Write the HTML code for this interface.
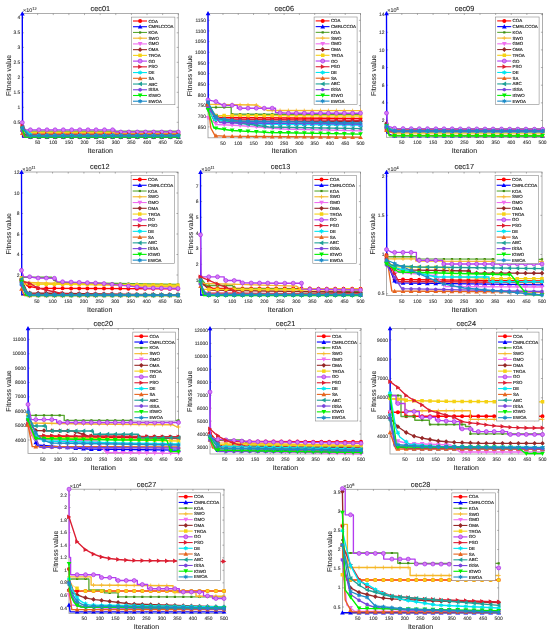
<!DOCTYPE html>
<html><head><meta charset="utf-8"><style>
html,body{margin:0;padding:0;background:#fff;}
svg{display:block;}
text{text-rendering:geometricPrecision;font-family:"Liberation Sans",Arial,sans-serif;fill:#333;}
.tk{font-size:4.9px;fill:#333;stroke:#333;stroke-width:0.1px;}
.sup{font-size:3.9px;}
.ti{font-size:7.3px;fill:#222;stroke:#222;stroke-width:0.1px;}
.lb{font-size:7px;fill:#2a2a2a;stroke:#2a2a2a;stroke-width:0.08px;}
.ex{font-size:5.4px;}
.lg{font-size:4.4px;fill:#1a1a1a;stroke:#1a1a1a;stroke-width:0.15px;}
</style></head><body>
<svg width="550" height="634" viewBox="0 0 550 634">
<rect width="550" height="634" fill="#fff"/>
<rect x="22.3" y="13.5" width="156.0" height="123.69999999999999" fill="none" stroke="#9a9a9a" stroke-width="0.8"/>
<path d="M37.62 137.2v-1.6M37.62 13.5v1.6" stroke="#666" stroke-width="0.5"/>
<text x="37.62" y="144.25" class="tk" text-anchor="middle">50</text>
<path d="M53.25 137.2v-1.6M53.25 13.5v1.6" stroke="#666" stroke-width="0.5"/>
<text x="53.25" y="144.25" class="tk" text-anchor="middle">100</text>
<path d="M68.88 137.2v-1.6M68.88 13.5v1.6" stroke="#666" stroke-width="0.5"/>
<text x="68.88" y="144.25" class="tk" text-anchor="middle">150</text>
<path d="M84.51 137.2v-1.6M84.51 13.5v1.6" stroke="#666" stroke-width="0.5"/>
<text x="84.51" y="144.25" class="tk" text-anchor="middle">200</text>
<path d="M100.14 137.2v-1.6M100.14 13.5v1.6" stroke="#666" stroke-width="0.5"/>
<text x="100.14" y="144.25" class="tk" text-anchor="middle">250</text>
<path d="M115.77 137.2v-1.6M115.77 13.5v1.6" stroke="#666" stroke-width="0.5"/>
<text x="115.77" y="144.25" class="tk" text-anchor="middle">300</text>
<path d="M131.41 137.2v-1.6M131.41 13.5v1.6" stroke="#666" stroke-width="0.5"/>
<text x="131.41" y="144.25" class="tk" text-anchor="middle">350</text>
<path d="M147.04 137.2v-1.6M147.04 13.5v1.6" stroke="#666" stroke-width="0.5"/>
<text x="147.04" y="144.25" class="tk" text-anchor="middle">400</text>
<path d="M162.67 137.2v-1.6M162.67 13.5v1.6" stroke="#666" stroke-width="0.5"/>
<text x="162.67" y="144.25" class="tk" text-anchor="middle">450</text>
<path d="M178.30 137.2v-1.6M178.30 13.5v1.6" stroke="#666" stroke-width="0.5"/>
<text x="178.30" y="144.25" class="tk" text-anchor="middle">500</text>
<path d="M22.3 122.30h1.6M178.3 122.30h-1.6" stroke="#666" stroke-width="0.5"/>
<text x="20.30" y="123.90" class="tk" text-anchor="end">0.5</text>
<path d="M22.3 107.30h1.6M178.3 107.30h-1.6" stroke="#666" stroke-width="0.5"/>
<text x="20.30" y="108.90" class="tk" text-anchor="end">1</text>
<path d="M22.3 92.30h1.6M178.3 92.30h-1.6" stroke="#666" stroke-width="0.5"/>
<text x="20.30" y="93.90" class="tk" text-anchor="end">1.5</text>
<path d="M22.3 77.30h1.6M178.3 77.30h-1.6" stroke="#666" stroke-width="0.5"/>
<text x="20.30" y="78.90" class="tk" text-anchor="end">2</text>
<path d="M22.3 62.30h1.6M178.3 62.30h-1.6" stroke="#666" stroke-width="0.5"/>
<text x="20.30" y="63.90" class="tk" text-anchor="end">2.5</text>
<path d="M22.3 47.40h1.6M178.3 47.40h-1.6" stroke="#666" stroke-width="0.5"/>
<text x="20.30" y="49.00" class="tk" text-anchor="end">3</text>
<path d="M22.3 32.80h1.6M178.3 32.80h-1.6" stroke="#666" stroke-width="0.5"/>
<text x="20.30" y="34.40" class="tk" text-anchor="end">3.5</text>
<path d="M22.3 17.80h1.6M178.3 17.80h-1.6" stroke="#666" stroke-width="0.5"/>
<text x="20.30" y="19.40" class="tk" text-anchor="end">4</text>
<text x="23.10" y="12.10" class="tk ex">×10<tspan class="sup" dy="-1.8">12</tspan></text>
<clipPath id="ccec01"><rect x="17.3" y="8.5" width="166.0" height="133.7"/></clipPath>
<g clip-path="url(#ccec01)">
<path d="M22.3 127.0L26.7 134.0L178.3 134.2" fill="none" stroke="#ff0000" stroke-width="1.35" stroke-linejoin="round"/>
<path d="M20.3 127.0a2.00 2.00 0 1 0 4.0 0a2.00 2.00 0 1 0 -4.0 0M28.4 134.0a2.00 2.00 0 1 0 4.0 0a2.00 2.00 0 1 0 -4.0 0M36.9 134.0a2.00 2.00 0 1 0 4.0 0a2.00 2.00 0 1 0 -4.0 0M45.0 134.0a2.00 2.00 0 1 0 4.0 0a2.00 2.00 0 1 0 -4.0 0M53.1 134.0a2.00 2.00 0 1 0 4.0 0a2.00 2.00 0 1 0 -4.0 0M61.3 134.0a2.00 2.00 0 1 0 4.0 0a2.00 2.00 0 1 0 -4.0 0M69.7 134.1a2.00 2.00 0 1 0 4.0 0a2.00 2.00 0 1 0 -4.0 0M77.8 134.1a2.00 2.00 0 1 0 4.0 0a2.00 2.00 0 1 0 -4.0 0M86.0 134.1a2.00 2.00 0 1 0 4.0 0a2.00 2.00 0 1 0 -4.0 0M94.1 134.1a2.00 2.00 0 1 0 4.0 0a2.00 2.00 0 1 0 -4.0 0M102.5 134.1a2.00 2.00 0 1 0 4.0 0a2.00 2.00 0 1 0 -4.0 0M110.6 134.1a2.00 2.00 0 1 0 4.0 0a2.00 2.00 0 1 0 -4.0 0M118.8 134.1a2.00 2.00 0 1 0 4.0 0a2.00 2.00 0 1 0 -4.0 0M126.9 134.1a2.00 2.00 0 1 0 4.0 0a2.00 2.00 0 1 0 -4.0 0M135.3 134.1a2.00 2.00 0 1 0 4.0 0a2.00 2.00 0 1 0 -4.0 0M143.5 134.2a2.00 2.00 0 1 0 4.0 0a2.00 2.00 0 1 0 -4.0 0M151.6 134.2a2.00 2.00 0 1 0 4.0 0a2.00 2.00 0 1 0 -4.0 0M159.7 134.2a2.00 2.00 0 1 0 4.0 0a2.00 2.00 0 1 0 -4.0 0M168.2 134.2a2.00 2.00 0 1 0 4.0 0a2.00 2.00 0 1 0 -4.0 0M176.3 134.2a2.00 2.00 0 1 0 4.0 0a2.00 2.00 0 1 0 -4.0 0" fill="#ff0000"/>
<path d="M22.3 13.5L22.6 137.0L178.3 137.0" fill="none" stroke="#0000ff" stroke-width="1.35" stroke-linejoin="round"/>
<path d="M22.3 11.2l2.4 4.2h-4.7zM30.4 134.7l2.4 4.2h-4.7zM38.9 134.7l2.4 4.2h-4.7zM47.0 134.7l2.4 4.2h-4.7zM55.1 134.7l2.4 4.2h-4.7zM63.3 134.7l2.4 4.2h-4.7zM71.7 134.7l2.4 4.2h-4.7zM79.8 134.7l2.4 4.2h-4.7zM88.0 134.7l2.4 4.2h-4.7zM96.1 134.7l2.4 4.2h-4.7zM104.5 134.7l2.4 4.2h-4.7zM112.6 134.7l2.4 4.2h-4.7zM120.8 134.7l2.4 4.2h-4.7zM128.9 134.7l2.4 4.2h-4.7zM137.3 134.7l2.4 4.2h-4.7zM145.5 134.7l2.4 4.2h-4.7zM153.6 134.7l2.4 4.2h-4.7zM161.7 134.7l2.4 4.2h-4.7zM170.2 134.7l2.4 4.2h-4.7zM178.3 134.7l2.4 4.2h-4.7z" fill="#0000ff"/>
<path d="M22.3 128.0L25.1 131.0L178.3 131.2" fill="none" stroke="#5aa832" stroke-width="1.35" stroke-linejoin="round"/>
<path d="M21.2 126.9h2.2v2.2h-2.2zM29.3 129.9h2.2v2.2h-2.2zM37.8 129.9h2.2v2.2h-2.2zM45.9 129.9h2.2v2.2h-2.2zM54.0 130.0h2.2v2.2h-2.2zM62.2 130.0h2.2v2.2h-2.2zM70.6 130.0h2.2v2.2h-2.2zM78.7 130.0h2.2v2.2h-2.2zM86.9 130.0h2.2v2.2h-2.2zM95.0 130.0h2.2v2.2h-2.2zM103.4 130.0h2.2v2.2h-2.2zM111.6 130.0h2.2v2.2h-2.2zM119.7 130.0h2.2v2.2h-2.2zM127.8 130.1h2.2v2.2h-2.2zM136.3 130.1h2.2v2.2h-2.2zM144.4 130.1h2.2v2.2h-2.2zM152.5 130.1h2.2v2.2h-2.2zM160.6 130.1h2.2v2.2h-2.2zM169.1 130.1h2.2v2.2h-2.2zM177.2 130.1h2.2v2.2h-2.2z" fill="#3f8c14"/>
<path d="M22.3 129.0L25.1 133.4L178.3 133.6" fill="none" stroke="#f5b82a" stroke-width="1.35" stroke-linejoin="round"/>
<path d="M20.3 129.0h4.0M22.3 127.0v4.0M28.4 133.4h4.0M30.4 131.4v4.0M36.9 133.4h4.0M38.9 131.4v4.0M45.0 133.4h4.0M47.0 131.4v4.0M53.1 133.4h4.0M55.1 131.4v4.0M61.3 133.4h4.0M63.3 131.4v4.0M69.7 133.5h4.0M71.7 131.5v4.0M77.8 133.5h4.0M79.8 131.5v4.0M86.0 133.5h4.0M88.0 131.5v4.0M94.1 133.5h4.0M96.1 131.5v4.0M102.5 133.5h4.0M104.5 131.5v4.0M110.6 133.5h4.0M112.6 131.5v4.0M118.8 133.5h4.0M120.8 131.5v4.0M126.9 133.5h4.0M128.9 131.5v4.0M135.3 133.5h4.0M137.3 131.5v4.0M143.5 133.6h4.0M145.5 131.6v4.0M151.6 133.6h4.0M153.6 131.6v4.0M159.7 133.6h4.0M161.7 131.6v4.0M168.2 133.6h4.0M170.2 131.6v4.0M176.3 133.6h4.0M178.3 131.6v4.0" stroke="#f5b82a" stroke-width="0.8" fill="none"/>
<path d="M22.3 130.0L25.7 135.2L178.3 135.2" fill="none" stroke="#f06ef0" stroke-width="1.35" stroke-linejoin="round"/>
<path d="M22.3 132.3l2.4 -4.2h-4.7zM30.4 137.5l2.4 -4.2h-4.7zM38.9 137.5l2.4 -4.2h-4.7zM47.0 137.5l2.4 -4.2h-4.7zM55.1 137.5l2.4 -4.2h-4.7zM63.3 137.5l2.4 -4.2h-4.7zM71.7 137.5l2.4 -4.2h-4.7zM79.8 137.5l2.4 -4.2h-4.7zM88.0 137.5l2.4 -4.2h-4.7zM96.1 137.5l2.4 -4.2h-4.7zM104.5 137.5l2.4 -4.2h-4.7zM112.6 137.5l2.4 -4.2h-4.7zM120.8 137.5l2.4 -4.2h-4.7zM128.9 137.5l2.4 -4.2h-4.7zM137.3 137.5l2.4 -4.2h-4.7zM145.5 137.5l2.4 -4.2h-4.7zM153.6 137.5l2.4 -4.2h-4.7zM161.7 137.5l2.4 -4.2h-4.7zM170.2 137.5l2.4 -4.2h-4.7zM178.3 137.5l2.4 -4.2h-4.7z" fill="#f06ef0"/>
<path d="M22.3 131.0L25.1 135.0L178.3 135.0" fill="none" stroke="#962828" stroke-width="1.35" stroke-linejoin="round"/>
<path d="M22.3 128.6l2.3 2.4l-2.3 2.4l-2.3 -2.4zM30.4 132.6l2.3 2.4l-2.3 2.4l-2.3 -2.4zM38.9 132.6l2.3 2.4l-2.3 2.4l-2.3 -2.4zM47.0 132.6l2.3 2.4l-2.3 2.4l-2.3 -2.4zM55.1 132.6l2.3 2.4l-2.3 2.4l-2.3 -2.4zM63.3 132.6l2.3 2.4l-2.3 2.4l-2.3 -2.4zM71.7 132.6l2.3 2.4l-2.3 2.4l-2.3 -2.4zM79.8 132.6l2.3 2.4l-2.3 2.4l-2.3 -2.4zM88.0 132.6l2.3 2.4l-2.3 2.4l-2.3 -2.4zM96.1 132.6l2.3 2.4l-2.3 2.4l-2.3 -2.4zM104.5 132.6l2.3 2.4l-2.3 2.4l-2.3 -2.4zM112.6 132.6l2.3 2.4l-2.3 2.4l-2.3 -2.4zM120.8 132.6l2.3 2.4l-2.3 2.4l-2.3 -2.4zM128.9 132.6l2.3 2.4l-2.3 2.4l-2.3 -2.4zM137.3 132.6l2.3 2.4l-2.3 2.4l-2.3 -2.4zM145.5 132.6l2.3 2.4l-2.3 2.4l-2.3 -2.4zM153.6 132.6l2.3 2.4l-2.3 2.4l-2.3 -2.4zM161.7 132.6l2.3 2.4l-2.3 2.4l-2.3 -2.4zM170.2 132.6l2.3 2.4l-2.3 2.4l-2.3 -2.4zM178.3 132.6l2.3 2.4l-2.3 2.4l-2.3 -2.4z" fill="#962828"/>
<path d="M22.3 128.5L24.5 132.3L115.8 132.3L118.9 133.4L178.3 133.4" fill="none" stroke="#f5d214" stroke-width="1.35" stroke-linejoin="round"/>
<path d="M20.6 126.8h3.5v3.5h-3.5zM28.7 130.6h3.5v3.5h-3.5zM37.1 130.6h3.5v3.5h-3.5zM45.2 130.6h3.5v3.5h-3.5zM53.4 130.6h3.5v3.5h-3.5zM61.5 130.6h3.5v3.5h-3.5zM69.9 130.6h3.5v3.5h-3.5zM78.1 130.6h3.5v3.5h-3.5zM86.2 130.6h3.5v3.5h-3.5zM94.3 130.6h3.5v3.5h-3.5zM102.8 130.6h3.5v3.5h-3.5zM110.9 130.6h3.5v3.5h-3.5zM119.0 131.7h3.5v3.5h-3.5zM127.2 131.7h3.5v3.5h-3.5zM135.6 131.7h3.5v3.5h-3.5zM143.7 131.7h3.5v3.5h-3.5zM151.9 131.7h3.5v3.5h-3.5zM160.0 131.7h3.5v3.5h-3.5zM168.4 131.7h3.5v3.5h-3.5zM176.6 131.7h3.5v3.5h-3.5z" fill="#f5d214"/>
<path d="M22.3 122.5L25.1 129.8L115.1 129.8L115.1 132.0L178.3 132.0" fill="none" stroke="#b43cf0" stroke-width="1.35" stroke-linejoin="round"/>
<path d="M20.3 122.5a2.00 2.00 0 1 0 4.0 0a2.00 2.00 0 1 0 -4.0 0M28.4 129.8a2.00 2.00 0 1 0 4.0 0a2.00 2.00 0 1 0 -4.0 0M36.9 129.8a2.00 2.00 0 1 0 4.0 0a2.00 2.00 0 1 0 -4.0 0M45.0 129.8a2.00 2.00 0 1 0 4.0 0a2.00 2.00 0 1 0 -4.0 0M53.1 129.8a2.00 2.00 0 1 0 4.0 0a2.00 2.00 0 1 0 -4.0 0M61.3 129.8a2.00 2.00 0 1 0 4.0 0a2.00 2.00 0 1 0 -4.0 0M69.7 129.8a2.00 2.00 0 1 0 4.0 0a2.00 2.00 0 1 0 -4.0 0M77.8 129.8a2.00 2.00 0 1 0 4.0 0a2.00 2.00 0 1 0 -4.0 0M86.0 129.8a2.00 2.00 0 1 0 4.0 0a2.00 2.00 0 1 0 -4.0 0M94.1 129.8a2.00 2.00 0 1 0 4.0 0a2.00 2.00 0 1 0 -4.0 0M102.5 129.8a2.00 2.00 0 1 0 4.0 0a2.00 2.00 0 1 0 -4.0 0M110.6 129.8a2.00 2.00 0 1 0 4.0 0a2.00 2.00 0 1 0 -4.0 0M118.8 132.0a2.00 2.00 0 1 0 4.0 0a2.00 2.00 0 1 0 -4.0 0M126.9 132.0a2.00 2.00 0 1 0 4.0 0a2.00 2.00 0 1 0 -4.0 0M135.3 132.0a2.00 2.00 0 1 0 4.0 0a2.00 2.00 0 1 0 -4.0 0M143.5 132.0a2.00 2.00 0 1 0 4.0 0a2.00 2.00 0 1 0 -4.0 0M151.6 132.0a2.00 2.00 0 1 0 4.0 0a2.00 2.00 0 1 0 -4.0 0M159.7 132.0a2.00 2.00 0 1 0 4.0 0a2.00 2.00 0 1 0 -4.0 0M168.2 132.0a2.00 2.00 0 1 0 4.0 0a2.00 2.00 0 1 0 -4.0 0M176.3 132.0a2.00 2.00 0 1 0 4.0 0a2.00 2.00 0 1 0 -4.0 0" fill="#d77cf5" stroke="#a832e6" stroke-width="0.7"/>
<path d="M22.3 126.0L28.2 134.5L178.3 134.5" fill="none" stroke="#dc1e32" stroke-width="1.35" stroke-linejoin="round"/>
<path d="M24.7 126.0l-4.2 -2.4v4.7zM32.8 134.5l-4.2 -2.4v4.7zM41.2 134.5l-4.2 -2.4v4.7zM49.3 134.5l-4.2 -2.4v4.7zM57.5 134.5l-4.2 -2.4v4.7zM65.6 134.5l-4.2 -2.4v4.7zM74.0 134.5l-4.2 -2.4v4.7zM82.2 134.5l-4.2 -2.4v4.7zM90.3 134.5l-4.2 -2.4v4.7zM98.4 134.5l-4.2 -2.4v4.7zM106.9 134.5l-4.2 -2.4v4.7zM115.0 134.5l-4.2 -2.4v4.7zM123.1 134.5l-4.2 -2.4v4.7zM131.3 134.5l-4.2 -2.4v4.7zM139.7 134.5l-4.2 -2.4v4.7zM147.8 134.5l-4.2 -2.4v4.7zM156.0 134.5l-4.2 -2.4v4.7zM164.1 134.5l-4.2 -2.4v4.7zM172.5 134.5l-4.2 -2.4v4.7zM180.7 134.5l-4.2 -2.4v4.7z" fill="#dc1e32"/>
<path d="M22.3 128.0L31.4 135.3L178.3 135.4" fill="none" stroke="#00e6f0" stroke-width="1.35" stroke-linejoin="round"/>
<path d="M22.3 125.5l0.7 1.3l1.5 -0.1l-0.8 1.3l0.8 1.3l-1.5 -0.1l-0.7 1.4l-0.7 -1.4l-1.5 0.1l0.8 -1.3l-0.8 -1.3l1.5 0.1zM30.4 132.0l0.7 1.3l1.5 0.0l-0.8 1.2l0.8 1.3l-1.5 0.0l-0.7 1.3l-0.7 -1.3l-1.5 0.0l0.8 -1.3l-0.8 -1.2l1.5 0.0zM38.9 132.8l0.7 1.3l1.5 -0.1l-0.8 1.3l0.8 1.3l-1.5 -0.1l-0.7 1.4l-0.7 -1.4l-1.5 0.1l0.8 -1.3l-0.8 -1.3l1.5 0.1zM47 132.8l0.7 1.3l1.5 -0.1l-0.8 1.3l0.8 1.3l-1.5 -0.1l-0.7 1.4l-0.7 -1.4l-1.5 0.1l0.8 -1.3l-0.8 -1.3l1.5 0.1zM55.1 132.8l0.7 1.3l1.5 -0.1l-0.8 1.3l0.8 1.3l-1.5 -0.1l-0.7 1.4l-0.7 -1.4l-1.5 0.1l0.8 -1.3l-0.8 -1.3l1.5 0.1zM63.3 132.8l0.7 1.3l1.5 -0.1l-0.8 1.3l0.8 1.3l-1.5 -0.1l-0.7 1.4l-0.7 -1.4l-1.6 0.1l0.9 -1.3l-0.9 -1.3l1.6 0.1zM71.7 132.8l0.7 1.3l1.5 0.0l-0.8 1.2l0.8 1.3l-1.5 -0.1l-0.7 1.4l-0.7 -1.4l-1.5 0.1l0.8 -1.3l-0.8 -1.2l1.5 0.0zM79.8 132.8l0.7 1.3l1.5 0.0l-0.8 1.2l0.8 1.3l-1.5 -0.1l-0.7 1.4l-0.7 -1.4l-1.5 0.1l0.8 -1.3l-0.8 -1.2l1.5 0.0zM88 132.8l0.7 1.3l1.5 0.0l-0.8 1.2l0.8 1.3l-1.5 0.0l-0.7 1.3l-0.7 -1.3l-1.6 0.0l0.9 -1.3l-0.9 -1.2l1.6 0.0zM96.1 132.8l0.7 1.3l1.5 0.0l-0.8 1.2l0.8 1.3l-1.5 0.0l-0.7 1.3l-0.7 -1.3l-1.5 0.0l0.8 -1.3l-0.8 -1.2l1.5 0.0zM104.5 132.8l0.7 1.3l1.5 0.0l-0.8 1.2l0.8 1.3l-1.5 0.0l-0.7 1.3l-0.7 -1.3l-1.5 0.0l0.8 -1.3l-0.8 -1.2l1.5 0.0zM112.6 132.8l0.7 1.3l1.6 0.0l-0.9 1.3l0.9 1.2l-1.6 0.0l-0.7 1.3l-0.7 -1.3l-1.5 0.0l0.8 -1.2l-0.8 -1.3l1.5 0.0zM120.8 132.8l0.7 1.3l1.5 0.0l-0.8 1.3l0.8 1.2l-1.5 0.0l-0.7 1.3l-0.7 -1.3l-1.5 0.0l0.8 -1.2l-0.8 -1.3l1.5 0.0zM128.9 132.8l0.7 1.4l1.5 -0.1l-0.8 1.3l0.8 1.2l-1.5 0.0l-0.7 1.3l-0.7 -1.3l-1.5 0.0l0.8 -1.2l-0.8 -1.3l1.5 0.1zM137.3 132.8l0.7 1.4l1.6 -0.1l-0.9 1.3l0.9 1.2l-1.6 0.0l-0.7 1.3l-0.7 -1.3l-1.5 0.0l0.8 -1.2l-0.8 -1.3l1.5 0.1zM145.5 132.8l0.7 1.4l1.5 -0.1l-0.8 1.3l0.8 1.3l-1.5 -0.1l-0.7 1.3l-0.7 -1.3l-1.5 0.1l0.8 -1.3l-0.8 -1.3l1.5 0.1zM153.6 132.8l0.7 1.4l1.5 -0.1l-0.8 1.3l0.8 1.3l-1.5 -0.1l-0.7 1.3l-0.7 -1.3l-1.5 0.1l0.8 -1.3l-0.8 -1.3l1.5 0.1zM161.7 132.8l0.7 1.4l1.5 -0.1l-0.8 1.3l0.8 1.3l-1.5 -0.1l-0.7 1.3l-0.7 -1.3l-1.5 0.1l0.8 -1.3l-0.8 -1.3l1.5 0.1zM170.2 132.8l0.7 1.4l1.5 -0.1l-0.8 1.3l0.8 1.3l-1.5 -0.1l-0.7 1.3l-0.7 -1.3l-1.5 0.1l0.8 -1.3l-0.8 -1.3l1.5 0.1zM178.3 132.8l0.7 1.4l1.5 -0.1l-0.8 1.3l0.8 1.3l-1.5 -0.1l-0.7 1.4l-0.7 -1.4l-1.5 0.1l0.8 -1.3l-0.8 -1.3l1.5 0.1z" fill="#00e6f0"/>
<path d="M22.3 133.0L23.6 136.5L178.3 136.5" fill="none" stroke="#e6641e" stroke-width="1.35" stroke-linejoin="round"/>
<path d="M22.3 130.7l2.4 4.2h-4.7zM30.4 134.2l2.4 4.2h-4.7zM38.9 134.2l2.4 4.2h-4.7zM47.0 134.2l2.4 4.2h-4.7zM55.1 134.2l2.4 4.2h-4.7zM63.3 134.2l2.4 4.2h-4.7zM71.7 134.2l2.4 4.2h-4.7zM79.8 134.2l2.4 4.2h-4.7zM88.0 134.2l2.4 4.2h-4.7zM96.1 134.2l2.4 4.2h-4.7zM104.5 134.2l2.4 4.2h-4.7zM112.6 134.2l2.4 4.2h-4.7zM120.8 134.2l2.4 4.2h-4.7zM128.9 134.2l2.4 4.2h-4.7zM137.3 134.2l2.4 4.2h-4.7zM145.5 134.2l2.4 4.2h-4.7zM153.6 134.2l2.4 4.2h-4.7zM161.7 134.2l2.4 4.2h-4.7zM170.2 134.2l2.4 4.2h-4.7zM178.3 134.2l2.4 4.2h-4.7z" fill="#e6641e"/>
<path d="M22.3 127.5L28.2 136.2L178.3 136.3" fill="none" stroke="#1ea096" stroke-width="1.35" stroke-linejoin="round"/>
<path d="M19.9 127.5l4.2 -2.4v4.7zM28.1 136.2l4.2 -2.4v4.7zM36.5 136.2l4.2 -2.4v4.7zM44.6 136.2l4.2 -2.4v4.7zM52.8 136.2l4.2 -2.4v4.7zM60.9 136.2l4.2 -2.4v4.7zM69.3 136.2l4.2 -2.4v4.7zM77.5 136.2l4.2 -2.4v4.7zM85.6 136.2l4.2 -2.4v4.7zM93.7 136.2l4.2 -2.4v4.7zM102.2 136.3l4.2 -2.4v4.7zM110.3 136.3l4.2 -2.4v4.7zM118.4 136.3l4.2 -2.4v4.7zM126.6 136.3l4.2 -2.4v4.7zM135.0 136.3l4.2 -2.4v4.7zM143.1 136.3l4.2 -2.4v4.7zM151.3 136.3l4.2 -2.4v4.7zM159.4 136.3l4.2 -2.4v4.7zM167.8 136.3l4.2 -2.4v4.7zM176.0 136.3l4.2 -2.4v4.7z" fill="#1ea096"/>
<path d="M22.3 130.5L25.1 136.4L178.3 136.4" fill="none" stroke="#7846dc" stroke-width="1.35" stroke-linejoin="round"/>
<path d="M22.3 128.6l1.7 0.9l0 2.0l-1.7 0.9l-1.7 -0.9l0 -2.0zM30.4 134.5l1.7 0.9l0 2.0l-1.7 0.9l-1.7 -0.9l0 -2.0zM38.9 134.5l1.7 0.9l0 2.0l-1.7 0.9l-1.7 -0.9l0 -2.0zM47 134.5l1.7 0.9l0 2.0l-1.7 0.9l-1.7 -0.9l0 -2.0zM55.1 134.5l1.7 0.9l0 2.0l-1.7 0.9l-1.7 -0.9l0 -2.0zM63.3 134.5l1.6 0.9l0 2.0l-1.6 0.9l-1.7 -0.9l0 -2.0zM71.7 134.5l1.7 0.9l0 2.0l-1.7 0.9l-1.7 -0.9l0 -2.0zM79.8 134.5l1.7 0.9l0 2.0l-1.7 0.9l-1.7 -0.9l0 -2.0zM88 134.5l1.6 0.9l0 2.0l-1.6 0.9l-1.7 -0.9l0 -2.0zM96.1 134.5l1.7 0.9l0 2.0l-1.7 0.9l-1.7 -0.9l0 -2.0zM104.5 134.5l1.7 0.9l0 2.0l-1.7 0.9l-1.7 -0.9l0 -2.0zM112.6 134.5l1.7 0.9l0 2.0l-1.7 0.9l-1.6 -0.9l0 -2.0zM120.8 134.5l1.7 0.9l0 2.0l-1.7 0.9l-1.7 -0.9l0 -2.0zM128.9 134.5l1.7 0.9l0 2.0l-1.7 0.9l-1.7 -0.9l0 -2.0zM137.3 134.5l1.7 0.9l0 2.0l-1.7 0.9l-1.6 -0.9l0 -2.0zM145.5 134.5l1.7 0.9l0 2.0l-1.7 0.9l-1.7 -0.9l0 -2.0zM153.6 134.5l1.7 0.9l0 2.0l-1.7 0.9l-1.7 -0.9l0 -2.0zM161.7 134.5l1.7 0.9l0 2.0l-1.7 0.9l-1.7 -0.9l0 -2.0zM170.2 134.5l1.7 0.9l0 2.0l-1.7 0.9l-1.7 -0.9l0 -2.0zM178.3 134.5l1.7 0.9l0 2.0l-1.7 0.9l-1.7 -0.9l0 -2.0z" fill="#7846dc"/>
<path d="M22.3 129.0L25.1 137.1L178.3 137.1" fill="none" stroke="#00f000" stroke-width="1.35" stroke-linejoin="round"/>
<path d="M22.3 131.3l2.4 -4.2h-4.7zM30.4 139.4l2.4 -4.2h-4.7zM38.9 139.4l2.4 -4.2h-4.7zM47.0 139.4l2.4 -4.2h-4.7zM55.1 139.4l2.4 -4.2h-4.7zM63.3 139.4l2.4 -4.2h-4.7zM71.7 139.4l2.4 -4.2h-4.7zM79.8 139.4l2.4 -4.2h-4.7zM88.0 139.4l2.4 -4.2h-4.7zM96.1 139.4l2.4 -4.2h-4.7zM104.5 139.4l2.4 -4.2h-4.7zM112.6 139.4l2.4 -4.2h-4.7zM120.8 139.4l2.4 -4.2h-4.7zM128.9 139.4l2.4 -4.2h-4.7zM137.3 139.4l2.4 -4.2h-4.7zM145.5 139.4l2.4 -4.2h-4.7zM153.6 139.4l2.4 -4.2h-4.7zM161.7 139.4l2.4 -4.2h-4.7zM170.2 139.4l2.4 -4.2h-4.7zM178.3 139.4l2.4 -4.2h-4.7z" fill="#00f000"/>
<path d="M22.3 128.0L29.8 135.9L178.3 135.9" fill="none" stroke="#1e8cc8" stroke-width="1.35" stroke-linejoin="round"/>
<path d="M22.3 125.5l0.7 1.3l1.5 -0.1l-0.8 1.3l0.8 1.3l-1.5 -0.1l-0.7 1.4l-0.7 -1.4l-1.5 0.1l0.8 -1.3l-0.8 -1.3l1.5 0.1zM30.4 133.3l0.7 1.4l1.5 -0.1l-0.8 1.3l0.8 1.3l-1.5 -0.1l-0.7 1.4l-0.7 -1.4l-1.5 0.1l0.8 -1.3l-0.8 -1.3l1.5 0.1zM38.9 133.3l0.7 1.4l1.5 -0.1l-0.8 1.3l0.8 1.3l-1.5 -0.1l-0.7 1.4l-0.7 -1.4l-1.5 0.1l0.8 -1.3l-0.8 -1.3l1.5 0.1zM47 133.3l0.7 1.4l1.5 -0.1l-0.8 1.3l0.8 1.3l-1.5 -0.1l-0.7 1.4l-0.7 -1.4l-1.5 0.1l0.8 -1.3l-0.8 -1.3l1.5 0.1zM55.1 133.3l0.7 1.4l1.5 -0.1l-0.8 1.3l0.8 1.3l-1.5 -0.1l-0.7 1.4l-0.7 -1.4l-1.5 0.1l0.8 -1.3l-0.8 -1.3l1.5 0.1zM63.3 133.3l0.7 1.4l1.5 -0.1l-0.8 1.3l0.8 1.3l-1.5 -0.1l-0.7 1.4l-0.7 -1.4l-1.6 0.1l0.9 -1.3l-0.9 -1.3l1.6 0.1zM71.7 133.3l0.7 1.4l1.5 -0.1l-0.8 1.3l0.8 1.3l-1.5 -0.1l-0.7 1.4l-0.7 -1.4l-1.5 0.1l0.8 -1.3l-0.8 -1.3l1.5 0.1zM79.8 133.3l0.7 1.4l1.5 -0.1l-0.8 1.3l0.8 1.3l-1.5 -0.1l-0.7 1.4l-0.7 -1.4l-1.5 0.1l0.8 -1.3l-0.8 -1.3l1.5 0.1zM88 133.3l0.7 1.4l1.5 -0.1l-0.8 1.3l0.8 1.3l-1.5 -0.1l-0.7 1.4l-0.7 -1.4l-1.6 0.1l0.9 -1.3l-0.9 -1.3l1.6 0.1zM96.1 133.3l0.7 1.4l1.5 -0.1l-0.8 1.3l0.8 1.3l-1.5 -0.1l-0.7 1.4l-0.7 -1.4l-1.5 0.1l0.8 -1.3l-0.8 -1.3l1.5 0.1zM104.5 133.3l0.7 1.4l1.5 -0.1l-0.8 1.3l0.8 1.3l-1.5 -0.1l-0.7 1.4l-0.7 -1.4l-1.5 0.1l0.8 -1.3l-0.8 -1.3l1.5 0.1zM112.6 133.3l0.7 1.4l1.6 -0.1l-0.9 1.3l0.9 1.3l-1.6 -0.1l-0.7 1.4l-0.7 -1.4l-1.5 0.1l0.8 -1.3l-0.8 -1.3l1.5 0.1zM120.8 133.3l0.7 1.4l1.5 -0.1l-0.8 1.3l0.8 1.3l-1.5 -0.1l-0.7 1.4l-0.7 -1.4l-1.5 0.1l0.8 -1.3l-0.8 -1.3l1.5 0.1zM128.9 133.3l0.7 1.4l1.5 -0.1l-0.8 1.3l0.8 1.3l-1.5 -0.1l-0.7 1.4l-0.7 -1.4l-1.5 0.1l0.8 -1.3l-0.8 -1.3l1.5 0.1zM137.3 133.3l0.7 1.4l1.6 -0.1l-0.9 1.3l0.9 1.3l-1.6 -0.1l-0.7 1.4l-0.7 -1.4l-1.5 0.1l0.8 -1.3l-0.8 -1.3l1.5 0.1zM145.5 133.3l0.7 1.4l1.5 -0.1l-0.8 1.3l0.8 1.3l-1.5 -0.1l-0.7 1.4l-0.7 -1.4l-1.5 0.1l0.8 -1.3l-0.8 -1.3l1.5 0.1zM153.6 133.3l0.7 1.4l1.5 -0.1l-0.8 1.3l0.8 1.3l-1.5 -0.1l-0.7 1.4l-0.7 -1.4l-1.5 0.1l0.8 -1.3l-0.8 -1.3l1.5 0.1zM161.7 133.3l0.7 1.4l1.5 -0.1l-0.8 1.3l0.8 1.3l-1.5 -0.1l-0.7 1.4l-0.7 -1.4l-1.5 0.1l0.8 -1.3l-0.8 -1.3l1.5 0.1zM170.2 133.3l0.7 1.4l1.5 -0.1l-0.8 1.3l0.8 1.3l-1.5 -0.1l-0.7 1.4l-0.7 -1.4l-1.5 0.1l0.8 -1.3l-0.8 -1.3l1.5 0.1zM178.3 133.3l0.7 1.4l1.5 -0.1l-0.8 1.3l0.8 1.3l-1.5 -0.1l-0.7 1.4l-0.7 -1.4l-1.5 0.1l0.8 -1.3l-0.8 -1.3l1.5 0.1z" fill="#1e8cc8"/>
</g>
<text x="100.30" y="10.90" class="ti" text-anchor="middle">cec01</text>
<text x="100.30" y="152.70" class="lb" text-anchor="middle">Iteration</text>
<text transform="translate(11.00 75.35) rotate(-90)" class="lb" text-anchor="middle">Fitness value</text>
<rect x="131.40" y="17.10" width="43.5" height="87.6" fill="#fff" stroke="#8a8a8a" stroke-width="0.6"/>
<path d="M133.00 21.00H147.00" stroke="#ff0000" stroke-width="1.1"/>
<path d="M138.1 21.0a2.00 2.00 0 1 0 4.0 0a2.00 2.00 0 1 0 -4.0 0" fill="#ff0000"/>
<text x="148.40" y="22.55" class="lg">COA</text>
<path d="M133.00 26.73H147.00" stroke="#0000ff" stroke-width="1.1"/>
<path d="M140.1 24.4l2.4 4.2h-4.7z" fill="#0000ff"/>
<text x="148.40" y="28.28" class="lg">CMRLCCOA</text>
<path d="M133.00 32.46H147.00" stroke="#5aa832" stroke-width="1.1"/>
<path d="M139.0 31.4h2.2v2.2h-2.2z" fill="#3f8c14"/>
<text x="148.40" y="34.01" class="lg">KOA</text>
<path d="M133.00 38.19H147.00" stroke="#f5b82a" stroke-width="1.1"/>
<path d="M138.1 38.2h4.0M140.1 36.2v4.0" stroke="#f5b82a" stroke-width="0.8" fill="none"/>
<text x="148.40" y="39.74" class="lg">SWO</text>
<path d="M133.00 43.92H147.00" stroke="#f06ef0" stroke-width="1.1"/>
<path d="M140.1 46.3l2.4 -4.2h-4.7z" fill="#f06ef0"/>
<text x="148.40" y="45.47" class="lg">GMO</text>
<path d="M133.00 49.65H147.00" stroke="#962828" stroke-width="1.1"/>
<path d="M140.1 47.3l2.3 2.4l-2.3 2.4l-2.3 -2.4z" fill="#962828"/>
<text x="148.40" y="51.20" class="lg">OMA</text>
<path d="M133.00 55.38H147.00" stroke="#f5d214" stroke-width="1.1"/>
<path d="M138.3 53.6h3.5v3.5h-3.5z" fill="#f5d214"/>
<text x="148.40" y="56.93" class="lg">TROA</text>
<path d="M133.00 61.11H147.00" stroke="#b43cf0" stroke-width="1.1"/>
<path d="M138.1 61.1a2.00 2.00 0 1 0 4.0 0a2.00 2.00 0 1 0 -4.0 0" fill="#d77cf5" stroke="#a832e6" stroke-width="0.7"/>
<text x="148.40" y="62.66" class="lg">GO</text>
<path d="M133.00 66.84H147.00" stroke="#dc1e32" stroke-width="1.1"/>
<path d="M142.4 66.8l-4.2 -2.4v4.7z" fill="#dc1e32"/>
<text x="148.40" y="68.39" class="lg">PSO</text>
<path d="M133.00 72.57H147.00" stroke="#00e6f0" stroke-width="1.1"/>
<path d="M140.1 70.0l0.7 1.4l1.5 -0.1l-0.8 1.3l0.8 1.2l-1.5 0.0l-0.7 1.3l-0.7 -1.3l-1.5 0.0l0.8 -1.2l-0.8 -1.3l1.5 0.1z" fill="#00e6f0"/>
<text x="148.40" y="74.12" class="lg">DE</text>
<path d="M133.00 78.30H147.00" stroke="#e6641e" stroke-width="1.1"/>
<path d="M140.1 76.0l2.4 4.2h-4.7z" fill="#e6641e"/>
<text x="148.40" y="79.85" class="lg">SA</text>
<path d="M133.00 84.03H147.00" stroke="#1ea096" stroke-width="1.1"/>
<path d="M137.8 84.0l4.2 -2.4v4.7z" fill="#1ea096"/>
<text x="148.40" y="85.58" class="lg">ABC</text>
<path d="M133.00 89.76H147.00" stroke="#7846dc" stroke-width="1.1"/>
<path d="M140.1 87.8l1.7 1.0l0 1.9l-1.7 1.0l-1.7 -1.0l0 -1.9z" fill="#7846dc"/>
<text x="148.40" y="91.31" class="lg">ISSA</text>
<path d="M133.00 95.49H147.00" stroke="#00f000" stroke-width="1.1"/>
<path d="M140.1 97.8l2.4 -4.2h-4.7z" fill="#00f000"/>
<text x="148.40" y="97.04" class="lg">IGWO</text>
<path d="M133.00 101.22H147.00" stroke="#1e8cc8" stroke-width="1.1"/>
<path d="M140.1 98.7l0.7 1.3l1.5 -0.1l-0.8 1.3l0.8 1.3l-1.5 -0.1l-0.7 1.4l-0.7 -1.4l-1.5 0.1l0.8 -1.3l-0.8 -1.3l1.5 0.1z" fill="#1e8cc8"/>
<text x="148.40" y="102.77" class="lg">EWOA</text>
<rect x="208" y="13.4" width="152.5" height="124.4" fill="none" stroke="#9a9a9a" stroke-width="0.8"/>
<path d="M222.97 137.8v-1.6M222.97 13.4v1.6" stroke="#666" stroke-width="0.5"/>
<text x="222.97" y="144.85" class="tk" text-anchor="middle">50</text>
<path d="M238.26 137.8v-1.6M238.26 13.4v1.6" stroke="#666" stroke-width="0.5"/>
<text x="238.26" y="144.85" class="tk" text-anchor="middle">100</text>
<path d="M253.54 137.8v-1.6M253.54 13.4v1.6" stroke="#666" stroke-width="0.5"/>
<text x="253.54" y="144.85" class="tk" text-anchor="middle">150</text>
<path d="M268.82 137.8v-1.6M268.82 13.4v1.6" stroke="#666" stroke-width="0.5"/>
<text x="268.82" y="144.85" class="tk" text-anchor="middle">200</text>
<path d="M284.10 137.8v-1.6M284.10 13.4v1.6" stroke="#666" stroke-width="0.5"/>
<text x="284.10" y="144.85" class="tk" text-anchor="middle">250</text>
<path d="M299.38 137.8v-1.6M299.38 13.4v1.6" stroke="#666" stroke-width="0.5"/>
<text x="299.38" y="144.85" class="tk" text-anchor="middle">300</text>
<path d="M314.66 137.8v-1.6M314.66 13.4v1.6" stroke="#666" stroke-width="0.5"/>
<text x="314.66" y="144.85" class="tk" text-anchor="middle">350</text>
<path d="M329.94 137.8v-1.6M329.94 13.4v1.6" stroke="#666" stroke-width="0.5"/>
<text x="329.94" y="144.85" class="tk" text-anchor="middle">400</text>
<path d="M345.22 137.8v-1.6M345.22 13.4v1.6" stroke="#666" stroke-width="0.5"/>
<text x="345.22" y="144.85" class="tk" text-anchor="middle">450</text>
<path d="M360.50 137.8v-1.6M360.50 13.4v1.6" stroke="#666" stroke-width="0.5"/>
<text x="360.50" y="144.85" class="tk" text-anchor="middle">500</text>
<path d="M208 20.30h1.6M360.5 20.30h-1.6" stroke="#666" stroke-width="0.5"/>
<text x="206.00" y="21.90" class="tk" text-anchor="end">1150</text>
<path d="M208 30.96h1.6M360.5 30.96h-1.6" stroke="#666" stroke-width="0.5"/>
<text x="206.00" y="32.56" class="tk" text-anchor="end">1100</text>
<path d="M208 41.62h1.6M360.5 41.62h-1.6" stroke="#666" stroke-width="0.5"/>
<text x="206.00" y="43.22" class="tk" text-anchor="end">1050</text>
<path d="M208 52.28h1.6M360.5 52.28h-1.6" stroke="#666" stroke-width="0.5"/>
<text x="206.00" y="53.88" class="tk" text-anchor="end">1000</text>
<path d="M208 62.94h1.6M360.5 62.94h-1.6" stroke="#666" stroke-width="0.5"/>
<text x="206.00" y="64.54" class="tk" text-anchor="end">950</text>
<path d="M208 73.60h1.6M360.5 73.60h-1.6" stroke="#666" stroke-width="0.5"/>
<text x="206.00" y="75.20" class="tk" text-anchor="end">900</text>
<path d="M208 84.26h1.6M360.5 84.26h-1.6" stroke="#666" stroke-width="0.5"/>
<text x="206.00" y="85.86" class="tk" text-anchor="end">850</text>
<path d="M208 94.92h1.6M360.5 94.92h-1.6" stroke="#666" stroke-width="0.5"/>
<text x="206.00" y="96.52" class="tk" text-anchor="end">800</text>
<path d="M208 105.58h1.6M360.5 105.58h-1.6" stroke="#666" stroke-width="0.5"/>
<text x="206.00" y="107.18" class="tk" text-anchor="end">750</text>
<path d="M208 116.24h1.6M360.5 116.24h-1.6" stroke="#666" stroke-width="0.5"/>
<text x="206.00" y="117.84" class="tk" text-anchor="end">700</text>
<path d="M208 126.90h1.6M360.5 126.90h-1.6" stroke="#666" stroke-width="0.5"/>
<text x="206.00" y="128.50" class="tk" text-anchor="end">650</text>
<clipPath id="ccec06"><rect x="203" y="8.4" width="162.5" height="134.4"/></clipPath>
<g clip-path="url(#ccec06)">
<path d="M208.0 103.0L212.3 114.0L219.9 117.5L360.5 118.5" fill="none" stroke="#ff0000" stroke-width="1.35" stroke-linejoin="round"/>
<path d="M206.0 103.0a2.00 2.00 0 1 0 4.0 0a2.00 2.00 0 1 0 -4.0 0M213.9 115.7a2.00 2.00 0 1 0 4.0 0a2.00 2.00 0 1 0 -4.0 0M222.2 117.5a2.00 2.00 0 1 0 4.0 0a2.00 2.00 0 1 0 -4.0 0M230.1 117.6a2.00 2.00 0 1 0 4.0 0a2.00 2.00 0 1 0 -4.0 0M238.1 117.6a2.00 2.00 0 1 0 4.0 0a2.00 2.00 0 1 0 -4.0 0M246.0 117.7a2.00 2.00 0 1 0 4.0 0a2.00 2.00 0 1 0 -4.0 0M254.3 117.8a2.00 2.00 0 1 0 4.0 0a2.00 2.00 0 1 0 -4.0 0M262.2 117.8a2.00 2.00 0 1 0 4.0 0a2.00 2.00 0 1 0 -4.0 0M270.2 117.9a2.00 2.00 0 1 0 4.0 0a2.00 2.00 0 1 0 -4.0 0M278.1 117.9a2.00 2.00 0 1 0 4.0 0a2.00 2.00 0 1 0 -4.0 0M286.4 118.0a2.00 2.00 0 1 0 4.0 0a2.00 2.00 0 1 0 -4.0 0M294.3 118.0a2.00 2.00 0 1 0 4.0 0a2.00 2.00 0 1 0 -4.0 0M302.3 118.1a2.00 2.00 0 1 0 4.0 0a2.00 2.00 0 1 0 -4.0 0M310.2 118.2a2.00 2.00 0 1 0 4.0 0a2.00 2.00 0 1 0 -4.0 0M318.5 118.2a2.00 2.00 0 1 0 4.0 0a2.00 2.00 0 1 0 -4.0 0M326.4 118.3a2.00 2.00 0 1 0 4.0 0a2.00 2.00 0 1 0 -4.0 0M334.4 118.3a2.00 2.00 0 1 0 4.0 0a2.00 2.00 0 1 0 -4.0 0M342.3 118.4a2.00 2.00 0 1 0 4.0 0a2.00 2.00 0 1 0 -4.0 0M350.6 118.4a2.00 2.00 0 1 0 4.0 0a2.00 2.00 0 1 0 -4.0 0M358.5 118.5a2.00 2.00 0 1 0 4.0 0a2.00 2.00 0 1 0 -4.0 0" fill="#ff0000"/>
<path d="M208.0 13.4L208.3 110.0L216.9 120.0L238.3 123.0L360.5 124.5" fill="none" stroke="#0000ff" stroke-width="1.35" stroke-linejoin="round"/>
<path d="M208.0 11.1l2.4 4.2h-4.7zM215.9 116.6l2.4 4.2h-4.7zM224.2 118.7l2.4 4.2h-4.7zM232.1 119.8l2.4 4.2h-4.7zM240.1 120.7l2.4 4.2h-4.7zM248.0 120.8l2.4 4.2h-4.7zM256.3 120.9l2.4 4.2h-4.7zM264.2 121.0l2.4 4.2h-4.7zM272.2 121.1l2.4 4.2h-4.7zM280.1 121.2l2.4 4.2h-4.7zM288.4 121.3l2.4 4.2h-4.7zM296.3 121.4l2.4 4.2h-4.7zM304.3 121.5l2.4 4.2h-4.7zM312.2 121.6l2.4 4.2h-4.7zM320.5 121.7l2.4 4.2h-4.7zM328.4 121.8l2.4 4.2h-4.7zM336.4 121.9l2.4 4.2h-4.7zM344.3 122.0l2.4 4.2h-4.7zM352.6 122.1l2.4 4.2h-4.7zM360.5 122.2l2.4 4.2h-4.7z" fill="#0000ff"/>
<path d="M208.0 104.5L209.2 107.3L231.2 107.3L231.2 114.2L360.5 114.5" fill="none" stroke="#5aa832" stroke-width="1.35" stroke-linejoin="round"/>
<path d="M206.9 103.4h2.2v2.2h-2.2zM214.9 106.2h2.2v2.2h-2.2zM223.1 106.2h2.2v2.2h-2.2zM231.1 113.1h2.2v2.2h-2.2zM239.0 113.1h2.2v2.2h-2.2zM247.0 113.2h2.2v2.2h-2.2zM255.2 113.2h2.2v2.2h-2.2zM263.1 113.2h2.2v2.2h-2.2zM271.1 113.2h2.2v2.2h-2.2zM279.0 113.2h2.2v2.2h-2.2zM287.3 113.2h2.2v2.2h-2.2zM295.2 113.3h2.2v2.2h-2.2zM303.2 113.3h2.2v2.2h-2.2zM311.1 113.3h2.2v2.2h-2.2zM319.4 113.3h2.2v2.2h-2.2zM327.3 113.3h2.2v2.2h-2.2zM335.3 113.4h2.2v2.2h-2.2zM343.2 113.4h2.2v2.2h-2.2zM351.5 113.4h2.2v2.2h-2.2zM359.4 113.4h2.2v2.2h-2.2z" fill="#3f8c14"/>
<path d="M208.0 104.3L256.6 105.0L267.3 110.5L360.5 110.7" fill="none" stroke="#f5b82a" stroke-width="1.35" stroke-linejoin="round"/>
<path d="M206.0 104.3h4.0M208.0 102.3v4.0M213.9 104.4h4.0M215.9 102.4v4.0M222.2 104.5h4.0M224.2 102.5v4.0M230.1 104.6h4.0M232.1 102.6v4.0M238.1 104.8h4.0M240.1 102.8v4.0M246.0 104.9h4.0M248.0 102.9v4.0M254.3 105.0h4.0M256.3 103.0v4.0M262.2 108.9h4.0M264.2 106.9v4.0M270.2 110.5h4.0M272.2 108.5v4.0M278.1 110.5h4.0M280.1 108.5v4.0M286.4 110.5h4.0M288.4 108.5v4.0M294.3 110.6h4.0M296.3 108.6v4.0M302.3 110.6h4.0M304.3 108.6v4.0M310.2 110.6h4.0M312.2 108.6v4.0M318.5 110.6h4.0M320.5 108.6v4.0M326.4 110.6h4.0M328.4 108.6v4.0M334.4 110.6h4.0M336.4 108.6v4.0M342.3 110.7h4.0M344.3 108.7v4.0M350.6 110.7h4.0M352.6 108.7v4.0M358.5 110.7h4.0M360.5 108.7v4.0" stroke="#f5b82a" stroke-width="0.8" fill="none"/>
<path d="M208.0 118.0L216.9 124.5L238.3 125.5L284.1 129.0L360.5 130.8" fill="none" stroke="#f06ef0" stroke-width="1.35" stroke-linejoin="round"/>
<path d="M208.0 120.3l2.4 -4.2h-4.7zM215.9 126.2l2.4 -4.2h-4.7zM224.2 127.2l2.4 -4.2h-4.7zM232.1 127.6l2.4 -4.2h-4.7zM240.1 128.0l2.4 -4.2h-4.7zM248.0 128.6l2.4 -4.2h-4.7zM256.3 129.2l2.4 -4.2h-4.7zM264.2 129.8l2.4 -4.2h-4.7zM272.2 130.4l2.4 -4.2h-4.7zM280.1 131.0l2.4 -4.2h-4.7zM288.4 131.5l2.4 -4.2h-4.7zM296.3 131.6l2.4 -4.2h-4.7zM304.3 131.8l2.4 -4.2h-4.7zM312.2 132.0l2.4 -4.2h-4.7zM320.5 132.2l2.4 -4.2h-4.7zM328.4 132.4l2.4 -4.2h-4.7zM336.4 132.6l2.4 -4.2h-4.7zM344.3 132.8l2.4 -4.2h-4.7zM352.6 133.0l2.4 -4.2h-4.7zM360.5 133.2l2.4 -4.2h-4.7z" fill="#f06ef0"/>
<path d="M208.0 108.0L213.8 120.0L226.0 121.0L360.5 121.5" fill="none" stroke="#962828" stroke-width="1.35" stroke-linejoin="round"/>
<path d="M208.0 105.6l2.3 2.4l-2.3 2.4l-2.3 -2.4zM215.9 117.8l2.3 2.4l-2.3 2.4l-2.3 -2.4zM224.2 118.4l2.3 2.4l-2.3 2.4l-2.3 -2.4zM232.1 118.6l2.3 2.4l-2.3 2.4l-2.3 -2.4zM240.1 118.7l2.3 2.4l-2.3 2.4l-2.3 -2.4zM248.0 118.7l2.3 2.4l-2.3 2.4l-2.3 -2.4zM256.3 118.7l2.3 2.4l-2.3 2.4l-2.3 -2.4zM264.2 118.7l2.3 2.4l-2.3 2.4l-2.3 -2.4zM272.2 118.8l2.3 2.4l-2.3 2.4l-2.3 -2.4zM280.1 118.8l2.3 2.4l-2.3 2.4l-2.3 -2.4zM288.4 118.8l2.3 2.4l-2.3 2.4l-2.3 -2.4zM296.3 118.9l2.3 2.4l-2.3 2.4l-2.3 -2.4zM304.3 118.9l2.3 2.4l-2.3 2.4l-2.3 -2.4zM312.2 118.9l2.3 2.4l-2.3 2.4l-2.3 -2.4zM320.5 119.0l2.3 2.4l-2.3 2.4l-2.3 -2.4zM328.4 119.0l2.3 2.4l-2.3 2.4l-2.3 -2.4zM336.4 119.0l2.3 2.4l-2.3 2.4l-2.3 -2.4zM344.3 119.0l2.3 2.4l-2.3 2.4l-2.3 -2.4zM352.6 119.1l2.3 2.4l-2.3 2.4l-2.3 -2.4zM360.5 119.1l2.3 2.4l-2.3 2.4l-2.3 -2.4z" fill="#962828"/>
<path d="M208.0 103.0L212.3 115.5L360.5 116.0" fill="none" stroke="#f5d214" stroke-width="1.35" stroke-linejoin="round"/>
<path d="M206.2 101.2h3.5v3.5h-3.5zM214.2 113.8h3.5v3.5h-3.5zM222.4 113.8h3.5v3.5h-3.5zM230.4 113.8h3.5v3.5h-3.5zM238.3 113.8h3.5v3.5h-3.5zM246.3 113.9h3.5v3.5h-3.5zM254.5 113.9h3.5v3.5h-3.5zM262.5 113.9h3.5v3.5h-3.5zM270.4 114.0h3.5v3.5h-3.5zM278.4 114.0h3.5v3.5h-3.5zM286.6 114.0h3.5v3.5h-3.5zM294.6 114.0h3.5v3.5h-3.5zM302.5 114.1h3.5v3.5h-3.5zM310.5 114.1h3.5v3.5h-3.5zM318.7 114.1h3.5v3.5h-3.5zM326.7 114.1h3.5v3.5h-3.5zM334.6 114.2h3.5v3.5h-3.5zM342.6 114.2h3.5v3.5h-3.5zM350.8 114.2h3.5v3.5h-3.5zM358.8 114.2h3.5v3.5h-3.5z" fill="#f5d214"/>
<path d="M208.0 99.9L215.9 101.6L223.0 105.3L237.3 105.3L237.3 108.2L275.5 108.2L275.5 112.5L287.2 113.2L360.5 113.2" fill="none" stroke="#b43cf0" stroke-width="1.35" stroke-linejoin="round"/>
<path d="M206.0 99.9a2.00 2.00 0 1 0 4.0 0a2.00 2.00 0 1 0 -4.0 0M213.9 101.6a2.00 2.00 0 1 0 4.0 0a2.00 2.00 0 1 0 -4.0 0M222.2 105.3a2.00 2.00 0 1 0 4.0 0a2.00 2.00 0 1 0 -4.0 0M230.1 105.3a2.00 2.00 0 1 0 4.0 0a2.00 2.00 0 1 0 -4.0 0M238.1 108.2a2.00 2.00 0 1 0 4.0 0a2.00 2.00 0 1 0 -4.0 0M246.0 108.2a2.00 2.00 0 1 0 4.0 0a2.00 2.00 0 1 0 -4.0 0M254.3 108.2a2.00 2.00 0 1 0 4.0 0a2.00 2.00 0 1 0 -4.0 0M262.2 108.2a2.00 2.00 0 1 0 4.0 0a2.00 2.00 0 1 0 -4.0 0M270.2 108.2a2.00 2.00 0 1 0 4.0 0a2.00 2.00 0 1 0 -4.0 0M278.1 112.8a2.00 2.00 0 1 0 4.0 0a2.00 2.00 0 1 0 -4.0 0M286.4 113.2a2.00 2.00 0 1 0 4.0 0a2.00 2.00 0 1 0 -4.0 0M294.3 113.2a2.00 2.00 0 1 0 4.0 0a2.00 2.00 0 1 0 -4.0 0M302.3 113.2a2.00 2.00 0 1 0 4.0 0a2.00 2.00 0 1 0 -4.0 0M310.2 113.2a2.00 2.00 0 1 0 4.0 0a2.00 2.00 0 1 0 -4.0 0M318.5 113.2a2.00 2.00 0 1 0 4.0 0a2.00 2.00 0 1 0 -4.0 0M326.4 113.2a2.00 2.00 0 1 0 4.0 0a2.00 2.00 0 1 0 -4.0 0M334.4 113.2a2.00 2.00 0 1 0 4.0 0a2.00 2.00 0 1 0 -4.0 0M342.3 113.2a2.00 2.00 0 1 0 4.0 0a2.00 2.00 0 1 0 -4.0 0M350.6 113.2a2.00 2.00 0 1 0 4.0 0a2.00 2.00 0 1 0 -4.0 0M358.5 113.2a2.00 2.00 0 1 0 4.0 0a2.00 2.00 0 1 0 -4.0 0" fill="#d77cf5" stroke="#a832e6" stroke-width="0.7"/>
<path d="M208.0 105.0L216.9 119.0L360.5 120.4" fill="none" stroke="#dc1e32" stroke-width="1.35" stroke-linejoin="round"/>
<path d="M210.3 105.0l-4.2 -2.4v4.7zM218.3 117.6l-4.2 -2.4v4.7zM226.5 119.1l-4.2 -2.4v4.7zM234.5 119.1l-4.2 -2.4v4.7zM242.4 119.2l-4.2 -2.4v4.7zM250.4 119.3l-4.2 -2.4v4.7zM258.6 119.4l-4.2 -2.4v4.7zM266.6 119.5l-4.2 -2.4v4.7zM274.5 119.5l-4.2 -2.4v4.7zM282.5 119.6l-4.2 -2.4v4.7zM290.7 119.7l-4.2 -2.4v4.7zM298.7 119.8l-4.2 -2.4v4.7zM306.6 119.9l-4.2 -2.4v4.7zM314.6 119.9l-4.2 -2.4v4.7zM322.8 120.0l-4.2 -2.4v4.7zM330.8 120.1l-4.2 -2.4v4.7zM338.7 120.2l-4.2 -2.4v4.7zM346.7 120.2l-4.2 -2.4v4.7zM354.9 120.3l-4.2 -2.4v4.7zM362.9 120.4l-4.2 -2.4v4.7z" fill="#dc1e32"/>
<path d="M208.0 108.0L213.8 119.5L247.4 124.0L360.5 125.0" fill="none" stroke="#00e6f0" stroke-width="1.35" stroke-linejoin="round"/>
<path d="M208 105.5l0.7 1.3l1.5 -0.1l-0.8 1.3l0.8 1.3l-1.5 -0.1l-0.7 1.3l-0.7 -1.3l-1.5 0.1l0.8 -1.3l-0.8 -1.3l1.5 0.1zM215.9 117.2l0.7 1.4l1.6 -0.1l-0.9 1.3l0.9 1.3l-1.6 -0.1l-0.7 1.3l-0.7 -1.3l-1.5 0.1l0.8 -1.3l-0.8 -1.3l1.5 0.1zM224.2 118.3l0.7 1.4l1.5 -0.1l-0.8 1.3l0.8 1.3l-1.5 -0.1l-0.7 1.3l-0.7 -1.3l-1.5 0.1l0.8 -1.3l-0.8 -1.3l1.5 0.1zM232.1 119.4l0.7 1.3l1.6 0.0l-0.9 1.3l0.9 1.2l-1.6 0.0l-0.7 1.3l-0.7 -1.3l-1.5 0.0l0.8 -1.2l-0.8 -1.3l1.5 0.0zM240.1 120.5l0.7 1.3l1.5 -0.1l-0.8 1.3l0.8 1.3l-1.5 -0.1l-0.7 1.4l-0.7 -1.4l-1.5 0.1l0.8 -1.3l-0.8 -1.3l1.5 0.1zM248 121.5l0.7 1.3l1.5 -0.1l-0.8 1.3l0.8 1.3l-1.5 -0.1l-0.7 1.4l-0.7 -1.4l-1.5 0.1l0.8 -1.3l-0.8 -1.3l1.5 0.1zM256.3 121.5l0.7 1.4l1.5 -0.1l-0.8 1.3l0.8 1.3l-1.5 -0.1l-0.7 1.3l-0.7 -1.3l-1.5 0.1l0.8 -1.3l-0.8 -1.3l1.5 0.1zM264.2 121.6l0.7 1.3l1.5 0.0l-0.8 1.2l0.8 1.3l-1.5 0.0l-0.7 1.3l-0.7 -1.3l-1.5 0.0l0.8 -1.3l-0.8 -1.2l1.5 0.0zM272.2 121.7l0.7 1.3l1.5 -0.1l-0.8 1.3l0.8 1.3l-1.5 -0.1l-0.7 1.4l-0.7 -1.4l-1.5 0.1l0.8 -1.3l-0.8 -1.3l1.5 0.1zM280.1 121.7l0.7 1.4l1.5 -0.1l-0.8 1.3l0.8 1.3l-1.5 -0.1l-0.7 1.3l-0.7 -1.3l-1.5 0.1l0.8 -1.3l-0.8 -1.3l1.5 0.1zM288.4 121.8l0.7 1.3l1.5 0.0l-0.8 1.3l0.8 1.2l-1.5 0.0l-0.7 1.3l-0.7 -1.3l-1.5 0.0l0.8 -1.2l-0.8 -1.3l1.5 0.0zM296.3 121.9l0.7 1.3l1.5 0.0l-0.8 1.2l0.8 1.3l-1.5 -0.1l-0.7 1.4l-0.7 -1.4l-1.5 0.1l0.8 -1.3l-0.8 -1.2l1.5 0.0zM304.3 122.0l0.7 1.3l1.5 -0.1l-0.8 1.3l0.8 1.3l-1.5 -0.1l-0.7 1.4l-0.7 -1.4l-1.5 0.1l0.8 -1.3l-0.8 -1.3l1.5 0.1zM312.2 122.0l0.7 1.4l1.5 -0.1l-0.8 1.3l0.8 1.2l-1.5 0.0l-0.7 1.3l-0.7 -1.3l-1.5 0.0l0.8 -1.2l-0.8 -1.3l1.5 0.1zM320.5 122.1l0.7 1.3l1.5 0.0l-0.8 1.2l0.8 1.3l-1.5 0.0l-0.7 1.3l-0.7 -1.3l-1.5 0.0l0.8 -1.3l-0.8 -1.2l1.5 0.0zM328.4 122.2l0.7 1.3l1.5 -0.1l-0.8 1.3l0.8 1.3l-1.5 -0.1l-0.7 1.4l-0.7 -1.4l-1.5 0.1l0.8 -1.3l-0.8 -1.3l1.5 0.1zM336.4 122.2l0.7 1.4l1.5 -0.1l-0.8 1.3l0.8 1.3l-1.5 -0.1l-0.7 1.3l-0.7 -1.3l-1.6 0.1l0.9 -1.3l-0.9 -1.3l1.6 0.1zM344.3 122.3l0.7 1.3l1.5 0.0l-0.8 1.3l0.8 1.2l-1.5 0.0l-0.7 1.3l-0.7 -1.3l-1.5 0.0l0.8 -1.2l-0.8 -1.3l1.5 0.0zM352.6 122.4l0.7 1.3l1.5 0.0l-0.8 1.2l0.8 1.3l-1.5 -0.1l-0.7 1.4l-0.7 -1.4l-1.6 0.1l0.9 -1.3l-0.9 -1.2l1.6 0.0zM360.5 122.5l0.7 1.3l1.5 -0.1l-0.8 1.3l0.8 1.3l-1.5 -0.1l-0.7 1.3l-0.7 -1.3l-1.5 0.1l0.8 -1.3l-0.8 -1.3l1.5 0.1z" fill="#00e6f0"/>
<path d="M208.0 105.0L210.8 128.0L215.0 135.6L224.2 136.2L360.5 137.2" fill="none" stroke="#e6641e" stroke-width="1.35" stroke-linejoin="round"/>
<path d="M208.0 102.7l2.4 4.2h-4.7zM215.9 133.3l2.4 4.2h-4.7zM224.2 133.8l2.4 4.2h-4.7zM232.1 133.9l2.4 4.2h-4.7zM240.1 134.0l2.4 4.2h-4.7zM248.0 134.0l2.4 4.2h-4.7zM256.3 134.1l2.4 4.2h-4.7zM264.2 134.1l2.4 4.2h-4.7zM272.2 134.2l2.4 4.2h-4.7zM280.1 134.3l2.4 4.2h-4.7zM288.4 134.3l2.4 4.2h-4.7zM296.3 134.4l2.4 4.2h-4.7zM304.3 134.4l2.4 4.2h-4.7zM312.2 134.5l2.4 4.2h-4.7zM320.5 134.6l2.4 4.2h-4.7zM328.4 134.6l2.4 4.2h-4.7zM336.4 134.7l2.4 4.2h-4.7zM344.3 134.7l2.4 4.2h-4.7zM352.6 134.8l2.4 4.2h-4.7zM360.5 134.8l2.4 4.2h-4.7z" fill="#e6641e"/>
<path d="M208.0 103.0L216.9 118.0L232.1 122.0L268.8 127.0L360.5 128.6" fill="none" stroke="#1ea096" stroke-width="1.35" stroke-linejoin="round"/>
<path d="M205.7 103.0l4.2 -2.4v4.7zM213.6 116.4l4.2 -2.4v4.7zM221.8 119.9l4.2 -2.4v4.7zM229.8 122.0l4.2 -2.4v4.7zM237.7 123.1l4.2 -2.4v4.7zM245.7 124.2l4.2 -2.4v4.7zM253.9 125.3l4.2 -2.4v4.7zM261.9 126.4l4.2 -2.4v4.7zM269.8 127.1l4.2 -2.4v4.7zM277.8 127.2l4.2 -2.4v4.7zM286.0 127.3l4.2 -2.4v4.7zM294.0 127.5l4.2 -2.4v4.7zM301.9 127.6l4.2 -2.4v4.7zM309.9 127.8l4.2 -2.4v4.7zM318.1 127.9l4.2 -2.4v4.7zM326.1 128.0l4.2 -2.4v4.7zM334.0 128.2l4.2 -2.4v4.7zM342.0 128.3l4.2 -2.4v4.7zM350.2 128.5l4.2 -2.4v4.7zM358.1 128.6l4.2 -2.4v4.7z" fill="#1ea096"/>
<path d="M208.0 108.0L219.9 122.5L360.5 124.0" fill="none" stroke="#7846dc" stroke-width="1.35" stroke-linejoin="round"/>
<path d="M208 106.0l1.7 1.0l0 2.0l-1.7 1.0l-1.7 -1.0l0 -2.0zM215.9 115.7l1.7 1.0l0 1.9l-1.7 1.0l-1.6 -1.0l0 -1.9zM224.2 120.6l1.7 1.0l0 1.9l-1.7 1.0l-1.7 -1.0l0 -1.9zM232.1 120.7l1.7 1.0l0 1.9l-1.7 1.0l-1.6 -1.0l0 -1.9zM240.1 120.8l1.7 0.9l0 2.0l-1.7 1.0l-1.7 -1.0l0 -2.0zM248 120.8l1.7 1.0l0 2.0l-1.7 1.0l-1.7 -1.0l0 -2.0zM256.3 120.9l1.7 1.0l0 2.0l-1.7 0.9l-1.7 -0.9l0 -2.0zM264.2 121.0l1.7 1.0l0 1.9l-1.7 1.0l-1.7 -1.0l0 -1.9zM272.2 121.1l1.7 1.0l0 1.9l-1.7 1.0l-1.7 -1.0l0 -1.9zM280.1 121.2l1.7 1.0l0 1.9l-1.7 1.0l-1.7 -1.0l0 -1.9zM288.4 121.3l1.7 1.0l0 1.9l-1.7 1.0l-1.7 -1.0l0 -1.9zM296.3 121.4l1.7 0.9l0 2.0l-1.7 1.0l-1.7 -1.0l0 -2.0zM304.3 121.5l1.7 0.9l0 2.0l-1.7 1.0l-1.7 -1.0l0 -2.0zM312.2 121.5l1.7 1.0l0 2.0l-1.7 0.9l-1.7 -0.9l0 -2.0zM320.5 121.6l1.7 1.0l0 1.9l-1.7 1.0l-1.7 -1.0l0 -1.9zM328.4 121.7l1.7 1.0l0 1.9l-1.7 1.0l-1.7 -1.0l0 -1.9zM336.4 121.8l1.6 1.0l0 1.9l-1.6 1.0l-1.7 -1.0l0 -1.9zM344.3 121.9l1.7 1.0l0 1.9l-1.7 1.0l-1.7 -1.0l0 -1.9zM352.6 122.0l1.6 0.9l0 2.0l-1.6 1.0l-1.7 -1.0l0 -2.0zM360.5 122.0l1.7 1.0l0 2.0l-1.7 1.0l-1.7 -1.0l0 -2.0z" fill="#7846dc"/>
<path d="M208.0 110.0L213.8 128.0L232.1 130.5L268.8 132.5L360.5 134.2" fill="none" stroke="#00f000" stroke-width="1.35" stroke-linejoin="round"/>
<path d="M208.0 112.3l2.4 -4.2h-4.7zM215.9 130.6l2.4 -4.2h-4.7zM224.2 131.8l2.4 -4.2h-4.7zM232.1 132.8l2.4 -4.2h-4.7zM240.1 133.3l2.4 -4.2h-4.7zM248.0 133.7l2.4 -4.2h-4.7zM256.3 134.2l2.4 -4.2h-4.7zM264.2 134.6l2.4 -4.2h-4.7zM272.2 134.9l2.4 -4.2h-4.7zM280.1 135.1l2.4 -4.2h-4.7zM288.4 135.2l2.4 -4.2h-4.7zM296.3 135.4l2.4 -4.2h-4.7zM304.3 135.5l2.4 -4.2h-4.7zM312.2 135.7l2.4 -4.2h-4.7zM320.5 135.8l2.4 -4.2h-4.7zM328.4 136.0l2.4 -4.2h-4.7zM336.4 136.1l2.4 -4.2h-4.7zM344.3 136.2l2.4 -4.2h-4.7zM352.6 136.4l2.4 -4.2h-4.7zM360.5 136.5l2.4 -4.2h-4.7z" fill="#00f000"/>
<path d="M208.0 102.0L215.3 117.8L238.3 121.0L360.5 123.0" fill="none" stroke="#1e8cc8" stroke-width="1.35" stroke-linejoin="round"/>
<path d="M208 99.5l0.7 1.3l1.5 -0.1l-0.8 1.3l0.8 1.3l-1.5 -0.1l-0.7 1.3l-0.7 -1.3l-1.5 0.1l0.8 -1.3l-0.8 -1.3l1.5 0.1zM215.9 115.3l0.7 1.4l1.6 -0.1l-0.9 1.3l0.9 1.3l-1.6 -0.1l-0.7 1.3l-0.7 -1.3l-1.5 0.1l0.8 -1.3l-0.8 -1.3l1.5 0.1zM224.2 116.5l0.7 1.3l1.5 0.0l-0.8 1.2l0.8 1.3l-1.5 -0.1l-0.7 1.4l-0.7 -1.4l-1.5 0.1l0.8 -1.3l-0.8 -1.2l1.5 0.0zM232.1 117.6l0.7 1.3l1.6 0.0l-0.9 1.2l0.9 1.3l-1.6 0.0l-0.7 1.3l-0.7 -1.3l-1.5 0.0l0.8 -1.3l-0.8 -1.2l1.5 0.0zM240.1 118.5l0.7 1.3l1.5 0.0l-0.8 1.2l0.8 1.3l-1.5 -0.1l-0.7 1.4l-0.7 -1.4l-1.5 0.1l0.8 -1.3l-0.8 -1.2l1.5 0.0zM248 118.6l0.7 1.3l1.5 0.0l-0.8 1.3l0.8 1.2l-1.5 0.0l-0.7 1.3l-0.7 -1.3l-1.5 0.0l0.8 -1.2l-0.8 -1.3l1.5 0.0zM256.3 118.7l0.7 1.4l1.5 -0.1l-0.8 1.3l0.8 1.3l-1.5 -0.1l-0.7 1.3l-0.7 -1.3l-1.5 0.1l0.8 -1.3l-0.8 -1.3l1.5 0.1zM264.2 118.9l0.7 1.3l1.5 -0.1l-0.8 1.3l0.8 1.3l-1.5 -0.1l-0.7 1.4l-0.7 -1.4l-1.5 0.1l0.8 -1.3l-0.8 -1.3l1.5 0.1zM272.2 119.0l0.7 1.3l1.5 0.0l-0.8 1.3l0.8 1.2l-1.5 0.0l-0.7 1.3l-0.7 -1.3l-1.5 0.0l0.8 -1.2l-0.8 -1.3l1.5 0.0zM280.1 119.1l0.7 1.4l1.5 -0.1l-0.8 1.3l0.8 1.3l-1.5 -0.1l-0.7 1.3l-0.7 -1.3l-1.5 0.1l0.8 -1.3l-0.8 -1.3l1.5 0.1zM288.4 119.3l0.7 1.3l1.5 -0.1l-0.8 1.3l0.8 1.3l-1.5 -0.1l-0.7 1.4l-0.7 -1.4l-1.5 0.1l0.8 -1.3l-0.8 -1.3l1.5 0.1zM296.3 119.4l0.7 1.3l1.5 0.0l-0.8 1.3l0.8 1.2l-1.5 0.0l-0.7 1.3l-0.7 -1.3l-1.5 0.0l0.8 -1.2l-0.8 -1.3l1.5 0.0zM304.3 119.5l0.7 1.4l1.5 -0.1l-0.8 1.3l0.8 1.3l-1.5 -0.1l-0.7 1.3l-0.7 -1.3l-1.5 0.1l0.8 -1.3l-0.8 -1.3l1.5 0.1zM312.2 119.7l0.7 1.3l1.5 -0.1l-0.8 1.3l0.8 1.3l-1.5 -0.1l-0.7 1.4l-0.7 -1.4l-1.5 0.1l0.8 -1.3l-0.8 -1.3l1.5 0.1zM320.5 119.8l0.7 1.3l1.5 0.0l-0.8 1.2l0.8 1.3l-1.5 0.0l-0.7 1.3l-0.7 -1.3l-1.5 0.0l0.8 -1.3l-0.8 -1.2l1.5 0.0zM328.4 119.9l0.7 1.4l1.5 -0.1l-0.8 1.3l0.8 1.3l-1.5 -0.1l-0.7 1.3l-0.7 -1.3l-1.5 0.1l0.8 -1.3l-0.8 -1.3l1.5 0.1zM336.4 120.1l0.7 1.3l1.5 -0.1l-0.8 1.3l0.8 1.3l-1.5 -0.1l-0.7 1.4l-0.7 -1.4l-1.6 0.1l0.9 -1.3l-0.9 -1.3l1.6 0.1zM344.3 120.2l0.7 1.3l1.5 0.0l-0.8 1.2l0.8 1.3l-1.5 -0.1l-0.7 1.4l-0.7 -1.4l-1.5 0.1l0.8 -1.3l-0.8 -1.2l1.5 0.0zM352.6 120.3l0.7 1.4l1.5 -0.1l-0.8 1.3l0.8 1.2l-1.5 0.0l-0.7 1.3l-0.7 -1.3l-1.6 0.0l0.9 -1.2l-0.9 -1.3l1.6 0.1zM360.5 120.5l0.7 1.3l1.5 -0.1l-0.8 1.3l0.8 1.3l-1.5 -0.1l-0.7 1.3l-0.7 -1.3l-1.5 0.1l0.8 -1.3l-0.8 -1.3l1.5 0.1z" fill="#1e8cc8"/>
</g>
<text x="284.25" y="10.80" class="ti" text-anchor="middle">cec06</text>
<text x="284.25" y="153.30" class="lb" text-anchor="middle">Iteration</text>
<text transform="translate(192.10 75.60) rotate(-90)" class="lb" text-anchor="middle">Fitness value</text>
<rect x="314.10" y="17.00" width="43" height="87.6" fill="#fff" stroke="#8a8a8a" stroke-width="0.6"/>
<path d="M315.68 20.90H329.52" stroke="#ff0000" stroke-width="1.1"/>
<path d="M320.7 20.9a2.00 2.00 0 1 0 4.0 0a2.00 2.00 0 1 0 -4.0 0" fill="#ff0000"/>
<text x="330.90" y="22.45" class="lg">COA</text>
<path d="M315.68 26.63H329.52" stroke="#0000ff" stroke-width="1.1"/>
<path d="M322.7 24.3l2.4 4.2h-4.7z" fill="#0000ff"/>
<text x="330.90" y="28.18" class="lg">CMRLCCOA</text>
<path d="M315.68 32.36H329.52" stroke="#5aa832" stroke-width="1.1"/>
<path d="M321.6 31.3h2.2v2.2h-2.2z" fill="#3f8c14"/>
<text x="330.90" y="33.91" class="lg">KOA</text>
<path d="M315.68 38.09H329.52" stroke="#f5b82a" stroke-width="1.1"/>
<path d="M320.7 38.1h4.0M322.7 36.1v4.0" stroke="#f5b82a" stroke-width="0.8" fill="none"/>
<text x="330.90" y="39.64" class="lg">SWO</text>
<path d="M315.68 43.82H329.52" stroke="#f06ef0" stroke-width="1.1"/>
<path d="M322.7 46.2l2.4 -4.2h-4.7z" fill="#f06ef0"/>
<text x="330.90" y="45.37" class="lg">GMO</text>
<path d="M315.68 49.55H329.52" stroke="#962828" stroke-width="1.1"/>
<path d="M322.7 47.1l2.3 2.4l-2.3 2.4l-2.3 -2.4z" fill="#962828"/>
<text x="330.90" y="51.10" class="lg">OMA</text>
<path d="M315.68 55.28H329.52" stroke="#f5d214" stroke-width="1.1"/>
<path d="M321.0 53.5h3.5v3.5h-3.5z" fill="#f5d214"/>
<text x="330.90" y="56.83" class="lg">TROA</text>
<path d="M315.68 61.01H329.52" stroke="#b43cf0" stroke-width="1.1"/>
<path d="M320.7 61.0a2.00 2.00 0 1 0 4.0 0a2.00 2.00 0 1 0 -4.0 0" fill="#d77cf5" stroke="#a832e6" stroke-width="0.7"/>
<text x="330.90" y="62.56" class="lg">GO</text>
<path d="M315.68 66.74H329.52" stroke="#dc1e32" stroke-width="1.1"/>
<path d="M325.1 66.7l-4.2 -2.4v4.7z" fill="#dc1e32"/>
<text x="330.90" y="68.29" class="lg">PSO</text>
<path d="M315.68 72.47H329.52" stroke="#00e6f0" stroke-width="1.1"/>
<path d="M322.7 69.9l0.7 1.4l1.5 -0.1l-0.8 1.3l0.8 1.2l-1.5 0.0l-0.7 1.3l-0.7 -1.3l-1.5 0.0l0.8 -1.2l-0.8 -1.3l1.5 0.1z" fill="#00e6f0"/>
<text x="330.90" y="74.02" class="lg">DE</text>
<path d="M315.68 78.20H329.52" stroke="#e6641e" stroke-width="1.1"/>
<path d="M322.7 75.9l2.4 4.2h-4.7z" fill="#e6641e"/>
<text x="330.90" y="79.75" class="lg">SA</text>
<path d="M315.68 83.93H329.52" stroke="#1ea096" stroke-width="1.1"/>
<path d="M320.4 83.9l4.2 -2.4v4.7z" fill="#1ea096"/>
<text x="330.90" y="85.48" class="lg">ABC</text>
<path d="M315.68 89.66H329.52" stroke="#7846dc" stroke-width="1.1"/>
<path d="M322.7 87.7l1.7 1.0l0 1.9l-1.7 1.0l-1.7 -1.0l0 -1.9z" fill="#7846dc"/>
<text x="330.90" y="91.21" class="lg">ISSA</text>
<path d="M315.68 95.39H329.52" stroke="#00f000" stroke-width="1.1"/>
<path d="M322.7 97.7l2.4 -4.2h-4.7z" fill="#00f000"/>
<text x="330.90" y="96.94" class="lg">IGWO</text>
<path d="M315.68 101.12H329.52" stroke="#1e8cc8" stroke-width="1.1"/>
<path d="M322.7 98.6l0.7 1.3l1.5 -0.1l-0.8 1.3l0.8 1.3l-1.5 -0.1l-0.7 1.4l-0.7 -1.4l-1.5 0.1l0.8 -1.3l-0.8 -1.3l1.5 0.1z" fill="#1e8cc8"/>
<text x="330.90" y="102.67" class="lg">EWOA</text>
<rect x="386.5" y="13.4" width="156.0" height="123.9" fill="none" stroke="#9a9a9a" stroke-width="0.8"/>
<path d="M401.82 137.3v-1.6M401.82 13.4v1.6" stroke="#666" stroke-width="0.5"/>
<text x="401.82" y="144.35" class="tk" text-anchor="middle">50</text>
<path d="M417.45 137.3v-1.6M417.45 13.4v1.6" stroke="#666" stroke-width="0.5"/>
<text x="417.45" y="144.35" class="tk" text-anchor="middle">100</text>
<path d="M433.08 137.3v-1.6M433.08 13.4v1.6" stroke="#666" stroke-width="0.5"/>
<text x="433.08" y="144.35" class="tk" text-anchor="middle">150</text>
<path d="M448.71 137.3v-1.6M448.71 13.4v1.6" stroke="#666" stroke-width="0.5"/>
<text x="448.71" y="144.35" class="tk" text-anchor="middle">200</text>
<path d="M464.34 137.3v-1.6M464.34 13.4v1.6" stroke="#666" stroke-width="0.5"/>
<text x="464.34" y="144.35" class="tk" text-anchor="middle">250</text>
<path d="M479.97 137.3v-1.6M479.97 13.4v1.6" stroke="#666" stroke-width="0.5"/>
<text x="479.97" y="144.35" class="tk" text-anchor="middle">300</text>
<path d="M495.61 137.3v-1.6M495.61 13.4v1.6" stroke="#666" stroke-width="0.5"/>
<text x="495.61" y="144.35" class="tk" text-anchor="middle">350</text>
<path d="M511.24 137.3v-1.6M511.24 13.4v1.6" stroke="#666" stroke-width="0.5"/>
<text x="511.24" y="144.35" class="tk" text-anchor="middle">400</text>
<path d="M526.87 137.3v-1.6M526.87 13.4v1.6" stroke="#666" stroke-width="0.5"/>
<text x="526.87" y="144.35" class="tk" text-anchor="middle">450</text>
<path d="M542.50 137.3v-1.6M542.50 13.4v1.6" stroke="#666" stroke-width="0.5"/>
<text x="542.50" y="144.35" class="tk" text-anchor="middle">500</text>
<path d="M386.5 14.60h1.6M542.5 14.60h-1.6" stroke="#666" stroke-width="0.5"/>
<text x="384.50" y="16.20" class="tk" text-anchor="end">14</text>
<path d="M386.5 32.25h1.6M542.5 32.25h-1.6" stroke="#666" stroke-width="0.5"/>
<text x="384.50" y="33.85" class="tk" text-anchor="end">12</text>
<path d="M386.5 49.90h1.6M542.5 49.90h-1.6" stroke="#666" stroke-width="0.5"/>
<text x="384.50" y="51.50" class="tk" text-anchor="end">10</text>
<path d="M386.5 67.55h1.6M542.5 67.55h-1.6" stroke="#666" stroke-width="0.5"/>
<text x="384.50" y="69.15" class="tk" text-anchor="end">8</text>
<path d="M386.5 85.20h1.6M542.5 85.20h-1.6" stroke="#666" stroke-width="0.5"/>
<text x="384.50" y="86.80" class="tk" text-anchor="end">6</text>
<path d="M386.5 102.85h1.6M542.5 102.85h-1.6" stroke="#666" stroke-width="0.5"/>
<text x="384.50" y="104.45" class="tk" text-anchor="end">4</text>
<path d="M386.5 120.50h1.6M542.5 120.50h-1.6" stroke="#666" stroke-width="0.5"/>
<text x="384.50" y="122.10" class="tk" text-anchor="end">2</text>
<text x="387.30" y="12.00" class="tk ex">×10<tspan class="sup" dy="-1.8">5</tspan></text>
<clipPath id="ccec09"><rect x="381.5" y="8.4" width="166.0" height="133.9"/></clipPath>
<g clip-path="url(#ccec09)">
<path d="M386.5 126.0L389.3 131.5L542.5 131.6" fill="none" stroke="#ff0000" stroke-width="1.35" stroke-linejoin="round"/>
<path d="M384.5 126.0a2.00 2.00 0 1 0 4.0 0a2.00 2.00 0 1 0 -4.0 0M392.6 131.5a2.00 2.00 0 1 0 4.0 0a2.00 2.00 0 1 0 -4.0 0M401.1 131.5a2.00 2.00 0 1 0 4.0 0a2.00 2.00 0 1 0 -4.0 0M409.2 131.5a2.00 2.00 0 1 0 4.0 0a2.00 2.00 0 1 0 -4.0 0M417.3 131.5a2.00 2.00 0 1 0 4.0 0a2.00 2.00 0 1 0 -4.0 0M425.5 131.5a2.00 2.00 0 1 0 4.0 0a2.00 2.00 0 1 0 -4.0 0M433.9 131.5a2.00 2.00 0 1 0 4.0 0a2.00 2.00 0 1 0 -4.0 0M442.0 131.5a2.00 2.00 0 1 0 4.0 0a2.00 2.00 0 1 0 -4.0 0M450.2 131.5a2.00 2.00 0 1 0 4.0 0a2.00 2.00 0 1 0 -4.0 0M458.3 131.5a2.00 2.00 0 1 0 4.0 0a2.00 2.00 0 1 0 -4.0 0M466.7 131.6a2.00 2.00 0 1 0 4.0 0a2.00 2.00 0 1 0 -4.0 0M474.8 131.6a2.00 2.00 0 1 0 4.0 0a2.00 2.00 0 1 0 -4.0 0M483.0 131.6a2.00 2.00 0 1 0 4.0 0a2.00 2.00 0 1 0 -4.0 0M491.1 131.6a2.00 2.00 0 1 0 4.0 0a2.00 2.00 0 1 0 -4.0 0M499.5 131.6a2.00 2.00 0 1 0 4.0 0a2.00 2.00 0 1 0 -4.0 0M507.7 131.6a2.00 2.00 0 1 0 4.0 0a2.00 2.00 0 1 0 -4.0 0M515.8 131.6a2.00 2.00 0 1 0 4.0 0a2.00 2.00 0 1 0 -4.0 0M523.9 131.6a2.00 2.00 0 1 0 4.0 0a2.00 2.00 0 1 0 -4.0 0M532.4 131.6a2.00 2.00 0 1 0 4.0 0a2.00 2.00 0 1 0 -4.0 0M540.5 131.6a2.00 2.00 0 1 0 4.0 0a2.00 2.00 0 1 0 -4.0 0" fill="#ff0000"/>
<path d="M386.5 13.4L386.8 133.0L392.4 135.6L542.5 135.8" fill="none" stroke="#0000ff" stroke-width="1.35" stroke-linejoin="round"/>
<path d="M386.5 11.1l2.4 4.2h-4.7zM394.6 133.3l2.4 4.2h-4.7zM403.1 133.3l2.4 4.2h-4.7zM411.2 133.3l2.4 4.2h-4.7zM419.3 133.3l2.4 4.2h-4.7zM427.5 133.3l2.4 4.2h-4.7zM435.9 133.3l2.4 4.2h-4.7zM444.0 133.3l2.4 4.2h-4.7zM452.2 133.3l2.4 4.2h-4.7zM460.3 133.3l2.4 4.2h-4.7zM468.7 133.4l2.4 4.2h-4.7zM476.8 133.4l2.4 4.2h-4.7zM485.0 133.4l2.4 4.2h-4.7zM493.1 133.4l2.4 4.2h-4.7zM501.5 133.4l2.4 4.2h-4.7zM509.7 133.4l2.4 4.2h-4.7zM517.8 133.4l2.4 4.2h-4.7zM525.9 133.4l2.4 4.2h-4.7zM534.4 133.4l2.4 4.2h-4.7zM542.5 133.5l2.4 4.2h-4.7z" fill="#0000ff"/>
<path d="M386.5 127.0L390.9 128.8L542.5 128.8" fill="none" stroke="#5aa832" stroke-width="1.35" stroke-linejoin="round"/>
<path d="M385.4 125.9h2.2v2.2h-2.2zM393.5 127.7h2.2v2.2h-2.2zM402.0 127.7h2.2v2.2h-2.2zM410.1 127.7h2.2v2.2h-2.2zM418.2 127.7h2.2v2.2h-2.2zM426.4 127.7h2.2v2.2h-2.2zM434.8 127.7h2.2v2.2h-2.2zM442.9 127.7h2.2v2.2h-2.2zM451.1 127.7h2.2v2.2h-2.2zM459.2 127.7h2.2v2.2h-2.2zM467.6 127.7h2.2v2.2h-2.2zM475.8 127.7h2.2v2.2h-2.2zM483.9 127.7h2.2v2.2h-2.2zM492.0 127.7h2.2v2.2h-2.2zM500.5 127.7h2.2v2.2h-2.2zM508.6 127.7h2.2v2.2h-2.2zM516.7 127.7h2.2v2.2h-2.2zM524.8 127.7h2.2v2.2h-2.2zM533.3 127.7h2.2v2.2h-2.2zM541.4 127.7h2.2v2.2h-2.2z" fill="#3f8c14"/>
<path d="M386.5 127.0L392.4 129.6L542.5 129.6" fill="none" stroke="#f5b82a" stroke-width="1.35" stroke-linejoin="round"/>
<path d="M384.5 127.0h4.0M386.5 125.0v4.0M392.6 129.6h4.0M394.6 127.6v4.0M401.1 129.6h4.0M403.1 127.6v4.0M409.2 129.6h4.0M411.2 127.6v4.0M417.3 129.6h4.0M419.3 127.6v4.0M425.5 129.6h4.0M427.5 127.6v4.0M433.9 129.6h4.0M435.9 127.6v4.0M442.0 129.6h4.0M444.0 127.6v4.0M450.2 129.6h4.0M452.2 127.6v4.0M458.3 129.6h4.0M460.3 127.6v4.0M466.7 129.6h4.0M468.7 127.6v4.0M474.8 129.6h4.0M476.8 127.6v4.0M483.0 129.6h4.0M485.0 127.6v4.0M491.1 129.6h4.0M493.1 127.6v4.0M499.5 129.6h4.0M501.5 127.6v4.0M507.7 129.6h4.0M509.7 127.6v4.0M515.8 129.6h4.0M517.8 127.6v4.0M523.9 129.6h4.0M525.9 127.6v4.0M532.4 129.6h4.0M534.4 127.6v4.0M540.5 129.6h4.0M542.5 127.6v4.0" stroke="#f5b82a" stroke-width="0.8" fill="none"/>
<path d="M386.5 128.0L392.4 130.2L542.5 130.4" fill="none" stroke="#f06ef0" stroke-width="1.35" stroke-linejoin="round"/>
<path d="M386.5 130.3l2.4 -4.2h-4.7zM394.6 132.6l2.4 -4.2h-4.7zM403.1 132.6l2.4 -4.2h-4.7zM411.2 132.6l2.4 -4.2h-4.7zM419.3 132.6l2.4 -4.2h-4.7zM427.5 132.6l2.4 -4.2h-4.7zM435.9 132.6l2.4 -4.2h-4.7zM444.0 132.6l2.4 -4.2h-4.7zM452.2 132.6l2.4 -4.2h-4.7zM460.3 132.6l2.4 -4.2h-4.7zM468.7 132.7l2.4 -4.2h-4.7zM476.8 132.7l2.4 -4.2h-4.7zM485.0 132.7l2.4 -4.2h-4.7zM493.1 132.7l2.4 -4.2h-4.7zM501.5 132.7l2.4 -4.2h-4.7zM509.7 132.7l2.4 -4.2h-4.7zM517.8 132.7l2.4 -4.2h-4.7zM525.9 132.7l2.4 -4.2h-4.7zM534.4 132.7l2.4 -4.2h-4.7zM542.5 132.8l2.4 -4.2h-4.7z" fill="#f06ef0"/>
<path d="M386.5 123.3L388.7 130.0L542.5 130.2" fill="none" stroke="#962828" stroke-width="1.35" stroke-linejoin="round"/>
<path d="M386.5 120.9l2.3 2.4l-2.3 2.4l-2.3 -2.4zM394.6 127.6l2.3 2.4l-2.3 2.4l-2.3 -2.4zM403.1 127.6l2.3 2.4l-2.3 2.4l-2.3 -2.4zM411.2 127.6l2.3 2.4l-2.3 2.4l-2.3 -2.4zM419.3 127.6l2.3 2.4l-2.3 2.4l-2.3 -2.4zM427.5 127.7l2.3 2.4l-2.3 2.4l-2.3 -2.4zM435.9 127.7l2.3 2.4l-2.3 2.4l-2.3 -2.4zM444.0 127.7l2.3 2.4l-2.3 2.4l-2.3 -2.4zM452.2 127.7l2.3 2.4l-2.3 2.4l-2.3 -2.4zM460.3 127.7l2.3 2.4l-2.3 2.4l-2.3 -2.4zM468.7 127.7l2.3 2.4l-2.3 2.4l-2.3 -2.4zM476.8 127.7l2.3 2.4l-2.3 2.4l-2.3 -2.4zM485.0 127.7l2.3 2.4l-2.3 2.4l-2.3 -2.4zM493.1 127.7l2.3 2.4l-2.3 2.4l-2.3 -2.4zM501.5 127.7l2.3 2.4l-2.3 2.4l-2.3 -2.4zM509.7 127.8l2.3 2.4l-2.3 2.4l-2.3 -2.4zM517.8 127.8l2.3 2.4l-2.3 2.4l-2.3 -2.4zM525.9 127.8l2.3 2.4l-2.3 2.4l-2.3 -2.4zM534.4 127.8l2.3 2.4l-2.3 2.4l-2.3 -2.4zM542.5 127.8l2.3 2.4l-2.3 2.4l-2.3 -2.4z" fill="#962828"/>
<path d="M386.5 128.0L392.4 133.1L542.5 133.1" fill="none" stroke="#f5d214" stroke-width="1.35" stroke-linejoin="round"/>
<path d="M384.8 126.2h3.5v3.5h-3.5zM392.9 131.3h3.5v3.5h-3.5zM401.3 131.3h3.5v3.5h-3.5zM409.4 131.3h3.5v3.5h-3.5zM417.6 131.3h3.5v3.5h-3.5zM425.7 131.3h3.5v3.5h-3.5zM434.1 131.3h3.5v3.5h-3.5zM442.3 131.3h3.5v3.5h-3.5zM450.4 131.3h3.5v3.5h-3.5zM458.5 131.3h3.5v3.5h-3.5zM467.0 131.3h3.5v3.5h-3.5zM475.1 131.3h3.5v3.5h-3.5zM483.2 131.3h3.5v3.5h-3.5zM491.4 131.3h3.5v3.5h-3.5zM499.8 131.3h3.5v3.5h-3.5zM507.9 131.3h3.5v3.5h-3.5zM516.1 131.3h3.5v3.5h-3.5zM524.2 131.3h3.5v3.5h-3.5zM532.6 131.3h3.5v3.5h-3.5zM540.8 131.3h3.5v3.5h-3.5z" fill="#f5d214"/>
<path d="M386.5 113.1L387.8 126.2L395.6 128.6L542.5 129.2" fill="none" stroke="#b43cf0" stroke-width="1.35" stroke-linejoin="round"/>
<path d="M384.5 113.1a2.00 2.00 0 1 0 4.0 0a2.00 2.00 0 1 0 -4.0 0M392.6 128.3a2.00 2.00 0 1 0 4.0 0a2.00 2.00 0 1 0 -4.0 0M401.1 128.6a2.00 2.00 0 1 0 4.0 0a2.00 2.00 0 1 0 -4.0 0M409.2 128.7a2.00 2.00 0 1 0 4.0 0a2.00 2.00 0 1 0 -4.0 0M417.3 128.7a2.00 2.00 0 1 0 4.0 0a2.00 2.00 0 1 0 -4.0 0M425.5 128.7a2.00 2.00 0 1 0 4.0 0a2.00 2.00 0 1 0 -4.0 0M433.9 128.8a2.00 2.00 0 1 0 4.0 0a2.00 2.00 0 1 0 -4.0 0M442.0 128.8a2.00 2.00 0 1 0 4.0 0a2.00 2.00 0 1 0 -4.0 0M450.2 128.8a2.00 2.00 0 1 0 4.0 0a2.00 2.00 0 1 0 -4.0 0M458.3 128.9a2.00 2.00 0 1 0 4.0 0a2.00 2.00 0 1 0 -4.0 0M466.7 128.9a2.00 2.00 0 1 0 4.0 0a2.00 2.00 0 1 0 -4.0 0M474.8 128.9a2.00 2.00 0 1 0 4.0 0a2.00 2.00 0 1 0 -4.0 0M483.0 129.0a2.00 2.00 0 1 0 4.0 0a2.00 2.00 0 1 0 -4.0 0M491.1 129.0a2.00 2.00 0 1 0 4.0 0a2.00 2.00 0 1 0 -4.0 0M499.5 129.0a2.00 2.00 0 1 0 4.0 0a2.00 2.00 0 1 0 -4.0 0M507.7 129.1a2.00 2.00 0 1 0 4.0 0a2.00 2.00 0 1 0 -4.0 0M515.8 129.1a2.00 2.00 0 1 0 4.0 0a2.00 2.00 0 1 0 -4.0 0M523.9 129.1a2.00 2.00 0 1 0 4.0 0a2.00 2.00 0 1 0 -4.0 0M532.4 129.2a2.00 2.00 0 1 0 4.0 0a2.00 2.00 0 1 0 -4.0 0M540.5 129.2a2.00 2.00 0 1 0 4.0 0a2.00 2.00 0 1 0 -4.0 0" fill="#d77cf5" stroke="#a832e6" stroke-width="0.7"/>
<path d="M386.5 129.0L389.3 131.7L542.5 131.9" fill="none" stroke="#dc1e32" stroke-width="1.35" stroke-linejoin="round"/>
<path d="M388.9 129.0l-4.2 -2.4v4.7zM397.0 131.7l-4.2 -2.4v4.7zM405.4 131.7l-4.2 -2.4v4.7zM413.5 131.7l-4.2 -2.4v4.7zM421.7 131.7l-4.2 -2.4v4.7zM429.8 131.7l-4.2 -2.4v4.7zM438.2 131.8l-4.2 -2.4v4.7zM446.4 131.8l-4.2 -2.4v4.7zM454.5 131.8l-4.2 -2.4v4.7zM462.6 131.8l-4.2 -2.4v4.7zM471.1 131.8l-4.2 -2.4v4.7zM479.2 131.8l-4.2 -2.4v4.7zM487.3 131.8l-4.2 -2.4v4.7zM495.5 131.8l-4.2 -2.4v4.7zM503.9 131.8l-4.2 -2.4v4.7zM512.0 131.9l-4.2 -2.4v4.7zM520.2 131.9l-4.2 -2.4v4.7zM528.3 131.9l-4.2 -2.4v4.7zM536.7 131.9l-4.2 -2.4v4.7zM544.9 131.9l-4.2 -2.4v4.7z" fill="#dc1e32"/>
<path d="M386.5 127.0L395.6 131.6L542.5 131.8" fill="none" stroke="#00e6f0" stroke-width="1.35" stroke-linejoin="round"/>
<path d="M386.5 124.5l0.7 1.3l1.5 -0.1l-0.8 1.3l0.8 1.3l-1.5 -0.1l-0.7 1.4l-0.7 -1.4l-1.5 0.1l0.8 -1.3l-0.8 -1.3l1.5 0.1zM394.6 128.6l0.7 1.3l1.5 -0.1l-0.8 1.3l0.8 1.3l-1.5 -0.1l-0.7 1.4l-0.7 -1.4l-1.5 0.1l0.8 -1.3l-0.8 -1.3l1.5 0.1zM403.1 129.1l0.7 1.3l1.5 -0.1l-0.8 1.3l0.8 1.3l-1.5 -0.1l-0.7 1.4l-0.7 -1.4l-1.5 0.1l0.8 -1.3l-0.8 -1.3l1.5 0.1zM411.2 129.1l0.7 1.3l1.5 -0.1l-0.8 1.3l0.8 1.3l-1.5 -0.1l-0.7 1.4l-0.7 -1.4l-1.5 0.1l0.8 -1.3l-0.8 -1.3l1.5 0.1zM419.3 129.1l0.7 1.3l1.5 0.0l-0.8 1.2l0.8 1.3l-1.5 -0.1l-0.7 1.4l-0.7 -1.4l-1.5 0.1l0.8 -1.3l-0.8 -1.2l1.5 0.0zM427.5 129.1l0.7 1.3l1.5 0.0l-0.8 1.2l0.8 1.3l-1.5 0.0l-0.7 1.3l-0.7 -1.3l-1.6 0.0l0.9 -1.3l-0.9 -1.2l1.6 0.0zM435.9 129.1l0.7 1.3l1.5 0.0l-0.8 1.3l0.8 1.2l-1.5 0.0l-0.7 1.3l-0.7 -1.3l-1.5 0.0l0.8 -1.2l-0.8 -1.3l1.5 0.0zM444 129.1l0.7 1.4l1.5 -0.1l-0.8 1.3l0.8 1.2l-1.5 0.0l-0.7 1.3l-0.7 -1.3l-1.5 0.0l0.8 -1.2l-0.8 -1.3l1.5 0.1zM452.2 129.1l0.7 1.4l1.5 -0.1l-0.8 1.3l0.8 1.3l-1.5 -0.1l-0.7 1.3l-0.7 -1.3l-1.6 0.1l0.9 -1.3l-0.9 -1.3l1.6 0.1zM460.3 129.1l0.7 1.4l1.5 -0.1l-0.8 1.3l0.8 1.3l-1.5 -0.1l-0.7 1.3l-0.7 -1.3l-1.5 0.1l0.8 -1.3l-0.8 -1.3l1.5 0.1zM468.7 129.1l0.7 1.4l1.5 -0.1l-0.8 1.3l0.8 1.3l-1.5 -0.1l-0.7 1.3l-0.7 -1.3l-1.5 0.1l0.8 -1.3l-0.8 -1.3l1.5 0.1zM476.8 129.2l0.7 1.3l1.6 -0.1l-0.9 1.3l0.9 1.3l-1.6 -0.1l-0.7 1.4l-0.7 -1.4l-1.5 0.1l0.8 -1.3l-0.8 -1.3l1.5 0.1zM485 129.2l0.7 1.3l1.5 -0.1l-0.8 1.3l0.8 1.3l-1.5 -0.1l-0.7 1.4l-0.7 -1.4l-1.5 0.1l0.8 -1.3l-0.8 -1.3l1.5 0.1zM493.1 129.2l0.7 1.3l1.5 0.0l-0.8 1.2l0.8 1.3l-1.5 -0.1l-0.7 1.4l-0.7 -1.4l-1.5 0.1l0.8 -1.3l-0.8 -1.2l1.5 0.0zM501.5 129.2l0.7 1.3l1.6 0.0l-0.9 1.2l0.9 1.3l-1.6 0.0l-0.7 1.3l-0.7 -1.3l-1.5 0.0l0.8 -1.3l-0.8 -1.2l1.5 0.0zM509.7 129.2l0.7 1.3l1.5 0.0l-0.8 1.3l0.8 1.2l-1.5 0.0l-0.7 1.3l-0.7 -1.3l-1.5 0.0l0.8 -1.2l-0.8 -1.3l1.5 0.0zM517.8 129.2l0.7 1.4l1.5 -0.1l-0.8 1.3l0.8 1.2l-1.5 0.0l-0.7 1.3l-0.7 -1.3l-1.5 0.0l0.8 -1.2l-0.8 -1.3l1.5 0.1zM525.9 129.2l0.7 1.4l1.5 -0.1l-0.8 1.3l0.8 1.3l-1.5 -0.1l-0.7 1.3l-0.7 -1.3l-1.5 0.1l0.8 -1.3l-0.8 -1.3l1.5 0.1zM534.4 129.2l0.7 1.4l1.5 -0.1l-0.8 1.3l0.8 1.3l-1.5 -0.1l-0.7 1.3l-0.7 -1.3l-1.5 0.1l0.8 -1.3l-0.8 -1.3l1.5 0.1zM542.5 129.2l0.7 1.4l1.5 -0.1l-0.8 1.3l0.8 1.3l-1.5 -0.1l-0.7 1.4l-0.7 -1.4l-1.5 0.1l0.8 -1.3l-0.8 -1.3l1.5 0.1z" fill="#00e6f0"/>
<path d="M386.5 130.0L389.3 135.2L542.5 135.4" fill="none" stroke="#e6641e" stroke-width="1.35" stroke-linejoin="round"/>
<path d="M386.5 127.7l2.4 4.2h-4.7zM394.6 132.9l2.4 4.2h-4.7zM403.1 132.9l2.4 4.2h-4.7zM411.2 132.9l2.4 4.2h-4.7zM419.3 132.9l2.4 4.2h-4.7zM427.5 132.9l2.4 4.2h-4.7zM435.9 132.9l2.4 4.2h-4.7zM444.0 132.9l2.4 4.2h-4.7zM452.2 132.9l2.4 4.2h-4.7zM460.3 132.9l2.4 4.2h-4.7zM468.7 133.0l2.4 4.2h-4.7zM476.8 133.0l2.4 4.2h-4.7zM485.0 133.0l2.4 4.2h-4.7zM493.1 133.0l2.4 4.2h-4.7zM501.5 133.0l2.4 4.2h-4.7zM509.7 133.0l2.4 4.2h-4.7zM517.8 133.0l2.4 4.2h-4.7zM525.9 133.0l2.4 4.2h-4.7zM534.4 133.0l2.4 4.2h-4.7zM542.5 133.1l2.4 4.2h-4.7z" fill="#e6641e"/>
<path d="M386.5 128.0L392.4 131.2L542.5 131.3" fill="none" stroke="#1ea096" stroke-width="1.35" stroke-linejoin="round"/>
<path d="M384.1 128.0l4.2 -2.4v4.7zM392.3 131.2l4.2 -2.4v4.7zM400.7 131.2l4.2 -2.4v4.7zM408.8 131.2l4.2 -2.4v4.7zM417.0 131.2l4.2 -2.4v4.7zM425.1 131.2l4.2 -2.4v4.7zM433.5 131.2l4.2 -2.4v4.7zM441.7 131.2l4.2 -2.4v4.7zM449.8 131.2l4.2 -2.4v4.7zM457.9 131.2l4.2 -2.4v4.7zM466.4 131.3l4.2 -2.4v4.7zM474.5 131.3l4.2 -2.4v4.7zM482.6 131.3l4.2 -2.4v4.7zM490.8 131.3l4.2 -2.4v4.7zM499.2 131.3l4.2 -2.4v4.7zM507.3 131.3l4.2 -2.4v4.7zM515.5 131.3l4.2 -2.4v4.7zM523.6 131.3l4.2 -2.4v4.7zM532.0 131.3l4.2 -2.4v4.7zM540.1 131.3l4.2 -2.4v4.7z" fill="#1ea096"/>
<path d="M386.5 127.5L389.3 130.8L542.5 131.0" fill="none" stroke="#7846dc" stroke-width="1.35" stroke-linejoin="round"/>
<path d="M386.5 125.5l1.7 1.0l0 2.0l-1.7 0.9l-1.7 -0.9l0 -2.0zM394.6 128.9l1.7 0.9l0 2.0l-1.7 1.0l-1.7 -1.0l0 -2.0zM403.1 128.9l1.7 0.9l0 2.0l-1.7 1.0l-1.7 -1.0l0 -2.0zM411.2 128.9l1.7 1.0l0 1.9l-1.7 1.0l-1.7 -1.0l0 -1.9zM419.3 128.9l1.7 1.0l0 1.9l-1.7 1.0l-1.7 -1.0l0 -1.9zM427.5 128.9l1.6 1.0l0 1.9l-1.6 1.0l-1.7 -1.0l0 -1.9zM435.9 128.9l1.7 1.0l0 1.9l-1.7 1.0l-1.7 -1.0l0 -1.9zM444 128.9l1.7 1.0l0 1.9l-1.7 1.0l-1.7 -1.0l0 -1.9zM452.2 128.9l1.6 1.0l0 2.0l-1.6 0.9l-1.7 -0.9l0 -2.0zM460.3 128.9l1.7 1.0l0 2.0l-1.7 0.9l-1.7 -0.9l0 -2.0zM468.7 129.0l1.7 0.9l0 2.0l-1.7 1.0l-1.7 -1.0l0 -2.0zM476.8 129.0l1.7 0.9l0 2.0l-1.7 1.0l-1.6 -1.0l0 -2.0zM485 129.0l1.7 0.9l0 2.0l-1.7 1.0l-1.7 -1.0l0 -2.0zM493.1 129.0l1.7 1.0l0 1.9l-1.7 1.0l-1.7 -1.0l0 -1.9zM501.5 129.0l1.7 1.0l0 1.9l-1.7 1.0l-1.6 -1.0l0 -1.9zM509.7 129.0l1.7 1.0l0 1.9l-1.7 1.0l-1.7 -1.0l0 -1.9zM517.8 129.0l1.7 1.0l0 1.9l-1.7 1.0l-1.7 -1.0l0 -1.9zM525.9 129.0l1.7 1.0l0 2.0l-1.7 0.9l-1.7 -0.9l0 -2.0zM534.4 129.0l1.7 1.0l0 2.0l-1.7 0.9l-1.7 -0.9l0 -2.0zM542.5 129.1l1.7 0.9l0 2.0l-1.7 0.9l-1.7 -0.9l0 -2.0z" fill="#7846dc"/>
<path d="M386.5 126.0L389.3 135.8L542.5 136.0" fill="none" stroke="#00f000" stroke-width="1.35" stroke-linejoin="round"/>
<path d="M386.5 128.3l2.4 -4.2h-4.7zM394.6 138.2l2.4 -4.2h-4.7zM403.1 138.2l2.4 -4.2h-4.7zM411.2 138.2l2.4 -4.2h-4.7zM419.3 138.2l2.4 -4.2h-4.7zM427.5 138.2l2.4 -4.2h-4.7zM435.9 138.2l2.4 -4.2h-4.7zM444.0 138.2l2.4 -4.2h-4.7zM452.2 138.2l2.4 -4.2h-4.7zM460.3 138.2l2.4 -4.2h-4.7zM468.7 138.3l2.4 -4.2h-4.7zM476.8 138.3l2.4 -4.2h-4.7zM485.0 138.3l2.4 -4.2h-4.7zM493.1 138.3l2.4 -4.2h-4.7zM501.5 138.3l2.4 -4.2h-4.7zM509.7 138.3l2.4 -4.2h-4.7zM517.8 138.3l2.4 -4.2h-4.7zM525.9 138.3l2.4 -4.2h-4.7zM534.4 138.3l2.4 -4.2h-4.7zM542.5 138.3l2.4 -4.2h-4.7z" fill="#00f000"/>
<path d="M386.5 126.0L392.4 130.8L542.5 130.9" fill="none" stroke="#1e8cc8" stroke-width="1.35" stroke-linejoin="round"/>
<path d="M386.5 123.5l0.7 1.3l1.5 -0.1l-0.8 1.3l0.8 1.3l-1.5 -0.1l-0.7 1.4l-0.7 -1.4l-1.5 0.1l0.8 -1.3l-0.8 -1.3l1.5 0.1zM394.6 128.3l0.7 1.3l1.5 -0.1l-0.8 1.3l0.8 1.3l-1.5 -0.1l-0.7 1.4l-0.7 -1.4l-1.5 0.1l0.8 -1.3l-0.8 -1.3l1.5 0.1zM403.1 128.3l0.7 1.3l1.5 -0.1l-0.8 1.3l0.8 1.3l-1.5 -0.1l-0.7 1.4l-0.7 -1.4l-1.5 0.1l0.8 -1.3l-0.8 -1.3l1.5 0.1zM411.2 128.3l0.7 1.3l1.5 -0.1l-0.8 1.3l0.8 1.3l-1.5 -0.1l-0.7 1.4l-0.7 -1.4l-1.5 0.1l0.8 -1.3l-0.8 -1.3l1.5 0.1zM419.3 128.3l0.7 1.3l1.5 -0.1l-0.8 1.3l0.8 1.3l-1.5 -0.1l-0.7 1.4l-0.7 -1.4l-1.5 0.1l0.8 -1.3l-0.8 -1.3l1.5 0.1zM427.5 128.3l0.7 1.3l1.5 -0.1l-0.8 1.3l0.8 1.3l-1.5 -0.1l-0.7 1.4l-0.7 -1.4l-1.6 0.1l0.9 -1.3l-0.9 -1.3l1.6 0.1zM435.9 128.3l0.7 1.3l1.5 0.0l-0.8 1.2l0.8 1.3l-1.5 -0.1l-0.7 1.4l-0.7 -1.4l-1.5 0.1l0.8 -1.3l-0.8 -1.2l1.5 0.0zM444 128.3l0.7 1.3l1.5 0.0l-0.8 1.2l0.8 1.3l-1.5 -0.1l-0.7 1.4l-0.7 -1.4l-1.5 0.1l0.8 -1.3l-0.8 -1.2l1.5 0.0zM452.2 128.3l0.7 1.3l1.5 0.0l-0.8 1.2l0.8 1.3l-1.5 0.0l-0.7 1.3l-0.7 -1.3l-1.6 0.0l0.9 -1.3l-0.9 -1.2l1.6 0.0zM460.3 128.3l0.7 1.3l1.5 0.0l-0.8 1.2l0.8 1.3l-1.5 0.0l-0.7 1.3l-0.7 -1.3l-1.5 0.0l0.8 -1.3l-0.8 -1.2l1.5 0.0zM468.7 128.3l0.7 1.3l1.5 0.0l-0.8 1.3l0.8 1.2l-1.5 0.0l-0.7 1.3l-0.7 -1.3l-1.5 0.0l0.8 -1.2l-0.8 -1.3l1.5 0.0zM476.8 128.3l0.7 1.3l1.6 0.0l-0.9 1.3l0.9 1.2l-1.6 0.0l-0.7 1.3l-0.7 -1.3l-1.5 0.0l0.8 -1.2l-0.8 -1.3l1.5 0.0zM485 128.3l0.7 1.3l1.5 0.0l-0.8 1.3l0.8 1.2l-1.5 0.0l-0.7 1.3l-0.7 -1.3l-1.5 0.0l0.8 -1.2l-0.8 -1.3l1.5 0.0zM493.1 128.3l0.7 1.4l1.5 -0.1l-0.8 1.3l0.8 1.2l-1.5 0.0l-0.7 1.3l-0.7 -1.3l-1.5 0.0l0.8 -1.2l-0.8 -1.3l1.5 0.1zM501.5 128.3l0.7 1.4l1.6 -0.1l-0.9 1.3l0.9 1.2l-1.6 0.0l-0.7 1.3l-0.7 -1.3l-1.5 0.0l0.8 -1.2l-0.8 -1.3l1.5 0.1zM509.7 128.3l0.7 1.4l1.5 -0.1l-0.8 1.3l0.8 1.3l-1.5 -0.1l-0.7 1.3l-0.7 -1.3l-1.5 0.1l0.8 -1.3l-0.8 -1.3l1.5 0.1zM517.8 128.3l0.7 1.4l1.5 -0.1l-0.8 1.3l0.8 1.3l-1.5 -0.1l-0.7 1.3l-0.7 -1.3l-1.5 0.1l0.8 -1.3l-0.8 -1.3l1.5 0.1zM525.9 128.3l0.7 1.4l1.5 -0.1l-0.8 1.3l0.8 1.3l-1.5 -0.1l-0.7 1.3l-0.7 -1.3l-1.5 0.1l0.8 -1.3l-0.8 -1.3l1.5 0.1zM534.4 128.3l0.7 1.4l1.5 -0.1l-0.8 1.3l0.8 1.3l-1.5 -0.1l-0.7 1.3l-0.7 -1.3l-1.5 0.1l0.8 -1.3l-0.8 -1.3l1.5 0.1zM542.5 128.3l0.7 1.4l1.5 -0.1l-0.8 1.3l0.8 1.3l-1.5 -0.1l-0.7 1.4l-0.7 -1.4l-1.5 0.1l0.8 -1.3l-0.8 -1.3l1.5 0.1z" fill="#1e8cc8"/>
</g>
<text x="464.50" y="10.80" class="ti" text-anchor="middle">cec09</text>
<text x="464.50" y="152.80" class="lb" text-anchor="middle">Iteration</text>
<text transform="translate(376.00 75.35) rotate(-90)" class="lb" text-anchor="middle">Fitness value</text>
<rect x="495.60" y="17.00" width="43.5" height="87.6" fill="#fff" stroke="#8a8a8a" stroke-width="0.6"/>
<path d="M497.20 20.90H511.20" stroke="#ff0000" stroke-width="1.1"/>
<path d="M502.3 20.9a2.00 2.00 0 1 0 4.0 0a2.00 2.00 0 1 0 -4.0 0" fill="#ff0000"/>
<text x="512.60" y="22.45" class="lg">COA</text>
<path d="M497.20 26.63H511.20" stroke="#0000ff" stroke-width="1.1"/>
<path d="M504.3 24.3l2.4 4.2h-4.7z" fill="#0000ff"/>
<text x="512.60" y="28.18" class="lg">CMRLCCOA</text>
<path d="M497.20 32.36H511.20" stroke="#5aa832" stroke-width="1.1"/>
<path d="M503.2 31.3h2.2v2.2h-2.2z" fill="#3f8c14"/>
<text x="512.60" y="33.91" class="lg">KOA</text>
<path d="M497.20 38.09H511.20" stroke="#f5b82a" stroke-width="1.1"/>
<path d="M502.3 38.1h4.0M504.3 36.1v4.0" stroke="#f5b82a" stroke-width="0.8" fill="none"/>
<text x="512.60" y="39.64" class="lg">SWO</text>
<path d="M497.20 43.82H511.20" stroke="#f06ef0" stroke-width="1.1"/>
<path d="M504.3 46.2l2.4 -4.2h-4.7z" fill="#f06ef0"/>
<text x="512.60" y="45.37" class="lg">GMO</text>
<path d="M497.20 49.55H511.20" stroke="#962828" stroke-width="1.1"/>
<path d="M504.3 47.1l2.3 2.4l-2.3 2.4l-2.3 -2.4z" fill="#962828"/>
<text x="512.60" y="51.10" class="lg">OMA</text>
<path d="M497.20 55.28H511.20" stroke="#f5d214" stroke-width="1.1"/>
<path d="M502.6 53.5h3.5v3.5h-3.5z" fill="#f5d214"/>
<text x="512.60" y="56.83" class="lg">TROA</text>
<path d="M497.20 61.01H511.20" stroke="#b43cf0" stroke-width="1.1"/>
<path d="M502.3 61.0a2.00 2.00 0 1 0 4.0 0a2.00 2.00 0 1 0 -4.0 0" fill="#d77cf5" stroke="#a832e6" stroke-width="0.7"/>
<text x="512.60" y="62.56" class="lg">GO</text>
<path d="M497.20 66.74H511.20" stroke="#dc1e32" stroke-width="1.1"/>
<path d="M506.7 66.7l-4.2 -2.4v4.7z" fill="#dc1e32"/>
<text x="512.60" y="68.29" class="lg">PSO</text>
<path d="M497.20 72.47H511.20" stroke="#00e6f0" stroke-width="1.1"/>
<path d="M504.3 69.9l0.7 1.4l1.5 -0.1l-0.8 1.3l0.8 1.2l-1.5 0.0l-0.7 1.3l-0.7 -1.3l-1.5 0.0l0.8 -1.2l-0.8 -1.3l1.5 0.1z" fill="#00e6f0"/>
<text x="512.60" y="74.02" class="lg">DE</text>
<path d="M497.20 78.20H511.20" stroke="#e6641e" stroke-width="1.1"/>
<path d="M504.3 75.9l2.4 4.2h-4.7z" fill="#e6641e"/>
<text x="512.60" y="79.75" class="lg">SA</text>
<path d="M497.20 83.93H511.20" stroke="#1ea096" stroke-width="1.1"/>
<path d="M501.9 83.9l4.2 -2.4v4.7z" fill="#1ea096"/>
<text x="512.60" y="85.48" class="lg">ABC</text>
<path d="M497.20 89.66H511.20" stroke="#7846dc" stroke-width="1.1"/>
<path d="M504.3 87.7l1.7 1.0l0 1.9l-1.7 1.0l-1.7 -1.0l0 -1.9z" fill="#7846dc"/>
<text x="512.60" y="91.21" class="lg">ISSA</text>
<path d="M497.20 95.39H511.20" stroke="#00f000" stroke-width="1.1"/>
<path d="M504.3 97.7l2.4 -4.2h-4.7z" fill="#00f000"/>
<text x="512.60" y="96.94" class="lg">IGWO</text>
<path d="M497.20 101.12H511.20" stroke="#1e8cc8" stroke-width="1.1"/>
<path d="M504.3 98.6l0.7 1.3l1.5 -0.1l-0.8 1.3l0.8 1.3l-1.5 -0.1l-0.7 1.4l-0.7 -1.4l-1.5 0.1l0.8 -1.3l-0.8 -1.3l1.5 0.1z" fill="#1e8cc8"/>
<text x="512.60" y="102.67" class="lg">EWOA</text>
<rect x="21.5" y="172" width="156.5" height="123.60000000000002" fill="none" stroke="#9a9a9a" stroke-width="0.8"/>
<path d="M36.87 295.6v-1.6M36.87 172v1.6" stroke="#666" stroke-width="0.5"/>
<text x="36.87" y="302.65" class="tk" text-anchor="middle">50</text>
<path d="M52.55 295.6v-1.6M52.55 172v1.6" stroke="#666" stroke-width="0.5"/>
<text x="52.55" y="302.65" class="tk" text-anchor="middle">100</text>
<path d="M68.23 295.6v-1.6M68.23 172v1.6" stroke="#666" stroke-width="0.5"/>
<text x="68.23" y="302.65" class="tk" text-anchor="middle">150</text>
<path d="M83.91 295.6v-1.6M83.91 172v1.6" stroke="#666" stroke-width="0.5"/>
<text x="83.91" y="302.65" class="tk" text-anchor="middle">200</text>
<path d="M99.59 295.6v-1.6M99.59 172v1.6" stroke="#666" stroke-width="0.5"/>
<text x="99.59" y="302.65" class="tk" text-anchor="middle">250</text>
<path d="M115.27 295.6v-1.6M115.27 172v1.6" stroke="#666" stroke-width="0.5"/>
<text x="115.27" y="302.65" class="tk" text-anchor="middle">300</text>
<path d="M130.96 295.6v-1.6M130.96 172v1.6" stroke="#666" stroke-width="0.5"/>
<text x="130.96" y="302.65" class="tk" text-anchor="middle">350</text>
<path d="M146.64 295.6v-1.6M146.64 172v1.6" stroke="#666" stroke-width="0.5"/>
<text x="146.64" y="302.65" class="tk" text-anchor="middle">400</text>
<path d="M162.32 295.6v-1.6M162.32 172v1.6" stroke="#666" stroke-width="0.5"/>
<text x="162.32" y="302.65" class="tk" text-anchor="middle">450</text>
<path d="M178.00 295.6v-1.6M178.00 172v1.6" stroke="#666" stroke-width="0.5"/>
<text x="178.00" y="302.65" class="tk" text-anchor="middle">500</text>
<path d="M21.5 172.50h1.6M178 172.50h-1.6" stroke="#666" stroke-width="0.5"/>
<text x="19.50" y="174.10" class="tk" text-anchor="end">12</text>
<path d="M21.5 193.00h1.6M178 193.00h-1.6" stroke="#666" stroke-width="0.5"/>
<text x="19.50" y="194.60" class="tk" text-anchor="end">10</text>
<path d="M21.5 213.50h1.6M178 213.50h-1.6" stroke="#666" stroke-width="0.5"/>
<text x="19.50" y="215.10" class="tk" text-anchor="end">8</text>
<path d="M21.5 234.00h1.6M178 234.00h-1.6" stroke="#666" stroke-width="0.5"/>
<text x="19.50" y="235.60" class="tk" text-anchor="end">6</text>
<path d="M21.5 254.50h1.6M178 254.50h-1.6" stroke="#666" stroke-width="0.5"/>
<text x="19.50" y="256.10" class="tk" text-anchor="end">4</text>
<path d="M21.5 275.00h1.6M178 275.00h-1.6" stroke="#666" stroke-width="0.5"/>
<text x="19.50" y="276.60" class="tk" text-anchor="end">2</text>
<text x="22.30" y="170.60" class="tk ex">×10<tspan class="sup" dy="-1.8">11</tspan></text>
<clipPath id="ccec12"><rect x="16.5" y="167" width="166.5" height="133.60000000000002"/></clipPath>
<g clip-path="url(#ccec12)">
<path d="M21.5 280.0L27.5 286.0L38.1 288.2L178.0 288.9" fill="none" stroke="#ff0000" stroke-width="1.35" stroke-linejoin="round"/>
<path d="M19.5 280.0a2.00 2.00 0 1 0 4.0 0a2.00 2.00 0 1 0 -4.0 0M27.7 286.5a2.00 2.00 0 1 0 4.0 0a2.00 2.00 0 1 0 -4.0 0M36.1 288.2a2.00 2.00 0 1 0 4.0 0a2.00 2.00 0 1 0 -4.0 0M44.3 288.2a2.00 2.00 0 1 0 4.0 0a2.00 2.00 0 1 0 -4.0 0M52.4 288.3a2.00 2.00 0 1 0 4.0 0a2.00 2.00 0 1 0 -4.0 0M60.6 288.3a2.00 2.00 0 1 0 4.0 0a2.00 2.00 0 1 0 -4.0 0M69.1 288.4a2.00 2.00 0 1 0 4.0 0a2.00 2.00 0 1 0 -4.0 0M77.2 288.4a2.00 2.00 0 1 0 4.0 0a2.00 2.00 0 1 0 -4.0 0M85.4 288.4a2.00 2.00 0 1 0 4.0 0a2.00 2.00 0 1 0 -4.0 0M93.5 288.5a2.00 2.00 0 1 0 4.0 0a2.00 2.00 0 1 0 -4.0 0M102.0 288.5a2.00 2.00 0 1 0 4.0 0a2.00 2.00 0 1 0 -4.0 0M110.1 288.6a2.00 2.00 0 1 0 4.0 0a2.00 2.00 0 1 0 -4.0 0M118.3 288.6a2.00 2.00 0 1 0 4.0 0a2.00 2.00 0 1 0 -4.0 0M126.4 288.7a2.00 2.00 0 1 0 4.0 0a2.00 2.00 0 1 0 -4.0 0M134.9 288.7a2.00 2.00 0 1 0 4.0 0a2.00 2.00 0 1 0 -4.0 0M143.1 288.7a2.00 2.00 0 1 0 4.0 0a2.00 2.00 0 1 0 -4.0 0M151.2 288.8a2.00 2.00 0 1 0 4.0 0a2.00 2.00 0 1 0 -4.0 0M159.4 288.8a2.00 2.00 0 1 0 4.0 0a2.00 2.00 0 1 0 -4.0 0M167.8 288.9a2.00 2.00 0 1 0 4.0 0a2.00 2.00 0 1 0 -4.0 0M176.0 288.9a2.00 2.00 0 1 0 4.0 0a2.00 2.00 0 1 0 -4.0 0" fill="#ff0000"/>
<path d="M21.5 172.0L21.8 294.5L178.0 295.0" fill="none" stroke="#0000ff" stroke-width="1.35" stroke-linejoin="round"/>
<path d="M21.5 169.7l2.4 4.2h-4.7zM29.7 292.2l2.4 4.2h-4.7zM38.1 292.2l2.4 4.2h-4.7zM46.3 292.2l2.4 4.2h-4.7zM54.4 292.3l2.4 4.2h-4.7zM62.6 292.3l2.4 4.2h-4.7zM71.1 292.3l2.4 4.2h-4.7zM79.2 292.3l2.4 4.2h-4.7zM87.4 292.4l2.4 4.2h-4.7zM95.5 292.4l2.4 4.2h-4.7zM104.0 292.4l2.4 4.2h-4.7zM112.1 292.4l2.4 4.2h-4.7zM120.3 292.5l2.4 4.2h-4.7zM128.4 292.5l2.4 4.2h-4.7zM136.9 292.5l2.4 4.2h-4.7zM145.1 292.5l2.4 4.2h-4.7zM153.2 292.6l2.4 4.2h-4.7zM161.4 292.6l2.4 4.2h-4.7zM169.8 292.6l2.4 4.2h-4.7zM178.0 292.6l2.4 4.2h-4.7z" fill="#0000ff"/>
<path d="M21.5 277.2L51.6 277.2L57.3 282.5L178.0 284.5" fill="none" stroke="#5aa832" stroke-width="1.35" stroke-linejoin="round"/>
<path d="M20.4 276.1h2.2v2.2h-2.2zM28.6 276.1h2.2v2.2h-2.2zM37.0 276.1h2.2v2.2h-2.2zM45.2 276.1h2.2v2.2h-2.2zM53.3 278.8h2.2v2.2h-2.2zM61.5 281.5h2.2v2.2h-2.2zM70.0 281.6h2.2v2.2h-2.2zM78.1 281.8h2.2v2.2h-2.2zM86.3 281.9h2.2v2.2h-2.2zM94.4 282.0h2.2v2.2h-2.2zM102.9 282.2h2.2v2.2h-2.2zM111.1 282.3h2.2v2.2h-2.2zM119.2 282.5h2.2v2.2h-2.2zM127.4 282.6h2.2v2.2h-2.2zM135.8 282.7h2.2v2.2h-2.2zM144.0 282.9h2.2v2.2h-2.2zM152.1 283.0h2.2v2.2h-2.2zM160.3 283.1h2.2v2.2h-2.2zM168.8 283.3h2.2v2.2h-2.2zM176.9 283.4h2.2v2.2h-2.2z" fill="#3f8c14"/>
<path d="M21.5 280.0L27.5 282.5L178.0 287.0" fill="none" stroke="#f5b82a" stroke-width="1.35" stroke-linejoin="round"/>
<path d="M19.5 280.0h4.0M21.5 278.0v4.0M27.7 282.6h4.0M29.7 280.6v4.0M36.1 282.8h4.0M38.1 280.8v4.0M44.3 283.1h4.0M46.3 281.1v4.0M52.4 283.3h4.0M54.4 281.3v4.0M60.6 283.6h4.0M62.6 281.6v4.0M69.1 283.8h4.0M71.1 281.8v4.0M77.2 284.0h4.0M79.2 282.0v4.0M85.4 284.3h4.0M87.4 282.3v4.0M93.5 284.5h4.0M95.5 282.5v4.0M102.0 284.8h4.0M104.0 282.8v4.0M110.1 285.0h4.0M112.1 283.0v4.0M118.3 285.3h4.0M120.3 283.3v4.0M126.4 285.5h4.0M128.4 283.5v4.0M134.9 285.8h4.0M136.9 283.8v4.0M143.1 286.0h4.0M145.1 284.0v4.0M151.2 286.3h4.0M153.2 284.3v4.0M159.4 286.5h4.0M161.4 284.5v4.0M167.8 286.8h4.0M169.8 284.8v4.0M176.0 287.0h4.0M178.0 285.0v4.0" stroke="#f5b82a" stroke-width="0.8" fill="none"/>
<path d="M21.5 283.0L25.9 294.0L178.0 295.0" fill="none" stroke="#f06ef0" stroke-width="1.35" stroke-linejoin="round"/>
<path d="M21.5 285.4l2.4 -4.2h-4.7zM29.7 296.4l2.4 -4.2h-4.7zM38.1 296.4l2.4 -4.2h-4.7zM46.3 296.5l2.4 -4.2h-4.7zM54.4 296.5l2.4 -4.2h-4.7zM62.6 296.6l2.4 -4.2h-4.7zM71.1 296.6l2.4 -4.2h-4.7zM79.2 296.7l2.4 -4.2h-4.7zM87.4 296.8l2.4 -4.2h-4.7zM95.5 296.8l2.4 -4.2h-4.7zM104.0 296.9l2.4 -4.2h-4.7zM112.1 296.9l2.4 -4.2h-4.7zM120.3 297.0l2.4 -4.2h-4.7zM128.4 297.0l2.4 -4.2h-4.7zM136.9 297.1l2.4 -4.2h-4.7zM145.1 297.1l2.4 -4.2h-4.7zM153.2 297.2l2.4 -4.2h-4.7zM161.4 297.2l2.4 -4.2h-4.7zM169.8 297.3l2.4 -4.2h-4.7zM178.0 297.4l2.4 -4.2h-4.7z" fill="#f06ef0"/>
<path d="M21.5 279.0L27.5 293.0L178.0 294.8" fill="none" stroke="#962828" stroke-width="1.35" stroke-linejoin="round"/>
<path d="M21.5 276.6l2.3 2.4l-2.3 2.4l-2.3 -2.4zM29.7 290.6l2.3 2.4l-2.3 2.4l-2.3 -2.4zM38.1 290.7l2.3 2.4l-2.3 2.4l-2.3 -2.4zM46.3 290.8l2.3 2.4l-2.3 2.4l-2.3 -2.4zM54.4 290.9l2.3 2.4l-2.3 2.4l-2.3 -2.4zM62.6 291.0l2.3 2.4l-2.3 2.4l-2.3 -2.4zM71.1 291.1l2.3 2.4l-2.3 2.4l-2.3 -2.4zM79.2 291.2l2.3 2.4l-2.3 2.4l-2.3 -2.4zM87.4 291.3l2.3 2.4l-2.3 2.4l-2.3 -2.4zM95.5 291.4l2.3 2.4l-2.3 2.4l-2.3 -2.4zM104.0 291.5l2.3 2.4l-2.3 2.4l-2.3 -2.4zM112.1 291.6l2.3 2.4l-2.3 2.4l-2.3 -2.4zM120.3 291.7l2.3 2.4l-2.3 2.4l-2.3 -2.4zM128.4 291.8l2.3 2.4l-2.3 2.4l-2.3 -2.4zM136.9 291.9l2.3 2.4l-2.3 2.4l-2.3 -2.4zM145.1 292.0l2.3 2.4l-2.3 2.4l-2.3 -2.4zM153.2 292.1l2.3 2.4l-2.3 2.4l-2.3 -2.4zM161.4 292.2l2.3 2.4l-2.3 2.4l-2.3 -2.4zM169.8 292.3l2.3 2.4l-2.3 2.4l-2.3 -2.4zM178.0 292.4l2.3 2.4l-2.3 2.4l-2.3 -2.4z" fill="#962828"/>
<path d="M21.5 278.0L24.3 284.0L178.0 285.2" fill="none" stroke="#f5d214" stroke-width="1.35" stroke-linejoin="round"/>
<path d="M19.8 276.2h3.5v3.5h-3.5zM27.9 282.3h3.5v3.5h-3.5zM36.4 282.4h3.5v3.5h-3.5zM44.5 282.4h3.5v3.5h-3.5zM52.7 282.5h3.5v3.5h-3.5zM60.8 282.5h3.5v3.5h-3.5zM69.3 282.6h3.5v3.5h-3.5zM77.5 282.7h3.5v3.5h-3.5zM85.6 282.7h3.5v3.5h-3.5zM93.8 282.8h3.5v3.5h-3.5zM102.2 282.9h3.5v3.5h-3.5zM110.4 282.9h3.5v3.5h-3.5zM118.5 283.0h3.5v3.5h-3.5zM126.7 283.1h3.5v3.5h-3.5zM135.2 283.1h3.5v3.5h-3.5zM143.3 283.2h3.5v3.5h-3.5zM151.5 283.3h3.5v3.5h-3.5zM159.6 283.3h3.5v3.5h-3.5zM168.1 283.4h3.5v3.5h-3.5zM176.2 283.4h3.5v3.5h-3.5z" fill="#f5d214"/>
<path d="M21.5 270.3L23.7 276.8L29.7 276.8L36.9 278.0L55.7 278.3L56.9 281.6L99.6 283.2L112.1 284.4L127.8 285.9L145.7 288.0L178.0 288.5" fill="none" stroke="#b43cf0" stroke-width="1.35" stroke-linejoin="round"/>
<path d="M19.5 270.3a2.00 2.00 0 1 0 4.0 0a2.00 2.00 0 1 0 -4.0 0M27.7 276.8a2.00 2.00 0 1 0 4.0 0a2.00 2.00 0 1 0 -4.0 0M36.1 278.0a2.00 2.00 0 1 0 4.0 0a2.00 2.00 0 1 0 -4.0 0M44.3 278.1a2.00 2.00 0 1 0 4.0 0a2.00 2.00 0 1 0 -4.0 0M52.4 278.3a2.00 2.00 0 1 0 4.0 0a2.00 2.00 0 1 0 -4.0 0M60.6 281.8a2.00 2.00 0 1 0 4.0 0a2.00 2.00 0 1 0 -4.0 0M69.1 282.1a2.00 2.00 0 1 0 4.0 0a2.00 2.00 0 1 0 -4.0 0M77.2 282.4a2.00 2.00 0 1 0 4.0 0a2.00 2.00 0 1 0 -4.0 0M85.4 282.7a2.00 2.00 0 1 0 4.0 0a2.00 2.00 0 1 0 -4.0 0M93.5 283.0a2.00 2.00 0 1 0 4.0 0a2.00 2.00 0 1 0 -4.0 0M102.0 283.6a2.00 2.00 0 1 0 4.0 0a2.00 2.00 0 1 0 -4.0 0M110.1 284.4a2.00 2.00 0 1 0 4.0 0a2.00 2.00 0 1 0 -4.0 0M118.3 285.2a2.00 2.00 0 1 0 4.0 0a2.00 2.00 0 1 0 -4.0 0M126.4 286.0a2.00 2.00 0 1 0 4.0 0a2.00 2.00 0 1 0 -4.0 0M134.9 287.0a2.00 2.00 0 1 0 4.0 0a2.00 2.00 0 1 0 -4.0 0M143.1 287.9a2.00 2.00 0 1 0 4.0 0a2.00 2.00 0 1 0 -4.0 0M151.2 288.1a2.00 2.00 0 1 0 4.0 0a2.00 2.00 0 1 0 -4.0 0M159.4 288.2a2.00 2.00 0 1 0 4.0 0a2.00 2.00 0 1 0 -4.0 0M167.8 288.4a2.00 2.00 0 1 0 4.0 0a2.00 2.00 0 1 0 -4.0 0M176.0 288.5a2.00 2.00 0 1 0 4.0 0a2.00 2.00 0 1 0 -4.0 0" fill="#d77cf5" stroke="#a832e6" stroke-width="0.7"/>
<path d="M21.5 281.0L29.7 283.4L38.1 288.2L46.3 290.0L54.4 292.0L62.6 293.5L71.1 294.5L178.0 295.0" fill="none" stroke="#dc1e32" stroke-width="1.35" stroke-linejoin="round"/>
<path d="M23.9 281.0l-4.2 -2.4v4.7zM32.0 283.4l-4.2 -2.4v4.7zM40.5 288.2l-4.2 -2.4v4.7zM48.6 290.0l-4.2 -2.4v4.7zM56.8 292.0l-4.2 -2.4v4.7zM64.9 293.5l-4.2 -2.4v4.7zM73.4 294.5l-4.2 -2.4v4.7zM81.6 294.5l-4.2 -2.4v4.7zM89.7 294.6l-4.2 -2.4v4.7zM97.9 294.6l-4.2 -2.4v4.7zM106.3 294.7l-4.2 -2.4v4.7zM114.5 294.7l-4.2 -2.4v4.7zM122.6 294.7l-4.2 -2.4v4.7zM130.8 294.8l-4.2 -2.4v4.7zM139.3 294.8l-4.2 -2.4v4.7zM147.4 294.8l-4.2 -2.4v4.7zM155.6 294.9l-4.2 -2.4v4.7zM163.7 294.9l-4.2 -2.4v4.7zM172.2 295.0l-4.2 -2.4v4.7zM180.3 295.0l-4.2 -2.4v4.7z" fill="#dc1e32"/>
<path d="M21.5 284.0L22.3 286.4L23.0 288.3L23.8 289.8L24.5 291.0L25.3 291.9L26.0 292.6L26.8 293.1L27.6 293.6L28.3 293.9L29.1 294.1L29.8 294.3L30.6 294.5L178.0 295.0" fill="none" stroke="#00e6f0" stroke-width="1.35" stroke-linejoin="round"/>
<path d="M21.5 281.4l0.7 1.4l1.5 -0.1l-0.8 1.3l0.8 1.3l-1.5 -0.1l-0.7 1.4l-0.7 -1.4l-1.5 0.1l0.8 -1.3l-0.8 -1.3l1.5 0.1zM29.7 291.7l0.7 1.4l1.5 -0.1l-0.8 1.3l0.8 1.3l-1.5 -0.1l-0.7 1.3l-0.7 -1.3l-1.6 0.1l0.9 -1.3l-0.9 -1.3l1.6 0.1zM38.1 292.0l0.7 1.3l1.5 0.0l-0.8 1.2l0.8 1.3l-1.5 -0.1l-0.7 1.4l-0.7 -1.4l-1.5 0.1l0.8 -1.3l-0.8 -1.2l1.5 0.0zM46.3 292.0l0.7 1.3l1.5 0.0l-0.8 1.3l0.8 1.2l-1.5 0.0l-0.7 1.3l-0.7 -1.3l-1.5 0.0l0.8 -1.2l-0.8 -1.3l1.5 0.0zM54.4 292.0l0.7 1.4l1.5 -0.1l-0.8 1.3l0.8 1.3l-1.5 -0.1l-0.7 1.3l-0.7 -1.3l-1.5 0.1l0.8 -1.3l-0.8 -1.3l1.5 0.1zM62.6 292.1l0.7 1.3l1.5 -0.1l-0.8 1.3l0.8 1.3l-1.5 -0.1l-0.7 1.4l-0.7 -1.4l-1.5 0.1l0.8 -1.3l-0.8 -1.3l1.5 0.1zM71.1 292.1l0.7 1.3l1.5 0.0l-0.8 1.2l0.8 1.3l-1.5 -0.1l-0.7 1.4l-0.7 -1.4l-1.6 0.1l0.9 -1.3l-0.9 -1.2l1.6 0.0zM79.2 292.1l0.7 1.4l1.5 -0.1l-0.8 1.3l0.8 1.2l-1.5 0.0l-0.7 1.3l-0.7 -1.3l-1.5 0.0l0.8 -1.2l-0.8 -1.3l1.5 0.1zM87.4 292.1l0.7 1.4l1.5 -0.1l-0.8 1.3l0.8 1.3l-1.5 -0.1l-0.7 1.3l-0.7 -1.3l-1.5 0.1l0.8 -1.3l-0.8 -1.3l1.5 0.1zM95.5 292.2l0.7 1.3l1.5 -0.1l-0.8 1.3l0.8 1.3l-1.5 -0.1l-0.7 1.4l-0.7 -1.4l-1.5 0.1l0.8 -1.3l-0.8 -1.3l1.5 0.1zM104 292.2l0.7 1.3l1.5 0.0l-0.8 1.2l0.8 1.3l-1.5 0.0l-0.7 1.3l-0.7 -1.3l-1.5 0.0l0.8 -1.3l-0.8 -1.2l1.5 0.0zM112.1 292.2l0.7 1.4l1.5 -0.1l-0.8 1.3l0.8 1.3l-1.5 -0.1l-0.7 1.3l-0.7 -1.3l-1.5 0.1l0.8 -1.3l-0.8 -1.3l1.5 0.1zM120.3 292.3l0.7 1.3l1.5 -0.1l-0.8 1.3l0.8 1.3l-1.5 -0.1l-0.7 1.4l-0.7 -1.4l-1.5 0.1l0.8 -1.3l-0.8 -1.3l1.5 0.1zM128.4 292.3l0.7 1.3l1.6 0.0l-0.9 1.2l0.9 1.3l-1.6 -0.1l-0.7 1.4l-0.7 -1.4l-1.5 0.1l0.8 -1.3l-0.8 -1.2l1.5 0.0zM136.9 292.3l0.7 1.3l1.5 0.0l-0.8 1.3l0.8 1.2l-1.5 0.0l-0.7 1.3l-0.7 -1.3l-1.5 0.0l0.8 -1.2l-0.8 -1.3l1.5 0.0zM145.1 292.3l0.7 1.4l1.5 -0.1l-0.8 1.3l0.8 1.3l-1.5 -0.1l-0.7 1.3l-0.7 -1.3l-1.5 0.1l0.8 -1.3l-0.8 -1.3l1.5 0.1zM153.2 292.4l0.7 1.3l1.5 -0.1l-0.8 1.3l0.8 1.3l-1.5 -0.1l-0.7 1.4l-0.7 -1.4l-1.5 0.1l0.8 -1.3l-0.8 -1.3l1.5 0.1zM161.4 292.4l0.7 1.3l1.5 0.0l-0.8 1.2l0.8 1.3l-1.5 0.0l-0.7 1.3l-0.7 -1.3l-1.5 0.0l0.8 -1.3l-0.8 -1.2l1.5 0.0zM169.8 292.4l0.7 1.4l1.6 -0.1l-0.9 1.3l0.9 1.2l-1.6 0.0l-0.7 1.3l-0.7 -1.3l-1.5 0.0l0.8 -1.2l-0.8 -1.3l1.5 0.1zM178 292.4l0.7 1.4l1.5 -0.1l-0.8 1.3l0.8 1.3l-1.5 -0.1l-0.7 1.4l-0.7 -1.4l-1.5 0.1l0.8 -1.3l-0.8 -1.3l1.5 0.1z" fill="#00e6f0"/>
<path d="M21.5 289.0L24.3 295.5L178.0 295.5" fill="none" stroke="#e6641e" stroke-width="1.35" stroke-linejoin="round"/>
<path d="M21.5 286.6l2.4 4.2h-4.7zM29.7 293.1l2.4 4.2h-4.7zM38.1 293.1l2.4 4.2h-4.7zM46.3 293.1l2.4 4.2h-4.7zM54.4 293.1l2.4 4.2h-4.7zM62.6 293.1l2.4 4.2h-4.7zM71.1 293.1l2.4 4.2h-4.7zM79.2 293.1l2.4 4.2h-4.7zM87.4 293.1l2.4 4.2h-4.7zM95.5 293.1l2.4 4.2h-4.7zM104.0 293.1l2.4 4.2h-4.7zM112.1 293.1l2.4 4.2h-4.7zM120.3 293.1l2.4 4.2h-4.7zM128.4 293.1l2.4 4.2h-4.7zM136.9 293.1l2.4 4.2h-4.7zM145.1 293.1l2.4 4.2h-4.7zM153.2 293.1l2.4 4.2h-4.7zM161.4 293.1l2.4 4.2h-4.7zM169.8 293.1l2.4 4.2h-4.7zM178.0 293.1l2.4 4.2h-4.7z" fill="#e6641e"/>
<path d="M21.5 279.0L22.5 282.7L23.5 285.6L24.6 287.9L25.6 289.6L26.6 291.0L27.6 292.1L28.6 292.9L29.7 293.6L30.7 294.1L31.7 294.5L32.7 294.8L33.7 295.0L178.0 295.3" fill="none" stroke="#1ea096" stroke-width="1.35" stroke-linejoin="round"/>
<path d="M19.1 279.0l4.2 -2.4v4.7zM27.3 293.6l4.2 -2.4v4.7zM35.8 295.0l4.2 -2.4v4.7zM43.9 295.0l4.2 -2.4v4.7zM52.1 295.0l4.2 -2.4v4.7zM60.2 295.1l4.2 -2.4v4.7zM68.7 295.1l4.2 -2.4v4.7zM76.9 295.1l4.2 -2.4v4.7zM85.0 295.1l4.2 -2.4v4.7zM93.2 295.1l4.2 -2.4v4.7zM101.6 295.1l4.2 -2.4v4.7zM109.8 295.2l4.2 -2.4v4.7zM117.9 295.2l4.2 -2.4v4.7zM126.1 295.2l4.2 -2.4v4.7zM134.6 295.2l4.2 -2.4v4.7zM142.7 295.2l4.2 -2.4v4.7zM150.9 295.2l4.2 -2.4v4.7zM159.0 295.3l4.2 -2.4v4.7zM167.5 295.3l4.2 -2.4v4.7zM175.7 295.3l4.2 -2.4v4.7z" fill="#1ea096"/>
<path d="M21.5 285.0L27.5 294.5L178.0 295.0" fill="none" stroke="#7846dc" stroke-width="1.35" stroke-linejoin="round"/>
<path d="M21.5 283.1l1.7 0.9l0 2.0l-1.7 0.9l-1.7 -0.9l0 -2.0zM29.7 292.6l1.6 0.9l0 2.0l-1.6 1.0l-1.7 -1.0l0 -2.0zM38.1 292.6l1.7 1.0l0 1.9l-1.7 1.0l-1.7 -1.0l0 -1.9zM46.3 292.6l1.7 1.0l0 1.9l-1.7 1.0l-1.7 -1.0l0 -1.9zM54.4 292.6l1.7 1.0l0 2.0l-1.7 0.9l-1.7 -0.9l0 -2.0zM62.6 292.7l1.7 0.9l0 2.0l-1.7 1.0l-1.7 -1.0l0 -2.0zM71.1 292.7l1.6 1.0l0 1.9l-1.6 1.0l-1.7 -1.0l0 -1.9zM79.2 292.7l1.7 1.0l0 1.9l-1.7 1.0l-1.7 -1.0l0 -1.9zM87.4 292.7l1.7 1.0l0 2.0l-1.7 0.9l-1.7 -0.9l0 -2.0zM95.5 292.8l1.7 1.0l0 1.9l-1.7 1.0l-1.7 -1.0l0 -1.9zM104 292.8l1.7 1.0l0 1.9l-1.7 1.0l-1.7 -1.0l0 -1.9zM112.1 292.8l1.7 1.0l0 2.0l-1.7 0.9l-1.7 -0.9l0 -2.0zM120.3 292.9l1.7 0.9l0 2.0l-1.7 1.0l-1.7 -1.0l0 -2.0zM128.4 292.9l1.7 1.0l0 1.9l-1.7 1.0l-1.6 -1.0l0 -1.9zM136.9 292.9l1.7 1.0l0 1.9l-1.7 1.0l-1.7 -1.0l0 -1.9zM145.1 292.9l1.7 1.0l0 2.0l-1.7 0.9l-1.7 -0.9l0 -2.0zM153.2 293.0l1.7 0.9l0 2.0l-1.7 1.0l-1.7 -1.0l0 -2.0zM161.4 293.0l1.7 1.0l0 1.9l-1.7 1.0l-1.7 -1.0l0 -1.9zM169.8 293.0l1.7 1.0l0 1.9l-1.7 1.0l-1.6 -1.0l0 -1.9zM178 293.1l1.7 0.9l0 2.0l-1.7 0.9l-1.7 -0.9l0 -2.0z" fill="#7846dc"/>
<path d="M21.5 282.0L25.9 295.5L178.0 295.5" fill="none" stroke="#00f000" stroke-width="1.35" stroke-linejoin="round"/>
<path d="M21.5 284.4l2.4 -4.2h-4.7zM29.7 297.9l2.4 -4.2h-4.7zM38.1 297.9l2.4 -4.2h-4.7zM46.3 297.9l2.4 -4.2h-4.7zM54.4 297.9l2.4 -4.2h-4.7zM62.6 297.9l2.4 -4.2h-4.7zM71.1 297.9l2.4 -4.2h-4.7zM79.2 297.9l2.4 -4.2h-4.7zM87.4 297.9l2.4 -4.2h-4.7zM95.5 297.9l2.4 -4.2h-4.7zM104.0 297.9l2.4 -4.2h-4.7zM112.1 297.9l2.4 -4.2h-4.7zM120.3 297.9l2.4 -4.2h-4.7zM128.4 297.9l2.4 -4.2h-4.7zM136.9 297.9l2.4 -4.2h-4.7zM145.1 297.9l2.4 -4.2h-4.7zM153.2 297.9l2.4 -4.2h-4.7zM161.4 297.9l2.4 -4.2h-4.7zM169.8 297.9l2.4 -4.2h-4.7zM178.0 297.9l2.4 -4.2h-4.7z" fill="#00f000"/>
<path d="M21.5 283.0L22.3 285.8L23.0 288.0L23.8 289.7L24.5 291.0L25.3 292.0L26.0 292.8L26.8 293.4L27.6 293.9L28.3 294.3L29.1 294.6L29.8 294.8L30.6 295.0L178.0 295.3" fill="none" stroke="#1e8cc8" stroke-width="1.35" stroke-linejoin="round"/>
<path d="M21.5 280.4l0.7 1.4l1.5 -0.1l-0.8 1.3l0.8 1.3l-1.5 -0.1l-0.7 1.4l-0.7 -1.4l-1.5 0.1l0.8 -1.3l-0.8 -1.3l1.5 0.1zM29.7 292.2l0.7 1.4l1.5 -0.1l-0.8 1.3l0.8 1.2l-1.5 0.0l-0.7 1.3l-0.7 -1.3l-1.6 0.0l0.9 -1.2l-0.9 -1.3l1.6 0.1zM38.1 292.5l0.7 1.3l1.5 -0.1l-0.8 1.3l0.8 1.3l-1.5 -0.1l-0.7 1.4l-0.7 -1.4l-1.5 0.1l0.8 -1.3l-0.8 -1.3l1.5 0.1zM46.3 292.5l0.7 1.3l1.5 0.0l-0.8 1.2l0.8 1.3l-1.5 -0.1l-0.7 1.4l-0.7 -1.4l-1.5 0.1l0.8 -1.3l-0.8 -1.2l1.5 0.0zM54.4 292.5l0.7 1.3l1.5 0.0l-0.8 1.2l0.8 1.3l-1.5 0.0l-0.7 1.3l-0.7 -1.3l-1.5 0.0l0.8 -1.3l-0.8 -1.2l1.5 0.0zM62.6 292.5l0.7 1.4l1.5 -0.1l-0.8 1.3l0.8 1.2l-1.5 0.0l-0.7 1.3l-0.7 -1.3l-1.5 0.0l0.8 -1.2l-0.8 -1.3l1.5 0.1zM71.1 292.5l0.7 1.4l1.5 -0.1l-0.8 1.3l0.8 1.3l-1.5 -0.1l-0.7 1.3l-0.7 -1.3l-1.6 0.1l0.9 -1.3l-0.9 -1.3l1.6 0.1zM79.2 292.5l0.7 1.4l1.5 -0.1l-0.8 1.3l0.8 1.3l-1.5 -0.1l-0.7 1.3l-0.7 -1.3l-1.5 0.1l0.8 -1.3l-0.8 -1.3l1.5 0.1zM87.4 292.6l0.7 1.3l1.5 -0.1l-0.8 1.3l0.8 1.3l-1.5 -0.1l-0.7 1.4l-0.7 -1.4l-1.5 0.1l0.8 -1.3l-0.8 -1.3l1.5 0.1zM95.5 292.6l0.7 1.3l1.5 0.0l-0.8 1.2l0.8 1.3l-1.5 -0.1l-0.7 1.4l-0.7 -1.4l-1.5 0.1l0.8 -1.3l-0.8 -1.2l1.5 0.0zM104 292.6l0.7 1.3l1.5 0.0l-0.8 1.2l0.8 1.3l-1.5 0.0l-0.7 1.3l-0.7 -1.3l-1.5 0.0l0.8 -1.3l-0.8 -1.2l1.5 0.0zM112.1 292.6l0.7 1.4l1.5 -0.1l-0.8 1.3l0.8 1.2l-1.5 0.0l-0.7 1.3l-0.7 -1.3l-1.5 0.0l0.8 -1.2l-0.8 -1.3l1.5 0.1zM120.3 292.6l0.7 1.4l1.5 -0.1l-0.8 1.3l0.8 1.3l-1.5 -0.1l-0.7 1.3l-0.7 -1.3l-1.5 0.1l0.8 -1.3l-0.8 -1.3l1.5 0.1zM128.4 292.6l0.7 1.4l1.6 -0.1l-0.9 1.3l0.9 1.3l-1.6 -0.1l-0.7 1.3l-0.7 -1.3l-1.5 0.1l0.8 -1.3l-0.8 -1.3l1.5 0.1zM136.9 292.7l0.7 1.3l1.5 -0.1l-0.8 1.3l0.8 1.3l-1.5 -0.1l-0.7 1.4l-0.7 -1.4l-1.5 0.1l0.8 -1.3l-0.8 -1.3l1.5 0.1zM145.1 292.7l0.7 1.3l1.5 0.0l-0.8 1.2l0.8 1.3l-1.5 -0.1l-0.7 1.4l-0.7 -1.4l-1.5 0.1l0.8 -1.3l-0.8 -1.2l1.5 0.0zM153.2 292.7l0.7 1.3l1.5 0.0l-0.8 1.2l0.8 1.3l-1.5 0.0l-0.7 1.3l-0.7 -1.3l-1.5 0.0l0.8 -1.3l-0.8 -1.2l1.5 0.0zM161.4 292.7l0.7 1.4l1.5 -0.1l-0.8 1.3l0.8 1.2l-1.5 0.0l-0.7 1.3l-0.7 -1.3l-1.5 0.0l0.8 -1.2l-0.8 -1.3l1.5 0.1zM169.8 292.7l0.7 1.4l1.6 -0.1l-0.9 1.3l0.9 1.3l-1.6 -0.1l-0.7 1.3l-0.7 -1.3l-1.5 0.1l0.8 -1.3l-0.8 -1.3l1.5 0.1zM178 292.8l0.7 1.3l1.5 -0.1l-0.8 1.3l0.8 1.3l-1.5 -0.1l-0.7 1.4l-0.7 -1.4l-1.5 0.1l0.8 -1.3l-0.8 -1.3l1.5 0.1z" fill="#1e8cc8"/>
</g>
<text x="99.75" y="169.40" class="ti" text-anchor="middle">cec12</text>
<text x="99.75" y="311.50" class="lb" text-anchor="middle">Iteration</text>
<text transform="translate(10.60 233.80) rotate(-90)" class="lb" text-anchor="middle">Fitness value</text>
<rect x="131.10" y="175.60" width="43.5" height="88" fill="#fff" stroke="#8a8a8a" stroke-width="0.6"/>
<path d="M132.70 179.50H146.70" stroke="#ff0000" stroke-width="1.1"/>
<path d="M137.8 179.5a2.00 2.00 0 1 0 4.0 0a2.00 2.00 0 1 0 -4.0 0" fill="#ff0000"/>
<text x="148.10" y="181.05" class="lg">COA</text>
<path d="M132.70 185.26H146.70" stroke="#0000ff" stroke-width="1.1"/>
<path d="M139.8 182.9l2.4 4.2h-4.7z" fill="#0000ff"/>
<text x="148.10" y="186.81" class="lg">CMRLCCOA</text>
<path d="M132.70 191.02H146.70" stroke="#5aa832" stroke-width="1.1"/>
<path d="M138.7 189.9h2.2v2.2h-2.2z" fill="#3f8c14"/>
<text x="148.10" y="192.57" class="lg">KOA</text>
<path d="M132.70 196.78H146.70" stroke="#f5b82a" stroke-width="1.1"/>
<path d="M137.8 196.8h4.0M139.8 194.8v4.0" stroke="#f5b82a" stroke-width="0.8" fill="none"/>
<text x="148.10" y="198.33" class="lg">SWO</text>
<path d="M132.70 202.54H146.70" stroke="#f06ef0" stroke-width="1.1"/>
<path d="M139.8 204.9l2.4 -4.2h-4.7z" fill="#f06ef0"/>
<text x="148.10" y="204.09" class="lg">GMO</text>
<path d="M132.70 208.30H146.70" stroke="#962828" stroke-width="1.1"/>
<path d="M139.8 205.9l2.3 2.4l-2.3 2.4l-2.3 -2.4z" fill="#962828"/>
<text x="148.10" y="209.85" class="lg">OMA</text>
<path d="M132.70 214.06H146.70" stroke="#f5d214" stroke-width="1.1"/>
<path d="M138.0 212.3h3.5v3.5h-3.5z" fill="#f5d214"/>
<text x="148.10" y="215.61" class="lg">TROA</text>
<path d="M132.70 219.82H146.70" stroke="#b43cf0" stroke-width="1.1"/>
<path d="M137.8 219.8a2.00 2.00 0 1 0 4.0 0a2.00 2.00 0 1 0 -4.0 0" fill="#d77cf5" stroke="#a832e6" stroke-width="0.7"/>
<text x="148.10" y="221.37" class="lg">GO</text>
<path d="M132.70 225.58H146.70" stroke="#dc1e32" stroke-width="1.1"/>
<path d="M142.1 225.6l-4.2 -2.4v4.7z" fill="#dc1e32"/>
<text x="148.10" y="227.13" class="lg">PSO</text>
<path d="M132.70 231.34H146.70" stroke="#00e6f0" stroke-width="1.1"/>
<path d="M139.8 228.8l0.7 1.3l1.5 0.0l-0.8 1.2l0.8 1.3l-1.5 0.0l-0.7 1.3l-0.7 -1.3l-1.5 0.0l0.8 -1.3l-0.8 -1.2l1.5 0.0z" fill="#00e6f0"/>
<text x="148.10" y="232.89" class="lg">DE</text>
<path d="M132.70 237.10H146.70" stroke="#e6641e" stroke-width="1.1"/>
<path d="M139.8 234.8l2.4 4.2h-4.7z" fill="#e6641e"/>
<text x="148.10" y="238.65" class="lg">SA</text>
<path d="M132.70 242.86H146.70" stroke="#1ea096" stroke-width="1.1"/>
<path d="M137.4 242.9l4.2 -2.4v4.7z" fill="#1ea096"/>
<text x="148.10" y="244.41" class="lg">ABC</text>
<path d="M132.70 248.62H146.70" stroke="#7846dc" stroke-width="1.1"/>
<path d="M139.8 246.7l1.7 0.9l0 2.0l-1.7 1.0l-1.7 -1.0l0 -2.0z" fill="#7846dc"/>
<text x="148.10" y="250.17" class="lg">ISSA</text>
<path d="M132.70 254.38H146.70" stroke="#00f000" stroke-width="1.1"/>
<path d="M139.8 256.7l2.4 -4.2h-4.7z" fill="#00f000"/>
<text x="148.10" y="255.93" class="lg">IGWO</text>
<path d="M132.70 260.14H146.70" stroke="#1e8cc8" stroke-width="1.1"/>
<path d="M139.8 257.6l0.7 1.3l1.5 0.0l-0.8 1.2l0.8 1.3l-1.5 0.0l-0.7 1.3l-0.7 -1.3l-1.5 0.0l0.8 -1.3l-0.8 -1.2l1.5 0.0z" fill="#1e8cc8"/>
<text x="148.10" y="261.69" class="lg">EWOA</text>
<rect x="200.5" y="172" width="160.0" height="123.60000000000002" fill="none" stroke="#9a9a9a" stroke-width="0.8"/>
<path d="M216.21 295.6v-1.6M216.21 172v1.6" stroke="#666" stroke-width="0.5"/>
<text x="216.21" y="302.65" class="tk" text-anchor="middle">50</text>
<path d="M232.24 295.6v-1.6M232.24 172v1.6" stroke="#666" stroke-width="0.5"/>
<text x="232.24" y="302.65" class="tk" text-anchor="middle">100</text>
<path d="M248.28 295.6v-1.6M248.28 172v1.6" stroke="#666" stroke-width="0.5"/>
<text x="248.28" y="302.65" class="tk" text-anchor="middle">150</text>
<path d="M264.31 295.6v-1.6M264.31 172v1.6" stroke="#666" stroke-width="0.5"/>
<text x="264.31" y="302.65" class="tk" text-anchor="middle">200</text>
<path d="M280.34 295.6v-1.6M280.34 172v1.6" stroke="#666" stroke-width="0.5"/>
<text x="280.34" y="302.65" class="tk" text-anchor="middle">250</text>
<path d="M296.37 295.6v-1.6M296.37 172v1.6" stroke="#666" stroke-width="0.5"/>
<text x="296.37" y="302.65" class="tk" text-anchor="middle">300</text>
<path d="M312.40 295.6v-1.6M312.40 172v1.6" stroke="#666" stroke-width="0.5"/>
<text x="312.40" y="302.65" class="tk" text-anchor="middle">350</text>
<path d="M328.44 295.6v-1.6M328.44 172v1.6" stroke="#666" stroke-width="0.5"/>
<text x="328.44" y="302.65" class="tk" text-anchor="middle">400</text>
<path d="M344.47 295.6v-1.6M344.47 172v1.6" stroke="#666" stroke-width="0.5"/>
<text x="344.47" y="302.65" class="tk" text-anchor="middle">450</text>
<path d="M360.50 295.6v-1.6M360.50 172v1.6" stroke="#666" stroke-width="0.5"/>
<text x="360.50" y="302.65" class="tk" text-anchor="middle">500</text>
<path d="M200.5 185.90h1.6M360.5 185.90h-1.6" stroke="#666" stroke-width="0.5"/>
<text x="198.50" y="187.50" class="tk" text-anchor="end">7</text>
<path d="M200.5 201.58h1.6M360.5 201.58h-1.6" stroke="#666" stroke-width="0.5"/>
<text x="198.50" y="203.18" class="tk" text-anchor="end">6</text>
<path d="M200.5 217.26h1.6M360.5 217.26h-1.6" stroke="#666" stroke-width="0.5"/>
<text x="198.50" y="218.86" class="tk" text-anchor="end">5</text>
<path d="M200.5 232.94h1.6M360.5 232.94h-1.6" stroke="#666" stroke-width="0.5"/>
<text x="198.50" y="234.54" class="tk" text-anchor="end">4</text>
<path d="M200.5 248.62h1.6M360.5 248.62h-1.6" stroke="#666" stroke-width="0.5"/>
<text x="198.50" y="250.22" class="tk" text-anchor="end">3</text>
<path d="M200.5 264.30h1.6M360.5 264.30h-1.6" stroke="#666" stroke-width="0.5"/>
<text x="198.50" y="265.90" class="tk" text-anchor="end">2</text>
<path d="M200.5 279.98h1.6M360.5 279.98h-1.6" stroke="#666" stroke-width="0.5"/>
<text x="198.50" y="281.58" class="tk" text-anchor="end">1</text>
<text x="201.30" y="170.60" class="tk ex">×10<tspan class="sup" dy="-1.8">11</tspan></text>
<clipPath id="ccec13"><rect x="195.5" y="167" width="170.0" height="133.60000000000002"/></clipPath>
<g clip-path="url(#ccec13)">
<path d="M200.5 276.8L203.4 284.5L213.0 288.3L360.5 288.8" fill="none" stroke="#ff0000" stroke-width="1.35" stroke-linejoin="round"/>
<path d="M198.5 276.8a2.00 2.00 0 1 0 4.0 0a2.00 2.00 0 1 0 -4.0 0M206.8 286.7a2.00 2.00 0 1 0 4.0 0a2.00 2.00 0 1 0 -4.0 0M215.5 288.3a2.00 2.00 0 1 0 4.0 0a2.00 2.00 0 1 0 -4.0 0M223.8 288.3a2.00 2.00 0 1 0 4.0 0a2.00 2.00 0 1 0 -4.0 0M232.2 288.4a2.00 2.00 0 1 0 4.0 0a2.00 2.00 0 1 0 -4.0 0M240.5 288.4a2.00 2.00 0 1 0 4.0 0a2.00 2.00 0 1 0 -4.0 0M249.2 288.4a2.00 2.00 0 1 0 4.0 0a2.00 2.00 0 1 0 -4.0 0M257.5 288.5a2.00 2.00 0 1 0 4.0 0a2.00 2.00 0 1 0 -4.0 0M265.8 288.5a2.00 2.00 0 1 0 4.0 0a2.00 2.00 0 1 0 -4.0 0M274.2 288.5a2.00 2.00 0 1 0 4.0 0a2.00 2.00 0 1 0 -4.0 0M282.8 288.5a2.00 2.00 0 1 0 4.0 0a2.00 2.00 0 1 0 -4.0 0M291.2 288.6a2.00 2.00 0 1 0 4.0 0a2.00 2.00 0 1 0 -4.0 0M299.5 288.6a2.00 2.00 0 1 0 4.0 0a2.00 2.00 0 1 0 -4.0 0M307.8 288.6a2.00 2.00 0 1 0 4.0 0a2.00 2.00 0 1 0 -4.0 0M316.5 288.7a2.00 2.00 0 1 0 4.0 0a2.00 2.00 0 1 0 -4.0 0M324.8 288.7a2.00 2.00 0 1 0 4.0 0a2.00 2.00 0 1 0 -4.0 0M333.2 288.7a2.00 2.00 0 1 0 4.0 0a2.00 2.00 0 1 0 -4.0 0M341.5 288.7a2.00 2.00 0 1 0 4.0 0a2.00 2.00 0 1 0 -4.0 0M350.2 288.8a2.00 2.00 0 1 0 4.0 0a2.00 2.00 0 1 0 -4.0 0M358.5 288.8a2.00 2.00 0 1 0 4.0 0a2.00 2.00 0 1 0 -4.0 0" fill="#ff0000"/>
<path d="M200.5 172.0L200.8 295.0L360.5 295.0" fill="none" stroke="#0000ff" stroke-width="1.35" stroke-linejoin="round"/>
<path d="M200.5 169.7l2.4 4.2h-4.7zM208.8 292.6l2.4 4.2h-4.7zM217.5 292.6l2.4 4.2h-4.7zM225.8 292.6l2.4 4.2h-4.7zM234.2 292.6l2.4 4.2h-4.7zM242.5 292.6l2.4 4.2h-4.7zM251.2 292.6l2.4 4.2h-4.7zM259.5 292.6l2.4 4.2h-4.7zM267.8 292.6l2.4 4.2h-4.7zM276.2 292.6l2.4 4.2h-4.7zM284.8 292.6l2.4 4.2h-4.7zM293.2 292.6l2.4 4.2h-4.7zM301.5 292.6l2.4 4.2h-4.7zM309.8 292.6l2.4 4.2h-4.7zM318.5 292.6l2.4 4.2h-4.7zM326.8 292.6l2.4 4.2h-4.7zM335.2 292.6l2.4 4.2h-4.7zM343.5 292.6l2.4 4.2h-4.7zM352.2 292.6l2.4 4.2h-4.7zM360.5 292.6l2.4 4.2h-4.7z" fill="#0000ff"/>
<path d="M200.5 278.0L206.6 285.5L232.2 285.5L235.4 288.7L296.4 289.0L302.8 291.6L360.5 291.6" fill="none" stroke="#5aa832" stroke-width="1.35" stroke-linejoin="round"/>
<path d="M199.4 276.9h2.2v2.2h-2.2zM207.8 284.4h2.2v2.2h-2.2zM216.4 284.4h2.2v2.2h-2.2zM224.7 284.4h2.2v2.2h-2.2zM233.1 286.3h2.2v2.2h-2.2zM241.4 287.6h2.2v2.2h-2.2zM250.1 287.7h2.2v2.2h-2.2zM258.4 287.7h2.2v2.2h-2.2zM266.7 287.8h2.2v2.2h-2.2zM275.1 287.8h2.2v2.2h-2.2zM283.7 287.9h2.2v2.2h-2.2zM292.1 287.9h2.2v2.2h-2.2zM300.4 290.0h2.2v2.2h-2.2zM308.8 290.5h2.2v2.2h-2.2zM317.4 290.5h2.2v2.2h-2.2zM325.7 290.5h2.2v2.2h-2.2zM334.1 290.5h2.2v2.2h-2.2zM342.4 290.5h2.2v2.2h-2.2zM351.1 290.5h2.2v2.2h-2.2zM359.4 290.5h2.2v2.2h-2.2z" fill="#3f8c14"/>
<path d="M200.5 280.0L203.4 283.4L296.4 286.1L299.6 288.4L360.5 288.6" fill="none" stroke="#f5b82a" stroke-width="1.35" stroke-linejoin="round"/>
<path d="M198.5 280.0h4.0M200.5 278.0v4.0M206.8 283.6h4.0M208.8 281.6v4.0M215.5 283.8h4.0M217.5 281.8v4.0M223.8 284.1h4.0M225.8 282.1v4.0M232.2 284.3h4.0M234.2 282.3v4.0M240.5 284.5h4.0M242.5 282.5v4.0M249.2 284.8h4.0M251.2 282.8v4.0M257.5 285.0h4.0M259.5 283.0v4.0M265.8 285.3h4.0M267.8 283.3v4.0M274.2 285.5h4.0M276.2 283.5v4.0M282.8 285.8h4.0M284.8 283.8v4.0M291.2 286.0h4.0M293.2 284.0v4.0M299.5 288.4h4.0M301.5 286.4v4.0M307.8 288.4h4.0M309.8 286.4v4.0M316.5 288.5h4.0M318.5 286.5v4.0M324.8 288.5h4.0M326.8 286.5v4.0M333.2 288.5h4.0M335.2 286.5v4.0M341.5 288.5h4.0M343.5 286.5v4.0M350.2 288.6h4.0M352.2 286.6v4.0M358.5 288.6h4.0M360.5 286.6v4.0" stroke="#f5b82a" stroke-width="0.8" fill="none"/>
<path d="M200.5 285.0L205.0 293.0L360.5 294.0" fill="none" stroke="#f06ef0" stroke-width="1.35" stroke-linejoin="round"/>
<path d="M200.5 287.4l2.4 -4.2h-4.7zM208.8 295.4l2.4 -4.2h-4.7zM217.5 295.4l2.4 -4.2h-4.7zM225.8 295.5l2.4 -4.2h-4.7zM234.2 295.5l2.4 -4.2h-4.7zM242.5 295.6l2.4 -4.2h-4.7zM251.2 295.6l2.4 -4.2h-4.7zM259.5 295.7l2.4 -4.2h-4.7zM267.8 295.8l2.4 -4.2h-4.7zM276.2 295.8l2.4 -4.2h-4.7zM284.8 295.9l2.4 -4.2h-4.7zM293.2 295.9l2.4 -4.2h-4.7zM301.5 296.0l2.4 -4.2h-4.7zM309.8 296.0l2.4 -4.2h-4.7zM318.5 296.1l2.4 -4.2h-4.7zM326.8 296.1l2.4 -4.2h-4.7zM335.2 296.2l2.4 -4.2h-4.7zM343.5 296.2l2.4 -4.2h-4.7zM352.2 296.3l2.4 -4.2h-4.7zM360.5 296.4l2.4 -4.2h-4.7z" fill="#f06ef0"/>
<path d="M200.5 282.0L209.8 290.0L360.5 292.5" fill="none" stroke="#962828" stroke-width="1.35" stroke-linejoin="round"/>
<path d="M200.5 279.6l2.3 2.4l-2.3 2.4l-2.3 -2.4zM208.8 286.8l2.3 2.4l-2.3 2.4l-2.3 -2.4zM217.5 287.7l2.3 2.4l-2.3 2.4l-2.3 -2.4zM225.8 287.9l2.3 2.4l-2.3 2.4l-2.3 -2.4zM234.2 288.0l2.3 2.4l-2.3 2.4l-2.3 -2.4zM242.5 288.1l2.3 2.4l-2.3 2.4l-2.3 -2.4zM251.2 288.3l2.3 2.4l-2.3 2.4l-2.3 -2.4zM259.5 288.4l2.3 2.4l-2.3 2.4l-2.3 -2.4zM267.8 288.6l2.3 2.4l-2.3 2.4l-2.3 -2.4zM276.2 288.7l2.3 2.4l-2.3 2.4l-2.3 -2.4zM284.8 288.8l2.3 2.4l-2.3 2.4l-2.3 -2.4zM293.2 289.0l2.3 2.4l-2.3 2.4l-2.3 -2.4zM301.5 289.1l2.3 2.4l-2.3 2.4l-2.3 -2.4zM309.8 289.3l2.3 2.4l-2.3 2.4l-2.3 -2.4zM318.5 289.4l2.3 2.4l-2.3 2.4l-2.3 -2.4zM326.8 289.5l2.3 2.4l-2.3 2.4l-2.3 -2.4zM335.2 289.7l2.3 2.4l-2.3 2.4l-2.3 -2.4zM343.5 289.8l2.3 2.4l-2.3 2.4l-2.3 -2.4zM352.2 290.0l2.3 2.4l-2.3 2.4l-2.3 -2.4zM360.5 290.1l2.3 2.4l-2.3 2.4l-2.3 -2.4z" fill="#962828"/>
<path d="M200.5 283.0L201.8 289.2L360.5 290.0" fill="none" stroke="#f5d214" stroke-width="1.35" stroke-linejoin="round"/>
<path d="M198.8 281.2h3.5v3.5h-3.5zM207.1 287.5h3.5v3.5h-3.5zM215.7 287.5h3.5v3.5h-3.5zM224.1 287.6h3.5v3.5h-3.5zM232.4 287.6h3.5v3.5h-3.5zM240.8 287.7h3.5v3.5h-3.5zM249.4 287.7h3.5v3.5h-3.5zM257.7 287.7h3.5v3.5h-3.5zM266.1 287.8h3.5v3.5h-3.5zM274.4 287.8h3.5v3.5h-3.5zM283.1 287.9h3.5v3.5h-3.5zM291.4 287.9h3.5v3.5h-3.5zM299.8 288.0h3.5v3.5h-3.5zM308.1 288.0h3.5v3.5h-3.5zM316.7 288.0h3.5v3.5h-3.5zM325.1 288.1h3.5v3.5h-3.5zM333.4 288.1h3.5v3.5h-3.5zM341.8 288.2h3.5v3.5h-3.5zM350.4 288.2h3.5v3.5h-3.5zM358.8 288.2h3.5v3.5h-3.5z" fill="#f5d214"/>
<path d="M200.5 234.8L201.1 276.8L224.2 276.8L224.2 280.5L240.3 280.5L240.3 282.9L280.3 283.2L301.8 283.2L301.8 289.2L360.5 290.0" fill="none" stroke="#b43cf0" stroke-width="1.35" stroke-linejoin="round"/>
<path d="M198.5 234.8a2.00 2.00 0 1 0 4.0 0a2.00 2.00 0 1 0 -4.0 0M206.8 276.8a2.00 2.00 0 1 0 4.0 0a2.00 2.00 0 1 0 -4.0 0M215.5 276.8a2.00 2.00 0 1 0 4.0 0a2.00 2.00 0 1 0 -4.0 0M223.8 280.5a2.00 2.00 0 1 0 4.0 0a2.00 2.00 0 1 0 -4.0 0M232.2 280.5a2.00 2.00 0 1 0 4.0 0a2.00 2.00 0 1 0 -4.0 0M240.5 282.9a2.00 2.00 0 1 0 4.0 0a2.00 2.00 0 1 0 -4.0 0M249.2 283.0a2.00 2.00 0 1 0 4.0 0a2.00 2.00 0 1 0 -4.0 0M257.5 283.0a2.00 2.00 0 1 0 4.0 0a2.00 2.00 0 1 0 -4.0 0M265.8 283.1a2.00 2.00 0 1 0 4.0 0a2.00 2.00 0 1 0 -4.0 0M274.2 283.2a2.00 2.00 0 1 0 4.0 0a2.00 2.00 0 1 0 -4.0 0M282.8 283.2a2.00 2.00 0 1 0 4.0 0a2.00 2.00 0 1 0 -4.0 0M291.2 283.2a2.00 2.00 0 1 0 4.0 0a2.00 2.00 0 1 0 -4.0 0M299.5 283.2a2.00 2.00 0 1 0 4.0 0a2.00 2.00 0 1 0 -4.0 0M307.8 289.3a2.00 2.00 0 1 0 4.0 0a2.00 2.00 0 1 0 -4.0 0M316.5 289.4a2.00 2.00 0 1 0 4.0 0a2.00 2.00 0 1 0 -4.0 0M324.8 289.5a2.00 2.00 0 1 0 4.0 0a2.00 2.00 0 1 0 -4.0 0M333.2 289.7a2.00 2.00 0 1 0 4.0 0a2.00 2.00 0 1 0 -4.0 0M341.5 289.8a2.00 2.00 0 1 0 4.0 0a2.00 2.00 0 1 0 -4.0 0M350.2 289.9a2.00 2.00 0 1 0 4.0 0a2.00 2.00 0 1 0 -4.0 0M358.5 290.0a2.00 2.00 0 1 0 4.0 0a2.00 2.00 0 1 0 -4.0 0" fill="#d77cf5" stroke="#a832e6" stroke-width="0.7"/>
<path d="M200.5 276.8L240.3 293.5L360.5 294.0" fill="none" stroke="#dc1e32" stroke-width="1.35" stroke-linejoin="round"/>
<path d="M202.8 276.8l-4.2 -2.4v4.7zM211.2 280.3l-4.2 -2.4v4.7zM219.8 283.9l-4.2 -2.4v4.7zM228.2 287.4l-4.2 -2.4v4.7zM236.5 290.9l-4.2 -2.4v4.7zM244.9 293.5l-4.2 -2.4v4.7zM253.5 293.5l-4.2 -2.4v4.7zM261.8 293.6l-4.2 -2.4v4.7zM270.2 293.6l-4.2 -2.4v4.7zM278.5 293.6l-4.2 -2.4v4.7zM287.2 293.7l-4.2 -2.4v4.7zM295.5 293.7l-4.2 -2.4v4.7zM303.9 293.8l-4.2 -2.4v4.7zM312.2 293.8l-4.2 -2.4v4.7zM320.8 293.8l-4.2 -2.4v4.7zM329.2 293.9l-4.2 -2.4v4.7zM337.5 293.9l-4.2 -2.4v4.7zM345.9 293.9l-4.2 -2.4v4.7zM354.5 294.0l-4.2 -2.4v4.7zM362.9 294.0l-4.2 -2.4v4.7z" fill="#dc1e32"/>
<path d="M200.5 283.0L201.1 285.7L201.8 287.8L202.4 289.4L203.1 290.7L203.7 291.6L204.3 292.4L205.0 293.0L205.6 293.5L206.3 293.8L206.9 294.1L207.6 294.3L208.2 294.5L360.5 294.7" fill="none" stroke="#00e6f0" stroke-width="1.35" stroke-linejoin="round"/>
<path d="M200.5 280.4l0.7 1.4l1.5 -0.1l-0.8 1.3l0.8 1.3l-1.5 -0.1l-0.7 1.4l-0.7 -1.4l-1.5 0.1l0.8 -1.3l-0.8 -1.3l1.5 0.1zM208.8 292.0l0.7 1.3l1.5 -0.1l-0.8 1.3l0.8 1.3l-1.5 -0.1l-0.7 1.4l-0.7 -1.4l-1.5 0.1l0.8 -1.3l-0.8 -1.3l1.5 0.1zM217.5 292.0l0.7 1.3l1.5 -0.1l-0.8 1.3l0.8 1.3l-1.5 -0.1l-0.7 1.4l-0.7 -1.4l-1.5 0.1l0.8 -1.3l-0.8 -1.3l1.5 0.1zM225.8 292.0l0.7 1.3l1.5 -0.1l-0.8 1.3l0.8 1.3l-1.5 -0.1l-0.7 1.4l-0.7 -1.4l-1.5 0.1l0.8 -1.3l-0.8 -1.3l1.5 0.1zM234.2 292.0l0.7 1.3l1.5 0.0l-0.8 1.2l0.8 1.3l-1.5 -0.1l-0.7 1.4l-0.7 -1.4l-1.5 0.1l0.8 -1.3l-0.8 -1.2l1.5 0.0zM242.5 292.0l0.7 1.3l1.5 0.0l-0.8 1.2l0.8 1.3l-1.5 0.0l-0.7 1.3l-0.7 -1.3l-1.5 0.0l0.8 -1.3l-0.8 -1.2l1.5 0.0zM251.2 292.0l0.7 1.3l1.5 0.0l-0.8 1.3l0.8 1.2l-1.5 0.0l-0.7 1.3l-0.7 -1.3l-1.5 0.0l0.8 -1.2l-0.8 -1.3l1.5 0.0zM259.5 292.0l0.7 1.4l1.5 -0.1l-0.8 1.3l0.8 1.2l-1.5 0.0l-0.7 1.3l-0.7 -1.3l-1.5 0.0l0.8 -1.2l-0.8 -1.3l1.5 0.1zM267.8 292.0l0.7 1.4l1.5 -0.1l-0.8 1.3l0.8 1.3l-1.5 -0.1l-0.7 1.3l-0.7 -1.3l-1.5 0.1l0.8 -1.3l-0.8 -1.3l1.5 0.1zM276.2 292.0l0.7 1.4l1.5 -0.1l-0.8 1.3l0.8 1.3l-1.5 -0.1l-0.7 1.3l-0.7 -1.3l-1.5 0.1l0.8 -1.3l-0.8 -1.3l1.5 0.1zM284.8 292.1l0.7 1.3l1.5 -0.1l-0.8 1.3l0.8 1.3l-1.5 -0.1l-0.7 1.4l-0.7 -1.4l-1.5 0.1l0.8 -1.3l-0.8 -1.3l1.5 0.1zM293.2 292.1l0.7 1.3l1.5 -0.1l-0.8 1.3l0.8 1.3l-1.5 -0.1l-0.7 1.4l-0.7 -1.4l-1.5 0.1l0.8 -1.3l-0.8 -1.3l1.5 0.1zM301.5 292.1l0.7 1.3l1.5 -0.1l-0.8 1.3l0.8 1.3l-1.5 -0.1l-0.7 1.4l-0.7 -1.4l-1.5 0.1l0.8 -1.3l-0.8 -1.3l1.5 0.1zM309.8 292.1l0.7 1.3l1.5 0.0l-0.8 1.2l0.8 1.3l-1.5 -0.1l-0.7 1.4l-0.7 -1.4l-1.5 0.1l0.8 -1.3l-0.8 -1.2l1.5 0.0zM318.5 292.1l0.7 1.3l1.5 0.0l-0.8 1.2l0.8 1.3l-1.5 0.0l-0.7 1.3l-0.7 -1.3l-1.5 0.0l0.8 -1.3l-0.8 -1.2l1.5 0.0zM326.8 292.1l0.7 1.3l1.5 0.0l-0.8 1.3l0.8 1.2l-1.5 0.0l-0.7 1.3l-0.7 -1.3l-1.5 0.0l0.8 -1.2l-0.8 -1.3l1.5 0.0zM335.2 292.1l0.7 1.4l1.5 -0.1l-0.8 1.3l0.8 1.2l-1.5 0.0l-0.7 1.3l-0.7 -1.3l-1.5 0.0l0.8 -1.2l-0.8 -1.3l1.5 0.1zM343.5 292.1l0.7 1.4l1.5 -0.1l-0.8 1.3l0.8 1.3l-1.5 -0.1l-0.7 1.3l-0.7 -1.3l-1.5 0.1l0.8 -1.3l-0.8 -1.3l1.5 0.1zM352.2 292.1l0.7 1.4l1.5 -0.1l-0.8 1.3l0.8 1.3l-1.5 -0.1l-0.7 1.3l-0.7 -1.3l-1.5 0.1l0.8 -1.3l-0.8 -1.3l1.5 0.1zM360.5 292.1l0.7 1.4l1.5 -0.1l-0.8 1.3l0.8 1.3l-1.5 -0.1l-0.7 1.3l-0.7 -1.3l-1.5 0.1l0.8 -1.3l-0.8 -1.3l1.5 0.1z" fill="#00e6f0"/>
<path d="M200.5 286.3L203.4 293.0L360.5 294.0" fill="none" stroke="#e6641e" stroke-width="1.35" stroke-linejoin="round"/>
<path d="M200.5 283.9l2.4 4.2h-4.7zM208.8 290.7l2.4 4.2h-4.7zM217.5 290.7l2.4 4.2h-4.7zM225.8 290.8l2.4 4.2h-4.7zM234.2 290.8l2.4 4.2h-4.7zM242.5 290.9l2.4 4.2h-4.7zM251.2 291.0l2.4 4.2h-4.7zM259.5 291.0l2.4 4.2h-4.7zM267.8 291.1l2.4 4.2h-4.7zM276.2 291.1l2.4 4.2h-4.7zM284.8 291.2l2.4 4.2h-4.7zM293.2 291.2l2.4 4.2h-4.7zM301.5 291.3l2.4 4.2h-4.7zM309.8 291.3l2.4 4.2h-4.7zM318.5 291.4l2.4 4.2h-4.7zM326.8 291.4l2.4 4.2h-4.7zM335.2 291.5l2.4 4.2h-4.7zM343.5 291.5l2.4 4.2h-4.7zM352.2 291.6l2.4 4.2h-4.7zM360.5 291.6l2.4 4.2h-4.7z" fill="#e6641e"/>
<path d="M200.5 281.0L201.3 284.1L202.0 286.6L202.8 288.5L203.6 290.0L204.4 291.1L205.1 292.0L205.9 292.7L206.7 293.3L207.5 293.7L208.2 294.0L209.0 294.3L209.8 294.5L360.5 294.7" fill="none" stroke="#1ea096" stroke-width="1.35" stroke-linejoin="round"/>
<path d="M198.2 281.0l4.2 -2.4v4.7zM206.5 294.2l4.2 -2.4v4.7zM215.1 294.5l4.2 -2.4v4.7zM223.5 294.5l4.2 -2.4v4.7zM231.8 294.5l4.2 -2.4v4.7zM240.2 294.5l4.2 -2.4v4.7zM248.8 294.6l4.2 -2.4v4.7zM257.1 294.6l4.2 -2.4v4.7zM265.5 294.6l4.2 -2.4v4.7zM273.8 294.6l4.2 -2.4v4.7zM282.5 294.6l4.2 -2.4v4.7zM290.8 294.6l4.2 -2.4v4.7zM299.2 294.6l4.2 -2.4v4.7zM307.5 294.6l4.2 -2.4v4.7zM316.1 294.6l4.2 -2.4v4.7zM324.5 294.7l4.2 -2.4v4.7zM332.8 294.7l4.2 -2.4v4.7zM341.2 294.7l4.2 -2.4v4.7zM349.8 294.7l4.2 -2.4v4.7zM358.1 294.7l4.2 -2.4v4.7z" fill="#1ea096"/>
<path d="M200.5 284.0L205.0 294.0L360.5 294.5" fill="none" stroke="#7846dc" stroke-width="1.35" stroke-linejoin="round"/>
<path d="M200.5 282.1l1.7 0.9l0 2.0l-1.7 0.9l-1.7 -0.9l0 -2.0zM208.8 292.1l1.7 0.9l0 2.0l-1.7 1.0l-1.7 -1.0l0 -2.0zM217.5 292.1l1.7 1.0l0 1.9l-1.7 1.0l-1.7 -1.0l0 -1.9zM225.8 292.1l1.7 1.0l0 1.9l-1.7 1.0l-1.7 -1.0l0 -1.9zM234.2 292.1l1.7 1.0l0 2.0l-1.7 0.9l-1.7 -0.9l0 -2.0zM242.5 292.2l1.7 0.9l0 2.0l-1.7 1.0l-1.7 -1.0l0 -2.0zM251.2 292.2l1.7 1.0l0 1.9l-1.7 1.0l-1.7 -1.0l0 -1.9zM259.5 292.2l1.7 1.0l0 2.0l-1.7 0.9l-1.7 -0.9l0 -2.0zM267.8 292.3l1.7 0.9l0 2.0l-1.7 1.0l-1.7 -1.0l0 -2.0zM276.2 292.3l1.7 1.0l0 1.9l-1.7 1.0l-1.7 -1.0l0 -1.9zM284.8 292.3l1.7 1.0l0 1.9l-1.7 1.0l-1.7 -1.0l0 -1.9zM293.2 292.3l1.7 1.0l0 2.0l-1.7 0.9l-1.7 -0.9l0 -2.0zM301.5 292.4l1.7 0.9l0 2.0l-1.7 1.0l-1.7 -1.0l0 -2.0zM309.8 292.4l1.7 1.0l0 1.9l-1.7 1.0l-1.7 -1.0l0 -1.9zM318.5 292.4l1.7 1.0l0 1.9l-1.7 1.0l-1.7 -1.0l0 -1.9zM326.8 292.4l1.7 1.0l0 2.0l-1.7 0.9l-1.7 -0.9l0 -2.0zM335.2 292.5l1.7 0.9l0 2.0l-1.7 1.0l-1.7 -1.0l0 -2.0zM343.5 292.5l1.7 1.0l0 1.9l-1.7 1.0l-1.7 -1.0l0 -1.9zM352.2 292.5l1.7 1.0l0 1.9l-1.7 1.0l-1.7 -1.0l0 -1.9zM360.5 292.6l1.7 0.9l0 2.0l-1.7 0.9l-1.7 -0.9l0 -2.0z" fill="#7846dc"/>
<path d="M200.5 282.0L203.4 295.5L360.5 295.5" fill="none" stroke="#00f000" stroke-width="1.35" stroke-linejoin="round"/>
<path d="M200.5 284.4l2.4 -4.2h-4.7zM208.8 297.9l2.4 -4.2h-4.7zM217.5 297.9l2.4 -4.2h-4.7zM225.8 297.9l2.4 -4.2h-4.7zM234.2 297.9l2.4 -4.2h-4.7zM242.5 297.9l2.4 -4.2h-4.7zM251.2 297.9l2.4 -4.2h-4.7zM259.5 297.9l2.4 -4.2h-4.7zM267.8 297.9l2.4 -4.2h-4.7zM276.2 297.9l2.4 -4.2h-4.7zM284.8 297.9l2.4 -4.2h-4.7zM293.2 297.9l2.4 -4.2h-4.7zM301.5 297.9l2.4 -4.2h-4.7zM309.8 297.9l2.4 -4.2h-4.7zM318.5 297.9l2.4 -4.2h-4.7zM326.8 297.9l2.4 -4.2h-4.7zM335.2 297.9l2.4 -4.2h-4.7zM343.5 297.9l2.4 -4.2h-4.7zM352.2 297.9l2.4 -4.2h-4.7zM360.5 297.9l2.4 -4.2h-4.7z" fill="#00f000"/>
<path d="M200.5 280.0L201.1 283.4L201.8 286.1L202.4 288.2L203.1 289.8L203.7 291.0L204.3 292.0L205.0 292.8L205.6 293.4L206.3 293.8L206.9 294.2L207.6 294.5L208.2 294.7L360.5 294.9" fill="none" stroke="#1e8cc8" stroke-width="1.35" stroke-linejoin="round"/>
<path d="M200.5 277.4l0.7 1.4l1.5 -0.1l-0.8 1.3l0.8 1.3l-1.5 -0.1l-0.7 1.4l-0.7 -1.4l-1.5 0.1l0.8 -1.3l-0.8 -1.3l1.5 0.1zM208.8 292.2l0.7 1.3l1.5 -0.1l-0.8 1.3l0.8 1.3l-1.5 -0.1l-0.7 1.4l-0.7 -1.4l-1.5 0.1l0.8 -1.3l-0.8 -1.3l1.5 0.1zM217.5 292.2l0.7 1.3l1.5 -0.1l-0.8 1.3l0.8 1.3l-1.5 -0.1l-0.7 1.4l-0.7 -1.4l-1.5 0.1l0.8 -1.3l-0.8 -1.3l1.5 0.1zM225.8 292.2l0.7 1.3l1.5 -0.1l-0.8 1.3l0.8 1.3l-1.5 -0.1l-0.7 1.4l-0.7 -1.4l-1.5 0.1l0.8 -1.3l-0.8 -1.3l1.5 0.1zM234.2 292.2l0.7 1.3l1.5 0.0l-0.8 1.2l0.8 1.3l-1.5 -0.1l-0.7 1.4l-0.7 -1.4l-1.5 0.1l0.8 -1.3l-0.8 -1.2l1.5 0.0zM242.5 292.2l0.7 1.3l1.5 0.0l-0.8 1.2l0.8 1.3l-1.5 0.0l-0.7 1.3l-0.7 -1.3l-1.5 0.0l0.8 -1.3l-0.8 -1.2l1.5 0.0zM251.2 292.2l0.7 1.3l1.5 0.0l-0.8 1.3l0.8 1.2l-1.5 0.0l-0.7 1.3l-0.7 -1.3l-1.5 0.0l0.8 -1.2l-0.8 -1.3l1.5 0.0zM259.5 292.2l0.7 1.4l1.5 -0.1l-0.8 1.3l0.8 1.2l-1.5 0.0l-0.7 1.3l-0.7 -1.3l-1.5 0.0l0.8 -1.2l-0.8 -1.3l1.5 0.1zM267.8 292.2l0.7 1.4l1.5 -0.1l-0.8 1.3l0.8 1.3l-1.5 -0.1l-0.7 1.3l-0.7 -1.3l-1.5 0.1l0.8 -1.3l-0.8 -1.3l1.5 0.1zM276.2 292.2l0.7 1.4l1.5 -0.1l-0.8 1.3l0.8 1.3l-1.5 -0.1l-0.7 1.3l-0.7 -1.3l-1.5 0.1l0.8 -1.3l-0.8 -1.3l1.5 0.1zM284.8 292.3l0.7 1.3l1.5 -0.1l-0.8 1.3l0.8 1.3l-1.5 -0.1l-0.7 1.4l-0.7 -1.4l-1.5 0.1l0.8 -1.3l-0.8 -1.3l1.5 0.1zM293.2 292.3l0.7 1.3l1.5 -0.1l-0.8 1.3l0.8 1.3l-1.5 -0.1l-0.7 1.4l-0.7 -1.4l-1.5 0.1l0.8 -1.3l-0.8 -1.3l1.5 0.1zM301.5 292.3l0.7 1.3l1.5 -0.1l-0.8 1.3l0.8 1.3l-1.5 -0.1l-0.7 1.4l-0.7 -1.4l-1.5 0.1l0.8 -1.3l-0.8 -1.3l1.5 0.1zM309.8 292.3l0.7 1.3l1.5 0.0l-0.8 1.2l0.8 1.3l-1.5 -0.1l-0.7 1.4l-0.7 -1.4l-1.5 0.1l0.8 -1.3l-0.8 -1.2l1.5 0.0zM318.5 292.3l0.7 1.3l1.5 0.0l-0.8 1.2l0.8 1.3l-1.5 0.0l-0.7 1.3l-0.7 -1.3l-1.5 0.0l0.8 -1.3l-0.8 -1.2l1.5 0.0zM326.8 292.3l0.7 1.3l1.5 0.0l-0.8 1.3l0.8 1.2l-1.5 0.0l-0.7 1.3l-0.7 -1.3l-1.5 0.0l0.8 -1.2l-0.8 -1.3l1.5 0.0zM335.2 292.3l0.7 1.4l1.5 -0.1l-0.8 1.3l0.8 1.2l-1.5 0.0l-0.7 1.3l-0.7 -1.3l-1.5 0.0l0.8 -1.2l-0.8 -1.3l1.5 0.1zM343.5 292.3l0.7 1.4l1.5 -0.1l-0.8 1.3l0.8 1.3l-1.5 -0.1l-0.7 1.3l-0.7 -1.3l-1.5 0.1l0.8 -1.3l-0.8 -1.3l1.5 0.1zM352.2 292.3l0.7 1.4l1.5 -0.1l-0.8 1.3l0.8 1.3l-1.5 -0.1l-0.7 1.3l-0.7 -1.3l-1.5 0.1l0.8 -1.3l-0.8 -1.3l1.5 0.1zM360.5 292.3l0.7 1.4l1.5 -0.1l-0.8 1.3l0.8 1.3l-1.5 -0.1l-0.7 1.3l-0.7 -1.3l-1.5 0.1l0.8 -1.3l-0.8 -1.3l1.5 0.1z" fill="#1e8cc8"/>
</g>
<text x="280.50" y="169.40" class="ti" text-anchor="middle">cec13</text>
<text x="280.50" y="311.50" class="lb" text-anchor="middle">Iteration</text>
<text transform="translate(192.80 233.80) rotate(-90)" class="lb" text-anchor="middle">Fitness value</text>
<rect x="312.80" y="175.60" width="43.5" height="88" fill="#fff" stroke="#8a8a8a" stroke-width="0.6"/>
<path d="M314.40 179.50H328.40" stroke="#ff0000" stroke-width="1.1"/>
<path d="M319.5 179.5a2.00 2.00 0 1 0 4.0 0a2.00 2.00 0 1 0 -4.0 0" fill="#ff0000"/>
<text x="329.80" y="181.05" class="lg">COA</text>
<path d="M314.40 185.26H328.40" stroke="#0000ff" stroke-width="1.1"/>
<path d="M321.5 182.9l2.4 4.2h-4.7z" fill="#0000ff"/>
<text x="329.80" y="186.81" class="lg">CMRLCCOA</text>
<path d="M314.40 191.02H328.40" stroke="#5aa832" stroke-width="1.1"/>
<path d="M320.4 189.9h2.2v2.2h-2.2z" fill="#3f8c14"/>
<text x="329.80" y="192.57" class="lg">KOA</text>
<path d="M314.40 196.78H328.40" stroke="#f5b82a" stroke-width="1.1"/>
<path d="M319.5 196.8h4.0M321.5 194.8v4.0" stroke="#f5b82a" stroke-width="0.8" fill="none"/>
<text x="329.80" y="198.33" class="lg">SWO</text>
<path d="M314.40 202.54H328.40" stroke="#f06ef0" stroke-width="1.1"/>
<path d="M321.5 204.9l2.4 -4.2h-4.7z" fill="#f06ef0"/>
<text x="329.80" y="204.09" class="lg">GMO</text>
<path d="M314.40 208.30H328.40" stroke="#962828" stroke-width="1.1"/>
<path d="M321.5 205.9l2.3 2.4l-2.3 2.4l-2.3 -2.4z" fill="#962828"/>
<text x="329.80" y="209.85" class="lg">OMA</text>
<path d="M314.40 214.06H328.40" stroke="#f5d214" stroke-width="1.1"/>
<path d="M319.8 212.3h3.5v3.5h-3.5z" fill="#f5d214"/>
<text x="329.80" y="215.61" class="lg">TROA</text>
<path d="M314.40 219.82H328.40" stroke="#b43cf0" stroke-width="1.1"/>
<path d="M319.5 219.8a2.00 2.00 0 1 0 4.0 0a2.00 2.00 0 1 0 -4.0 0" fill="#d77cf5" stroke="#a832e6" stroke-width="0.7"/>
<text x="329.80" y="221.37" class="lg">GO</text>
<path d="M314.40 225.58H328.40" stroke="#dc1e32" stroke-width="1.1"/>
<path d="M323.9 225.6l-4.2 -2.4v4.7z" fill="#dc1e32"/>
<text x="329.80" y="227.13" class="lg">PSO</text>
<path d="M314.40 231.34H328.40" stroke="#00e6f0" stroke-width="1.1"/>
<path d="M321.5 228.8l0.7 1.3l1.5 0.0l-0.8 1.2l0.8 1.3l-1.5 0.0l-0.7 1.3l-0.7 -1.3l-1.5 0.0l0.8 -1.3l-0.8 -1.2l1.5 0.0z" fill="#00e6f0"/>
<text x="329.80" y="232.89" class="lg">DE</text>
<path d="M314.40 237.10H328.40" stroke="#e6641e" stroke-width="1.1"/>
<path d="M321.5 234.8l2.4 4.2h-4.7z" fill="#e6641e"/>
<text x="329.80" y="238.65" class="lg">SA</text>
<path d="M314.40 242.86H328.40" stroke="#1ea096" stroke-width="1.1"/>
<path d="M319.1 242.9l4.2 -2.4v4.7z" fill="#1ea096"/>
<text x="329.80" y="244.41" class="lg">ABC</text>
<path d="M314.40 248.62H328.40" stroke="#7846dc" stroke-width="1.1"/>
<path d="M321.5 246.7l1.7 0.9l0 2.0l-1.7 1.0l-1.7 -1.0l0 -2.0z" fill="#7846dc"/>
<text x="329.80" y="250.17" class="lg">ISSA</text>
<path d="M314.40 254.38H328.40" stroke="#00f000" stroke-width="1.1"/>
<path d="M321.5 256.7l2.4 -4.2h-4.7z" fill="#00f000"/>
<text x="329.80" y="255.93" class="lg">IGWO</text>
<path d="M314.40 260.14H328.40" stroke="#1e8cc8" stroke-width="1.1"/>
<path d="M321.5 257.6l0.7 1.3l1.5 0.0l-0.8 1.2l0.8 1.3l-1.5 0.0l-0.7 1.3l-0.7 -1.3l-1.5 0.0l0.8 -1.3l-0.8 -1.2l1.5 0.0z" fill="#1e8cc8"/>
<text x="329.80" y="261.69" class="lg">EWOA</text>
<rect x="386.5" y="172" width="155.5" height="123.60000000000002" fill="none" stroke="#9a9a9a" stroke-width="0.8"/>
<path d="M401.77 295.6v-1.6M401.77 172v1.6" stroke="#666" stroke-width="0.5"/>
<text x="401.77" y="302.65" class="tk" text-anchor="middle">50</text>
<path d="M417.35 295.6v-1.6M417.35 172v1.6" stroke="#666" stroke-width="0.5"/>
<text x="417.35" y="302.65" class="tk" text-anchor="middle">100</text>
<path d="M432.93 295.6v-1.6M432.93 172v1.6" stroke="#666" stroke-width="0.5"/>
<text x="432.93" y="302.65" class="tk" text-anchor="middle">150</text>
<path d="M448.51 295.6v-1.6M448.51 172v1.6" stroke="#666" stroke-width="0.5"/>
<text x="448.51" y="302.65" class="tk" text-anchor="middle">200</text>
<path d="M464.09 295.6v-1.6M464.09 172v1.6" stroke="#666" stroke-width="0.5"/>
<text x="464.09" y="302.65" class="tk" text-anchor="middle">250</text>
<path d="M479.68 295.6v-1.6M479.68 172v1.6" stroke="#666" stroke-width="0.5"/>
<text x="479.68" y="302.65" class="tk" text-anchor="middle">300</text>
<path d="M495.26 295.6v-1.6M495.26 172v1.6" stroke="#666" stroke-width="0.5"/>
<text x="495.26" y="302.65" class="tk" text-anchor="middle">350</text>
<path d="M510.84 295.6v-1.6M510.84 172v1.6" stroke="#666" stroke-width="0.5"/>
<text x="510.84" y="302.65" class="tk" text-anchor="middle">400</text>
<path d="M526.42 295.6v-1.6M526.42 172v1.6" stroke="#666" stroke-width="0.5"/>
<text x="526.42" y="302.65" class="tk" text-anchor="middle">450</text>
<path d="M542.00 295.6v-1.6M542.00 172v1.6" stroke="#666" stroke-width="0.5"/>
<text x="542.00" y="302.65" class="tk" text-anchor="middle">500</text>
<path d="M386.5 176.10h1.6M542 176.10h-1.6" stroke="#666" stroke-width="0.5"/>
<text x="384.50" y="177.70" class="tk" text-anchor="end">2</text>
<path d="M386.5 215.30h1.6M542 215.30h-1.6" stroke="#666" stroke-width="0.5"/>
<text x="384.50" y="216.90" class="tk" text-anchor="end">1.5</text>
<path d="M386.5 254.50h1.6M542 254.50h-1.6" stroke="#666" stroke-width="0.5"/>
<text x="384.50" y="256.10" class="tk" text-anchor="end">1</text>
<path d="M386.5 293.70h1.6M542 293.70h-1.6" stroke="#666" stroke-width="0.5"/>
<text x="384.50" y="295.30" class="tk" text-anchor="end">0.5</text>
<text x="387.30" y="170.60" class="tk ex">×10<tspan class="sup" dy="-1.8">4</tspan></text>
<clipPath id="ccec17"><rect x="381.5" y="167" width="165.5" height="133.60000000000002"/></clipPath>
<g clip-path="url(#ccec17)">
<path d="M386.5 255.0L394.0 279.5L542.0 281.0" fill="none" stroke="#ff0000" stroke-width="1.35" stroke-linejoin="round"/>
<path d="M384.5 255.0a2.00 2.00 0 1 0 4.0 0a2.00 2.00 0 1 0 -4.0 0M392.6 279.5a2.00 2.00 0 1 0 4.0 0a2.00 2.00 0 1 0 -4.0 0M401.0 279.6a2.00 2.00 0 1 0 4.0 0a2.00 2.00 0 1 0 -4.0 0M409.1 279.7a2.00 2.00 0 1 0 4.0 0a2.00 2.00 0 1 0 -4.0 0M417.2 279.8a2.00 2.00 0 1 0 4.0 0a2.00 2.00 0 1 0 -4.0 0M425.3 279.8a2.00 2.00 0 1 0 4.0 0a2.00 2.00 0 1 0 -4.0 0M433.7 279.9a2.00 2.00 0 1 0 4.0 0a2.00 2.00 0 1 0 -4.0 0M441.8 280.0a2.00 2.00 0 1 0 4.0 0a2.00 2.00 0 1 0 -4.0 0M449.9 280.1a2.00 2.00 0 1 0 4.0 0a2.00 2.00 0 1 0 -4.0 0M458.0 280.2a2.00 2.00 0 1 0 4.0 0a2.00 2.00 0 1 0 -4.0 0M466.5 280.3a2.00 2.00 0 1 0 4.0 0a2.00 2.00 0 1 0 -4.0 0M474.6 280.3a2.00 2.00 0 1 0 4.0 0a2.00 2.00 0 1 0 -4.0 0M482.7 280.4a2.00 2.00 0 1 0 4.0 0a2.00 2.00 0 1 0 -4.0 0M490.8 280.5a2.00 2.00 0 1 0 4.0 0a2.00 2.00 0 1 0 -4.0 0M499.2 280.6a2.00 2.00 0 1 0 4.0 0a2.00 2.00 0 1 0 -4.0 0M507.3 280.7a2.00 2.00 0 1 0 4.0 0a2.00 2.00 0 1 0 -4.0 0M515.4 280.8a2.00 2.00 0 1 0 4.0 0a2.00 2.00 0 1 0 -4.0 0M523.5 280.8a2.00 2.00 0 1 0 4.0 0a2.00 2.00 0 1 0 -4.0 0M531.9 280.9a2.00 2.00 0 1 0 4.0 0a2.00 2.00 0 1 0 -4.0 0M540.0 281.0a2.00 2.00 0 1 0 4.0 0a2.00 2.00 0 1 0 -4.0 0" fill="#ff0000"/>
<path d="M386.5 172.0L386.8 262.0L395.5 282.9L542.0 284.8" fill="none" stroke="#0000ff" stroke-width="1.35" stroke-linejoin="round"/>
<path d="M386.5 169.7l2.4 4.2h-4.7zM394.6 278.3l2.4 4.2h-4.7zM403.0 280.6l2.4 4.2h-4.7zM411.1 280.8l2.4 4.2h-4.7zM419.2 280.9l2.4 4.2h-4.7zM427.3 281.0l2.4 4.2h-4.7zM435.7 281.1l2.4 4.2h-4.7zM443.8 281.2l2.4 4.2h-4.7zM451.9 281.3l2.4 4.2h-4.7zM460.0 281.4l2.4 4.2h-4.7zM468.5 281.5l2.4 4.2h-4.7zM476.6 281.6l2.4 4.2h-4.7zM484.7 281.7l2.4 4.2h-4.7zM492.8 281.8l2.4 4.2h-4.7zM501.2 281.9l2.4 4.2h-4.7zM509.3 282.0l2.4 4.2h-4.7zM517.4 282.1l2.4 4.2h-4.7zM525.5 282.2l2.4 4.2h-4.7zM533.9 282.3l2.4 4.2h-4.7zM542.0 282.4l2.4 4.2h-4.7z" fill="#0000ff"/>
<path d="M386.5 256.7L416.4 256.7L416.4 258.9L542.0 259.3" fill="none" stroke="#5aa832" stroke-width="1.35" stroke-linejoin="round"/>
<path d="M385.4 255.6h2.2v2.2h-2.2zM393.5 255.6h2.2v2.2h-2.2zM401.9 255.6h2.2v2.2h-2.2zM410.0 255.6h2.2v2.2h-2.2zM418.1 257.8h2.2v2.2h-2.2zM426.2 257.8h2.2v2.2h-2.2zM434.7 257.9h2.2v2.2h-2.2zM442.8 257.9h2.2v2.2h-2.2zM450.9 257.9h2.2v2.2h-2.2zM459.0 258.0h2.2v2.2h-2.2zM467.4 258.0h2.2v2.2h-2.2zM475.5 258.0h2.2v2.2h-2.2zM483.6 258.0h2.2v2.2h-2.2zM491.7 258.1h2.2v2.2h-2.2zM500.1 258.1h2.2v2.2h-2.2zM508.2 258.1h2.2v2.2h-2.2zM516.3 258.1h2.2v2.2h-2.2zM524.4 258.2h2.2v2.2h-2.2zM532.8 258.2h2.2v2.2h-2.2zM540.9 258.2h2.2v2.2h-2.2z" fill="#3f8c14"/>
<path d="M386.5 258.9L415.8 258.9L415.8 261.1L542.0 261.5" fill="none" stroke="#f5b82a" stroke-width="1.35" stroke-linejoin="round"/>
<path d="M384.5 258.9h4.0M386.5 256.9v4.0M392.6 258.9h4.0M394.6 256.9v4.0M401.0 258.9h4.0M403.0 256.9v4.0M409.1 258.9h4.0M411.1 256.9v4.0M417.2 261.1h4.0M419.2 259.1v4.0M425.3 261.1h4.0M427.3 259.1v4.0M433.7 261.2h4.0M435.7 259.2v4.0M441.8 261.2h4.0M443.8 259.2v4.0M449.9 261.2h4.0M451.9 259.2v4.0M458.0 261.2h4.0M460.0 259.2v4.0M466.5 261.3h4.0M468.5 259.3v4.0M474.6 261.3h4.0M476.6 259.3v4.0M482.7 261.3h4.0M484.7 259.3v4.0M490.8 261.3h4.0M492.8 259.3v4.0M499.2 261.4h4.0M501.2 259.4v4.0M507.3 261.4h4.0M509.3 259.4v4.0M515.4 261.4h4.0M517.4 259.4v4.0M523.5 261.4h4.0M525.5 259.4v4.0M531.9 261.5h4.0M533.9 259.5v4.0M540.0 261.5h4.0M542.0 259.5v4.0" stroke="#f5b82a" stroke-width="0.8" fill="none"/>
<path d="M386.5 262.0L395.5 272.0L436.0 275.6L445.4 286.5L542.0 287.0" fill="none" stroke="#f06ef0" stroke-width="1.35" stroke-linejoin="round"/>
<path d="M386.5 264.4l2.4 -4.2h-4.7zM394.6 273.3l2.4 -4.2h-4.7zM403.0 275.0l2.4 -4.2h-4.7zM411.1 275.7l2.4 -4.2h-4.7zM419.2 276.5l2.4 -4.2h-4.7zM427.3 277.2l2.4 -4.2h-4.7zM435.7 277.9l2.4 -4.2h-4.7zM443.8 287.0l2.4 -4.2h-4.7zM451.9 288.9l2.4 -4.2h-4.7zM460.0 288.9l2.4 -4.2h-4.7zM468.5 289.0l2.4 -4.2h-4.7zM476.6 289.0l2.4 -4.2h-4.7zM484.7 289.1l2.4 -4.2h-4.7zM492.8 289.1l2.4 -4.2h-4.7zM501.2 289.1l2.4 -4.2h-4.7zM509.3 289.2l2.4 -4.2h-4.7zM517.4 289.2l2.4 -4.2h-4.7zM525.5 289.3l2.4 -4.2h-4.7zM533.9 289.3l2.4 -4.2h-4.7zM542.0 289.4l2.4 -4.2h-4.7z" fill="#f06ef0"/>
<path d="M386.5 262.0L398.7 269.8L470.3 271.0L470.3 271.0L470.3 273.0L542.0 273.2" fill="none" stroke="#962828" stroke-width="1.35" stroke-linejoin="round"/>
<path d="M386.5 259.6l2.3 2.4l-2.3 2.4l-2.3 -2.4zM394.6 264.8l2.3 2.4l-2.3 2.4l-2.3 -2.4zM403.0 267.5l2.3 2.4l-2.3 2.4l-2.3 -2.4zM411.1 267.6l2.3 2.4l-2.3 2.4l-2.3 -2.4zM419.2 267.7l2.3 2.4l-2.3 2.4l-2.3 -2.4zM427.3 267.9l2.3 2.4l-2.3 2.4l-2.3 -2.4zM435.7 268.0l2.3 2.4l-2.3 2.4l-2.3 -2.4zM443.8 268.2l2.3 2.4l-2.3 2.4l-2.3 -2.4zM451.9 268.3l2.3 2.4l-2.3 2.4l-2.3 -2.4zM460.0 268.4l2.3 2.4l-2.3 2.4l-2.3 -2.4zM468.5 268.6l2.3 2.4l-2.3 2.4l-2.3 -2.4zM476.6 270.6l2.3 2.4l-2.3 2.4l-2.3 -2.4zM484.7 270.6l2.3 2.4l-2.3 2.4l-2.3 -2.4zM492.8 270.7l2.3 2.4l-2.3 2.4l-2.3 -2.4zM501.2 270.7l2.3 2.4l-2.3 2.4l-2.3 -2.4zM509.3 270.7l2.3 2.4l-2.3 2.4l-2.3 -2.4zM517.4 270.7l2.3 2.4l-2.3 2.4l-2.3 -2.4zM525.5 270.8l2.3 2.4l-2.3 2.4l-2.3 -2.4zM533.9 270.8l2.3 2.4l-2.3 2.4l-2.3 -2.4zM542.0 270.8l2.3 2.4l-2.3 2.4l-2.3 -2.4z" fill="#962828"/>
<path d="M386.5 263.0L397.1 266.9L448.5 267.5L451.6 276.4L489.0 278.6L542.0 278.6" fill="none" stroke="#f5d214" stroke-width="1.35" stroke-linejoin="round"/>
<path d="M384.8 261.2h3.5v3.5h-3.5zM392.9 264.2h3.5v3.5h-3.5zM401.3 265.2h3.5v3.5h-3.5zM409.4 265.3h3.5v3.5h-3.5zM417.5 265.4h3.5v3.5h-3.5zM425.6 265.5h3.5v3.5h-3.5zM434.0 265.6h3.5v3.5h-3.5zM442.1 265.7h3.5v3.5h-3.5zM450.2 274.7h3.5v3.5h-3.5zM458.3 275.1h3.5v3.5h-3.5zM466.7 275.6h3.5v3.5h-3.5zM474.8 276.1h3.5v3.5h-3.5zM482.9 276.6h3.5v3.5h-3.5zM491.0 276.9h3.5v3.5h-3.5zM499.4 276.9h3.5v3.5h-3.5zM507.5 276.9h3.5v3.5h-3.5zM515.6 276.9h3.5v3.5h-3.5zM523.7 276.9h3.5v3.5h-3.5zM532.1 276.9h3.5v3.5h-3.5zM540.2 276.9h3.5v3.5h-3.5z" fill="#f5d214"/>
<path d="M386.5 249.5L391.8 252.4L416.4 252.4L416.4 260.4L442.6 260.4L442.6 264.0L542.0 264.0" fill="none" stroke="#b43cf0" stroke-width="1.35" stroke-linejoin="round"/>
<path d="M384.5 249.5a2.00 2.00 0 1 0 4.0 0a2.00 2.00 0 1 0 -4.0 0M392.6 252.4a2.00 2.00 0 1 0 4.0 0a2.00 2.00 0 1 0 -4.0 0M401.0 252.4a2.00 2.00 0 1 0 4.0 0a2.00 2.00 0 1 0 -4.0 0M409.1 252.4a2.00 2.00 0 1 0 4.0 0a2.00 2.00 0 1 0 -4.0 0M417.2 260.4a2.00 2.00 0 1 0 4.0 0a2.00 2.00 0 1 0 -4.0 0M425.3 260.4a2.00 2.00 0 1 0 4.0 0a2.00 2.00 0 1 0 -4.0 0M433.7 260.4a2.00 2.00 0 1 0 4.0 0a2.00 2.00 0 1 0 -4.0 0M441.8 264.0a2.00 2.00 0 1 0 4.0 0a2.00 2.00 0 1 0 -4.0 0M449.9 264.0a2.00 2.00 0 1 0 4.0 0a2.00 2.00 0 1 0 -4.0 0M458.0 264.0a2.00 2.00 0 1 0 4.0 0a2.00 2.00 0 1 0 -4.0 0M466.5 264.0a2.00 2.00 0 1 0 4.0 0a2.00 2.00 0 1 0 -4.0 0M474.6 264.0a2.00 2.00 0 1 0 4.0 0a2.00 2.00 0 1 0 -4.0 0M482.7 264.0a2.00 2.00 0 1 0 4.0 0a2.00 2.00 0 1 0 -4.0 0M490.8 264.0a2.00 2.00 0 1 0 4.0 0a2.00 2.00 0 1 0 -4.0 0M499.2 264.0a2.00 2.00 0 1 0 4.0 0a2.00 2.00 0 1 0 -4.0 0M507.3 264.0a2.00 2.00 0 1 0 4.0 0a2.00 2.00 0 1 0 -4.0 0M515.4 264.0a2.00 2.00 0 1 0 4.0 0a2.00 2.00 0 1 0 -4.0 0M523.5 264.0a2.00 2.00 0 1 0 4.0 0a2.00 2.00 0 1 0 -4.0 0M531.9 264.0a2.00 2.00 0 1 0 4.0 0a2.00 2.00 0 1 0 -4.0 0M540.0 264.0a2.00 2.00 0 1 0 4.0 0a2.00 2.00 0 1 0 -4.0 0" fill="#d77cf5" stroke="#a832e6" stroke-width="0.7"/>
<path d="M386.5 258.0L398.7 281.5L542.0 282.5" fill="none" stroke="#dc1e32" stroke-width="1.35" stroke-linejoin="round"/>
<path d="M388.9 258.0l-4.2 -2.4v4.7zM397.0 273.7l-4.2 -2.4v4.7zM405.4 281.5l-4.2 -2.4v4.7zM413.5 281.6l-4.2 -2.4v4.7zM421.6 281.6l-4.2 -2.4v4.7zM429.7 281.7l-4.2 -2.4v4.7zM438.1 281.8l-4.2 -2.4v4.7zM446.2 281.8l-4.2 -2.4v4.7zM454.3 281.9l-4.2 -2.4v4.7zM462.4 281.9l-4.2 -2.4v4.7zM470.8 282.0l-4.2 -2.4v4.7zM478.9 282.0l-4.2 -2.4v4.7zM487.0 282.1l-4.2 -2.4v4.7zM495.1 282.2l-4.2 -2.4v4.7zM503.5 282.2l-4.2 -2.4v4.7zM511.6 282.3l-4.2 -2.4v4.7zM519.7 282.3l-4.2 -2.4v4.7zM527.8 282.4l-4.2 -2.4v4.7zM536.2 282.4l-4.2 -2.4v4.7zM544.4 282.5l-4.2 -2.4v4.7z" fill="#dc1e32"/>
<path d="M386.5 263.0L395.5 268.0L436.0 277.0L489.0 277.0L489.0 281.7L542.0 281.7" fill="none" stroke="#00e6f0" stroke-width="1.35" stroke-linejoin="round"/>
<path d="M386.5 260.4l0.7 1.4l1.5 -0.1l-0.8 1.3l0.8 1.3l-1.5 -0.1l-0.7 1.4l-0.7 -1.4l-1.5 0.1l0.8 -1.3l-0.8 -1.3l1.5 0.1zM394.6 264.9l0.7 1.4l1.5 -0.1l-0.8 1.3l0.8 1.3l-1.5 -0.1l-0.7 1.3l-0.7 -1.3l-1.5 0.1l0.8 -1.3l-0.8 -1.3l1.5 0.1zM403 267.1l0.7 1.3l1.5 0.0l-0.8 1.3l0.8 1.2l-1.5 0.0l-0.7 1.3l-0.7 -1.3l-1.5 0.0l0.8 -1.2l-0.8 -1.3l1.5 0.0zM411.1 268.9l0.7 1.3l1.5 0.0l-0.8 1.3l0.8 1.2l-1.5 0.0l-0.7 1.3l-0.7 -1.3l-1.5 0.0l0.8 -1.2l-0.8 -1.3l1.5 0.0zM419.2 270.7l0.7 1.3l1.5 0.0l-0.8 1.3l0.8 1.2l-1.5 0.0l-0.7 1.3l-0.7 -1.3l-1.5 0.0l0.8 -1.2l-0.8 -1.3l1.5 0.0zM427.3 272.5l0.7 1.3l1.5 0.0l-0.8 1.3l0.8 1.2l-1.5 0.0l-0.7 1.3l-0.7 -1.3l-1.5 0.0l0.8 -1.2l-0.8 -1.3l1.5 0.0zM435.7 274.4l0.7 1.3l1.5 0.0l-0.8 1.2l0.8 1.3l-1.5 -0.1l-0.7 1.4l-0.7 -1.4l-1.5 0.1l0.8 -1.3l-0.8 -1.2l1.5 0.0zM443.8 274.4l0.7 1.4l1.5 -0.1l-0.8 1.3l0.8 1.3l-1.5 -0.1l-0.7 1.4l-0.7 -1.4l-1.5 0.1l0.8 -1.3l-0.8 -1.3l1.5 0.1zM451.9 274.4l0.7 1.4l1.5 -0.1l-0.8 1.3l0.8 1.3l-1.5 -0.1l-0.7 1.4l-0.7 -1.4l-1.5 0.1l0.8 -1.3l-0.8 -1.3l1.5 0.1zM460 274.4l0.7 1.4l1.6 -0.1l-0.9 1.3l0.9 1.3l-1.6 -0.1l-0.7 1.4l-0.7 -1.4l-1.5 0.1l0.8 -1.3l-0.8 -1.3l1.5 0.1zM468.5 274.4l0.7 1.4l1.5 -0.1l-0.8 1.3l0.8 1.3l-1.5 -0.1l-0.7 1.4l-0.7 -1.4l-1.6 0.1l0.9 -1.3l-0.9 -1.3l1.6 0.1zM476.6 274.4l0.7 1.4l1.5 -0.1l-0.8 1.3l0.8 1.3l-1.5 -0.1l-0.7 1.4l-0.7 -1.4l-1.5 0.1l0.8 -1.3l-0.8 -1.3l1.5 0.1zM484.7 274.4l0.7 1.4l1.5 -0.1l-0.8 1.3l0.8 1.3l-1.5 -0.1l-0.7 1.4l-0.7 -1.4l-1.5 0.1l0.8 -1.3l-0.8 -1.3l1.5 0.1zM492.8 279.1l0.7 1.4l1.5 -0.1l-0.8 1.3l0.8 1.3l-1.5 -0.1l-0.7 1.3l-0.7 -1.3l-1.5 0.1l0.8 -1.3l-0.8 -1.3l1.5 0.1zM501.2 279.1l0.7 1.4l1.5 -0.1l-0.8 1.3l0.8 1.3l-1.5 -0.1l-0.7 1.3l-0.7 -1.3l-1.5 0.1l0.8 -1.3l-0.8 -1.3l1.5 0.1zM509.3 279.1l0.7 1.4l1.5 -0.1l-0.8 1.3l0.8 1.3l-1.5 -0.1l-0.7 1.3l-0.7 -1.3l-1.5 0.1l0.8 -1.3l-0.8 -1.3l1.5 0.1zM517.4 279.1l0.7 1.4l1.5 -0.1l-0.8 1.3l0.8 1.3l-1.5 -0.1l-0.7 1.3l-0.7 -1.3l-1.5 0.1l0.8 -1.3l-0.8 -1.3l1.5 0.1zM525.5 279.1l0.7 1.4l1.5 -0.1l-0.8 1.3l0.8 1.3l-1.5 -0.1l-0.7 1.3l-0.7 -1.3l-1.5 0.1l0.8 -1.3l-0.8 -1.3l1.5 0.1zM533.9 279.1l0.7 1.4l1.5 -0.1l-0.8 1.3l0.8 1.3l-1.5 -0.1l-0.7 1.3l-0.7 -1.3l-1.5 0.1l0.8 -1.3l-0.8 -1.3l1.5 0.1zM542 279.1l0.7 1.4l1.5 -0.1l-0.8 1.3l0.8 1.3l-1.5 -0.1l-0.7 1.3l-0.7 -1.3l-1.5 0.1l0.8 -1.3l-0.8 -1.3l1.5 0.1z" fill="#00e6f0"/>
<path d="M386.5 255.0L391.8 291.0L542.0 292.0" fill="none" stroke="#e6641e" stroke-width="1.35" stroke-linejoin="round"/>
<path d="M386.5 252.7l2.4 4.2h-4.7zM394.6 288.7l2.4 4.2h-4.7zM403.0 288.7l2.4 4.2h-4.7zM411.1 288.8l2.4 4.2h-4.7zM419.2 288.8l2.4 4.2h-4.7zM427.3 288.9l2.4 4.2h-4.7zM435.7 288.9l2.4 4.2h-4.7zM443.8 289.0l2.4 4.2h-4.7zM451.9 289.1l2.4 4.2h-4.7zM460.0 289.1l2.4 4.2h-4.7zM468.5 289.2l2.4 4.2h-4.7zM476.6 289.2l2.4 4.2h-4.7zM484.7 289.3l2.4 4.2h-4.7zM492.8 289.3l2.4 4.2h-4.7zM501.2 289.4l2.4 4.2h-4.7zM509.3 289.4l2.4 4.2h-4.7zM517.4 289.5l2.4 4.2h-4.7zM525.5 289.5l2.4 4.2h-4.7zM533.9 289.6l2.4 4.2h-4.7zM542.0 289.6l2.4 4.2h-4.7z" fill="#e6641e"/>
<path d="M386.5 262.0L392.4 265.5L417.4 267.0L542.0 268.6" fill="none" stroke="#1ea096" stroke-width="1.35" stroke-linejoin="round"/>
<path d="M384.1 262.0l4.2 -2.4v4.7zM392.3 265.6l4.2 -2.4v4.7zM400.7 266.1l4.2 -2.4v4.7zM408.8 266.6l4.2 -2.4v4.7zM416.9 267.0l4.2 -2.4v4.7zM425.0 267.1l4.2 -2.4v4.7zM433.4 267.2l4.2 -2.4v4.7zM441.5 267.3l4.2 -2.4v4.7zM449.6 267.4l4.2 -2.4v4.7zM457.7 267.5l4.2 -2.4v4.7zM466.1 267.7l4.2 -2.4v4.7zM474.2 267.8l4.2 -2.4v4.7zM482.3 267.9l4.2 -2.4v4.7zM490.4 268.0l4.2 -2.4v4.7zM498.8 268.1l4.2 -2.4v4.7zM506.9 268.2l4.2 -2.4v4.7zM515.0 268.3l4.2 -2.4v4.7zM523.1 268.4l4.2 -2.4v4.7zM531.5 268.5l4.2 -2.4v4.7zM539.6 268.6l4.2 -2.4v4.7z" fill="#1ea096"/>
<path d="M386.5 265.0L401.8 288.7L542.0 291.5" fill="none" stroke="#7846dc" stroke-width="1.35" stroke-linejoin="round"/>
<path d="M386.5 263.1l1.7 0.9l0 2.0l-1.7 0.9l-1.7 -0.9l0 -2.0zM394.6 275.6l1.7 1.0l0 2.0l-1.7 0.9l-1.7 -0.9l0 -2.0zM403 286.8l1.7 0.9l0 2.0l-1.7 1.0l-1.7 -1.0l0 -2.0zM411.1 286.9l1.7 1.0l0 2.0l-1.7 0.9l-1.7 -0.9l0 -2.0zM419.2 287.1l1.7 1.0l0 1.9l-1.7 1.0l-1.7 -1.0l0 -1.9zM427.3 287.3l1.7 0.9l0 2.0l-1.7 1.0l-1.7 -1.0l0 -2.0zM435.7 287.4l1.7 1.0l0 2.0l-1.7 0.9l-1.7 -0.9l0 -2.0zM443.8 287.6l1.7 1.0l0 1.9l-1.7 1.0l-1.7 -1.0l0 -1.9zM451.9 287.8l1.7 0.9l0 2.0l-1.7 1.0l-1.6 -1.0l0 -2.0zM460 287.9l1.7 1.0l0 1.9l-1.7 1.0l-1.6 -1.0l0 -1.9zM468.5 288.1l1.6 1.0l0 1.9l-1.6 1.0l-1.7 -1.0l0 -1.9zM476.6 288.2l1.6 1.0l0 2.0l-1.6 0.9l-1.7 -0.9l0 -2.0zM484.7 288.4l1.7 1.0l0 1.9l-1.7 1.0l-1.7 -1.0l0 -1.9zM492.8 288.6l1.7 0.9l0 2.0l-1.7 1.0l-1.7 -1.0l0 -2.0zM501.2 288.7l1.7 1.0l0 2.0l-1.7 0.9l-1.7 -0.9l0 -2.0zM509.3 288.9l1.7 1.0l0 1.9l-1.7 1.0l-1.7 -1.0l0 -1.9zM517.4 289.1l1.7 0.9l0 2.0l-1.7 1.0l-1.7 -1.0l0 -2.0zM525.5 289.2l1.7 1.0l0 1.9l-1.7 1.0l-1.7 -1.0l0 -1.9zM533.9 289.4l1.7 1.0l0 1.9l-1.7 1.0l-1.7 -1.0l0 -1.9zM542 289.6l1.7 0.9l0 2.0l-1.7 0.9l-1.7 -0.9l0 -2.0z" fill="#7846dc"/>
<path d="M386.5 264.0L398.7 272.0L510.8 274.8L526.4 294.0L542.0 295.0" fill="none" stroke="#00f000" stroke-width="1.35" stroke-linejoin="round"/>
<path d="M386.5 266.4l2.4 -4.2h-4.7zM394.6 271.7l2.4 -4.2h-4.7zM403.0 274.5l2.4 -4.2h-4.7zM411.1 274.7l2.4 -4.2h-4.7zM419.2 274.9l2.4 -4.2h-4.7zM427.3 275.1l2.4 -4.2h-4.7zM435.7 275.3l2.4 -4.2h-4.7zM443.8 275.5l2.4 -4.2h-4.7zM451.9 275.7l2.4 -4.2h-4.7zM460.0 275.9l2.4 -4.2h-4.7zM468.5 276.1l2.4 -4.2h-4.7zM476.6 276.3l2.4 -4.2h-4.7zM484.7 276.5l2.4 -4.2h-4.7zM492.8 276.7l2.4 -4.2h-4.7zM501.2 276.9l2.4 -4.2h-4.7zM509.3 277.1l2.4 -4.2h-4.7zM517.4 285.2l2.4 -4.2h-4.7zM525.5 295.2l2.4 -4.2h-4.7zM533.9 296.8l2.4 -4.2h-4.7zM542.0 297.4l2.4 -4.2h-4.7z" fill="#00f000"/>
<path d="M386.5 260.0L442.3 283.6L464.1 288.0L542.0 295.0" fill="none" stroke="#1e8cc8" stroke-width="1.35" stroke-linejoin="round"/>
<path d="M386.5 257.4l0.7 1.4l1.5 -0.1l-0.8 1.3l0.8 1.3l-1.5 -0.1l-0.7 1.4l-0.7 -1.4l-1.5 0.1l0.8 -1.3l-0.8 -1.3l1.5 0.1zM394.6 260.9l0.7 1.3l1.5 0.0l-0.8 1.2l0.8 1.3l-1.5 -0.1l-0.7 1.4l-0.7 -1.4l-1.5 0.1l0.8 -1.3l-0.8 -1.2l1.5 0.0zM403 264.4l0.7 1.4l1.5 -0.1l-0.8 1.3l0.8 1.3l-1.5 -0.1l-0.7 1.3l-0.7 -1.3l-1.5 0.1l0.8 -1.3l-0.8 -1.3l1.5 0.1zM411.1 267.9l0.7 1.3l1.5 -0.1l-0.8 1.3l0.8 1.3l-1.5 -0.1l-0.7 1.4l-0.7 -1.4l-1.5 0.1l0.8 -1.3l-0.8 -1.3l1.5 0.1zM419.2 271.3l0.7 1.3l1.5 0.0l-0.8 1.2l0.8 1.3l-1.5 0.0l-0.7 1.3l-0.7 -1.3l-1.5 0.0l0.8 -1.3l-0.8 -1.2l1.5 0.0zM427.3 274.7l0.7 1.4l1.5 -0.1l-0.8 1.3l0.8 1.2l-1.5 0.0l-0.7 1.3l-0.7 -1.3l-1.5 0.0l0.8 -1.2l-0.8 -1.3l1.5 0.1zM435.7 278.3l0.7 1.3l1.5 0.0l-0.8 1.2l0.8 1.3l-1.5 -0.1l-0.7 1.4l-0.7 -1.4l-1.5 0.1l0.8 -1.3l-0.8 -1.2l1.5 0.0zM443.8 281.4l0.7 1.3l1.5 -0.1l-0.8 1.3l0.8 1.3l-1.5 -0.1l-0.7 1.4l-0.7 -1.4l-1.5 0.1l0.8 -1.3l-0.8 -1.3l1.5 0.1zM451.9 283.0l0.7 1.3l1.5 0.0l-0.8 1.2l0.8 1.3l-1.5 0.0l-0.7 1.3l-0.7 -1.3l-1.5 0.0l0.8 -1.3l-0.8 -1.2l1.5 0.0zM460 284.6l0.7 1.4l1.6 -0.1l-0.9 1.3l0.9 1.3l-1.6 -0.1l-0.7 1.3l-0.7 -1.3l-1.5 0.1l0.8 -1.3l-0.8 -1.3l1.5 0.1zM468.5 285.8l0.7 1.4l1.5 -0.1l-0.8 1.3l0.8 1.3l-1.5 -0.1l-0.7 1.3l-0.7 -1.3l-1.6 0.1l0.9 -1.3l-0.9 -1.3l1.6 0.1zM476.6 286.6l0.7 1.3l1.5 -0.1l-0.8 1.3l0.8 1.3l-1.5 -0.1l-0.7 1.4l-0.7 -1.4l-1.5 0.1l0.8 -1.3l-0.8 -1.3l1.5 0.1zM484.7 287.3l0.7 1.3l1.5 0.0l-0.8 1.2l0.8 1.3l-1.5 0.0l-0.7 1.3l-0.7 -1.3l-1.5 0.0l0.8 -1.3l-0.8 -1.2l1.5 0.0zM492.8 288.0l0.7 1.4l1.5 -0.1l-0.8 1.3l0.8 1.3l-1.5 -0.1l-0.7 1.3l-0.7 -1.3l-1.5 0.1l0.8 -1.3l-0.8 -1.3l1.5 0.1zM501.2 288.8l0.7 1.3l1.5 0.0l-0.8 1.2l0.8 1.3l-1.5 -0.1l-0.7 1.4l-0.7 -1.4l-1.5 0.1l0.8 -1.3l-0.8 -1.2l1.5 0.0zM509.3 289.5l0.7 1.3l1.5 0.0l-0.8 1.3l0.8 1.2l-1.5 0.0l-0.7 1.3l-0.7 -1.3l-1.5 0.0l0.8 -1.2l-0.8 -1.3l1.5 0.0zM517.4 290.2l0.7 1.4l1.5 -0.1l-0.8 1.3l0.8 1.3l-1.5 -0.1l-0.7 1.3l-0.7 -1.3l-1.5 0.1l0.8 -1.3l-0.8 -1.3l1.5 0.1zM525.5 291.0l0.7 1.3l1.5 -0.1l-0.8 1.3l0.8 1.3l-1.5 -0.1l-0.7 1.4l-0.7 -1.4l-1.5 0.1l0.8 -1.3l-0.8 -1.3l1.5 0.1zM533.9 291.7l0.7 1.4l1.5 -0.1l-0.8 1.3l0.8 1.2l-1.5 0.0l-0.7 1.3l-0.7 -1.3l-1.5 0.0l0.8 -1.2l-0.8 -1.3l1.5 0.1zM542 292.4l0.7 1.4l1.5 -0.1l-0.8 1.3l0.8 1.3l-1.5 -0.1l-0.7 1.4l-0.7 -1.4l-1.5 0.1l0.8 -1.3l-0.8 -1.3l1.5 0.1z" fill="#1e8cc8"/>
</g>
<text x="464.25" y="169.40" class="ti" text-anchor="middle">cec17</text>
<text x="464.25" y="311.50" class="lb" text-anchor="middle">Iteration</text>
<text transform="translate(374.60 233.80) rotate(-90)" class="lb" text-anchor="middle">Fitness value</text>
<rect x="495.10" y="175.60" width="43.5" height="88" fill="#fff" stroke="#8a8a8a" stroke-width="0.6"/>
<path d="M496.70 179.50H510.70" stroke="#ff0000" stroke-width="1.1"/>
<path d="M501.8 179.5a2.00 2.00 0 1 0 4.0 0a2.00 2.00 0 1 0 -4.0 0" fill="#ff0000"/>
<text x="512.10" y="181.05" class="lg">COA</text>
<path d="M496.70 185.26H510.70" stroke="#0000ff" stroke-width="1.1"/>
<path d="M503.8 182.9l2.4 4.2h-4.7z" fill="#0000ff"/>
<text x="512.10" y="186.81" class="lg">CMRLCCOA</text>
<path d="M496.70 191.02H510.70" stroke="#5aa832" stroke-width="1.1"/>
<path d="M502.7 189.9h2.2v2.2h-2.2z" fill="#3f8c14"/>
<text x="512.10" y="192.57" class="lg">KOA</text>
<path d="M496.70 196.78H510.70" stroke="#f5b82a" stroke-width="1.1"/>
<path d="M501.8 196.8h4.0M503.8 194.8v4.0" stroke="#f5b82a" stroke-width="0.8" fill="none"/>
<text x="512.10" y="198.33" class="lg">SWO</text>
<path d="M496.70 202.54H510.70" stroke="#f06ef0" stroke-width="1.1"/>
<path d="M503.8 204.9l2.4 -4.2h-4.7z" fill="#f06ef0"/>
<text x="512.10" y="204.09" class="lg">GMO</text>
<path d="M496.70 208.30H510.70" stroke="#962828" stroke-width="1.1"/>
<path d="M503.8 205.9l2.3 2.4l-2.3 2.4l-2.3 -2.4z" fill="#962828"/>
<text x="512.10" y="209.85" class="lg">OMA</text>
<path d="M496.70 214.06H510.70" stroke="#f5d214" stroke-width="1.1"/>
<path d="M502.1 212.3h3.5v3.5h-3.5z" fill="#f5d214"/>
<text x="512.10" y="215.61" class="lg">TROA</text>
<path d="M496.70 219.82H510.70" stroke="#b43cf0" stroke-width="1.1"/>
<path d="M501.8 219.8a2.00 2.00 0 1 0 4.0 0a2.00 2.00 0 1 0 -4.0 0" fill="#d77cf5" stroke="#a832e6" stroke-width="0.7"/>
<text x="512.10" y="221.37" class="lg">GO</text>
<path d="M496.70 225.58H510.70" stroke="#dc1e32" stroke-width="1.1"/>
<path d="M506.2 225.6l-4.2 -2.4v4.7z" fill="#dc1e32"/>
<text x="512.10" y="227.13" class="lg">PSO</text>
<path d="M496.70 231.34H510.70" stroke="#00e6f0" stroke-width="1.1"/>
<path d="M503.8 228.8l0.7 1.3l1.5 0.0l-0.8 1.2l0.8 1.3l-1.5 0.0l-0.7 1.3l-0.7 -1.3l-1.5 0.0l0.8 -1.3l-0.8 -1.2l1.5 0.0z" fill="#00e6f0"/>
<text x="512.10" y="232.89" class="lg">DE</text>
<path d="M496.70 237.10H510.70" stroke="#e6641e" stroke-width="1.1"/>
<path d="M503.8 234.8l2.4 4.2h-4.7z" fill="#e6641e"/>
<text x="512.10" y="238.65" class="lg">SA</text>
<path d="M496.70 242.86H510.70" stroke="#1ea096" stroke-width="1.1"/>
<path d="M501.4 242.9l4.2 -2.4v4.7z" fill="#1ea096"/>
<text x="512.10" y="244.41" class="lg">ABC</text>
<path d="M496.70 248.62H510.70" stroke="#7846dc" stroke-width="1.1"/>
<path d="M503.8 246.7l1.7 0.9l0 2.0l-1.7 1.0l-1.7 -1.0l0 -2.0z" fill="#7846dc"/>
<text x="512.10" y="250.17" class="lg">ISSA</text>
<path d="M496.70 254.38H510.70" stroke="#00f000" stroke-width="1.1"/>
<path d="M503.8 256.7l2.4 -4.2h-4.7z" fill="#00f000"/>
<text x="512.10" y="255.93" class="lg">IGWO</text>
<path d="M496.70 260.14H510.70" stroke="#1e8cc8" stroke-width="1.1"/>
<path d="M503.8 257.6l0.7 1.3l1.5 0.0l-0.8 1.2l0.8 1.3l-1.5 0.0l-0.7 1.3l-0.7 -1.3l-1.5 0.0l0.8 -1.3l-0.8 -1.2l1.5 0.0z" fill="#1e8cc8"/>
<text x="512.10" y="261.69" class="lg">EWOA</text>
<rect x="28" y="328.5" width="150.5" height="125.0" fill="none" stroke="#9a9a9a" stroke-width="0.8"/>
<path d="M42.78 453.5v-1.6M42.78 328.5v1.6" stroke="#666" stroke-width="0.5"/>
<text x="42.78" y="460.70" class="tk" text-anchor="middle">50</text>
<path d="M57.86 453.5v-1.6M57.86 328.5v1.6" stroke="#666" stroke-width="0.5"/>
<text x="57.86" y="460.70" class="tk" text-anchor="middle">100</text>
<path d="M72.94 453.5v-1.6M72.94 328.5v1.6" stroke="#666" stroke-width="0.5"/>
<text x="72.94" y="460.70" class="tk" text-anchor="middle">150</text>
<path d="M88.02 453.5v-1.6M88.02 328.5v1.6" stroke="#666" stroke-width="0.5"/>
<text x="88.02" y="460.70" class="tk" text-anchor="middle">200</text>
<path d="M103.10 453.5v-1.6M103.10 328.5v1.6" stroke="#666" stroke-width="0.5"/>
<text x="103.10" y="460.70" class="tk" text-anchor="middle">250</text>
<path d="M118.18 453.5v-1.6M118.18 328.5v1.6" stroke="#666" stroke-width="0.5"/>
<text x="118.18" y="460.70" class="tk" text-anchor="middle">300</text>
<path d="M133.26 453.5v-1.6M133.26 328.5v1.6" stroke="#666" stroke-width="0.5"/>
<text x="133.26" y="460.70" class="tk" text-anchor="middle">350</text>
<path d="M148.34 453.5v-1.6M148.34 328.5v1.6" stroke="#666" stroke-width="0.5"/>
<text x="148.34" y="460.70" class="tk" text-anchor="middle">400</text>
<path d="M163.42 453.5v-1.6M163.42 328.5v1.6" stroke="#666" stroke-width="0.5"/>
<text x="163.42" y="460.70" class="tk" text-anchor="middle">450</text>
<path d="M178.50 453.5v-1.6M178.50 328.5v1.6" stroke="#666" stroke-width="0.5"/>
<text x="178.50" y="460.70" class="tk" text-anchor="middle">500</text>
<path d="M28 339.40h1.6M178.5 339.40h-1.6" stroke="#666" stroke-width="0.5"/>
<text x="26.00" y="341.00" class="tk" text-anchor="end">11000</text>
<path d="M28 353.77h1.6M178.5 353.77h-1.6" stroke="#666" stroke-width="0.5"/>
<text x="26.00" y="355.37" class="tk" text-anchor="end">10000</text>
<path d="M28 368.14h1.6M178.5 368.14h-1.6" stroke="#666" stroke-width="0.5"/>
<text x="26.00" y="369.74" class="tk" text-anchor="end">9000</text>
<path d="M28 382.51h1.6M178.5 382.51h-1.6" stroke="#666" stroke-width="0.5"/>
<text x="26.00" y="384.11" class="tk" text-anchor="end">8000</text>
<path d="M28 396.88h1.6M178.5 396.88h-1.6" stroke="#666" stroke-width="0.5"/>
<text x="26.00" y="398.48" class="tk" text-anchor="end">7000</text>
<path d="M28 411.25h1.6M178.5 411.25h-1.6" stroke="#666" stroke-width="0.5"/>
<text x="26.00" y="412.85" class="tk" text-anchor="end">6000</text>
<path d="M28 425.62h1.6M178.5 425.62h-1.6" stroke="#666" stroke-width="0.5"/>
<text x="26.00" y="427.22" class="tk" text-anchor="end">5000</text>
<path d="M28 439.99h1.6M178.5 439.99h-1.6" stroke="#666" stroke-width="0.5"/>
<text x="26.00" y="441.59" class="tk" text-anchor="end">4000</text>
<clipPath id="ccec20"><rect x="23" y="323.5" width="160.5" height="135.0"/></clipPath>
<g clip-path="url(#ccec20)">
<path d="M28.0 425.0L32.2 436.0L178.5 438.5" fill="none" stroke="#ff0000" stroke-width="1.35" stroke-linejoin="round"/>
<path d="M26.0 425.0a2.00 2.00 0 1 0 4.0 0a2.00 2.00 0 1 0 -4.0 0M33.8 436.1a2.00 2.00 0 1 0 4.0 0a2.00 2.00 0 1 0 -4.0 0M42.0 436.2a2.00 2.00 0 1 0 4.0 0a2.00 2.00 0 1 0 -4.0 0M49.8 436.3a2.00 2.00 0 1 0 4.0 0a2.00 2.00 0 1 0 -4.0 0M57.7 436.5a2.00 2.00 0 1 0 4.0 0a2.00 2.00 0 1 0 -4.0 0M65.5 436.6a2.00 2.00 0 1 0 4.0 0a2.00 2.00 0 1 0 -4.0 0M73.7 436.7a2.00 2.00 0 1 0 4.0 0a2.00 2.00 0 1 0 -4.0 0M81.5 436.9a2.00 2.00 0 1 0 4.0 0a2.00 2.00 0 1 0 -4.0 0M89.3 437.0a2.00 2.00 0 1 0 4.0 0a2.00 2.00 0 1 0 -4.0 0M97.2 437.1a2.00 2.00 0 1 0 4.0 0a2.00 2.00 0 1 0 -4.0 0M105.3 437.3a2.00 2.00 0 1 0 4.0 0a2.00 2.00 0 1 0 -4.0 0M113.2 437.4a2.00 2.00 0 1 0 4.0 0a2.00 2.00 0 1 0 -4.0 0M121.0 437.6a2.00 2.00 0 1 0 4.0 0a2.00 2.00 0 1 0 -4.0 0M128.8 437.7a2.00 2.00 0 1 0 4.0 0a2.00 2.00 0 1 0 -4.0 0M137.0 437.8a2.00 2.00 0 1 0 4.0 0a2.00 2.00 0 1 0 -4.0 0M144.8 438.0a2.00 2.00 0 1 0 4.0 0a2.00 2.00 0 1 0 -4.0 0M152.7 438.1a2.00 2.00 0 1 0 4.0 0a2.00 2.00 0 1 0 -4.0 0M160.5 438.2a2.00 2.00 0 1 0 4.0 0a2.00 2.00 0 1 0 -4.0 0M168.7 438.4a2.00 2.00 0 1 0 4.0 0a2.00 2.00 0 1 0 -4.0 0M176.5 438.5a2.00 2.00 0 1 0 4.0 0a2.00 2.00 0 1 0 -4.0 0" fill="#ff0000"/>
<path d="M28.0 328.5L28.3 420.0L36.7 445.0L88.0 449.0L178.5 450.2" fill="none" stroke="#0000ff" stroke-width="1.35" stroke-linejoin="round"/>
<path d="M28.0 326.1l2.4 4.2h-4.7zM35.8 440.0l2.4 4.2h-4.7zM44.0 443.2l2.4 4.2h-4.7zM51.8 443.8l2.4 4.2h-4.7zM59.7 444.4l2.4 4.2h-4.7zM67.5 445.0l2.4 4.2h-4.7zM75.7 445.7l2.4 4.2h-4.7zM83.5 446.3l2.4 4.2h-4.7zM91.3 446.7l2.4 4.2h-4.7zM99.2 446.8l2.4 4.2h-4.7zM107.3 446.9l2.4 4.2h-4.7zM115.2 447.0l2.4 4.2h-4.7zM123.0 447.1l2.4 4.2h-4.7zM130.8 447.2l2.4 4.2h-4.7zM139.0 447.3l2.4 4.2h-4.7zM146.8 447.4l2.4 4.2h-4.7zM154.7 447.5l2.4 4.2h-4.7zM162.5 447.6l2.4 4.2h-4.7zM170.7 447.7l2.4 4.2h-4.7zM178.5 447.8l2.4 4.2h-4.7z" fill="#0000ff"/>
<path d="M28.0 413.0L30.7 415.3L64.2 415.3L64.2 420.4L178.5 420.4" fill="none" stroke="#5aa832" stroke-width="1.35" stroke-linejoin="round"/>
<path d="M26.9 411.9h2.2v2.2h-2.2zM34.8 414.2h2.2v2.2h-2.2zM42.9 414.2h2.2v2.2h-2.2zM50.7 414.2h2.2v2.2h-2.2zM58.6 414.2h2.2v2.2h-2.2zM66.4 419.3h2.2v2.2h-2.2zM74.6 419.3h2.2v2.2h-2.2zM82.4 419.3h2.2v2.2h-2.2zM90.3 419.3h2.2v2.2h-2.2zM98.1 419.3h2.2v2.2h-2.2zM106.2 419.3h2.2v2.2h-2.2zM114.1 419.3h2.2v2.2h-2.2zM121.9 419.3h2.2v2.2h-2.2zM129.8 419.3h2.2v2.2h-2.2zM137.9 419.3h2.2v2.2h-2.2zM145.7 419.3h2.2v2.2h-2.2zM153.6 419.3h2.2v2.2h-2.2zM161.4 419.3h2.2v2.2h-2.2zM169.6 419.3h2.2v2.2h-2.2zM177.4 419.3h2.2v2.2h-2.2z" fill="#3f8c14"/>
<path d="M28.0 418.0L32.2 423.0L88.0 424.0L172.5 424.7L177.0 427.0L178.5 427.0" fill="none" stroke="#f5b82a" stroke-width="1.35" stroke-linejoin="round"/>
<path d="M26.0 418.0h4.0M28.0 416.0v4.0M33.8 423.1h4.0M35.8 421.1v4.0M42.0 423.2h4.0M44.0 421.2v4.0M49.8 423.4h4.0M51.8 421.4v4.0M57.7 423.5h4.0M59.7 421.5v4.0M65.5 423.6h4.0M67.5 421.6v4.0M73.7 423.8h4.0M75.7 421.8v4.0M81.5 423.9h4.0M83.5 421.9v4.0M89.3 424.0h4.0M91.3 422.0v4.0M97.2 424.1h4.0M99.2 422.1v4.0M105.3 424.2h4.0M107.3 422.2v4.0M113.2 424.2h4.0M115.2 422.2v4.0M121.0 424.3h4.0M123.0 422.3v4.0M128.8 424.4h4.0M130.8 422.4v4.0M137.0 424.4h4.0M139.0 422.4v4.0M144.8 424.5h4.0M146.8 422.5v4.0M152.7 424.6h4.0M154.7 422.6v4.0M160.5 424.6h4.0M162.5 422.6v4.0M168.7 424.7h4.0M170.7 422.7v4.0M176.5 427.0h4.0M178.5 425.0v4.0" stroke="#f5b82a" stroke-width="0.8" fill="none"/>
<path d="M28.0 425.0L33.7 439.3L97.1 441.0L106.1 452.5L178.5 453.4" fill="none" stroke="#f06ef0" stroke-width="1.35" stroke-linejoin="round"/>
<path d="M28.0 427.4l2.4 -4.2h-4.7zM35.8 441.7l2.4 -4.2h-4.7zM44.0 441.9l2.4 -4.2h-4.7zM51.8 442.1l2.4 -4.2h-4.7zM59.7 442.3l2.4 -4.2h-4.7zM67.5 442.6l2.4 -4.2h-4.7zM75.7 442.8l2.4 -4.2h-4.7zM83.5 443.0l2.4 -4.2h-4.7zM91.3 443.2l2.4 -4.2h-4.7zM99.2 446.0l2.4 -4.2h-4.7zM107.3 454.9l2.4 -4.2h-4.7zM115.2 455.0l2.4 -4.2h-4.7zM123.0 455.1l2.4 -4.2h-4.7zM130.8 455.2l2.4 -4.2h-4.7zM139.0 455.3l2.4 -4.2h-4.7zM146.8 455.4l2.4 -4.2h-4.7zM154.7 455.5l2.4 -4.2h-4.7zM162.5 455.6l2.4 -4.2h-4.7zM170.7 455.7l2.4 -4.2h-4.7zM178.5 455.8l2.4 -4.2h-4.7z" fill="#f06ef0"/>
<path d="M28.0 420.0L35.2 430.5L72.9 431.0L88.0 436.0L178.5 437.0" fill="none" stroke="#962828" stroke-width="1.35" stroke-linejoin="round"/>
<path d="M28.0 417.6l2.3 2.4l-2.3 2.4l-2.3 -2.4zM35.8 428.1l2.3 2.4l-2.3 2.4l-2.3 -2.4zM44.0 428.2l2.3 2.4l-2.3 2.4l-2.3 -2.4zM51.8 428.3l2.3 2.4l-2.3 2.4l-2.3 -2.4zM59.7 428.4l2.3 2.4l-2.3 2.4l-2.3 -2.4zM67.5 428.5l2.3 2.4l-2.3 2.4l-2.3 -2.4zM75.7 429.5l2.3 2.4l-2.3 2.4l-2.3 -2.4zM83.5 432.1l2.3 2.4l-2.3 2.4l-2.3 -2.4zM91.3 433.6l2.3 2.4l-2.3 2.4l-2.3 -2.4zM99.2 433.7l2.3 2.4l-2.3 2.4l-2.3 -2.4zM107.3 433.8l2.3 2.4l-2.3 2.4l-2.3 -2.4zM115.2 433.9l2.3 2.4l-2.3 2.4l-2.3 -2.4zM123.0 434.0l2.3 2.4l-2.3 2.4l-2.3 -2.4zM130.8 434.1l2.3 2.4l-2.3 2.4l-2.3 -2.4zM139.0 434.2l2.3 2.4l-2.3 2.4l-2.3 -2.4zM146.8 434.2l2.3 2.4l-2.3 2.4l-2.3 -2.4zM154.7 434.3l2.3 2.4l-2.3 2.4l-2.3 -2.4zM162.5 434.4l2.3 2.4l-2.3 2.4l-2.3 -2.4zM170.7 434.5l2.3 2.4l-2.3 2.4l-2.3 -2.4zM178.5 434.6l2.3 2.4l-2.3 2.4l-2.3 -2.4z" fill="#962828"/>
<path d="M28.0 415.0L33.7 437.0L178.5 441.0" fill="none" stroke="#f5d214" stroke-width="1.35" stroke-linejoin="round"/>
<path d="M26.2 413.2h3.5v3.5h-3.5zM34.1 435.3h3.5v3.5h-3.5zM42.2 435.5h3.5v3.5h-3.5zM50.1 435.8h3.5v3.5h-3.5zM57.9 436.0h3.5v3.5h-3.5zM65.8 436.2h3.5v3.5h-3.5zM73.9 436.4h3.5v3.5h-3.5zM81.7 436.6h3.5v3.5h-3.5zM89.6 436.8h3.5v3.5h-3.5zM97.4 437.1h3.5v3.5h-3.5zM105.6 437.3h3.5v3.5h-3.5zM113.4 437.5h3.5v3.5h-3.5zM121.3 437.7h3.5v3.5h-3.5zM129.1 437.9h3.5v3.5h-3.5zM137.2 438.2h3.5v3.5h-3.5zM145.1 438.4h3.5v3.5h-3.5zM152.9 438.6h3.5v3.5h-3.5zM160.8 438.8h3.5v3.5h-3.5zM168.9 439.0h3.5v3.5h-3.5zM176.8 439.2h3.5v3.5h-3.5z" fill="#f5d214"/>
<path d="M28.0 404.4L31.3 419.6L56.7 419.6L56.7 422.5L178.5 422.5" fill="none" stroke="#b43cf0" stroke-width="1.35" stroke-linejoin="round"/>
<path d="M26.0 404.4a2.00 2.00 0 1 0 4.0 0a2.00 2.00 0 1 0 -4.0 0M33.8 419.6a2.00 2.00 0 1 0 4.0 0a2.00 2.00 0 1 0 -4.0 0M42.0 419.6a2.00 2.00 0 1 0 4.0 0a2.00 2.00 0 1 0 -4.0 0M49.8 419.6a2.00 2.00 0 1 0 4.0 0a2.00 2.00 0 1 0 -4.0 0M57.7 422.5a2.00 2.00 0 1 0 4.0 0a2.00 2.00 0 1 0 -4.0 0M65.5 422.5a2.00 2.00 0 1 0 4.0 0a2.00 2.00 0 1 0 -4.0 0M73.7 422.5a2.00 2.00 0 1 0 4.0 0a2.00 2.00 0 1 0 -4.0 0M81.5 422.5a2.00 2.00 0 1 0 4.0 0a2.00 2.00 0 1 0 -4.0 0M89.3 422.5a2.00 2.00 0 1 0 4.0 0a2.00 2.00 0 1 0 -4.0 0M97.2 422.5a2.00 2.00 0 1 0 4.0 0a2.00 2.00 0 1 0 -4.0 0M105.3 422.5a2.00 2.00 0 1 0 4.0 0a2.00 2.00 0 1 0 -4.0 0M113.2 422.5a2.00 2.00 0 1 0 4.0 0a2.00 2.00 0 1 0 -4.0 0M121.0 422.5a2.00 2.00 0 1 0 4.0 0a2.00 2.00 0 1 0 -4.0 0M128.8 422.5a2.00 2.00 0 1 0 4.0 0a2.00 2.00 0 1 0 -4.0 0M137.0 422.5a2.00 2.00 0 1 0 4.0 0a2.00 2.00 0 1 0 -4.0 0M144.8 422.5a2.00 2.00 0 1 0 4.0 0a2.00 2.00 0 1 0 -4.0 0M152.7 422.5a2.00 2.00 0 1 0 4.0 0a2.00 2.00 0 1 0 -4.0 0M160.5 422.5a2.00 2.00 0 1 0 4.0 0a2.00 2.00 0 1 0 -4.0 0M168.7 422.5a2.00 2.00 0 1 0 4.0 0a2.00 2.00 0 1 0 -4.0 0M176.5 422.5a2.00 2.00 0 1 0 4.0 0a2.00 2.00 0 1 0 -4.0 0" fill="#d77cf5" stroke="#a832e6" stroke-width="0.7"/>
<path d="M28.0 424.0L35.2 435.6L178.5 437.0" fill="none" stroke="#dc1e32" stroke-width="1.35" stroke-linejoin="round"/>
<path d="M30.4 424.0l-4.2 -2.4v4.7zM38.2 435.6l-4.2 -2.4v4.7zM46.3 435.7l-4.2 -2.4v4.7zM54.2 435.8l-4.2 -2.4v4.7zM62.0 435.8l-4.2 -2.4v4.7zM69.9 435.9l-4.2 -2.4v4.7zM78.0 436.0l-4.2 -2.4v4.7zM85.8 436.1l-4.2 -2.4v4.7zM93.7 436.1l-4.2 -2.4v4.7zM101.5 436.2l-4.2 -2.4v4.7zM109.7 436.3l-4.2 -2.4v4.7zM117.5 436.4l-4.2 -2.4v4.7zM125.4 436.5l-4.2 -2.4v4.7zM133.2 436.5l-4.2 -2.4v4.7zM141.3 436.6l-4.2 -2.4v4.7zM149.2 436.7l-4.2 -2.4v4.7zM157.0 436.8l-4.2 -2.4v4.7zM164.9 436.8l-4.2 -2.4v4.7zM173.0 436.9l-4.2 -2.4v4.7zM180.8 437.0l-4.2 -2.4v4.7z" fill="#dc1e32"/>
<path d="M28.0 418.0L29.5 423.4L31.0 427.5L32.4 430.8L33.9 433.3L35.4 435.3L36.9 436.8L38.4 438.0L39.9 438.9L41.3 439.7L42.8 440.2L44.3 440.7L45.8 441.0L118.2 443.0L178.5 444.0" fill="none" stroke="#00e6f0" stroke-width="1.35" stroke-linejoin="round"/>
<path d="M28 415.4l0.7 1.4l1.5 -0.1l-0.8 1.3l0.8 1.3l-1.5 -0.1l-0.7 1.4l-0.7 -1.4l-1.5 0.1l0.8 -1.3l-0.8 -1.3l1.5 0.1zM35.8 433.2l0.7 1.3l1.6 -0.1l-0.9 1.3l0.9 1.3l-1.6 -0.1l-0.7 1.4l-0.7 -1.4l-1.5 0.1l0.8 -1.3l-0.8 -1.3l1.5 0.1zM44 438.0l0.7 1.3l1.5 0.0l-0.8 1.3l0.8 1.2l-1.5 0.0l-0.7 1.3l-0.7 -1.3l-1.5 0.0l0.8 -1.2l-0.8 -1.3l1.5 0.0zM51.8 438.6l0.7 1.4l1.5 -0.1l-0.8 1.3l0.8 1.2l-1.5 0.0l-0.7 1.3l-0.7 -1.3l-1.5 0.0l0.8 -1.2l-0.8 -1.3l1.5 0.1zM59.7 438.8l0.7 1.4l1.5 -0.1l-0.8 1.3l0.8 1.3l-1.5 -0.1l-0.7 1.3l-0.7 -1.3l-1.5 0.1l0.8 -1.3l-0.8 -1.3l1.5 0.1zM67.5 439.1l0.7 1.3l1.5 -0.1l-0.8 1.3l0.8 1.3l-1.5 -0.1l-0.7 1.4l-0.7 -1.4l-1.5 0.1l0.8 -1.3l-0.8 -1.3l1.5 0.1zM75.7 439.3l0.7 1.3l1.5 0.0l-0.8 1.2l0.8 1.3l-1.5 -0.1l-0.7 1.4l-0.7 -1.4l-1.6 0.1l0.9 -1.3l-0.9 -1.2l1.6 0.0zM83.5 439.5l0.7 1.3l1.5 0.0l-0.8 1.2l0.8 1.3l-1.5 0.0l-0.7 1.3l-0.7 -1.3l-1.5 0.0l0.8 -1.3l-0.8 -1.2l1.5 0.0zM91.3 439.7l0.7 1.3l1.5 0.0l-0.8 1.3l0.8 1.2l-1.5 0.0l-0.7 1.3l-0.7 -1.3l-1.5 0.0l0.8 -1.2l-0.8 -1.3l1.5 0.0zM99.2 439.9l0.7 1.4l1.5 -0.1l-0.8 1.3l0.8 1.3l-1.5 -0.1l-0.7 1.3l-0.7 -1.3l-1.5 0.1l0.8 -1.3l-0.8 -1.3l1.5 0.1zM107.3 440.1l0.7 1.4l1.5 -0.1l-0.8 1.3l0.8 1.3l-1.5 -0.1l-0.7 1.3l-0.7 -1.3l-1.5 0.1l0.8 -1.3l-0.8 -1.3l1.5 0.1zM115.2 440.4l0.7 1.3l1.5 -0.1l-0.8 1.3l0.8 1.3l-1.5 -0.1l-0.7 1.4l-0.7 -1.4l-1.5 0.1l0.8 -1.3l-0.8 -1.3l1.5 0.1zM123 440.5l0.7 1.4l1.5 -0.1l-0.8 1.3l0.8 1.3l-1.5 -0.1l-0.7 1.3l-0.7 -1.3l-1.5 0.1l0.8 -1.3l-0.8 -1.3l1.5 0.1zM130.8 440.7l0.7 1.3l1.6 -0.1l-0.9 1.3l0.9 1.3l-1.6 -0.1l-0.7 1.4l-0.7 -1.4l-1.5 0.1l0.8 -1.3l-0.8 -1.3l1.5 0.1zM139 440.8l0.7 1.3l1.5 0.0l-0.8 1.2l0.8 1.3l-1.5 0.0l-0.7 1.3l-0.7 -1.3l-1.5 0.0l0.8 -1.3l-0.8 -1.2l1.5 0.0zM146.8 440.9l0.7 1.4l1.5 -0.1l-0.8 1.3l0.8 1.3l-1.5 -0.1l-0.7 1.3l-0.7 -1.3l-1.5 0.1l0.8 -1.3l-0.8 -1.3l1.5 0.1zM154.7 441.1l0.7 1.3l1.5 -0.1l-0.8 1.3l0.8 1.3l-1.5 -0.1l-0.7 1.4l-0.7 -1.4l-1.5 0.1l0.8 -1.3l-0.8 -1.3l1.5 0.1zM162.5 441.2l0.7 1.3l1.5 0.0l-0.8 1.2l0.8 1.3l-1.5 -0.1l-0.7 1.4l-0.7 -1.4l-1.5 0.1l0.8 -1.3l-0.8 -1.2l1.5 0.0zM170.7 441.3l0.7 1.4l1.5 -0.1l-0.8 1.3l0.8 1.2l-1.5 0.0l-0.7 1.3l-0.7 -1.3l-1.6 0.0l0.9 -1.2l-0.9 -1.3l1.6 0.1zM178.5 441.4l0.7 1.4l1.5 -0.1l-0.8 1.3l0.8 1.3l-1.5 -0.1l-0.7 1.4l-0.7 -1.4l-1.5 0.1l0.8 -1.3l-0.8 -1.3l1.5 0.1z" fill="#00e6f0"/>
<path d="M28.0 425.0L32.2 446.5L178.5 446.8" fill="none" stroke="#e6641e" stroke-width="1.35" stroke-linejoin="round"/>
<path d="M28.0 422.6l2.4 4.2h-4.7zM35.8 444.2l2.4 4.2h-4.7zM44.0 444.2l2.4 4.2h-4.7zM51.8 444.2l2.4 4.2h-4.7zM59.7 444.2l2.4 4.2h-4.7zM67.5 444.2l2.4 4.2h-4.7zM75.7 444.2l2.4 4.2h-4.7zM83.5 444.3l2.4 4.2h-4.7zM91.3 444.3l2.4 4.2h-4.7zM99.2 444.3l2.4 4.2h-4.7zM107.3 444.3l2.4 4.2h-4.7zM115.2 444.3l2.4 4.2h-4.7zM123.0 444.3l2.4 4.2h-4.7zM130.8 444.4l2.4 4.2h-4.7zM139.0 444.4l2.4 4.2h-4.7zM146.8 444.4l2.4 4.2h-4.7zM154.7 444.4l2.4 4.2h-4.7zM162.5 444.4l2.4 4.2h-4.7zM170.7 444.4l2.4 4.2h-4.7zM178.5 444.4l2.4 4.2h-4.7z" fill="#e6641e"/>
<path d="M28.0 416.0L33.7 426.0L46.4 426.0L46.4 431.0L93.4 431.0L93.4 434.2L138.4 434.2L138.4 437.8L178.5 437.8" fill="none" stroke="#1ea096" stroke-width="1.35" stroke-linejoin="round"/>
<path d="M25.6 416.0l4.2 -2.4v4.7zM33.5 426.0l4.2 -2.4v4.7zM41.6 426.0l4.2 -2.4v4.7zM49.5 431.0l4.2 -2.4v4.7zM57.3 431.0l4.2 -2.4v4.7zM65.2 431.0l4.2 -2.4v4.7zM73.3 431.0l4.2 -2.4v4.7zM81.1 431.0l4.2 -2.4v4.7zM89.0 431.0l4.2 -2.4v4.7zM96.8 434.2l4.2 -2.4v4.7zM105.0 434.2l4.2 -2.4v4.7zM112.8 434.2l4.2 -2.4v4.7zM120.7 434.2l4.2 -2.4v4.7zM128.5 434.2l4.2 -2.4v4.7zM136.6 437.8l4.2 -2.4v4.7zM144.5 437.8l4.2 -2.4v4.7zM152.3 437.8l4.2 -2.4v4.7zM160.2 437.8l4.2 -2.4v4.7zM168.3 437.8l4.2 -2.4v4.7zM176.2 437.8l4.2 -2.4v4.7z" fill="#1ea096"/>
<path d="M28.0 420.0L39.8 447.3L178.5 448.0" fill="none" stroke="#7846dc" stroke-width="1.35" stroke-linejoin="round"/>
<path d="M28 418.1l1.7 0.9l0 2.0l-1.7 0.9l-1.7 -0.9l0 -2.0zM35.8 436.2l1.7 1.0l0 2.0l-1.7 0.9l-1.6 -0.9l0 -2.0zM44 445.4l1.7 0.9l0 2.0l-1.7 1.0l-1.7 -1.0l0 -2.0zM51.8 445.4l1.7 1.0l0 1.9l-1.7 1.0l-1.7 -1.0l0 -1.9zM59.7 445.5l1.7 0.9l0 2.0l-1.7 1.0l-1.7 -1.0l0 -2.0zM67.5 445.5l1.7 1.0l0 1.9l-1.7 1.0l-1.7 -1.0l0 -1.9zM75.7 445.5l1.6 1.0l0 2.0l-1.6 0.9l-1.7 -0.9l0 -2.0zM83.5 445.6l1.7 0.9l0 2.0l-1.7 1.0l-1.7 -1.0l0 -2.0zM91.3 445.6l1.7 1.0l0 1.9l-1.7 1.0l-1.7 -1.0l0 -1.9zM99.2 445.6l1.7 1.0l0 2.0l-1.7 0.9l-1.7 -0.9l0 -2.0zM107.3 445.7l1.7 1.0l0 1.9l-1.7 1.0l-1.7 -1.0l0 -1.9zM115.2 445.7l1.7 1.0l0 2.0l-1.7 0.9l-1.7 -0.9l0 -2.0zM123 445.8l1.7 0.9l0 2.0l-1.7 1.0l-1.7 -1.0l0 -2.0zM130.8 445.8l1.7 1.0l0 1.9l-1.7 1.0l-1.6 -1.0l0 -1.9zM139 445.9l1.7 0.9l0 2.0l-1.7 1.0l-1.7 -1.0l0 -2.0zM146.8 445.9l1.7 1.0l0 1.9l-1.7 1.0l-1.7 -1.0l0 -1.9zM154.7 445.9l1.7 1.0l0 2.0l-1.7 0.9l-1.7 -0.9l0 -2.0zM162.5 446.0l1.7 0.9l0 2.0l-1.7 1.0l-1.7 -1.0l0 -2.0zM170.7 446.0l1.6 1.0l0 1.9l-1.6 1.0l-1.7 -1.0l0 -1.9zM178.5 446.1l1.7 0.9l0 2.0l-1.7 0.9l-1.7 -0.9l0 -2.0z" fill="#7846dc"/>
<path d="M28.0 420.0L35.2 438.5L118.2 440.0L166.7 440.0L171.0 451.6L178.5 451.6" fill="none" stroke="#00f000" stroke-width="1.35" stroke-linejoin="round"/>
<path d="M28.0 422.4l2.4 -4.2h-4.7zM35.8 440.9l2.4 -4.2h-4.7zM44.0 441.0l2.4 -4.2h-4.7zM51.8 441.2l2.4 -4.2h-4.7zM59.7 441.3l2.4 -4.2h-4.7zM67.5 441.4l2.4 -4.2h-4.7zM75.7 441.6l2.4 -4.2h-4.7zM83.5 441.7l2.4 -4.2h-4.7zM91.3 441.9l2.4 -4.2h-4.7zM99.2 442.0l2.4 -4.2h-4.7zM107.3 442.2l2.4 -4.2h-4.7zM115.2 442.3l2.4 -4.2h-4.7zM123.0 442.4l2.4 -4.2h-4.7zM130.8 442.4l2.4 -4.2h-4.7zM139.0 442.4l2.4 -4.2h-4.7zM146.8 442.4l2.4 -4.2h-4.7zM154.7 442.4l2.4 -4.2h-4.7zM162.5 442.4l2.4 -4.2h-4.7zM170.7 453.1l2.4 -4.2h-4.7zM178.5 454.0l2.4 -4.2h-4.7z" fill="#00f000"/>
<path d="M28.0 412.0L30.0 419.2L32.0 424.8L34.0 429.2L35.9 432.6L37.9 435.3L39.9 437.3L41.9 439.0L43.9 440.2L45.9 441.2L47.9 441.9L49.8 442.5L51.8 443.0L178.5 445.0" fill="none" stroke="#1e8cc8" stroke-width="1.35" stroke-linejoin="round"/>
<path d="M28 409.4l0.7 1.4l1.5 -0.1l-0.8 1.3l0.8 1.3l-1.5 -0.1l-0.7 1.4l-0.7 -1.4l-1.5 0.1l0.8 -1.3l-0.8 -1.3l1.5 0.1zM35.8 429.9l0.7 1.3l1.6 0.0l-0.9 1.2l0.9 1.3l-1.6 0.0l-0.7 1.3l-0.7 -1.3l-1.5 0.0l0.8 -1.3l-0.8 -1.2l1.5 0.0zM44 437.7l0.7 1.3l1.5 0.0l-0.8 1.3l0.8 1.2l-1.5 0.0l-0.7 1.3l-0.7 -1.3l-1.5 0.0l0.8 -1.2l-0.8 -1.3l1.5 0.0zM51.8 440.4l0.7 1.4l1.5 -0.1l-0.8 1.3l0.8 1.3l-1.5 -0.1l-0.7 1.4l-0.7 -1.4l-1.5 0.1l0.8 -1.3l-0.8 -1.3l1.5 0.1zM59.7 440.6l0.7 1.3l1.5 -0.1l-0.8 1.3l0.8 1.3l-1.5 -0.1l-0.7 1.4l-0.7 -1.4l-1.5 0.1l0.8 -1.3l-0.8 -1.3l1.5 0.1zM67.5 440.7l0.7 1.3l1.5 0.0l-0.8 1.2l0.8 1.3l-1.5 0.0l-0.7 1.3l-0.7 -1.3l-1.5 0.0l0.8 -1.3l-0.8 -1.2l1.5 0.0zM75.7 440.8l0.7 1.4l1.5 -0.1l-0.8 1.3l0.8 1.3l-1.5 -0.1l-0.7 1.3l-0.7 -1.3l-1.6 0.1l0.9 -1.3l-0.9 -1.3l1.6 0.1zM83.5 440.9l0.7 1.4l1.5 -0.1l-0.8 1.3l0.8 1.3l-1.5 -0.1l-0.7 1.4l-0.7 -1.4l-1.5 0.1l0.8 -1.3l-0.8 -1.3l1.5 0.1zM91.3 441.1l0.7 1.3l1.5 -0.1l-0.8 1.3l0.8 1.3l-1.5 -0.1l-0.7 1.4l-0.7 -1.4l-1.5 0.1l0.8 -1.3l-0.8 -1.3l1.5 0.1zM99.2 441.2l0.7 1.3l1.5 0.0l-0.8 1.2l0.8 1.3l-1.5 0.0l-0.7 1.3l-0.7 -1.3l-1.5 0.0l0.8 -1.3l-0.8 -1.2l1.5 0.0zM107.3 441.3l0.7 1.4l1.5 -0.1l-0.8 1.3l0.8 1.3l-1.5 -0.1l-0.7 1.3l-0.7 -1.3l-1.5 0.1l0.8 -1.3l-0.8 -1.3l1.5 0.1zM115.2 441.4l0.7 1.4l1.5 -0.1l-0.8 1.3l0.8 1.3l-1.5 -0.1l-0.7 1.4l-0.7 -1.4l-1.5 0.1l0.8 -1.3l-0.8 -1.3l1.5 0.1zM123 441.6l0.7 1.3l1.5 -0.1l-0.8 1.3l0.8 1.3l-1.5 -0.1l-0.7 1.4l-0.7 -1.4l-1.5 0.1l0.8 -1.3l-0.8 -1.3l1.5 0.1zM130.8 441.7l0.7 1.3l1.6 0.0l-0.9 1.2l0.9 1.3l-1.6 0.0l-0.7 1.3l-0.7 -1.3l-1.5 0.0l0.8 -1.3l-0.8 -1.2l1.5 0.0zM139 441.8l0.7 1.4l1.5 -0.1l-0.8 1.3l0.8 1.3l-1.5 -0.1l-0.7 1.3l-0.7 -1.3l-1.5 0.1l0.8 -1.3l-0.8 -1.3l1.5 0.1zM146.8 441.9l0.7 1.4l1.5 -0.1l-0.8 1.3l0.8 1.3l-1.5 -0.1l-0.7 1.4l-0.7 -1.4l-1.5 0.1l0.8 -1.3l-0.8 -1.3l1.5 0.1zM154.7 442.1l0.7 1.3l1.5 -0.1l-0.8 1.3l0.8 1.3l-1.5 -0.1l-0.7 1.4l-0.7 -1.4l-1.5 0.1l0.8 -1.3l-0.8 -1.3l1.5 0.1zM162.5 442.2l0.7 1.3l1.5 0.0l-0.8 1.2l0.8 1.3l-1.5 0.0l-0.7 1.3l-0.7 -1.3l-1.5 0.0l0.8 -1.3l-0.8 -1.2l1.5 0.0zM170.7 442.3l0.7 1.4l1.5 -0.1l-0.8 1.3l0.8 1.3l-1.5 -0.1l-0.7 1.3l-0.7 -1.3l-1.6 0.1l0.9 -1.3l-0.9 -1.3l1.6 0.1zM178.5 442.4l0.7 1.4l1.5 -0.1l-0.8 1.3l0.8 1.3l-1.5 -0.1l-0.7 1.4l-0.7 -1.4l-1.5 0.1l0.8 -1.3l-0.8 -1.3l1.5 0.1z" fill="#1e8cc8"/>
</g>
<text x="103.25" y="325.90" class="ti" text-anchor="middle">cec20</text>
<text x="103.25" y="469.80" class="lb" text-anchor="middle">Iteration</text>
<text transform="translate(11.00 391.00) rotate(-90)" class="lb" text-anchor="middle">Fitness value</text>
<rect x="132.80" y="332.10" width="42.6" height="88.9" fill="#fff" stroke="#8a8a8a" stroke-width="0.6"/>
<path d="M134.37 336.20H148.08" stroke="#ff0000" stroke-width="1.1"/>
<path d="M139.3 336.2a2.00 2.00 0 1 0 4.0 0a2.00 2.00 0 1 0 -4.0 0" fill="#ff0000"/>
<text x="149.45" y="337.75" class="lg">COA</text>
<path d="M134.37 342.02H148.08" stroke="#0000ff" stroke-width="1.1"/>
<path d="M141.3 339.7l2.4 4.2h-4.7z" fill="#0000ff"/>
<text x="149.45" y="343.57" class="lg">CMRLCCOA</text>
<path d="M134.37 347.84H148.08" stroke="#5aa832" stroke-width="1.1"/>
<path d="M140.2 346.8h2.2v2.2h-2.2z" fill="#3f8c14"/>
<text x="149.45" y="349.39" class="lg">KOA</text>
<path d="M134.37 353.66H148.08" stroke="#f5b82a" stroke-width="1.1"/>
<path d="M139.3 353.7h4.0M141.3 351.7v4.0" stroke="#f5b82a" stroke-width="0.8" fill="none"/>
<text x="149.45" y="355.21" class="lg">SWO</text>
<path d="M134.37 359.48H148.08" stroke="#f06ef0" stroke-width="1.1"/>
<path d="M141.3 361.8l2.4 -4.2h-4.7z" fill="#f06ef0"/>
<text x="149.45" y="361.03" class="lg">GMO</text>
<path d="M134.37 365.30H148.08" stroke="#962828" stroke-width="1.1"/>
<path d="M141.3 362.9l2.3 2.4l-2.3 2.4l-2.3 -2.4z" fill="#962828"/>
<text x="149.45" y="366.85" class="lg">OMA</text>
<path d="M134.37 371.12H148.08" stroke="#f5d214" stroke-width="1.1"/>
<path d="M139.6 369.4h3.5v3.5h-3.5z" fill="#f5d214"/>
<text x="149.45" y="372.67" class="lg">TROA</text>
<path d="M134.37 376.94H148.08" stroke="#b43cf0" stroke-width="1.1"/>
<path d="M139.3 376.9a2.00 2.00 0 1 0 4.0 0a2.00 2.00 0 1 0 -4.0 0" fill="#d77cf5" stroke="#a832e6" stroke-width="0.7"/>
<text x="149.45" y="378.49" class="lg">GO</text>
<path d="M134.37 382.76H148.08" stroke="#dc1e32" stroke-width="1.1"/>
<path d="M143.7 382.8l-4.2 -2.4v4.7z" fill="#dc1e32"/>
<text x="149.45" y="384.31" class="lg">PSO</text>
<path d="M134.37 388.58H148.08" stroke="#00e6f0" stroke-width="1.1"/>
<path d="M141.3 386.0l0.7 1.4l1.5 -0.1l-0.8 1.3l0.8 1.3l-1.5 -0.1l-0.7 1.3l-0.7 -1.3l-1.5 0.1l0.8 -1.3l-0.8 -1.3l1.5 0.1z" fill="#00e6f0"/>
<text x="149.45" y="390.13" class="lg">DE</text>
<path d="M134.37 394.40H148.08" stroke="#e6641e" stroke-width="1.1"/>
<path d="M141.3 392.1l2.4 4.2h-4.7z" fill="#e6641e"/>
<text x="149.45" y="395.95" class="lg">SA</text>
<path d="M134.37 400.22H148.08" stroke="#1ea096" stroke-width="1.1"/>
<path d="M139.0 400.2l4.2 -2.4v4.7z" fill="#1ea096"/>
<text x="149.45" y="401.77" class="lg">ABC</text>
<path d="M134.37 406.04H148.08" stroke="#7846dc" stroke-width="1.1"/>
<path d="M141.3 404.1l1.7 1.0l0 1.9l-1.7 1.0l-1.7 -1.0l0 -1.9z" fill="#7846dc"/>
<text x="149.45" y="407.59" class="lg">ISSA</text>
<path d="M134.37 411.86H148.08" stroke="#00f000" stroke-width="1.1"/>
<path d="M141.3 414.2l2.4 -4.2h-4.7z" fill="#00f000"/>
<text x="149.45" y="413.41" class="lg">IGWO</text>
<path d="M134.37 417.68H148.08" stroke="#1e8cc8" stroke-width="1.1"/>
<path d="M141.3 415.1l0.7 1.4l1.5 -0.1l-0.8 1.3l0.8 1.3l-1.5 -0.1l-0.7 1.3l-0.7 -1.3l-1.5 0.1l0.8 -1.3l-0.8 -1.3l1.5 0.1z" fill="#1e8cc8"/>
<text x="149.45" y="419.23" class="lg">EWOA</text>
<rect x="210" y="328.5" width="151" height="125.5" fill="none" stroke="#9a9a9a" stroke-width="0.8"/>
<path d="M224.83 454v-1.6M224.83 328.5v1.6" stroke="#666" stroke-width="0.5"/>
<text x="224.83" y="461.20" class="tk" text-anchor="middle">50</text>
<path d="M239.96 454v-1.6M239.96 328.5v1.6" stroke="#666" stroke-width="0.5"/>
<text x="239.96" y="461.20" class="tk" text-anchor="middle">100</text>
<path d="M255.09 454v-1.6M255.09 328.5v1.6" stroke="#666" stroke-width="0.5"/>
<text x="255.09" y="461.20" class="tk" text-anchor="middle">150</text>
<path d="M270.22 454v-1.6M270.22 328.5v1.6" stroke="#666" stroke-width="0.5"/>
<text x="270.22" y="461.20" class="tk" text-anchor="middle">200</text>
<path d="M285.35 454v-1.6M285.35 328.5v1.6" stroke="#666" stroke-width="0.5"/>
<text x="285.35" y="461.20" class="tk" text-anchor="middle">250</text>
<path d="M300.48 454v-1.6M300.48 328.5v1.6" stroke="#666" stroke-width="0.5"/>
<text x="300.48" y="461.20" class="tk" text-anchor="middle">300</text>
<path d="M315.61 454v-1.6M315.61 328.5v1.6" stroke="#666" stroke-width="0.5"/>
<text x="315.61" y="461.20" class="tk" text-anchor="middle">350</text>
<path d="M330.74 454v-1.6M330.74 328.5v1.6" stroke="#666" stroke-width="0.5"/>
<text x="330.74" y="461.20" class="tk" text-anchor="middle">400</text>
<path d="M345.87 454v-1.6M345.87 328.5v1.6" stroke="#666" stroke-width="0.5"/>
<text x="345.87" y="461.20" class="tk" text-anchor="middle">450</text>
<path d="M361.00 454v-1.6M361.00 328.5v1.6" stroke="#666" stroke-width="0.5"/>
<text x="361.00" y="461.20" class="tk" text-anchor="middle">500</text>
<path d="M210 330.40h1.6M361 330.40h-1.6" stroke="#666" stroke-width="0.5"/>
<text x="208.00" y="332.00" class="tk" text-anchor="end">12000</text>
<path d="M210 343.36h1.6M361 343.36h-1.6" stroke="#666" stroke-width="0.5"/>
<text x="208.00" y="344.96" class="tk" text-anchor="end">11000</text>
<path d="M210 356.32h1.6M361 356.32h-1.6" stroke="#666" stroke-width="0.5"/>
<text x="208.00" y="357.92" class="tk" text-anchor="end">10000</text>
<path d="M210 369.28h1.6M361 369.28h-1.6" stroke="#666" stroke-width="0.5"/>
<text x="208.00" y="370.88" class="tk" text-anchor="end">9000</text>
<path d="M210 382.24h1.6M361 382.24h-1.6" stroke="#666" stroke-width="0.5"/>
<text x="208.00" y="383.84" class="tk" text-anchor="end">8000</text>
<path d="M210 395.20h1.6M361 395.20h-1.6" stroke="#666" stroke-width="0.5"/>
<text x="208.00" y="396.80" class="tk" text-anchor="end">7000</text>
<path d="M210 408.16h1.6M361 408.16h-1.6" stroke="#666" stroke-width="0.5"/>
<text x="208.00" y="409.76" class="tk" text-anchor="end">6000</text>
<path d="M210 421.12h1.6M361 421.12h-1.6" stroke="#666" stroke-width="0.5"/>
<text x="208.00" y="422.72" class="tk" text-anchor="end">5000</text>
<path d="M210 434.08h1.6M361 434.08h-1.6" stroke="#666" stroke-width="0.5"/>
<text x="208.00" y="435.68" class="tk" text-anchor="end">4000</text>
<path d="M210 447.04h1.6M361 447.04h-1.6" stroke="#666" stroke-width="0.5"/>
<text x="208.00" y="448.64" class="tk" text-anchor="end">3000</text>
<clipPath id="ccec21"><rect x="205" y="323.5" width="161" height="135.5"/></clipPath>
<g clip-path="url(#ccec21)">
<path d="M210.0 433.0L215.7 440.0L240.0 441.5L361.0 441.8" fill="none" stroke="#ff0000" stroke-width="1.35" stroke-linejoin="round"/>
<path d="M208.0 433.0a2.00 2.00 0 1 0 4.0 0a2.00 2.00 0 1 0 -4.0 0M215.9 440.1a2.00 2.00 0 1 0 4.0 0a2.00 2.00 0 1 0 -4.0 0M224.0 440.6a2.00 2.00 0 1 0 4.0 0a2.00 2.00 0 1 0 -4.0 0M231.9 441.1a2.00 2.00 0 1 0 4.0 0a2.00 2.00 0 1 0 -4.0 0M239.8 441.5a2.00 2.00 0 1 0 4.0 0a2.00 2.00 0 1 0 -4.0 0M247.6 441.5a2.00 2.00 0 1 0 4.0 0a2.00 2.00 0 1 0 -4.0 0M255.8 441.5a2.00 2.00 0 1 0 4.0 0a2.00 2.00 0 1 0 -4.0 0M263.7 441.6a2.00 2.00 0 1 0 4.0 0a2.00 2.00 0 1 0 -4.0 0M271.5 441.6a2.00 2.00 0 1 0 4.0 0a2.00 2.00 0 1 0 -4.0 0M279.4 441.6a2.00 2.00 0 1 0 4.0 0a2.00 2.00 0 1 0 -4.0 0M287.6 441.6a2.00 2.00 0 1 0 4.0 0a2.00 2.00 0 1 0 -4.0 0M295.5 441.6a2.00 2.00 0 1 0 4.0 0a2.00 2.00 0 1 0 -4.0 0M303.3 441.7a2.00 2.00 0 1 0 4.0 0a2.00 2.00 0 1 0 -4.0 0M311.2 441.7a2.00 2.00 0 1 0 4.0 0a2.00 2.00 0 1 0 -4.0 0M319.4 441.7a2.00 2.00 0 1 0 4.0 0a2.00 2.00 0 1 0 -4.0 0M327.2 441.7a2.00 2.00 0 1 0 4.0 0a2.00 2.00 0 1 0 -4.0 0M335.1 441.7a2.00 2.00 0 1 0 4.0 0a2.00 2.00 0 1 0 -4.0 0M343.0 441.8a2.00 2.00 0 1 0 4.0 0a2.00 2.00 0 1 0 -4.0 0M351.1 441.8a2.00 2.00 0 1 0 4.0 0a2.00 2.00 0 1 0 -4.0 0M359.0 441.8a2.00 2.00 0 1 0 4.0 0a2.00 2.00 0 1 0 -4.0 0" fill="#ff0000"/>
<path d="M210.0 328.5L210.3 440.0L215.7 450.0L361.0 452.0" fill="none" stroke="#0000ff" stroke-width="1.35" stroke-linejoin="round"/>
<path d="M210.0 326.1l2.4 4.2h-4.7zM217.9 447.7l2.4 4.2h-4.7zM226.0 447.8l2.4 4.2h-4.7zM233.9 447.9l2.4 4.2h-4.7zM241.8 448.0l2.4 4.2h-4.7zM249.6 448.1l2.4 4.2h-4.7zM257.8 448.2l2.4 4.2h-4.7zM265.7 448.3l2.4 4.2h-4.7zM273.5 448.4l2.4 4.2h-4.7zM281.4 448.6l2.4 4.2h-4.7zM289.6 448.7l2.4 4.2h-4.7zM297.5 448.8l2.4 4.2h-4.7zM305.3 448.9l2.4 4.2h-4.7zM313.2 449.0l2.4 4.2h-4.7zM321.4 449.1l2.4 4.2h-4.7zM329.2 449.2l2.4 4.2h-4.7zM337.1 449.3l2.4 4.2h-4.7zM345.0 449.4l2.4 4.2h-4.7zM353.1 449.5l2.4 4.2h-4.7zM361.0 449.6l2.4 4.2h-4.7z" fill="#0000ff"/>
<path d="M210.0 437.0L218.8 440.0L243.0 440.0L249.0 445.0L361.0 446.5" fill="none" stroke="#5aa832" stroke-width="1.35" stroke-linejoin="round"/>
<path d="M208.9 435.9h2.2v2.2h-2.2zM216.8 438.6h2.2v2.2h-2.2zM225.0 438.9h2.2v2.2h-2.2zM232.8 438.9h2.2v2.2h-2.2zM240.7 438.9h2.2v2.2h-2.2zM248.6 443.9h2.2v2.2h-2.2zM256.7 444.0h2.2v2.2h-2.2zM264.6 444.1h2.2v2.2h-2.2zM272.5 444.2h2.2v2.2h-2.2zM280.3 444.3h2.2v2.2h-2.2zM288.5 444.5h2.2v2.2h-2.2zM296.4 444.6h2.2v2.2h-2.2zM304.2 444.7h2.2v2.2h-2.2zM312.1 444.8h2.2v2.2h-2.2zM320.3 444.9h2.2v2.2h-2.2zM328.1 445.0h2.2v2.2h-2.2zM336.0 445.1h2.2v2.2h-2.2zM343.9 445.2h2.2v2.2h-2.2zM352.0 445.3h2.2v2.2h-2.2zM359.9 445.4h2.2v2.2h-2.2z" fill="#3f8c14"/>
<path d="M210.0 436.0L218.8 442.8L361.0 445.5" fill="none" stroke="#f5b82a" stroke-width="1.35" stroke-linejoin="round"/>
<path d="M208.0 436.0h4.0M210.0 434.0v4.0M215.9 442.1h4.0M217.9 440.1v4.0M224.0 442.9h4.0M226.0 440.9v4.0M231.9 443.1h4.0M233.9 441.1v4.0M239.8 443.2h4.0M241.8 441.2v4.0M247.6 443.4h4.0M249.6 441.4v4.0M255.8 443.5h4.0M257.8 441.5v4.0M263.7 443.7h4.0M265.7 441.7v4.0M271.5 443.8h4.0M273.5 441.8v4.0M279.4 444.0h4.0M281.4 442.0v4.0M287.6 444.1h4.0M289.6 442.1v4.0M295.5 444.3h4.0M297.5 442.3v4.0M303.3 444.4h4.0M305.3 442.4v4.0M311.2 444.6h4.0M313.2 442.6v4.0M319.4 444.7h4.0M321.4 442.7v4.0M327.2 444.9h4.0M329.2 442.9v4.0M335.1 445.0h4.0M337.1 443.0v4.0M343.0 445.2h4.0M345.0 443.2v4.0M351.1 445.4h4.0M353.1 443.4v4.0M359.0 445.5h4.0M361.0 443.5v4.0" stroke="#f5b82a" stroke-width="0.8" fill="none"/>
<path d="M210.0 440.0L215.7 450.0L361.0 453.9" fill="none" stroke="#f06ef0" stroke-width="1.35" stroke-linejoin="round"/>
<path d="M210.0 442.4l2.4 -4.2h-4.7zM217.9 452.4l2.4 -4.2h-4.7zM226.0 452.6l2.4 -4.2h-4.7zM233.9 452.8l2.4 -4.2h-4.7zM241.8 453.0l2.4 -4.2h-4.7zM249.6 453.3l2.4 -4.2h-4.7zM257.8 453.5l2.4 -4.2h-4.7zM265.7 453.7l2.4 -4.2h-4.7zM273.5 453.9l2.4 -4.2h-4.7zM281.4 454.1l2.4 -4.2h-4.7zM289.6 454.3l2.4 -4.2h-4.7zM297.5 454.5l2.4 -4.2h-4.7zM305.3 454.8l2.4 -4.2h-4.7zM313.2 455.0l2.4 -4.2h-4.7zM321.4 455.2l2.4 -4.2h-4.7zM329.2 455.4l2.4 -4.2h-4.7zM337.1 455.6l2.4 -4.2h-4.7zM345.0 455.8l2.4 -4.2h-4.7zM353.1 456.0l2.4 -4.2h-4.7zM361.0 456.2l2.4 -4.2h-4.7z" fill="#f06ef0"/>
<path d="M210.0 436.0L221.8 446.0L361.0 448.0" fill="none" stroke="#962828" stroke-width="1.35" stroke-linejoin="round"/>
<path d="M210.0 433.6l2.3 2.4l-2.3 2.4l-2.3 -2.4zM217.9 440.3l2.3 2.4l-2.3 2.4l-2.3 -2.4zM226.0 443.7l2.3 2.4l-2.3 2.4l-2.3 -2.4zM233.9 443.8l2.3 2.4l-2.3 2.4l-2.3 -2.4zM241.8 443.9l2.3 2.4l-2.3 2.4l-2.3 -2.4zM249.6 444.0l2.3 2.4l-2.3 2.4l-2.3 -2.4zM257.8 444.1l2.3 2.4l-2.3 2.4l-2.3 -2.4zM265.7 444.2l2.3 2.4l-2.3 2.4l-2.3 -2.4zM273.5 444.3l2.3 2.4l-2.3 2.4l-2.3 -2.4zM281.4 444.5l2.3 2.4l-2.3 2.4l-2.3 -2.4zM289.6 444.6l2.3 2.4l-2.3 2.4l-2.3 -2.4zM297.5 444.7l2.3 2.4l-2.3 2.4l-2.3 -2.4zM305.3 444.8l2.3 2.4l-2.3 2.4l-2.3 -2.4zM313.2 444.9l2.3 2.4l-2.3 2.4l-2.3 -2.4zM321.4 445.0l2.3 2.4l-2.3 2.4l-2.3 -2.4zM329.2 445.1l2.3 2.4l-2.3 2.4l-2.3 -2.4zM337.1 445.3l2.3 2.4l-2.3 2.4l-2.3 -2.4zM345.0 445.4l2.3 2.4l-2.3 2.4l-2.3 -2.4zM353.1 445.5l2.3 2.4l-2.3 2.4l-2.3 -2.4zM361.0 445.6l2.3 2.4l-2.3 2.4l-2.3 -2.4z" fill="#962828"/>
<path d="M210.0 437.0L215.7 444.3L361.0 446.2" fill="none" stroke="#f5d214" stroke-width="1.35" stroke-linejoin="round"/>
<path d="M208.2 435.2h3.5v3.5h-3.5zM216.1 442.6h3.5v3.5h-3.5zM224.3 442.7h3.5v3.5h-3.5zM232.2 442.8h3.5v3.5h-3.5zM240.0 442.9h3.5v3.5h-3.5zM247.9 443.0h3.5v3.5h-3.5zM256.1 443.1h3.5v3.5h-3.5zM263.9 443.2h3.5v3.5h-3.5zM271.8 443.3h3.5v3.5h-3.5zM279.7 443.4h3.5v3.5h-3.5zM287.8 443.5h3.5v3.5h-3.5zM295.7 443.6h3.5v3.5h-3.5zM303.6 443.7h3.5v3.5h-3.5zM311.4 443.8h3.5v3.5h-3.5zM319.6 443.9h3.5v3.5h-3.5zM327.5 444.0h3.5v3.5h-3.5zM335.3 444.1h3.5v3.5h-3.5zM343.2 444.2h3.5v3.5h-3.5zM351.4 444.3h3.5v3.5h-3.5zM359.2 444.4h3.5v3.5h-3.5z" fill="#f5d214"/>
<path d="M210.0 392.0L210.6 437.0L215.7 439.2L249.0 441.6L361.0 443.3" fill="none" stroke="#b43cf0" stroke-width="1.35" stroke-linejoin="round"/>
<path d="M208.0 392.0a2.00 2.00 0 1 0 4.0 0a2.00 2.00 0 1 0 -4.0 0M215.9 439.4a2.00 2.00 0 1 0 4.0 0a2.00 2.00 0 1 0 -4.0 0M224.0 439.9a2.00 2.00 0 1 0 4.0 0a2.00 2.00 0 1 0 -4.0 0M231.9 440.5a2.00 2.00 0 1 0 4.0 0a2.00 2.00 0 1 0 -4.0 0M239.8 441.1a2.00 2.00 0 1 0 4.0 0a2.00 2.00 0 1 0 -4.0 0M247.6 441.6a2.00 2.00 0 1 0 4.0 0a2.00 2.00 0 1 0 -4.0 0M255.8 441.7a2.00 2.00 0 1 0 4.0 0a2.00 2.00 0 1 0 -4.0 0M263.7 441.9a2.00 2.00 0 1 0 4.0 0a2.00 2.00 0 1 0 -4.0 0M271.5 442.0a2.00 2.00 0 1 0 4.0 0a2.00 2.00 0 1 0 -4.0 0M279.4 442.1a2.00 2.00 0 1 0 4.0 0a2.00 2.00 0 1 0 -4.0 0M287.6 442.2a2.00 2.00 0 1 0 4.0 0a2.00 2.00 0 1 0 -4.0 0M295.5 442.3a2.00 2.00 0 1 0 4.0 0a2.00 2.00 0 1 0 -4.0 0M303.3 442.5a2.00 2.00 0 1 0 4.0 0a2.00 2.00 0 1 0 -4.0 0M311.2 442.6a2.00 2.00 0 1 0 4.0 0a2.00 2.00 0 1 0 -4.0 0M319.4 442.7a2.00 2.00 0 1 0 4.0 0a2.00 2.00 0 1 0 -4.0 0M327.2 442.8a2.00 2.00 0 1 0 4.0 0a2.00 2.00 0 1 0 -4.0 0M335.1 442.9a2.00 2.00 0 1 0 4.0 0a2.00 2.00 0 1 0 -4.0 0M343.0 443.1a2.00 2.00 0 1 0 4.0 0a2.00 2.00 0 1 0 -4.0 0M351.1 443.2a2.00 2.00 0 1 0 4.0 0a2.00 2.00 0 1 0 -4.0 0M359.0 443.3a2.00 2.00 0 1 0 4.0 0a2.00 2.00 0 1 0 -4.0 0" fill="#d77cf5" stroke="#a832e6" stroke-width="0.7"/>
<path d="M210.0 429.0L215.0 433.6L220.0 437.1L225.1 439.9L230.1 442.0L235.1 443.7L240.1 445.0L245.1 446.0L250.1 446.8L255.2 447.5L260.2 447.9L265.2 448.3L270.2 448.6L361.0 449.0" fill="none" stroke="#dc1e32" stroke-width="1.35" stroke-linejoin="round"/>
<path d="M212.3 429.0l-4.2 -2.4v4.7zM220.2 435.6l-4.2 -2.4v4.7zM228.4 440.3l-4.2 -2.4v4.7zM236.3 443.3l-4.2 -2.4v4.7zM244.1 445.4l-4.2 -2.4v4.7zM252.0 446.8l-4.2 -2.4v4.7zM260.2 447.7l-4.2 -2.4v4.7zM268.0 448.3l-4.2 -2.4v4.7zM275.9 448.6l-4.2 -2.4v4.7zM283.8 448.6l-4.2 -2.4v4.7zM291.9 448.7l-4.2 -2.4v4.7zM299.8 448.7l-4.2 -2.4v4.7zM307.7 448.8l-4.2 -2.4v4.7zM315.5 448.8l-4.2 -2.4v4.7zM323.7 448.8l-4.2 -2.4v4.7zM331.6 448.9l-4.2 -2.4v4.7zM339.4 448.9l-4.2 -2.4v4.7zM347.3 448.9l-4.2 -2.4v4.7zM355.5 449.0l-4.2 -2.4v4.7zM363.4 449.0l-4.2 -2.4v4.7z" fill="#dc1e32"/>
<path d="M210.0 438.0L218.8 446.5L361.0 449.0" fill="none" stroke="#00e6f0" stroke-width="1.35" stroke-linejoin="round"/>
<path d="M210 435.4l0.7 1.4l1.5 -0.1l-0.8 1.3l0.8 1.3l-1.5 -0.1l-0.7 1.4l-0.7 -1.4l-1.5 0.1l0.8 -1.3l-0.8 -1.3l1.5 0.1zM217.9 443.1l0.7 1.3l1.5 -0.1l-0.8 1.3l0.8 1.3l-1.5 -0.1l-0.7 1.4l-0.7 -1.4l-1.5 0.1l0.8 -1.3l-0.8 -1.3l1.5 0.1zM226 444.1l0.7 1.3l1.5 0.0l-0.8 1.2l0.8 1.3l-1.5 -0.1l-0.7 1.4l-0.7 -1.4l-1.5 0.1l0.8 -1.3l-0.8 -1.2l1.5 0.0zM233.9 444.2l0.7 1.4l1.5 -0.1l-0.8 1.3l0.8 1.2l-1.5 0.0l-0.7 1.3l-0.7 -1.3l-1.5 0.0l0.8 -1.2l-0.8 -1.3l1.5 0.1zM241.8 444.4l0.7 1.3l1.5 -0.1l-0.8 1.3l0.8 1.3l-1.5 -0.1l-0.7 1.4l-0.7 -1.4l-1.5 0.1l0.8 -1.3l-0.8 -1.3l1.5 0.1zM249.6 444.5l0.7 1.3l1.5 0.0l-0.8 1.2l0.8 1.3l-1.5 0.0l-0.7 1.3l-0.7 -1.3l-1.5 0.0l0.8 -1.3l-0.8 -1.2l1.5 0.0zM257.8 444.6l0.7 1.4l1.5 -0.1l-0.8 1.3l0.8 1.3l-1.5 -0.1l-0.7 1.3l-0.7 -1.3l-1.5 0.1l0.8 -1.3l-0.8 -1.3l1.5 0.1zM265.7 444.8l0.7 1.3l1.5 -0.1l-0.8 1.3l0.8 1.3l-1.5 -0.1l-0.7 1.4l-0.7 -1.4l-1.5 0.1l0.8 -1.3l-0.8 -1.3l1.5 0.1zM273.5 444.9l0.7 1.4l1.6 -0.1l-0.9 1.3l0.9 1.2l-1.6 0.0l-0.7 1.3l-0.7 -1.3l-1.5 0.0l0.8 -1.2l-0.8 -1.3l1.5 0.1zM281.4 445.1l0.7 1.3l1.5 -0.1l-0.8 1.3l0.8 1.3l-1.5 -0.1l-0.7 1.4l-0.7 -1.4l-1.5 0.1l0.8 -1.3l-0.8 -1.3l1.5 0.1zM289.6 445.2l0.7 1.3l1.5 0.0l-0.8 1.2l0.8 1.3l-1.5 0.0l-0.7 1.3l-0.7 -1.3l-1.5 0.0l0.8 -1.3l-0.8 -1.2l1.5 0.0zM297.5 445.3l0.7 1.4l1.5 -0.1l-0.8 1.3l0.8 1.3l-1.5 -0.1l-0.7 1.3l-0.7 -1.3l-1.6 0.1l0.9 -1.3l-0.9 -1.3l1.6 0.1zM305.3 445.5l0.7 1.3l1.5 -0.1l-0.8 1.3l0.8 1.3l-1.5 -0.1l-0.7 1.4l-0.7 -1.4l-1.5 0.1l0.8 -1.3l-0.8 -1.3l1.5 0.1zM313.2 445.6l0.7 1.3l1.5 0.0l-0.8 1.3l0.8 1.2l-1.5 0.0l-0.7 1.3l-0.7 -1.3l-1.5 0.0l0.8 -1.2l-0.8 -1.3l1.5 0.0zM321.4 445.8l0.7 1.3l1.5 -0.1l-0.8 1.3l0.8 1.3l-1.5 -0.1l-0.7 1.4l-0.7 -1.4l-1.5 0.1l0.8 -1.3l-0.8 -1.3l1.5 0.1zM329.2 445.9l0.7 1.3l1.5 0.0l-0.8 1.2l0.8 1.3l-1.5 0.0l-0.7 1.3l-0.7 -1.3l-1.5 0.0l0.8 -1.3l-0.8 -1.2l1.5 0.0zM337.1 446.0l0.7 1.4l1.5 -0.1l-0.8 1.3l0.8 1.3l-1.5 -0.1l-0.7 1.3l-0.7 -1.3l-1.5 0.1l0.8 -1.3l-0.8 -1.3l1.5 0.1zM345 446.2l0.7 1.3l1.5 -0.1l-0.8 1.3l0.8 1.3l-1.5 -0.1l-0.7 1.4l-0.7 -1.4l-1.5 0.1l0.8 -1.3l-0.8 -1.3l1.5 0.1zM353.1 446.3l0.7 1.3l1.5 0.0l-0.8 1.3l0.8 1.2l-1.5 0.0l-0.7 1.3l-0.7 -1.3l-1.5 0.0l0.8 -1.2l-0.8 -1.3l1.5 0.0zM361 446.4l0.7 1.4l1.5 -0.1l-0.8 1.3l0.8 1.3l-1.5 -0.1l-0.7 1.4l-0.7 -1.4l-1.5 0.1l0.8 -1.3l-0.8 -1.3l1.5 0.1z" fill="#00e6f0"/>
<path d="M210.0 440.0L212.7 448.0L361.0 451.0" fill="none" stroke="#e6641e" stroke-width="1.35" stroke-linejoin="round"/>
<path d="M210.0 437.6l2.4 4.2h-4.7zM217.9 445.8l2.4 4.2h-4.7zM226.0 445.9l2.4 4.2h-4.7zM233.9 446.1l2.4 4.2h-4.7zM241.8 446.2l2.4 4.2h-4.7zM249.6 446.4l2.4 4.2h-4.7zM257.8 446.6l2.4 4.2h-4.7zM265.7 446.7l2.4 4.2h-4.7zM273.5 446.9l2.4 4.2h-4.7zM281.4 447.0l2.4 4.2h-4.7zM289.6 447.2l2.4 4.2h-4.7zM297.5 447.4l2.4 4.2h-4.7zM305.3 447.5l2.4 4.2h-4.7zM313.2 447.7l2.4 4.2h-4.7zM321.4 447.8l2.4 4.2h-4.7zM329.2 448.0l2.4 4.2h-4.7zM337.1 448.2l2.4 4.2h-4.7zM345.0 448.3l2.4 4.2h-4.7zM353.1 448.5l2.4 4.2h-4.7zM361.0 448.6l2.4 4.2h-4.7z" fill="#e6641e"/>
<path d="M210.0 437.0L218.8 448.6L361.0 450.0" fill="none" stroke="#1ea096" stroke-width="1.35" stroke-linejoin="round"/>
<path d="M207.7 437.0l4.2 -2.4v4.7zM215.5 447.4l4.2 -2.4v4.7zM223.7 448.7l4.2 -2.4v4.7zM231.6 448.7l4.2 -2.4v4.7zM239.4 448.8l4.2 -2.4v4.7zM247.3 448.9l4.2 -2.4v4.7zM255.5 449.0l4.2 -2.4v4.7zM263.3 449.1l4.2 -2.4v4.7zM271.2 449.1l4.2 -2.4v4.7zM279.1 449.2l4.2 -2.4v4.7zM287.2 449.3l4.2 -2.4v4.7zM295.1 449.4l4.2 -2.4v4.7zM303.0 449.5l4.2 -2.4v4.7zM310.8 449.5l4.2 -2.4v4.7zM319.0 449.6l4.2 -2.4v4.7zM326.9 449.7l4.2 -2.4v4.7zM334.7 449.8l4.2 -2.4v4.7zM342.6 449.8l4.2 -2.4v4.7zM350.8 449.9l4.2 -2.4v4.7zM358.6 450.0l4.2 -2.4v4.7z" fill="#1ea096"/>
<path d="M210.0 440.0L218.8 451.5L361.0 452.0" fill="none" stroke="#7846dc" stroke-width="1.35" stroke-linejoin="round"/>
<path d="M210 438.1l1.7 0.9l0 2.0l-1.7 0.9l-1.7 -0.9l0 -2.0zM217.9 448.4l1.7 0.9l0 2.0l-1.7 1.0l-1.7 -1.0l0 -2.0zM226 449.6l1.7 1.0l0 1.9l-1.7 1.0l-1.7 -1.0l0 -1.9zM233.9 449.6l1.7 1.0l0 1.9l-1.7 1.0l-1.7 -1.0l0 -1.9zM241.8 449.6l1.7 1.0l0 2.0l-1.7 0.9l-1.7 -0.9l0 -2.0zM249.6 449.7l1.7 0.9l0 2.0l-1.7 1.0l-1.6 -1.0l0 -2.0zM257.8 449.7l1.7 1.0l0 1.9l-1.7 1.0l-1.7 -1.0l0 -1.9zM265.7 449.7l1.7 1.0l0 1.9l-1.7 1.0l-1.7 -1.0l0 -1.9zM273.5 449.7l1.7 1.0l0 2.0l-1.7 0.9l-1.6 -0.9l0 -2.0zM281.4 449.8l1.7 0.9l0 2.0l-1.7 1.0l-1.7 -1.0l0 -2.0zM289.6 449.8l1.7 1.0l0 1.9l-1.7 1.0l-1.7 -1.0l0 -1.9zM297.5 449.8l1.6 1.0l0 2.0l-1.6 0.9l-1.7 -0.9l0 -2.0zM305.3 449.9l1.7 0.9l0 2.0l-1.7 1.0l-1.7 -1.0l0 -2.0zM313.2 449.9l1.7 1.0l0 1.9l-1.7 1.0l-1.7 -1.0l0 -1.9zM321.4 449.9l1.6 1.0l0 1.9l-1.6 1.0l-1.7 -1.0l0 -1.9zM329.2 449.9l1.7 1.0l0 2.0l-1.7 0.9l-1.7 -0.9l0 -2.0zM337.1 450.0l1.7 0.9l0 2.0l-1.7 1.0l-1.7 -1.0l0 -2.0zM345 450.0l1.7 1.0l0 1.9l-1.7 1.0l-1.7 -1.0l0 -1.9zM353.1 450.0l1.7 1.0l0 1.9l-1.7 1.0l-1.7 -1.0l0 -1.9zM361 450.1l1.7 0.9l0 2.0l-1.7 0.9l-1.7 -0.9l0 -2.0z" fill="#7846dc"/>
<path d="M210.0 438.0L215.7 450.1L361.0 452.7" fill="none" stroke="#00f000" stroke-width="1.35" stroke-linejoin="round"/>
<path d="M210.0 440.4l2.4 -4.2h-4.7zM217.9 452.5l2.4 -4.2h-4.7zM226.0 452.6l2.4 -4.2h-4.7zM233.9 452.8l2.4 -4.2h-4.7zM241.8 452.9l2.4 -4.2h-4.7zM249.6 453.1l2.4 -4.2h-4.7zM257.8 453.2l2.4 -4.2h-4.7zM265.7 453.3l2.4 -4.2h-4.7zM273.5 453.5l2.4 -4.2h-4.7zM281.4 453.6l2.4 -4.2h-4.7zM289.6 453.8l2.4 -4.2h-4.7zM297.5 453.9l2.4 -4.2h-4.7zM305.3 454.1l2.4 -4.2h-4.7zM313.2 454.2l2.4 -4.2h-4.7zM321.4 454.3l2.4 -4.2h-4.7zM329.2 454.5l2.4 -4.2h-4.7zM337.1 454.6l2.4 -4.2h-4.7zM345.0 454.8l2.4 -4.2h-4.7zM353.1 454.9l2.4 -4.2h-4.7zM361.0 455.1l2.4 -4.2h-4.7z" fill="#00f000"/>
<path d="M210.0 436.0L221.8 448.0L361.0 450.5" fill="none" stroke="#1e8cc8" stroke-width="1.35" stroke-linejoin="round"/>
<path d="M210 433.4l0.7 1.4l1.5 -0.1l-0.8 1.3l0.8 1.3l-1.5 -0.1l-0.7 1.4l-0.7 -1.4l-1.5 0.1l0.8 -1.3l-0.8 -1.3l1.5 0.1zM217.9 441.4l0.7 1.4l1.5 -0.1l-0.8 1.3l0.8 1.3l-1.5 -0.1l-0.7 1.4l-0.7 -1.4l-1.5 0.1l0.8 -1.3l-0.8 -1.3l1.5 0.1zM226 445.5l0.7 1.4l1.5 -0.1l-0.8 1.3l0.8 1.3l-1.5 -0.1l-0.7 1.3l-0.7 -1.3l-1.5 0.1l0.8 -1.3l-0.8 -1.3l1.5 0.1zM233.9 445.7l0.7 1.3l1.5 -0.1l-0.8 1.3l0.8 1.3l-1.5 -0.1l-0.7 1.4l-0.7 -1.4l-1.5 0.1l0.8 -1.3l-0.8 -1.3l1.5 0.1zM241.8 445.8l0.7 1.3l1.5 0.0l-0.8 1.3l0.8 1.2l-1.5 0.0l-0.7 1.3l-0.7 -1.3l-1.5 0.0l0.8 -1.2l-0.8 -1.3l1.5 0.0zM249.6 445.9l0.7 1.4l1.5 -0.1l-0.8 1.3l0.8 1.3l-1.5 -0.1l-0.7 1.4l-0.7 -1.4l-1.5 0.1l0.8 -1.3l-0.8 -1.3l1.5 0.1zM257.8 446.1l0.7 1.3l1.5 0.0l-0.8 1.2l0.8 1.3l-1.5 0.0l-0.7 1.3l-0.7 -1.3l-1.5 0.0l0.8 -1.3l-0.8 -1.2l1.5 0.0zM265.7 446.2l0.7 1.4l1.5 -0.1l-0.8 1.3l0.8 1.3l-1.5 -0.1l-0.7 1.3l-0.7 -1.3l-1.5 0.1l0.8 -1.3l-0.8 -1.3l1.5 0.1zM273.5 446.4l0.7 1.3l1.6 0.0l-0.9 1.2l0.9 1.3l-1.6 -0.1l-0.7 1.4l-0.7 -1.4l-1.5 0.1l0.8 -1.3l-0.8 -1.2l1.5 0.0zM281.4 446.5l0.7 1.4l1.5 -0.1l-0.8 1.3l0.8 1.2l-1.5 0.0l-0.7 1.3l-0.7 -1.3l-1.5 0.0l0.8 -1.2l-0.8 -1.3l1.5 0.1zM289.6 446.7l0.7 1.3l1.5 -0.1l-0.8 1.3l0.8 1.3l-1.5 -0.1l-0.7 1.4l-0.7 -1.4l-1.5 0.1l0.8 -1.3l-0.8 -1.3l1.5 0.1zM297.5 446.8l0.7 1.3l1.5 0.0l-0.8 1.3l0.8 1.2l-1.5 0.0l-0.7 1.3l-0.7 -1.3l-1.6 0.0l0.9 -1.2l-0.9 -1.3l1.6 0.0zM305.3 446.9l0.7 1.4l1.5 -0.1l-0.8 1.3l0.8 1.3l-1.5 -0.1l-0.7 1.4l-0.7 -1.4l-1.5 0.1l0.8 -1.3l-0.8 -1.3l1.5 0.1zM313.2 447.1l0.7 1.3l1.5 0.0l-0.8 1.2l0.8 1.3l-1.5 0.0l-0.7 1.3l-0.7 -1.3l-1.5 0.0l0.8 -1.3l-0.8 -1.2l1.5 0.0zM321.4 447.2l0.7 1.4l1.5 -0.1l-0.8 1.3l0.8 1.3l-1.5 -0.1l-0.7 1.3l-0.7 -1.3l-1.5 0.1l0.8 -1.3l-0.8 -1.3l1.5 0.1zM329.2 447.4l0.7 1.3l1.5 0.0l-0.8 1.2l0.8 1.3l-1.5 -0.1l-0.7 1.4l-0.7 -1.4l-1.5 0.1l0.8 -1.3l-0.8 -1.2l1.5 0.0zM337.1 447.5l0.7 1.4l1.5 -0.1l-0.8 1.3l0.8 1.2l-1.5 0.0l-0.7 1.3l-0.7 -1.3l-1.5 0.0l0.8 -1.2l-0.8 -1.3l1.5 0.1zM345 447.7l0.7 1.3l1.5 -0.1l-0.8 1.3l0.8 1.3l-1.5 -0.1l-0.7 1.4l-0.7 -1.4l-1.5 0.1l0.8 -1.3l-0.8 -1.3l1.5 0.1zM353.1 447.8l0.7 1.3l1.5 0.0l-0.8 1.3l0.8 1.2l-1.5 0.0l-0.7 1.3l-0.7 -1.3l-1.5 0.0l0.8 -1.2l-0.8 -1.3l1.5 0.0zM361 447.9l0.7 1.4l1.5 -0.1l-0.8 1.3l0.8 1.3l-1.5 -0.1l-0.7 1.4l-0.7 -1.4l-1.5 0.1l0.8 -1.3l-0.8 -1.3l1.5 0.1z" fill="#1e8cc8"/>
</g>
<text x="285.50" y="325.90" class="ti" text-anchor="middle">cec21</text>
<text x="285.50" y="470.30" class="lb" text-anchor="middle">Iteration</text>
<text transform="translate(192.10 391.25) rotate(-90)" class="lb" text-anchor="middle">Fitness value</text>
<rect x="315.30" y="332.10" width="42.5" height="88.9" fill="#fff" stroke="#8a8a8a" stroke-width="0.6"/>
<path d="M316.86 336.20H330.54" stroke="#ff0000" stroke-width="1.1"/>
<path d="M321.8 336.2a2.00 2.00 0 1 0 4.0 0a2.00 2.00 0 1 0 -4.0 0" fill="#ff0000"/>
<text x="331.91" y="337.75" class="lg">COA</text>
<path d="M316.86 342.02H330.54" stroke="#0000ff" stroke-width="1.1"/>
<path d="M323.8 339.7l2.4 4.2h-4.7z" fill="#0000ff"/>
<text x="331.91" y="343.57" class="lg">CMRLCCOA</text>
<path d="M316.86 347.84H330.54" stroke="#5aa832" stroke-width="1.1"/>
<path d="M322.7 346.8h2.2v2.2h-2.2z" fill="#3f8c14"/>
<text x="331.91" y="349.39" class="lg">KOA</text>
<path d="M316.86 353.66H330.54" stroke="#f5b82a" stroke-width="1.1"/>
<path d="M321.8 353.7h4.0M323.8 351.7v4.0" stroke="#f5b82a" stroke-width="0.8" fill="none"/>
<text x="331.91" y="355.21" class="lg">SWO</text>
<path d="M316.86 359.48H330.54" stroke="#f06ef0" stroke-width="1.1"/>
<path d="M323.8 361.8l2.4 -4.2h-4.7z" fill="#f06ef0"/>
<text x="331.91" y="361.03" class="lg">GMO</text>
<path d="M316.86 365.30H330.54" stroke="#962828" stroke-width="1.1"/>
<path d="M323.8 362.9l2.3 2.4l-2.3 2.4l-2.3 -2.4z" fill="#962828"/>
<text x="331.91" y="366.85" class="lg">OMA</text>
<path d="M316.86 371.12H330.54" stroke="#f5d214" stroke-width="1.1"/>
<path d="M322.1 369.4h3.5v3.5h-3.5z" fill="#f5d214"/>
<text x="331.91" y="372.67" class="lg">TROA</text>
<path d="M316.86 376.94H330.54" stroke="#b43cf0" stroke-width="1.1"/>
<path d="M321.8 376.9a2.00 2.00 0 1 0 4.0 0a2.00 2.00 0 1 0 -4.0 0" fill="#d77cf5" stroke="#a832e6" stroke-width="0.7"/>
<text x="331.91" y="378.49" class="lg">GO</text>
<path d="M316.86 382.76H330.54" stroke="#dc1e32" stroke-width="1.1"/>
<path d="M326.2 382.8l-4.2 -2.4v4.7z" fill="#dc1e32"/>
<text x="331.91" y="384.31" class="lg">PSO</text>
<path d="M316.86 388.58H330.54" stroke="#00e6f0" stroke-width="1.1"/>
<path d="M323.8 386.0l0.7 1.4l1.5 -0.1l-0.8 1.3l0.8 1.3l-1.5 -0.1l-0.7 1.3l-0.7 -1.3l-1.5 0.1l0.8 -1.3l-0.8 -1.3l1.5 0.1z" fill="#00e6f0"/>
<text x="331.91" y="390.13" class="lg">DE</text>
<path d="M316.86 394.40H330.54" stroke="#e6641e" stroke-width="1.1"/>
<path d="M323.8 392.1l2.4 4.2h-4.7z" fill="#e6641e"/>
<text x="331.91" y="395.95" class="lg">SA</text>
<path d="M316.86 400.22H330.54" stroke="#1ea096" stroke-width="1.1"/>
<path d="M321.4 400.2l4.2 -2.4v4.7z" fill="#1ea096"/>
<text x="331.91" y="401.77" class="lg">ABC</text>
<path d="M316.86 406.04H330.54" stroke="#7846dc" stroke-width="1.1"/>
<path d="M323.8 404.1l1.7 1.0l0 1.9l-1.7 1.0l-1.7 -1.0l0 -1.9z" fill="#7846dc"/>
<text x="331.91" y="407.59" class="lg">ISSA</text>
<path d="M316.86 411.86H330.54" stroke="#00f000" stroke-width="1.1"/>
<path d="M323.8 414.2l2.4 -4.2h-4.7z" fill="#00f000"/>
<text x="331.91" y="413.41" class="lg">IGWO</text>
<path d="M316.86 417.68H330.54" stroke="#1e8cc8" stroke-width="1.1"/>
<path d="M323.8 415.1l0.7 1.4l1.5 -0.1l-0.8 1.3l0.8 1.3l-1.5 -0.1l-0.7 1.3l-0.7 -1.3l-1.5 0.1l0.8 -1.3l-0.8 -1.3l1.5 0.1z" fill="#1e8cc8"/>
<text x="331.91" y="419.23" class="lg">EWOA</text>
<rect x="390" y="328.5" width="152.5" height="125.5" fill="none" stroke="#9a9a9a" stroke-width="0.8"/>
<path d="M404.97 454v-1.6M404.97 328.5v1.6" stroke="#666" stroke-width="0.5"/>
<text x="404.97" y="461.20" class="tk" text-anchor="middle">50</text>
<path d="M420.26 454v-1.6M420.26 328.5v1.6" stroke="#666" stroke-width="0.5"/>
<text x="420.26" y="461.20" class="tk" text-anchor="middle">100</text>
<path d="M435.54 454v-1.6M435.54 328.5v1.6" stroke="#666" stroke-width="0.5"/>
<text x="435.54" y="461.20" class="tk" text-anchor="middle">150</text>
<path d="M450.82 454v-1.6M450.82 328.5v1.6" stroke="#666" stroke-width="0.5"/>
<text x="450.82" y="461.20" class="tk" text-anchor="middle">200</text>
<path d="M466.10 454v-1.6M466.10 328.5v1.6" stroke="#666" stroke-width="0.5"/>
<text x="466.10" y="461.20" class="tk" text-anchor="middle">250</text>
<path d="M481.38 454v-1.6M481.38 328.5v1.6" stroke="#666" stroke-width="0.5"/>
<text x="481.38" y="461.20" class="tk" text-anchor="middle">300</text>
<path d="M496.66 454v-1.6M496.66 328.5v1.6" stroke="#666" stroke-width="0.5"/>
<text x="496.66" y="461.20" class="tk" text-anchor="middle">350</text>
<path d="M511.94 454v-1.6M511.94 328.5v1.6" stroke="#666" stroke-width="0.5"/>
<text x="511.94" y="461.20" class="tk" text-anchor="middle">400</text>
<path d="M527.22 454v-1.6M527.22 328.5v1.6" stroke="#666" stroke-width="0.5"/>
<text x="527.22" y="461.20" class="tk" text-anchor="middle">450</text>
<path d="M542.50 454v-1.6M542.50 328.5v1.6" stroke="#666" stroke-width="0.5"/>
<text x="542.50" y="461.20" class="tk" text-anchor="middle">500</text>
<path d="M390 339.90h1.6M542.5 339.90h-1.6" stroke="#666" stroke-width="0.5"/>
<text x="388.00" y="341.50" class="tk" text-anchor="end">9000</text>
<path d="M390 359.20h1.6M542.5 359.20h-1.6" stroke="#666" stroke-width="0.5"/>
<text x="388.00" y="360.80" class="tk" text-anchor="end">8000</text>
<path d="M390 378.50h1.6M542.5 378.50h-1.6" stroke="#666" stroke-width="0.5"/>
<text x="388.00" y="380.10" class="tk" text-anchor="end">7000</text>
<path d="M390 397.80h1.6M542.5 397.80h-1.6" stroke="#666" stroke-width="0.5"/>
<text x="388.00" y="399.40" class="tk" text-anchor="end">6000</text>
<path d="M390 417.10h1.6M542.5 417.10h-1.6" stroke="#666" stroke-width="0.5"/>
<text x="388.00" y="418.70" class="tk" text-anchor="end">5000</text>
<path d="M390 436.40h1.6M542.5 436.40h-1.6" stroke="#666" stroke-width="0.5"/>
<text x="388.00" y="438.00" class="tk" text-anchor="end">4000</text>
<clipPath id="ccec24"><rect x="385" y="323.5" width="162.5" height="135.5"/></clipPath>
<g clip-path="url(#ccec24)">
<path d="M390.0 412.2L398.9 412.2L405.0 412.2L405.0 416.2L542.5 416.2" fill="none" stroke="#ff0000" stroke-width="1.35" stroke-linejoin="round"/>
<path d="M388.0 412.2a2.00 2.00 0 1 0 4.0 0a2.00 2.00 0 1 0 -4.0 0M395.9 412.2a2.00 2.00 0 1 0 4.0 0a2.00 2.00 0 1 0 -4.0 0M404.2 416.2a2.00 2.00 0 1 0 4.0 0a2.00 2.00 0 1 0 -4.0 0M412.1 416.2a2.00 2.00 0 1 0 4.0 0a2.00 2.00 0 1 0 -4.0 0M420.1 416.2a2.00 2.00 0 1 0 4.0 0a2.00 2.00 0 1 0 -4.0 0M428.0 416.2a2.00 2.00 0 1 0 4.0 0a2.00 2.00 0 1 0 -4.0 0M436.3 416.2a2.00 2.00 0 1 0 4.0 0a2.00 2.00 0 1 0 -4.0 0M444.2 416.2a2.00 2.00 0 1 0 4.0 0a2.00 2.00 0 1 0 -4.0 0M452.2 416.2a2.00 2.00 0 1 0 4.0 0a2.00 2.00 0 1 0 -4.0 0M460.1 416.2a2.00 2.00 0 1 0 4.0 0a2.00 2.00 0 1 0 -4.0 0M468.4 416.2a2.00 2.00 0 1 0 4.0 0a2.00 2.00 0 1 0 -4.0 0M476.3 416.2a2.00 2.00 0 1 0 4.0 0a2.00 2.00 0 1 0 -4.0 0M484.3 416.2a2.00 2.00 0 1 0 4.0 0a2.00 2.00 0 1 0 -4.0 0M492.2 416.2a2.00 2.00 0 1 0 4.0 0a2.00 2.00 0 1 0 -4.0 0M500.5 416.2a2.00 2.00 0 1 0 4.0 0a2.00 2.00 0 1 0 -4.0 0M508.4 416.2a2.00 2.00 0 1 0 4.0 0a2.00 2.00 0 1 0 -4.0 0M516.4 416.2a2.00 2.00 0 1 0 4.0 0a2.00 2.00 0 1 0 -4.0 0M524.3 416.2a2.00 2.00 0 1 0 4.0 0a2.00 2.00 0 1 0 -4.0 0M532.6 416.2a2.00 2.00 0 1 0 4.0 0a2.00 2.00 0 1 0 -4.0 0M540.5 416.2a2.00 2.00 0 1 0 4.0 0a2.00 2.00 0 1 0 -4.0 0" fill="#ff0000"/>
<path d="M390.0 328.5L390.3 420.0L394.3 446.0L408.0 448.5L542.5 449.0" fill="none" stroke="#0000ff" stroke-width="1.35" stroke-linejoin="round"/>
<path d="M390.0 326.1l2.4 4.2h-4.7zM397.9 444.3l2.4 4.2h-4.7zM406.2 445.8l2.4 4.2h-4.7zM414.1 446.2l2.4 4.2h-4.7zM422.1 446.2l2.4 4.2h-4.7zM430.0 446.2l2.4 4.2h-4.7zM438.3 446.3l2.4 4.2h-4.7zM446.2 446.3l2.4 4.2h-4.7zM454.2 446.3l2.4 4.2h-4.7zM462.1 446.4l2.4 4.2h-4.7zM470.4 446.4l2.4 4.2h-4.7zM478.3 446.4l2.4 4.2h-4.7zM486.3 446.4l2.4 4.2h-4.7zM494.2 446.5l2.4 4.2h-4.7zM502.5 446.5l2.4 4.2h-4.7zM510.4 446.5l2.4 4.2h-4.7zM518.4 446.6l2.4 4.2h-4.7zM526.3 446.6l2.4 4.2h-4.7zM534.6 446.6l2.4 4.2h-4.7zM542.5 446.6l2.4 4.2h-4.7z" fill="#0000ff"/>
<path d="M390.0 395.5L401.0 395.5L401.0 416.5L414.8 416.5L414.8 420.2L429.4 420.2L429.4 424.5L465.5 424.5L465.5 426.5L470.4 426.5L470.4 433.8L542.5 433.8" fill="none" stroke="#5aa832" stroke-width="1.35" stroke-linejoin="round"/>
<path d="M388.9 394.4h2.2v2.2h-2.2zM396.9 394.4h2.2v2.2h-2.2zM405.1 415.4h2.2v2.2h-2.2zM413.1 415.4h2.2v2.2h-2.2zM421.0 419.1h2.2v2.2h-2.2zM429.0 423.4h2.2v2.2h-2.2zM437.2 423.4h2.2v2.2h-2.2zM445.1 423.4h2.2v2.2h-2.2zM453.1 423.4h2.2v2.2h-2.2zM461.0 423.4h2.2v2.2h-2.2zM469.3 432.7h2.2v2.2h-2.2zM477.2 432.7h2.2v2.2h-2.2zM485.2 432.7h2.2v2.2h-2.2zM493.1 432.7h2.2v2.2h-2.2zM501.4 432.7h2.2v2.2h-2.2zM509.3 432.7h2.2v2.2h-2.2zM517.3 432.7h2.2v2.2h-2.2zM525.2 432.7h2.2v2.2h-2.2zM533.5 432.7h2.2v2.2h-2.2zM541.4 432.7h2.2v2.2h-2.2z" fill="#3f8c14"/>
<path d="M390.0 399.0L405.0 399.0L405.0 410.7L470.4 410.7L470.4 419.3L542.5 419.3" fill="none" stroke="#f5b82a" stroke-width="1.35" stroke-linejoin="round"/>
<path d="M388.0 399.0h4.0M390.0 397.0v4.0M395.9 399.0h4.0M397.9 397.0v4.0M404.2 410.7h4.0M406.2 408.7v4.0M412.1 410.7h4.0M414.1 408.7v4.0M420.1 410.7h4.0M422.1 408.7v4.0M428.0 410.7h4.0M430.0 408.7v4.0M436.3 410.7h4.0M438.3 408.7v4.0M444.2 410.7h4.0M446.2 408.7v4.0M452.2 410.7h4.0M454.2 408.7v4.0M460.1 410.7h4.0M462.1 408.7v4.0M468.4 419.3h4.0M470.4 417.3v4.0M476.3 419.3h4.0M478.3 417.3v4.0M484.3 419.3h4.0M486.3 417.3v4.0M492.2 419.3h4.0M494.2 417.3v4.0M500.5 419.3h4.0M502.5 417.3v4.0M508.4 419.3h4.0M510.4 417.3v4.0M516.4 419.3h4.0M518.4 417.3v4.0M524.3 419.3h4.0M526.3 417.3v4.0M532.6 419.3h4.0M534.6 417.3v4.0M540.5 419.3h4.0M542.5 417.3v4.0" stroke="#f5b82a" stroke-width="0.8" fill="none"/>
<path d="M390.0 412.0L392.8 440.0L408.0 443.5L450.8 445.0L460.0 452.0L542.5 452.0" fill="none" stroke="#f06ef0" stroke-width="1.35" stroke-linejoin="round"/>
<path d="M390.0 414.4l2.4 -4.2h-4.7zM397.9 443.5l2.4 -4.2h-4.7zM406.2 445.4l2.4 -4.2h-4.7zM414.1 446.1l2.4 -4.2h-4.7zM422.1 446.3l2.4 -4.2h-4.7zM430.0 446.6l2.4 -4.2h-4.7zM438.3 446.9l2.4 -4.2h-4.7zM446.2 447.2l2.4 -4.2h-4.7zM454.2 449.9l2.4 -4.2h-4.7zM462.1 454.4l2.4 -4.2h-4.7zM470.4 454.4l2.4 -4.2h-4.7zM478.3 454.4l2.4 -4.2h-4.7zM486.3 454.4l2.4 -4.2h-4.7zM494.2 454.4l2.4 -4.2h-4.7zM502.5 454.4l2.4 -4.2h-4.7zM510.4 454.4l2.4 -4.2h-4.7zM518.4 454.4l2.4 -4.2h-4.7zM526.3 454.4l2.4 -4.2h-4.7zM534.6 454.4l2.4 -4.2h-4.7zM542.5 454.4l2.4 -4.2h-4.7z" fill="#f06ef0"/>
<path d="M390.0 418.0L397.9 426.7L406.2 432.5L414.1 436.2L422.1 438.1L430.0 439.5L438.3 441.0L454.2 442.3L481.4 443.3L542.5 443.3" fill="none" stroke="#962828" stroke-width="1.35" stroke-linejoin="round"/>
<path d="M390.0 415.6l2.3 2.4l-2.3 2.4l-2.3 -2.4zM397.9 424.3l2.3 2.4l-2.3 2.4l-2.3 -2.4zM406.2 430.1l2.3 2.4l-2.3 2.4l-2.3 -2.4zM414.1 433.8l2.3 2.4l-2.3 2.4l-2.3 -2.4zM422.1 435.7l2.3 2.4l-2.3 2.4l-2.3 -2.4zM430.0 437.1l2.3 2.4l-2.3 2.4l-2.3 -2.4zM438.3 438.6l2.3 2.4l-2.3 2.4l-2.3 -2.4zM446.2 439.2l2.3 2.4l-2.3 2.4l-2.3 -2.4zM454.2 439.9l2.3 2.4l-2.3 2.4l-2.3 -2.4zM462.1 440.2l2.3 2.4l-2.3 2.4l-2.3 -2.4zM470.4 440.5l2.3 2.4l-2.3 2.4l-2.3 -2.4zM478.3 440.8l2.3 2.4l-2.3 2.4l-2.3 -2.4zM486.3 440.9l2.3 2.4l-2.3 2.4l-2.3 -2.4zM494.2 440.9l2.3 2.4l-2.3 2.4l-2.3 -2.4zM502.5 440.9l2.3 2.4l-2.3 2.4l-2.3 -2.4zM510.4 440.9l2.3 2.4l-2.3 2.4l-2.3 -2.4zM518.4 440.9l2.3 2.4l-2.3 2.4l-2.3 -2.4zM526.3 440.9l2.3 2.4l-2.3 2.4l-2.3 -2.4zM534.6 440.9l2.3 2.4l-2.3 2.4l-2.3 -2.4zM542.5 440.9l2.3 2.4l-2.3 2.4l-2.3 -2.4z" fill="#962828"/>
<path d="M390.0 398.4L408.0 400.5L450.8 401.5L542.5 401.8" fill="none" stroke="#f5d214" stroke-width="1.35" stroke-linejoin="round"/>
<path d="M388.2 396.6h3.5v3.5h-3.5zM396.2 397.6h3.5v3.5h-3.5zM404.4 398.5h3.5v3.5h-3.5zM412.4 398.9h3.5v3.5h-3.5zM420.3 399.1h3.5v3.5h-3.5zM428.3 399.3h3.5v3.5h-3.5zM436.5 399.5h3.5v3.5h-3.5zM444.5 399.6h3.5v3.5h-3.5zM452.4 399.8h3.5v3.5h-3.5zM460.4 399.8h3.5v3.5h-3.5zM468.6 399.8h3.5v3.5h-3.5zM476.6 399.8h3.5v3.5h-3.5zM484.5 399.9h3.5v3.5h-3.5zM492.5 399.9h3.5v3.5h-3.5zM500.7 399.9h3.5v3.5h-3.5zM508.7 399.9h3.5v3.5h-3.5zM516.6 400.0h3.5v3.5h-3.5zM524.6 400.0h3.5v3.5h-3.5zM532.8 400.0h3.5v3.5h-3.5zM540.8 400.1h3.5v3.5h-3.5z" fill="#f5d214"/>
<path d="M390.0 395.5L396.1 395.5L396.1 403.5L405.0 403.5L405.0 411.5L419.3 411.5L419.3 417.3L435.5 417.3L435.5 420.2L454.2 421.6L459.7 421.6L459.7 428.9L470.4 428.9L472.8 428.9L472.8 431.6L507.7 431.6L507.7 434.5L542.5 434.5" fill="none" stroke="#b43cf0" stroke-width="1.35" stroke-linejoin="round"/>
<path d="M388.0 395.5a2.00 2.00 0 1 0 4.0 0a2.00 2.00 0 1 0 -4.0 0M395.9 403.5a2.00 2.00 0 1 0 4.0 0a2.00 2.00 0 1 0 -4.0 0M404.2 411.5a2.00 2.00 0 1 0 4.0 0a2.00 2.00 0 1 0 -4.0 0M412.1 411.5a2.00 2.00 0 1 0 4.0 0a2.00 2.00 0 1 0 -4.0 0M420.1 417.3a2.00 2.00 0 1 0 4.0 0a2.00 2.00 0 1 0 -4.0 0M428.0 417.3a2.00 2.00 0 1 0 4.0 0a2.00 2.00 0 1 0 -4.0 0M436.3 420.4a2.00 2.00 0 1 0 4.0 0a2.00 2.00 0 1 0 -4.0 0M444.2 421.0a2.00 2.00 0 1 0 4.0 0a2.00 2.00 0 1 0 -4.0 0M452.2 421.6a2.00 2.00 0 1 0 4.0 0a2.00 2.00 0 1 0 -4.0 0M460.1 428.9a2.00 2.00 0 1 0 4.0 0a2.00 2.00 0 1 0 -4.0 0M468.4 428.9a2.00 2.00 0 1 0 4.0 0a2.00 2.00 0 1 0 -4.0 0M476.3 431.6a2.00 2.00 0 1 0 4.0 0a2.00 2.00 0 1 0 -4.0 0M484.3 431.6a2.00 2.00 0 1 0 4.0 0a2.00 2.00 0 1 0 -4.0 0M492.2 431.6a2.00 2.00 0 1 0 4.0 0a2.00 2.00 0 1 0 -4.0 0M500.5 431.6a2.00 2.00 0 1 0 4.0 0a2.00 2.00 0 1 0 -4.0 0M508.4 434.5a2.00 2.00 0 1 0 4.0 0a2.00 2.00 0 1 0 -4.0 0M516.4 434.5a2.00 2.00 0 1 0 4.0 0a2.00 2.00 0 1 0 -4.0 0M524.3 434.5a2.00 2.00 0 1 0 4.0 0a2.00 2.00 0 1 0 -4.0 0M532.6 434.5a2.00 2.00 0 1 0 4.0 0a2.00 2.00 0 1 0 -4.0 0M540.5 434.5a2.00 2.00 0 1 0 4.0 0a2.00 2.00 0 1 0 -4.0 0" fill="#d77cf5" stroke="#a832e6" stroke-width="0.7"/>
<path d="M390.0 381.6L397.9 387.5L406.2 395.5L414.1 400.5L422.1 404.9L430.0 410.7L438.3 412.9L446.2 415.1L454.2 417.3L462.1 421.6L470.4 422.9L478.3 423.6L486.3 424.8L494.2 425.8L502.5 426.5L510.4 427.3L518.4 427.7L526.3 428.0L542.5 428.0" fill="none" stroke="#dc1e32" stroke-width="1.35" stroke-linejoin="round"/>
<path d="M392.4 381.6l-4.2 -2.4v4.7zM400.3 387.5l-4.2 -2.4v4.7zM408.5 395.5l-4.2 -2.4v4.7zM416.5 400.5l-4.2 -2.4v4.7zM424.4 404.9l-4.2 -2.4v4.7zM432.4 410.7l-4.2 -2.4v4.7zM440.6 412.9l-4.2 -2.4v4.7zM448.6 415.1l-4.2 -2.4v4.7zM456.5 417.3l-4.2 -2.4v4.7zM464.5 421.6l-4.2 -2.4v4.7zM472.7 422.9l-4.2 -2.4v4.7zM480.7 423.6l-4.2 -2.4v4.7zM488.6 424.8l-4.2 -2.4v4.7zM496.6 425.8l-4.2 -2.4v4.7zM504.8 426.5l-4.2 -2.4v4.7zM512.8 427.3l-4.2 -2.4v4.7zM520.7 427.7l-4.2 -2.4v4.7zM528.7 428.0l-4.2 -2.4v4.7zM536.9 428.0l-4.2 -2.4v4.7zM544.9 428.0l-4.2 -2.4v4.7z" fill="#dc1e32"/>
<path d="M390.0 393.0L395.8 428.0L399.8 437.0L409.9 444.5L435.5 446.5L542.5 447.3" fill="none" stroke="#00e6f0" stroke-width="1.35" stroke-linejoin="round"/>
<path d="M390 390.4l0.7 1.4l1.5 -0.1l-0.8 1.3l0.8 1.3l-1.5 -0.1l-0.7 1.4l-0.7 -1.4l-1.5 0.1l0.8 -1.3l-0.8 -1.3l1.5 0.1zM397.9 430.3l0.7 1.3l1.6 0.0l-0.9 1.2l0.9 1.3l-1.6 0.0l-0.7 1.3l-0.7 -1.3l-1.5 0.0l0.8 -1.3l-0.8 -1.2l1.5 0.0zM406.2 439.2l0.7 1.4l1.5 -0.1l-0.8 1.3l0.8 1.2l-1.5 0.0l-0.7 1.3l-0.7 -1.3l-1.5 0.0l0.8 -1.2l-0.8 -1.3l1.5 0.1zM414.1 442.3l0.7 1.3l1.6 0.0l-0.9 1.2l0.9 1.3l-1.6 -0.1l-0.7 1.4l-0.7 -1.4l-1.5 0.1l0.8 -1.3l-0.8 -1.2l1.5 0.0zM422.1 442.9l0.7 1.3l1.5 0.0l-0.8 1.3l0.8 1.2l-1.5 0.0l-0.7 1.3l-0.7 -1.3l-1.5 0.0l0.8 -1.2l-0.8 -1.3l1.5 0.0zM430 443.5l0.7 1.4l1.5 -0.1l-0.8 1.3l0.8 1.2l-1.5 0.0l-0.7 1.3l-0.7 -1.3l-1.5 0.0l0.8 -1.2l-0.8 -1.3l1.5 0.1zM438.3 444.0l0.7 1.3l1.5 -0.1l-0.8 1.3l0.8 1.3l-1.5 -0.1l-0.7 1.4l-0.7 -1.4l-1.5 0.1l0.8 -1.3l-0.8 -1.3l1.5 0.1zM446.2 444.0l0.7 1.4l1.5 -0.1l-0.8 1.3l0.8 1.3l-1.5 -0.1l-0.7 1.3l-0.7 -1.3l-1.5 0.1l0.8 -1.3l-0.8 -1.3l1.5 0.1zM454.2 444.1l0.7 1.3l1.5 0.0l-0.8 1.2l0.8 1.3l-1.5 0.0l-0.7 1.3l-0.7 -1.3l-1.5 0.0l0.8 -1.3l-0.8 -1.2l1.5 0.0zM462.1 444.1l0.7 1.4l1.5 -0.1l-0.8 1.3l0.8 1.3l-1.5 -0.1l-0.7 1.3l-0.7 -1.3l-1.5 0.1l0.8 -1.3l-0.8 -1.3l1.5 0.1zM470.4 444.2l0.7 1.3l1.5 0.0l-0.8 1.3l0.8 1.2l-1.5 0.0l-0.7 1.3l-0.7 -1.3l-1.5 0.0l0.8 -1.2l-0.8 -1.3l1.5 0.0zM478.3 444.3l0.7 1.3l1.5 -0.1l-0.8 1.3l0.8 1.3l-1.5 -0.1l-0.7 1.4l-0.7 -1.4l-1.5 0.1l0.8 -1.3l-0.8 -1.3l1.5 0.1zM486.3 444.3l0.7 1.4l1.5 -0.1l-0.8 1.3l0.8 1.3l-1.5 -0.1l-0.7 1.3l-0.7 -1.3l-1.5 0.1l0.8 -1.3l-0.8 -1.3l1.5 0.1zM494.2 444.4l0.7 1.3l1.5 0.0l-0.8 1.2l0.8 1.3l-1.5 0.0l-0.7 1.3l-0.7 -1.3l-1.5 0.0l0.8 -1.3l-0.8 -1.2l1.5 0.0zM502.5 444.5l0.7 1.3l1.5 -0.1l-0.8 1.3l0.8 1.3l-1.5 -0.1l-0.7 1.4l-0.7 -1.4l-1.5 0.1l0.8 -1.3l-0.8 -1.3l1.5 0.1zM510.4 444.5l0.7 1.3l1.5 0.0l-0.8 1.3l0.8 1.2l-1.5 0.0l-0.7 1.3l-0.7 -1.3l-1.5 0.0l0.8 -1.2l-0.8 -1.3l1.5 0.0zM518.4 444.6l0.7 1.3l1.5 -0.1l-0.8 1.3l0.8 1.3l-1.5 -0.1l-0.7 1.4l-0.7 -1.4l-1.6 0.1l0.9 -1.3l-0.9 -1.3l1.6 0.1zM526.3 444.6l0.7 1.4l1.5 -0.1l-0.8 1.3l0.8 1.3l-1.5 -0.1l-0.7 1.3l-0.7 -1.3l-1.5 0.1l0.8 -1.3l-0.8 -1.3l1.5 0.1zM534.6 444.7l0.7 1.3l1.5 0.0l-0.8 1.2l0.8 1.3l-1.5 0.0l-0.7 1.3l-0.7 -1.3l-1.6 0.0l0.9 -1.3l-0.9 -1.2l1.6 0.0zM542.5 444.8l0.7 1.3l1.5 -0.1l-0.8 1.3l0.8 1.3l-1.5 -0.1l-0.7 1.4l-0.7 -1.4l-1.5 0.1l0.8 -1.3l-0.8 -1.3l1.5 0.1z" fill="#00e6f0"/>
<path d="M390.0 432.5L395.8 449.0L542.5 449.0" fill="none" stroke="#e6641e" stroke-width="1.35" stroke-linejoin="round"/>
<path d="M390.0 430.1l2.4 4.2h-4.7zM397.9 446.6l2.4 4.2h-4.7zM406.2 446.6l2.4 4.2h-4.7zM414.1 446.6l2.4 4.2h-4.7zM422.1 446.6l2.4 4.2h-4.7zM430.0 446.6l2.4 4.2h-4.7zM438.3 446.6l2.4 4.2h-4.7zM446.2 446.6l2.4 4.2h-4.7zM454.2 446.6l2.4 4.2h-4.7zM462.1 446.6l2.4 4.2h-4.7zM470.4 446.6l2.4 4.2h-4.7zM478.3 446.6l2.4 4.2h-4.7zM486.3 446.6l2.4 4.2h-4.7zM494.2 446.6l2.4 4.2h-4.7zM502.5 446.6l2.4 4.2h-4.7zM510.4 446.6l2.4 4.2h-4.7zM518.4 446.6l2.4 4.2h-4.7zM526.3 446.6l2.4 4.2h-4.7zM534.6 446.6l2.4 4.2h-4.7zM542.5 446.6l2.4 4.2h-4.7z" fill="#e6641e"/>
<path d="M390.0 420.0L395.8 446.0L542.5 448.2" fill="none" stroke="#1ea096" stroke-width="1.35" stroke-linejoin="round"/>
<path d="M387.6 420.0l4.2 -2.4v4.7zM395.6 446.0l4.2 -2.4v4.7zM403.8 446.2l4.2 -2.4v4.7zM411.8 446.3l4.2 -2.4v4.7zM419.7 446.4l4.2 -2.4v4.7zM427.7 446.5l4.2 -2.4v4.7zM435.9 446.6l4.2 -2.4v4.7zM443.9 446.8l4.2 -2.4v4.7zM451.8 446.9l4.2 -2.4v4.7zM459.8 447.0l4.2 -2.4v4.7zM468.0 447.1l4.2 -2.4v4.7zM476.0 447.2l4.2 -2.4v4.7zM483.9 447.4l4.2 -2.4v4.7zM491.9 447.5l4.2 -2.4v4.7zM500.1 447.6l4.2 -2.4v4.7zM508.1 447.7l4.2 -2.4v4.7zM516.0 447.8l4.2 -2.4v4.7zM524.0 448.0l4.2 -2.4v4.7zM532.2 448.1l4.2 -2.4v4.7zM540.1 448.2l4.2 -2.4v4.7z" fill="#1ea096"/>
<path d="M390.0 418.0L395.8 446.5L542.5 448.6" fill="none" stroke="#7846dc" stroke-width="1.35" stroke-linejoin="round"/>
<path d="M390 416.1l1.7 0.9l0 2.0l-1.7 0.9l-1.7 -0.9l0 -2.0zM397.9 444.6l1.7 1.0l0 1.9l-1.7 1.0l-1.6 -1.0l0 -1.9zM406.2 444.7l1.7 1.0l0 1.9l-1.7 1.0l-1.7 -1.0l0 -1.9zM414.1 444.8l1.7 1.0l0 1.9l-1.7 1.0l-1.6 -1.0l0 -1.9zM422.1 444.9l1.7 1.0l0 2.0l-1.7 0.9l-1.7 -0.9l0 -2.0zM430 445.0l1.7 1.0l0 2.0l-1.7 0.9l-1.7 -0.9l0 -2.0zM438.3 445.2l1.7 0.9l0 2.0l-1.7 1.0l-1.7 -1.0l0 -2.0zM446.2 445.3l1.7 0.9l0 2.0l-1.7 1.0l-1.7 -1.0l0 -2.0zM454.2 445.4l1.7 1.0l0 1.9l-1.7 1.0l-1.7 -1.0l0 -1.9zM462.1 445.5l1.7 1.0l0 1.9l-1.7 1.0l-1.7 -1.0l0 -1.9zM470.4 445.6l1.7 1.0l0 1.9l-1.7 1.0l-1.7 -1.0l0 -1.9zM478.3 445.7l1.7 1.0l0 2.0l-1.7 0.9l-1.7 -0.9l0 -2.0zM486.3 445.8l1.7 1.0l0 2.0l-1.7 0.9l-1.7 -0.9l0 -2.0zM494.2 446.0l1.7 0.9l0 2.0l-1.7 1.0l-1.7 -1.0l0 -2.0zM502.5 446.1l1.7 1.0l0 1.9l-1.7 1.0l-1.7 -1.0l0 -1.9zM510.4 446.2l1.7 1.0l0 1.9l-1.7 1.0l-1.7 -1.0l0 -1.9zM518.4 446.3l1.6 1.0l0 1.9l-1.6 1.0l-1.7 -1.0l0 -1.9zM526.3 446.4l1.7 1.0l0 1.9l-1.7 1.0l-1.7 -1.0l0 -1.9zM534.6 446.5l1.6 1.0l0 2.0l-1.6 0.9l-1.7 -0.9l0 -2.0zM542.5 446.7l1.7 0.9l0 2.0l-1.7 1.0l-1.7 -1.0l0 -2.0z" fill="#7846dc"/>
<path d="M390.0 396.0L396.7 447.0L518.1 447.6L525.7 453.5L542.5 453.5" fill="none" stroke="#00f000" stroke-width="1.35" stroke-linejoin="round"/>
<path d="M390.0 398.4l2.4 -4.2h-4.7zM397.9 449.4l2.4 -4.2h-4.7zM406.2 449.4l2.4 -4.2h-4.7zM414.1 449.4l2.4 -4.2h-4.7zM422.1 449.5l2.4 -4.2h-4.7zM430.0 449.5l2.4 -4.2h-4.7zM438.3 449.6l2.4 -4.2h-4.7zM446.2 449.6l2.4 -4.2h-4.7zM454.2 449.6l2.4 -4.2h-4.7zM462.1 449.7l2.4 -4.2h-4.7zM470.4 449.7l2.4 -4.2h-4.7zM478.3 449.8l2.4 -4.2h-4.7zM486.3 449.8l2.4 -4.2h-4.7zM494.2 449.8l2.4 -4.2h-4.7zM502.5 449.9l2.4 -4.2h-4.7zM510.4 449.9l2.4 -4.2h-4.7zM518.4 450.2l2.4 -4.2h-4.7zM526.3 455.9l2.4 -4.2h-4.7zM534.6 455.9l2.4 -4.2h-4.7zM542.5 455.9l2.4 -4.2h-4.7z" fill="#00f000"/>
<path d="M390.0 415.0L395.8 444.5L420.3 446.5L542.5 447.6" fill="none" stroke="#1e8cc8" stroke-width="1.35" stroke-linejoin="round"/>
<path d="M390 412.4l0.7 1.4l1.5 -0.1l-0.8 1.3l0.8 1.3l-1.5 -0.1l-0.7 1.4l-0.7 -1.4l-1.5 0.1l0.8 -1.3l-0.8 -1.3l1.5 0.1zM397.9 442.1l0.7 1.4l1.6 -0.1l-0.9 1.3l0.9 1.2l-1.6 0.0l-0.7 1.3l-0.7 -1.3l-1.5 0.0l0.8 -1.2l-0.8 -1.3l1.5 0.1zM406.2 442.8l0.7 1.3l1.5 0.0l-0.8 1.3l0.8 1.2l-1.5 0.0l-0.7 1.3l-0.7 -1.3l-1.5 0.0l0.8 -1.2l-0.8 -1.3l1.5 0.0zM414.1 443.4l0.7 1.4l1.6 -0.1l-0.9 1.3l0.9 1.3l-1.6 -0.1l-0.7 1.4l-0.7 -1.4l-1.5 0.1l0.8 -1.3l-0.8 -1.3l1.5 0.1zM422.1 444.0l0.7 1.3l1.5 -0.1l-0.8 1.3l0.8 1.3l-1.5 -0.1l-0.7 1.4l-0.7 -1.4l-1.5 0.1l0.8 -1.3l-0.8 -1.3l1.5 0.1zM430 444.0l0.7 1.4l1.5 -0.1l-0.8 1.3l0.8 1.3l-1.5 -0.1l-0.7 1.3l-0.7 -1.3l-1.5 0.1l0.8 -1.3l-0.8 -1.3l1.5 0.1zM438.3 444.1l0.7 1.3l1.5 0.0l-0.8 1.3l0.8 1.2l-1.5 0.0l-0.7 1.3l-0.7 -1.3l-1.5 0.0l0.8 -1.2l-0.8 -1.3l1.5 0.0zM446.2 444.2l0.7 1.3l1.5 0.0l-0.8 1.2l0.8 1.3l-1.5 -0.1l-0.7 1.4l-0.7 -1.4l-1.5 0.1l0.8 -1.3l-0.8 -1.2l1.5 0.0zM454.2 444.3l0.7 1.3l1.5 -0.1l-0.8 1.3l0.8 1.3l-1.5 -0.1l-0.7 1.4l-0.7 -1.4l-1.5 0.1l0.8 -1.3l-0.8 -1.3l1.5 0.1zM462.1 444.3l0.7 1.4l1.5 -0.1l-0.8 1.3l0.8 1.3l-1.5 -0.1l-0.7 1.3l-0.7 -1.3l-1.5 0.1l0.8 -1.3l-0.8 -1.3l1.5 0.1zM470.4 444.4l0.7 1.3l1.5 0.0l-0.8 1.3l0.8 1.2l-1.5 0.0l-0.7 1.3l-0.7 -1.3l-1.5 0.0l0.8 -1.2l-0.8 -1.3l1.5 0.0zM478.3 444.5l0.7 1.3l1.5 -0.1l-0.8 1.3l0.8 1.3l-1.5 -0.1l-0.7 1.4l-0.7 -1.4l-1.5 0.1l0.8 -1.3l-0.8 -1.3l1.5 0.1zM486.3 444.5l0.7 1.4l1.5 -0.1l-0.8 1.3l0.8 1.3l-1.5 -0.1l-0.7 1.3l-0.7 -1.3l-1.5 0.1l0.8 -1.3l-0.8 -1.3l1.5 0.1zM494.2 444.6l0.7 1.4l1.5 -0.1l-0.8 1.3l0.8 1.2l-1.5 0.0l-0.7 1.3l-0.7 -1.3l-1.5 0.0l0.8 -1.2l-0.8 -1.3l1.5 0.1zM502.5 444.7l0.7 1.3l1.5 0.0l-0.8 1.2l0.8 1.3l-1.5 0.0l-0.7 1.3l-0.7 -1.3l-1.5 0.0l0.8 -1.3l-0.8 -1.2l1.5 0.0zM510.4 444.8l0.7 1.3l1.5 -0.1l-0.8 1.3l0.8 1.3l-1.5 -0.1l-0.7 1.4l-0.7 -1.4l-1.5 0.1l0.8 -1.3l-0.8 -1.3l1.5 0.1zM518.4 444.8l0.7 1.4l1.5 -0.1l-0.8 1.3l0.8 1.3l-1.5 -0.1l-0.7 1.3l-0.7 -1.3l-1.6 0.1l0.9 -1.3l-0.9 -1.3l1.6 0.1zM526.3 444.9l0.7 1.3l1.5 0.0l-0.8 1.3l0.8 1.2l-1.5 0.0l-0.7 1.3l-0.7 -1.3l-1.5 0.0l0.8 -1.2l-0.8 -1.3l1.5 0.0zM534.6 445.0l0.7 1.3l1.5 0.0l-0.8 1.2l0.8 1.3l-1.5 -0.1l-0.7 1.4l-0.7 -1.4l-1.6 0.1l0.9 -1.3l-0.9 -1.2l1.6 0.0zM542.5 445.1l0.7 1.3l1.5 -0.1l-0.8 1.3l0.8 1.3l-1.5 -0.1l-0.7 1.4l-0.7 -1.4l-1.5 0.1l0.8 -1.3l-0.8 -1.3l1.5 0.1z" fill="#1e8cc8"/>
</g>
<text x="466.25" y="325.90" class="ti" text-anchor="middle">cec24</text>
<text x="466.25" y="470.30" class="lb" text-anchor="middle">Iteration</text>
<text transform="translate(375.60 391.25) rotate(-90)" class="lb" text-anchor="middle">Fitness value</text>
<rect x="496.50" y="332.10" width="42.5" height="88.9" fill="#fff" stroke="#8a8a8a" stroke-width="0.6"/>
<path d="M498.06 336.20H511.74" stroke="#ff0000" stroke-width="1.1"/>
<path d="M503.0 336.2a2.00 2.00 0 1 0 4.0 0a2.00 2.00 0 1 0 -4.0 0" fill="#ff0000"/>
<text x="513.11" y="337.75" class="lg">COA</text>
<path d="M498.06 342.02H511.74" stroke="#0000ff" stroke-width="1.1"/>
<path d="M505.0 339.7l2.4 4.2h-4.7z" fill="#0000ff"/>
<text x="513.11" y="343.57" class="lg">CMRLCCOA</text>
<path d="M498.06 347.84H511.74" stroke="#5aa832" stroke-width="1.1"/>
<path d="M503.9 346.8h2.2v2.2h-2.2z" fill="#3f8c14"/>
<text x="513.11" y="349.39" class="lg">KOA</text>
<path d="M498.06 353.66H511.74" stroke="#f5b82a" stroke-width="1.1"/>
<path d="M503.0 353.7h4.0M505.0 351.7v4.0" stroke="#f5b82a" stroke-width="0.8" fill="none"/>
<text x="513.11" y="355.21" class="lg">SWO</text>
<path d="M498.06 359.48H511.74" stroke="#f06ef0" stroke-width="1.1"/>
<path d="M505.0 361.8l2.4 -4.2h-4.7z" fill="#f06ef0"/>
<text x="513.11" y="361.03" class="lg">GMO</text>
<path d="M498.06 365.30H511.74" stroke="#962828" stroke-width="1.1"/>
<path d="M505.0 362.9l2.3 2.4l-2.3 2.4l-2.3 -2.4z" fill="#962828"/>
<text x="513.11" y="366.85" class="lg">OMA</text>
<path d="M498.06 371.12H511.74" stroke="#f5d214" stroke-width="1.1"/>
<path d="M503.2 369.4h3.5v3.5h-3.5z" fill="#f5d214"/>
<text x="513.11" y="372.67" class="lg">TROA</text>
<path d="M498.06 376.94H511.74" stroke="#b43cf0" stroke-width="1.1"/>
<path d="M503.0 376.9a2.00 2.00 0 1 0 4.0 0a2.00 2.00 0 1 0 -4.0 0" fill="#d77cf5" stroke="#a832e6" stroke-width="0.7"/>
<text x="513.11" y="378.49" class="lg">GO</text>
<path d="M498.06 382.76H511.74" stroke="#dc1e32" stroke-width="1.1"/>
<path d="M507.4 382.8l-4.2 -2.4v4.7z" fill="#dc1e32"/>
<text x="513.11" y="384.31" class="lg">PSO</text>
<path d="M498.06 388.58H511.74" stroke="#00e6f0" stroke-width="1.1"/>
<path d="M505 386.0l0.7 1.4l1.5 -0.1l-0.8 1.3l0.8 1.3l-1.5 -0.1l-0.7 1.3l-0.7 -1.3l-1.5 0.1l0.8 -1.3l-0.8 -1.3l1.5 0.1z" fill="#00e6f0"/>
<text x="513.11" y="390.13" class="lg">DE</text>
<path d="M498.06 394.40H511.74" stroke="#e6641e" stroke-width="1.1"/>
<path d="M505.0 392.1l2.4 4.2h-4.7z" fill="#e6641e"/>
<text x="513.11" y="395.95" class="lg">SA</text>
<path d="M498.06 400.22H511.74" stroke="#1ea096" stroke-width="1.1"/>
<path d="M502.6 400.2l4.2 -2.4v4.7z" fill="#1ea096"/>
<text x="513.11" y="401.77" class="lg">ABC</text>
<path d="M498.06 406.04H511.74" stroke="#7846dc" stroke-width="1.1"/>
<path d="M505 404.1l1.7 1.0l0 1.9l-1.7 1.0l-1.7 -1.0l0 -1.9z" fill="#7846dc"/>
<text x="513.11" y="407.59" class="lg">ISSA</text>
<path d="M498.06 411.86H511.74" stroke="#00f000" stroke-width="1.1"/>
<path d="M505.0 414.2l2.4 -4.2h-4.7z" fill="#00f000"/>
<text x="513.11" y="413.41" class="lg">IGWO</text>
<path d="M498.06 417.68H511.74" stroke="#1e8cc8" stroke-width="1.1"/>
<path d="M505 415.1l0.7 1.4l1.5 -0.1l-0.8 1.3l0.8 1.3l-1.5 -0.1l-0.7 1.3l-0.7 -1.3l-1.5 0.1l0.8 -1.3l-0.8 -1.3l1.5 0.1z" fill="#1e8cc8"/>
<text x="513.11" y="419.23" class="lg">EWOA</text>
<rect x="69" y="489.2" width="155" height="124.19999999999999" fill="none" stroke="#9a9a9a" stroke-width="0.8"/>
<path d="M84.22 613.4v-1.6M84.22 489.2v1.6" stroke="#666" stroke-width="0.5"/>
<text x="84.22" y="619.85" class="tk" text-anchor="middle">50</text>
<path d="M99.75 613.4v-1.6M99.75 489.2v1.6" stroke="#666" stroke-width="0.5"/>
<text x="99.75" y="619.85" class="tk" text-anchor="middle">100</text>
<path d="M115.28 613.4v-1.6M115.28 489.2v1.6" stroke="#666" stroke-width="0.5"/>
<text x="115.28" y="619.85" class="tk" text-anchor="middle">150</text>
<path d="M130.81 613.4v-1.6M130.81 489.2v1.6" stroke="#666" stroke-width="0.5"/>
<text x="130.81" y="619.85" class="tk" text-anchor="middle">200</text>
<path d="M146.34 613.4v-1.6M146.34 489.2v1.6" stroke="#666" stroke-width="0.5"/>
<text x="146.34" y="619.85" class="tk" text-anchor="middle">250</text>
<path d="M161.88 613.4v-1.6M161.88 489.2v1.6" stroke="#666" stroke-width="0.5"/>
<text x="161.88" y="619.85" class="tk" text-anchor="middle">300</text>
<path d="M177.41 613.4v-1.6M177.41 489.2v1.6" stroke="#666" stroke-width="0.5"/>
<text x="177.41" y="619.85" class="tk" text-anchor="middle">350</text>
<path d="M192.94 613.4v-1.6M192.94 489.2v1.6" stroke="#666" stroke-width="0.5"/>
<text x="192.94" y="619.85" class="tk" text-anchor="middle">400</text>
<path d="M208.47 613.4v-1.6M208.47 489.2v1.6" stroke="#666" stroke-width="0.5"/>
<text x="208.47" y="619.85" class="tk" text-anchor="middle">450</text>
<path d="M224.00 613.4v-1.6M224.00 489.2v1.6" stroke="#666" stroke-width="0.5"/>
<text x="224.00" y="619.85" class="tk" text-anchor="middle">500</text>
<path d="M69 495.00h1.6M224 495.00h-1.6" stroke="#666" stroke-width="0.5"/>
<text x="67.00" y="496.60" class="tk" text-anchor="end">2.2</text>
<path d="M69 507.55h1.6M224 507.55h-1.6" stroke="#666" stroke-width="0.5"/>
<text x="67.00" y="509.15" class="tk" text-anchor="end">2</text>
<path d="M69 520.10h1.6M224 520.10h-1.6" stroke="#666" stroke-width="0.5"/>
<text x="67.00" y="521.70" class="tk" text-anchor="end">1.8</text>
<path d="M69 532.65h1.6M224 532.65h-1.6" stroke="#666" stroke-width="0.5"/>
<text x="67.00" y="534.25" class="tk" text-anchor="end">1.6</text>
<path d="M69 545.20h1.6M224 545.20h-1.6" stroke="#666" stroke-width="0.5"/>
<text x="67.00" y="546.80" class="tk" text-anchor="end">1.4</text>
<path d="M69 557.75h1.6M224 557.75h-1.6" stroke="#666" stroke-width="0.5"/>
<text x="67.00" y="559.35" class="tk" text-anchor="end">1.2</text>
<path d="M69 570.30h1.6M224 570.30h-1.6" stroke="#666" stroke-width="0.5"/>
<text x="67.00" y="571.90" class="tk" text-anchor="end">1</text>
<path d="M69 582.85h1.6M224 582.85h-1.6" stroke="#666" stroke-width="0.5"/>
<text x="67.00" y="584.45" class="tk" text-anchor="end">0.8</text>
<path d="M69 595.40h1.6M224 595.40h-1.6" stroke="#666" stroke-width="0.5"/>
<text x="67.00" y="597.00" class="tk" text-anchor="end">0.6</text>
<path d="M69 607.95h1.6M224 607.95h-1.6" stroke="#666" stroke-width="0.5"/>
<text x="67.00" y="609.55" class="tk" text-anchor="end">0.4</text>
<text x="69.80" y="487.80" class="tk ex">×10<tspan class="sup" dy="-1.8">4</tspan></text>
<clipPath id="ccec27"><rect x="64" y="484.2" width="165" height="134.2"/></clipPath>
<g clip-path="url(#ccec27)">
<path d="M69.0 568.9L69.6 580.0L73.3 591.0L224.0 591.0" fill="none" stroke="#ff0000" stroke-width="1.35" stroke-linejoin="round"/>
<path d="M67.0 568.9a2.00 2.00 0 1 0 4.0 0a2.00 2.00 0 1 0 -4.0 0M75.1 591.0a2.00 2.00 0 1 0 4.0 0a2.00 2.00 0 1 0 -4.0 0M83.5 591.0a2.00 2.00 0 1 0 4.0 0a2.00 2.00 0 1 0 -4.0 0M91.5 591.0a2.00 2.00 0 1 0 4.0 0a2.00 2.00 0 1 0 -4.0 0M99.6 591.0a2.00 2.00 0 1 0 4.0 0a2.00 2.00 0 1 0 -4.0 0M107.7 591.0a2.00 2.00 0 1 0 4.0 0a2.00 2.00 0 1 0 -4.0 0M116.1 591.0a2.00 2.00 0 1 0 4.0 0a2.00 2.00 0 1 0 -4.0 0M124.2 591.0a2.00 2.00 0 1 0 4.0 0a2.00 2.00 0 1 0 -4.0 0M132.2 591.0a2.00 2.00 0 1 0 4.0 0a2.00 2.00 0 1 0 -4.0 0M140.3 591.0a2.00 2.00 0 1 0 4.0 0a2.00 2.00 0 1 0 -4.0 0M148.7 591.0a2.00 2.00 0 1 0 4.0 0a2.00 2.00 0 1 0 -4.0 0M156.8 591.0a2.00 2.00 0 1 0 4.0 0a2.00 2.00 0 1 0 -4.0 0M164.8 591.0a2.00 2.00 0 1 0 4.0 0a2.00 2.00 0 1 0 -4.0 0M172.9 591.0a2.00 2.00 0 1 0 4.0 0a2.00 2.00 0 1 0 -4.0 0M181.3 591.0a2.00 2.00 0 1 0 4.0 0a2.00 2.00 0 1 0 -4.0 0M189.4 591.0a2.00 2.00 0 1 0 4.0 0a2.00 2.00 0 1 0 -4.0 0M197.5 591.0a2.00 2.00 0 1 0 4.0 0a2.00 2.00 0 1 0 -4.0 0M205.5 591.0a2.00 2.00 0 1 0 4.0 0a2.00 2.00 0 1 0 -4.0 0M213.9 591.0a2.00 2.00 0 1 0 4.0 0a2.00 2.00 0 1 0 -4.0 0M222.0 591.0a2.00 2.00 0 1 0 4.0 0a2.00 2.00 0 1 0 -4.0 0" fill="#ff0000"/>
<path d="M69.0 605.0L70.2 611.8L224.0 611.8" fill="none" stroke="#0000ff" stroke-width="1.35" stroke-linejoin="round"/>
<path d="M69.0 602.6l2.4 4.2h-4.7zM77.1 609.4l2.4 4.2h-4.7zM85.5 609.4l2.4 4.2h-4.7zM93.5 609.4l2.4 4.2h-4.7zM101.6 609.4l2.4 4.2h-4.7zM109.7 609.4l2.4 4.2h-4.7zM118.1 609.4l2.4 4.2h-4.7zM126.2 609.4l2.4 4.2h-4.7zM134.2 609.4l2.4 4.2h-4.7zM142.3 609.4l2.4 4.2h-4.7zM150.7 609.4l2.4 4.2h-4.7zM158.8 609.4l2.4 4.2h-4.7zM166.8 609.4l2.4 4.2h-4.7zM174.9 609.4l2.4 4.2h-4.7zM183.3 609.4l2.4 4.2h-4.7zM191.4 609.4l2.4 4.2h-4.7zM199.5 609.4l2.4 4.2h-4.7zM207.5 609.4l2.4 4.2h-4.7zM215.9 609.4l2.4 4.2h-4.7zM224.0 609.4l2.4 4.2h-4.7z" fill="#0000ff"/>
<path d="M69.0 579.5L71.8 579.0L88.9 579.0L88.9 590.0L104.4 590.0L104.4 592.9L118.1 592.9L118.1 596.8L224.0 596.8" fill="none" stroke="#5aa832" stroke-width="1.35" stroke-linejoin="round"/>
<path d="M67.9 578.4h2.2v2.2h-2.2zM76.0 577.9h2.2v2.2h-2.2zM84.4 577.9h2.2v2.2h-2.2zM92.5 588.9h2.2v2.2h-2.2zM100.5 588.9h2.2v2.2h-2.2zM108.6 591.8h2.2v2.2h-2.2zM117.0 595.7h2.2v2.2h-2.2zM125.1 595.7h2.2v2.2h-2.2zM133.1 595.7h2.2v2.2h-2.2zM141.2 595.7h2.2v2.2h-2.2zM149.6 595.7h2.2v2.2h-2.2zM157.7 595.7h2.2v2.2h-2.2zM165.8 595.7h2.2v2.2h-2.2zM173.8 595.7h2.2v2.2h-2.2zM182.2 595.7h2.2v2.2h-2.2zM190.3 595.7h2.2v2.2h-2.2zM198.4 595.7h2.2v2.2h-2.2zM206.5 595.7h2.2v2.2h-2.2zM214.8 595.7h2.2v2.2h-2.2zM222.9 595.7h2.2v2.2h-2.2z" fill="#3f8c14"/>
<path d="M69.0 576.9L91.1 576.9L91.1 585.0L173.1 585.7L173.1 585.7L173.1 592.5L196.0 592.5L196.0 596.2L224.0 596.2" fill="none" stroke="#f5b82a" stroke-width="1.35" stroke-linejoin="round"/>
<path d="M67.0 576.9h4.0M69.0 574.9v4.0M75.1 576.9h4.0M77.1 574.9v4.0M83.5 576.9h4.0M85.5 574.9v4.0M91.5 585.0h4.0M93.5 583.0v4.0M99.6 585.1h4.0M101.6 583.1v4.0M107.7 585.2h4.0M109.7 583.2v4.0M116.1 585.2h4.0M118.1 583.2v4.0M124.2 585.3h4.0M126.2 583.3v4.0M132.2 585.4h4.0M134.2 583.4v4.0M140.3 585.4h4.0M142.3 583.4v4.0M148.7 585.5h4.0M150.7 583.5v4.0M156.8 585.6h4.0M158.8 583.6v4.0M164.8 585.6h4.0M166.8 583.6v4.0M172.9 592.5h4.0M174.9 590.5v4.0M181.3 592.5h4.0M183.3 590.5v4.0M189.4 592.5h4.0M191.4 590.5v4.0M197.5 596.2h4.0M199.5 594.2v4.0M205.5 596.2h4.0M207.5 594.2v4.0M213.9 596.2h4.0M215.9 594.2v4.0M222.0 596.2h4.0M224.0 594.2v4.0" stroke="#f5b82a" stroke-width="0.8" fill="none"/>
<path d="M69.0 595.0L71.8 605.0L99.8 608.0L224.0 609.0" fill="none" stroke="#f06ef0" stroke-width="1.35" stroke-linejoin="round"/>
<path d="M69.0 597.4l2.4 -4.2h-4.7zM77.1 607.9l2.4 -4.2h-4.7zM85.5 608.8l2.4 -4.2h-4.7zM93.5 609.7l2.4 -4.2h-4.7zM101.6 610.4l2.4 -4.2h-4.7zM109.7 610.4l2.4 -4.2h-4.7zM118.1 610.5l2.4 -4.2h-4.7zM126.2 610.6l2.4 -4.2h-4.7zM134.2 610.6l2.4 -4.2h-4.7zM142.3 610.7l2.4 -4.2h-4.7zM150.7 610.8l2.4 -4.2h-4.7zM158.8 610.8l2.4 -4.2h-4.7zM166.8 610.9l2.4 -4.2h-4.7zM174.9 611.0l2.4 -4.2h-4.7zM183.3 611.0l2.4 -4.2h-4.7zM191.4 611.1l2.4 -4.2h-4.7zM199.5 611.2l2.4 -4.2h-4.7zM207.5 611.2l2.4 -4.2h-4.7zM215.9 611.3l2.4 -4.2h-4.7zM224.0 611.4l2.4 -4.2h-4.7z" fill="#f06ef0"/>
<path d="M69.0 590.0L71.6 591.8L74.1 593.3L76.7 594.6L79.3 595.7L81.8 596.7L84.4 597.5L86.9 598.1L89.5 598.7L92.1 599.2L94.6 599.6L97.2 599.9L99.8 600.2L130.8 604.0L224.0 607.0" fill="none" stroke="#962828" stroke-width="1.35" stroke-linejoin="round"/>
<path d="M69.0 587.6l2.3 2.4l-2.3 2.4l-2.3 -2.4zM77.1 592.4l2.3 2.4l-2.3 2.4l-2.3 -2.4zM85.5 595.3l2.3 2.4l-2.3 2.4l-2.3 -2.4zM93.5 597.0l2.3 2.4l-2.3 2.4l-2.3 -2.4zM101.6 598.0l2.3 2.4l-2.3 2.4l-2.3 -2.4zM109.7 599.0l2.3 2.4l-2.3 2.4l-2.3 -2.4zM118.1 600.0l2.3 2.4l-2.3 2.4l-2.3 -2.4zM126.2 601.0l2.3 2.4l-2.3 2.4l-2.3 -2.4zM134.2 601.7l2.3 2.4l-2.3 2.4l-2.3 -2.4zM142.3 602.0l2.3 2.4l-2.3 2.4l-2.3 -2.4zM150.7 602.2l2.3 2.4l-2.3 2.4l-2.3 -2.4zM158.8 602.5l2.3 2.4l-2.3 2.4l-2.3 -2.4zM166.8 602.8l2.3 2.4l-2.3 2.4l-2.3 -2.4zM174.9 603.0l2.3 2.4l-2.3 2.4l-2.3 -2.4zM183.3 603.3l2.3 2.4l-2.3 2.4l-2.3 -2.4zM191.4 603.6l2.3 2.4l-2.3 2.4l-2.3 -2.4zM199.5 603.8l2.3 2.4l-2.3 2.4l-2.3 -2.4zM207.5 604.1l2.3 2.4l-2.3 2.4l-2.3 -2.4zM215.9 604.3l2.3 2.4l-2.3 2.4l-2.3 -2.4zM224.0 604.6l2.3 2.4l-2.3 2.4l-2.3 -2.4z" fill="#962828"/>
<path d="M69.0 581.3L73.3 586.0L78.0 589.0L81.1 591.0L224.0 591.0" fill="none" stroke="#f5d214" stroke-width="0.7" stroke-linejoin="round"/>
<path d="M67.2 579.5h3.5v3.5h-3.5zM75.3 586.6h3.5v3.5h-3.5zM83.7 589.2h3.5v3.5h-3.5zM91.8 589.2h3.5v3.5h-3.5zM99.9 589.2h3.5v3.5h-3.5zM107.9 589.2h3.5v3.5h-3.5zM116.3 589.2h3.5v3.5h-3.5zM124.4 589.2h3.5v3.5h-3.5zM132.5 589.2h3.5v3.5h-3.5zM140.6 589.2h3.5v3.5h-3.5zM148.9 589.2h3.5v3.5h-3.5zM157.0 589.2h3.5v3.5h-3.5zM165.1 589.2h3.5v3.5h-3.5zM173.2 589.2h3.5v3.5h-3.5zM181.6 589.2h3.5v3.5h-3.5zM189.6 589.2h3.5v3.5h-3.5zM197.7 589.2h3.5v3.5h-3.5zM205.8 589.2h3.5v3.5h-3.5zM214.2 589.2h3.5v3.5h-3.5zM222.2 589.2h3.5v3.5h-3.5z" fill="#f5d214"/>
<path d="M69.0 489.2L69.3 557.3L70.6 557.3L70.6 574.7L99.8 574.7L99.8 577.6L115.9 577.6L115.9 580.5L137.3 580.5L137.3 584.5L147.6 584.5L147.6 588.7L179.3 588.7L179.3 592.0L203.5 592.0L203.5 595.9L212.5 595.9L212.5 598.5L224.0 598.5" fill="none" stroke="#b43cf0" stroke-width="1.35" stroke-linejoin="round"/>
<path d="M67.0 489.2a2.00 2.00 0 1 0 4.0 0a2.00 2.00 0 1 0 -4.0 0M75.1 574.7a2.00 2.00 0 1 0 4.0 0a2.00 2.00 0 1 0 -4.0 0M83.5 574.7a2.00 2.00 0 1 0 4.0 0a2.00 2.00 0 1 0 -4.0 0M91.5 574.7a2.00 2.00 0 1 0 4.0 0a2.00 2.00 0 1 0 -4.0 0M99.6 577.6a2.00 2.00 0 1 0 4.0 0a2.00 2.00 0 1 0 -4.0 0M107.7 577.6a2.00 2.00 0 1 0 4.0 0a2.00 2.00 0 1 0 -4.0 0M116.1 580.5a2.00 2.00 0 1 0 4.0 0a2.00 2.00 0 1 0 -4.0 0M124.2 580.5a2.00 2.00 0 1 0 4.0 0a2.00 2.00 0 1 0 -4.0 0M132.2 580.5a2.00 2.00 0 1 0 4.0 0a2.00 2.00 0 1 0 -4.0 0M140.3 584.5a2.00 2.00 0 1 0 4.0 0a2.00 2.00 0 1 0 -4.0 0M148.7 588.7a2.00 2.00 0 1 0 4.0 0a2.00 2.00 0 1 0 -4.0 0M156.8 588.7a2.00 2.00 0 1 0 4.0 0a2.00 2.00 0 1 0 -4.0 0M164.8 588.7a2.00 2.00 0 1 0 4.0 0a2.00 2.00 0 1 0 -4.0 0M172.9 588.7a2.00 2.00 0 1 0 4.0 0a2.00 2.00 0 1 0 -4.0 0M181.3 592.0a2.00 2.00 0 1 0 4.0 0a2.00 2.00 0 1 0 -4.0 0M189.4 592.0a2.00 2.00 0 1 0 4.0 0a2.00 2.00 0 1 0 -4.0 0M197.5 592.0a2.00 2.00 0 1 0 4.0 0a2.00 2.00 0 1 0 -4.0 0M205.5 595.9a2.00 2.00 0 1 0 4.0 0a2.00 2.00 0 1 0 -4.0 0M213.9 598.5a2.00 2.00 0 1 0 4.0 0a2.00 2.00 0 1 0 -4.0 0M222.0 598.5a2.00 2.00 0 1 0 4.0 0a2.00 2.00 0 1 0 -4.0 0" fill="#d77cf5" stroke="#a832e6" stroke-width="0.7"/>
<path d="M69.0 517.0L77.1 541.7L85.5 549.7L93.5 554.1L101.6 557.0L109.7 558.5L118.1 559.5L130.8 560.5L224.0 561.5" fill="none" stroke="#dc1e32" stroke-width="1.35" stroke-linejoin="round"/>
<path d="M71.3 517.0l-4.2 -2.4v4.7zM79.4 541.7l-4.2 -2.4v4.7zM87.8 549.7l-4.2 -2.4v4.7zM95.9 554.1l-4.2 -2.4v4.7zM104.0 557.0l-4.2 -2.4v4.7zM112.0 558.5l-4.2 -2.4v4.7zM120.4 559.5l-4.2 -2.4v4.7zM128.5 560.1l-4.2 -2.4v4.7zM136.6 560.5l-4.2 -2.4v4.7zM144.7 560.6l-4.2 -2.4v4.7zM153.0 560.7l-4.2 -2.4v4.7zM161.1 560.8l-4.2 -2.4v4.7zM169.2 560.9l-4.2 -2.4v4.7zM177.3 561.0l-4.2 -2.4v4.7zM185.7 561.1l-4.2 -2.4v4.7zM193.7 561.1l-4.2 -2.4v4.7zM201.8 561.2l-4.2 -2.4v4.7zM209.9 561.3l-4.2 -2.4v4.7zM218.3 561.4l-4.2 -2.4v4.7zM226.3 561.5l-4.2 -2.4v4.7z" fill="#dc1e32"/>
<path d="M69.0 579.0L70.8 585.1L72.6 589.8L74.4 593.4L76.1 596.3L77.9 598.5L79.7 600.3L81.5 601.6L83.3 602.7L85.1 603.5L86.9 604.1L88.6 604.6L90.4 605.0L224.0 607.0" fill="none" stroke="#00e6f0" stroke-width="1.35" stroke-linejoin="round"/>
<path d="M69 576.5l0.7 1.3l1.5 -0.1l-0.8 1.3l0.8 1.3l-1.5 -0.1l-0.7 1.3l-0.7 -1.3l-1.5 0.1l0.8 -1.3l-0.8 -1.3l1.5 0.1zM77.1 594.9l0.7 1.3l1.5 0.0l-0.8 1.3l0.8 1.2l-1.5 0.0l-0.7 1.3l-0.7 -1.3l-1.5 0.0l0.8 -1.2l-0.8 -1.3l1.5 0.0zM85.5 601.1l0.7 1.3l1.5 -0.1l-0.8 1.3l0.8 1.3l-1.5 -0.1l-0.7 1.4l-0.7 -1.4l-1.5 0.1l0.8 -1.3l-0.8 -1.3l1.5 0.1zM93.5 602.5l0.7 1.3l1.5 0.0l-0.8 1.2l0.8 1.3l-1.5 0.0l-0.7 1.3l-0.7 -1.3l-1.5 0.0l0.8 -1.3l-0.8 -1.2l1.5 0.0zM101.6 602.6l0.7 1.4l1.5 -0.1l-0.8 1.3l0.8 1.2l-1.5 0.0l-0.7 1.3l-0.7 -1.3l-1.5 0.0l0.8 -1.2l-0.8 -1.3l1.5 0.1zM109.7 602.7l0.7 1.4l1.5 -0.1l-0.8 1.3l0.8 1.3l-1.5 -0.1l-0.7 1.3l-0.7 -1.3l-1.5 0.1l0.8 -1.3l-0.8 -1.3l1.5 0.1zM118.1 602.9l0.7 1.3l1.5 -0.1l-0.8 1.3l0.8 1.3l-1.5 -0.1l-0.7 1.4l-0.7 -1.4l-1.5 0.1l0.8 -1.3l-0.8 -1.3l1.5 0.1zM126.2 603.0l0.7 1.3l1.5 0.0l-0.8 1.2l0.8 1.3l-1.5 -0.1l-0.7 1.4l-0.7 -1.4l-1.6 0.1l0.9 -1.3l-0.9 -1.2l1.6 0.0zM134.2 603.1l0.7 1.3l1.5 0.0l-0.8 1.3l0.8 1.2l-1.5 0.0l-0.7 1.3l-0.7 -1.3l-1.5 0.0l0.8 -1.2l-0.8 -1.3l1.5 0.0zM142.3 603.2l0.7 1.4l1.5 -0.1l-0.8 1.3l0.8 1.3l-1.5 -0.1l-0.7 1.3l-0.7 -1.3l-1.5 0.1l0.8 -1.3l-0.8 -1.3l1.5 0.1zM150.7 603.4l0.7 1.3l1.5 -0.1l-0.8 1.3l0.8 1.3l-1.5 -0.1l-0.7 1.4l-0.7 -1.4l-1.5 0.1l0.8 -1.3l-0.8 -1.3l1.5 0.1zM158.8 603.5l0.7 1.3l1.5 -0.1l-0.8 1.3l0.8 1.3l-1.5 -0.1l-0.7 1.4l-0.7 -1.4l-1.5 0.1l0.8 -1.3l-0.8 -1.3l1.5 0.1zM166.8 603.6l0.7 1.3l1.6 0.0l-0.9 1.2l0.9 1.3l-1.6 0.0l-0.7 1.3l-0.7 -1.3l-1.5 0.0l0.8 -1.3l-0.8 -1.2l1.5 0.0zM174.9 603.7l0.7 1.4l1.5 -0.1l-0.8 1.3l0.8 1.2l-1.5 0.0l-0.7 1.3l-0.7 -1.3l-1.5 0.0l0.8 -1.2l-0.8 -1.3l1.5 0.1zM183.3 603.8l0.7 1.4l1.5 -0.1l-0.8 1.3l0.8 1.3l-1.5 -0.1l-0.7 1.3l-0.7 -1.3l-1.5 0.1l0.8 -1.3l-0.8 -1.3l1.5 0.1zM191.4 604.0l0.7 1.3l1.5 -0.1l-0.8 1.3l0.8 1.3l-1.5 -0.1l-0.7 1.4l-0.7 -1.4l-1.5 0.1l0.8 -1.3l-0.8 -1.3l1.5 0.1zM199.5 604.1l0.7 1.3l1.5 0.0l-0.8 1.2l0.8 1.3l-1.5 -0.1l-0.7 1.4l-0.7 -1.4l-1.5 0.1l0.8 -1.3l-0.8 -1.2l1.5 0.0zM207.5 604.2l0.7 1.3l1.5 0.0l-0.8 1.3l0.8 1.2l-1.5 0.0l-0.7 1.3l-0.7 -1.3l-1.5 0.0l0.8 -1.2l-0.8 -1.3l1.5 0.0zM215.9 604.3l0.7 1.4l1.5 -0.1l-0.8 1.3l0.8 1.3l-1.5 -0.1l-0.7 1.3l-0.7 -1.3l-1.5 0.1l0.8 -1.3l-0.8 -1.3l1.5 0.1zM224 604.5l0.7 1.3l1.5 -0.1l-0.8 1.3l0.8 1.3l-1.5 -0.1l-0.7 1.3l-0.7 -1.3l-1.5 0.1l0.8 -1.3l-0.8 -1.3l1.5 0.1z" fill="#00e6f0"/>
<path d="M69.0 590.0L71.8 609.6L224.0 609.6" fill="none" stroke="#e6641e" stroke-width="1.35" stroke-linejoin="round"/>
<path d="M69.0 587.6l2.4 4.2h-4.7zM77.1 607.2l2.4 4.2h-4.7zM85.5 607.2l2.4 4.2h-4.7zM93.5 607.2l2.4 4.2h-4.7zM101.6 607.2l2.4 4.2h-4.7zM109.7 607.2l2.4 4.2h-4.7zM118.1 607.2l2.4 4.2h-4.7zM126.2 607.2l2.4 4.2h-4.7zM134.2 607.2l2.4 4.2h-4.7zM142.3 607.2l2.4 4.2h-4.7zM150.7 607.2l2.4 4.2h-4.7zM158.8 607.2l2.4 4.2h-4.7zM166.8 607.2l2.4 4.2h-4.7zM174.9 607.2l2.4 4.2h-4.7zM183.3 607.2l2.4 4.2h-4.7zM191.4 607.2l2.4 4.2h-4.7zM199.5 607.2l2.4 4.2h-4.7zM207.5 607.2l2.4 4.2h-4.7zM215.9 607.2l2.4 4.2h-4.7zM224.0 607.2l2.4 4.2h-4.7z" fill="#e6641e"/>
<path d="M69.0 585.0L70.3 590.1L71.5 594.1L72.8 597.2L74.1 599.6L75.3 601.5L76.6 603.0L77.9 604.1L79.1 605.0L80.4 605.7L81.7 606.3L83.0 606.7L84.2 607.0L224.0 608.5" fill="none" stroke="#1ea096" stroke-width="1.35" stroke-linejoin="round"/>
<path d="M66.7 585.0l4.2 -2.4v4.7zM74.7 603.4l4.2 -2.4v4.7zM83.1 607.0l4.2 -2.4v4.7zM91.2 607.1l4.2 -2.4v4.7zM99.3 607.2l4.2 -2.4v4.7zM107.3 607.3l4.2 -2.4v4.7zM115.7 607.4l4.2 -2.4v4.7zM123.8 607.5l4.2 -2.4v4.7zM131.9 607.5l4.2 -2.4v4.7zM140.0 607.6l4.2 -2.4v4.7zM148.3 607.7l4.2 -2.4v4.7zM156.4 607.8l4.2 -2.4v4.7zM164.5 607.9l4.2 -2.4v4.7zM172.6 608.0l4.2 -2.4v4.7zM181.0 608.1l4.2 -2.4v4.7zM189.0 608.1l4.2 -2.4v4.7zM197.1 608.2l4.2 -2.4v4.7zM205.2 608.3l4.2 -2.4v4.7zM213.6 608.4l4.2 -2.4v4.7zM221.7 608.5l4.2 -2.4v4.7z" fill="#1ea096"/>
<path d="M69.0 582.0L70.0 587.8L71.0 592.4L72.0 595.9L73.0 598.6L74.0 600.8L75.1 602.4L76.1 603.7L77.1 604.7L78.1 605.5L79.1 606.2L80.1 606.6L81.1 607.0L224.0 609.0" fill="none" stroke="#7846dc" stroke-width="1.35" stroke-linejoin="round"/>
<path d="M69 580.0l1.7 1.0l0 2.0l-1.7 1.0l-1.7 -1.0l0 -2.0zM77.1 602.8l1.7 1.0l0 1.9l-1.7 1.0l-1.7 -1.0l0 -1.9zM85.5 605.1l1.7 1.0l0 1.9l-1.7 1.0l-1.7 -1.0l0 -1.9zM93.5 605.2l1.7 1.0l0 1.9l-1.7 1.0l-1.6 -1.0l0 -1.9zM101.6 605.3l1.7 1.0l0 2.0l-1.7 0.9l-1.7 -0.9l0 -2.0zM109.7 605.4l1.7 1.0l0 2.0l-1.7 1.0l-1.7 -1.0l0 -2.0zM118.1 605.6l1.7 0.9l0 2.0l-1.7 1.0l-1.7 -1.0l0 -2.0zM126.2 605.7l1.6 1.0l0 1.9l-1.6 1.0l-1.7 -1.0l0 -1.9zM134.2 605.8l1.7 1.0l0 1.9l-1.7 1.0l-1.7 -1.0l0 -1.9zM142.3 605.9l1.7 1.0l0 1.9l-1.7 1.0l-1.7 -1.0l0 -1.9zM150.7 606.0l1.7 1.0l0 1.9l-1.7 1.0l-1.7 -1.0l0 -1.9zM158.8 606.1l1.7 1.0l0 2.0l-1.7 0.9l-1.7 -0.9l0 -2.0zM166.8 606.2l1.7 1.0l0 2.0l-1.7 1.0l-1.6 -1.0l0 -2.0zM174.9 606.4l1.7 0.9l0 2.0l-1.7 1.0l-1.7 -1.0l0 -2.0zM183.3 606.5l1.7 1.0l0 1.9l-1.7 1.0l-1.7 -1.0l0 -1.9zM191.4 606.6l1.7 1.0l0 1.9l-1.7 1.0l-1.7 -1.0l0 -1.9zM199.5 606.7l1.6 1.0l0 1.9l-1.6 1.0l-1.7 -1.0l0 -1.9zM207.5 606.8l1.7 1.0l0 1.9l-1.7 1.0l-1.7 -1.0l0 -1.9zM215.9 606.9l1.7 1.0l0 2.0l-1.7 0.9l-1.7 -0.9l0 -2.0zM224 607.0l1.7 1.0l0 2.0l-1.7 1.0l-1.7 -1.0l0 -2.0z" fill="#7846dc"/>
<path d="M69.0 563.8L69.6 590.0L70.6 594.0L71.5 597.0L72.5 599.4L73.5 601.3L74.4 602.8L75.4 603.9L76.3 604.8L77.3 605.5L78.2 606.0L79.2 606.4L80.2 606.7L81.1 607.0L224.0 608.0" fill="none" stroke="#00f000" stroke-width="1.35" stroke-linejoin="round"/>
<path d="M69.0 566.1l2.4 -4.2h-4.7zM77.1 607.7l2.4 -4.2h-4.7zM85.5 609.4l2.4 -4.2h-4.7zM93.5 609.4l2.4 -4.2h-4.7zM101.6 609.5l2.4 -4.2h-4.7zM109.7 609.6l2.4 -4.2h-4.7zM118.1 609.6l2.4 -4.2h-4.7zM126.2 609.7l2.4 -4.2h-4.7zM134.2 609.7l2.4 -4.2h-4.7zM142.3 609.8l2.4 -4.2h-4.7zM150.7 609.8l2.4 -4.2h-4.7zM158.8 609.9l2.4 -4.2h-4.7zM166.8 610.0l2.4 -4.2h-4.7zM174.9 610.0l2.4 -4.2h-4.7zM183.3 610.1l2.4 -4.2h-4.7zM191.4 610.1l2.4 -4.2h-4.7zM199.5 610.2l2.4 -4.2h-4.7zM207.5 610.2l2.4 -4.2h-4.7zM215.9 610.3l2.4 -4.2h-4.7zM224.0 610.4l2.4 -4.2h-4.7z" fill="#00f000"/>
<path d="M69.0 583.0L70.5 588.4L72.1 592.5L73.6 595.8L75.1 598.3L76.6 600.3L78.2 601.8L79.7 603.0L81.2 603.9L82.7 604.7L84.3 605.2L85.8 605.7L87.3 606.0L224.0 608.0" fill="none" stroke="#1e8cc8" stroke-width="1.35" stroke-linejoin="round"/>
<path d="M69 580.5l0.7 1.3l1.5 -0.1l-0.8 1.3l0.8 1.3l-1.5 -0.1l-0.7 1.3l-0.7 -1.3l-1.5 0.1l0.8 -1.3l-0.8 -1.3l1.5 0.1zM77.1 598.2l0.7 1.3l1.5 -0.1l-0.8 1.3l0.8 1.3l-1.5 -0.1l-0.7 1.4l-0.7 -1.4l-1.5 0.1l0.8 -1.3l-0.8 -1.3l1.5 0.1zM85.5 603.0l0.7 1.3l1.5 0.0l-0.8 1.3l0.8 1.2l-1.5 0.0l-0.7 1.3l-0.7 -1.3l-1.5 0.0l0.8 -1.2l-0.8 -1.3l1.5 0.0zM93.5 603.5l0.7 1.4l1.5 -0.1l-0.8 1.3l0.8 1.3l-1.5 -0.1l-0.7 1.3l-0.7 -1.3l-1.5 0.1l0.8 -1.3l-0.8 -1.3l1.5 0.1zM101.6 603.7l0.7 1.3l1.5 -0.1l-0.8 1.3l0.8 1.3l-1.5 -0.1l-0.7 1.4l-0.7 -1.4l-1.5 0.1l0.8 -1.3l-0.8 -1.3l1.5 0.1zM109.7 603.8l0.7 1.3l1.5 0.0l-0.8 1.2l0.8 1.3l-1.5 -0.1l-0.7 1.4l-0.7 -1.4l-1.5 0.1l0.8 -1.3l-0.8 -1.2l1.5 0.0zM118.1 603.9l0.7 1.3l1.5 0.0l-0.8 1.3l0.8 1.2l-1.5 0.0l-0.7 1.3l-0.7 -1.3l-1.5 0.0l0.8 -1.2l-0.8 -1.3l1.5 0.0zM126.2 604.0l0.7 1.4l1.5 -0.1l-0.8 1.3l0.8 1.2l-1.5 0.0l-0.7 1.3l-0.7 -1.3l-1.6 0.0l0.9 -1.2l-0.9 -1.3l1.6 0.1zM134.2 604.1l0.7 1.4l1.5 -0.1l-0.8 1.3l0.8 1.3l-1.5 -0.1l-0.7 1.3l-0.7 -1.3l-1.5 0.1l0.8 -1.3l-0.8 -1.3l1.5 0.1zM142.3 604.3l0.7 1.3l1.5 -0.1l-0.8 1.3l0.8 1.3l-1.5 -0.1l-0.7 1.4l-0.7 -1.4l-1.5 0.1l0.8 -1.3l-0.8 -1.3l1.5 0.1zM150.7 604.4l0.7 1.3l1.5 0.0l-0.8 1.2l0.8 1.3l-1.5 -0.1l-0.7 1.4l-0.7 -1.4l-1.5 0.1l0.8 -1.3l-0.8 -1.2l1.5 0.0zM158.8 604.5l0.7 1.3l1.5 0.0l-0.8 1.2l0.8 1.3l-1.5 0.0l-0.7 1.3l-0.7 -1.3l-1.5 0.0l0.8 -1.3l-0.8 -1.2l1.5 0.0zM166.8 604.6l0.7 1.4l1.6 -0.1l-0.9 1.3l0.9 1.2l-1.6 0.0l-0.7 1.3l-0.7 -1.3l-1.5 0.0l0.8 -1.2l-0.8 -1.3l1.5 0.1zM174.9 604.7l0.7 1.4l1.5 -0.1l-0.8 1.3l0.8 1.3l-1.5 -0.1l-0.7 1.3l-0.7 -1.3l-1.5 0.1l0.8 -1.3l-0.8 -1.3l1.5 0.1zM183.3 604.9l0.7 1.3l1.5 -0.1l-0.8 1.3l0.8 1.3l-1.5 -0.1l-0.7 1.4l-0.7 -1.4l-1.5 0.1l0.8 -1.3l-0.8 -1.3l1.5 0.1zM191.4 605.0l0.7 1.3l1.5 -0.1l-0.8 1.3l0.8 1.3l-1.5 -0.1l-0.7 1.4l-0.7 -1.4l-1.5 0.1l0.8 -1.3l-0.8 -1.3l1.5 0.1zM199.5 605.1l0.7 1.3l1.5 0.0l-0.8 1.2l0.8 1.3l-1.5 0.0l-0.7 1.3l-0.7 -1.3l-1.5 0.0l0.8 -1.3l-0.8 -1.2l1.5 0.0zM207.5 605.2l0.7 1.3l1.5 0.0l-0.8 1.3l0.8 1.2l-1.5 0.0l-0.7 1.3l-0.7 -1.3l-1.5 0.0l0.8 -1.2l-0.8 -1.3l1.5 0.0zM215.9 605.3l0.7 1.4l1.5 -0.1l-0.8 1.3l0.8 1.3l-1.5 -0.1l-0.7 1.3l-0.7 -1.3l-1.5 0.1l0.8 -1.3l-0.8 -1.3l1.5 0.1zM224 605.5l0.7 1.3l1.5 -0.1l-0.8 1.3l0.8 1.3l-1.5 -0.1l-0.7 1.3l-0.7 -1.3l-1.5 0.1l0.8 -1.3l-0.8 -1.3l1.5 0.1z" fill="#1e8cc8"/>
</g>
<text x="146.50" y="486.60" class="ti" text-anchor="middle">cec27</text>
<text x="146.50" y="628.60" class="lb" text-anchor="middle">Iteration</text>
<text transform="translate(57.70 551.30) rotate(-90)" class="lb" text-anchor="middle">Fitness value</text>
<rect x="177.10" y="492.80" width="43.5" height="87.6" fill="#fff" stroke="#8a8a8a" stroke-width="0.6"/>
<path d="M178.70 496.70H192.70" stroke="#ff0000" stroke-width="1.1"/>
<path d="M183.8 496.7a2.00 2.00 0 1 0 4.0 0a2.00 2.00 0 1 0 -4.0 0" fill="#ff0000"/>
<text x="194.10" y="498.25" class="lg">COA</text>
<path d="M178.70 502.43H192.70" stroke="#0000ff" stroke-width="1.1"/>
<path d="M185.8 500.1l2.4 4.2h-4.7z" fill="#0000ff"/>
<text x="194.10" y="503.98" class="lg">CMRLCCOA</text>
<path d="M178.70 508.16H192.70" stroke="#5aa832" stroke-width="1.1"/>
<path d="M184.7 507.1h2.2v2.2h-2.2z" fill="#3f8c14"/>
<text x="194.10" y="509.71" class="lg">KOA</text>
<path d="M178.70 513.89H192.70" stroke="#f5b82a" stroke-width="1.1"/>
<path d="M183.8 513.9h4.0M185.8 511.9v4.0" stroke="#f5b82a" stroke-width="0.8" fill="none"/>
<text x="194.10" y="515.44" class="lg">SWO</text>
<path d="M178.70 519.62H192.70" stroke="#f06ef0" stroke-width="1.1"/>
<path d="M185.8 522.0l2.4 -4.2h-4.7z" fill="#f06ef0"/>
<text x="194.10" y="521.17" class="lg">GMO</text>
<path d="M178.70 525.35H192.70" stroke="#962828" stroke-width="1.1"/>
<path d="M185.8 523.0l2.3 2.4l-2.3 2.4l-2.3 -2.4z" fill="#962828"/>
<text x="194.10" y="526.90" class="lg">OMA</text>
<path d="M178.70 531.08H192.70" stroke="#f5d214" stroke-width="1.1"/>
<path d="M184.0 529.3h3.5v3.5h-3.5z" fill="#f5d214"/>
<text x="194.10" y="532.63" class="lg">TROA</text>
<path d="M178.70 536.81H192.70" stroke="#b43cf0" stroke-width="1.1"/>
<path d="M183.8 536.8a2.00 2.00 0 1 0 4.0 0a2.00 2.00 0 1 0 -4.0 0" fill="#d77cf5" stroke="#a832e6" stroke-width="0.7"/>
<text x="194.10" y="538.36" class="lg">GO</text>
<path d="M178.70 542.54H192.70" stroke="#dc1e32" stroke-width="1.1"/>
<path d="M188.1 542.5l-4.2 -2.4v4.7z" fill="#dc1e32"/>
<text x="194.10" y="544.09" class="lg">PSO</text>
<path d="M178.70 548.27H192.70" stroke="#00e6f0" stroke-width="1.1"/>
<path d="M185.8 545.7l0.7 1.4l1.5 -0.1l-0.8 1.3l0.8 1.2l-1.5 0.0l-0.7 1.3l-0.7 -1.3l-1.5 0.0l0.8 -1.2l-0.8 -1.3l1.5 0.1z" fill="#00e6f0"/>
<text x="194.10" y="549.82" class="lg">DE</text>
<path d="M178.70 554.00H192.70" stroke="#e6641e" stroke-width="1.1"/>
<path d="M185.8 551.6l2.4 4.2h-4.7z" fill="#e6641e"/>
<text x="194.10" y="555.55" class="lg">SA</text>
<path d="M178.70 559.73H192.70" stroke="#1ea096" stroke-width="1.1"/>
<path d="M183.4 559.7l4.2 -2.4v4.7z" fill="#1ea096"/>
<text x="194.10" y="561.28" class="lg">ABC</text>
<path d="M178.70 565.46H192.70" stroke="#7846dc" stroke-width="1.1"/>
<path d="M185.8 563.5l1.7 1.0l0 1.9l-1.7 1.0l-1.7 -1.0l0 -1.9z" fill="#7846dc"/>
<text x="194.10" y="567.01" class="lg">ISSA</text>
<path d="M178.70 571.19H192.70" stroke="#00f000" stroke-width="1.1"/>
<path d="M185.8 573.5l2.4 -4.2h-4.7z" fill="#00f000"/>
<text x="194.10" y="572.74" class="lg">IGWO</text>
<path d="M178.70 576.92H192.70" stroke="#1e8cc8" stroke-width="1.1"/>
<path d="M185.8 574.4l0.7 1.3l1.5 -0.1l-0.8 1.3l0.8 1.3l-1.5 -0.1l-0.7 1.4l-0.7 -1.4l-1.5 0.1l0.8 -1.3l-0.8 -1.3l1.5 0.1z" fill="#1e8cc8"/>
<text x="194.10" y="578.47" class="lg">EWOA</text>
<rect x="342.4" y="489.3" width="156.3" height="124.09999999999997" fill="none" stroke="#9a9a9a" stroke-width="0.8"/>
<path d="M357.75 613.4v-1.6M357.75 489.3v1.6" stroke="#666" stroke-width="0.5"/>
<text x="357.75" y="619.85" class="tk" text-anchor="middle">50</text>
<path d="M373.41 613.4v-1.6M373.41 489.3v1.6" stroke="#666" stroke-width="0.5"/>
<text x="373.41" y="619.85" class="tk" text-anchor="middle">100</text>
<path d="M389.07 613.4v-1.6M389.07 489.3v1.6" stroke="#666" stroke-width="0.5"/>
<text x="389.07" y="619.85" class="tk" text-anchor="middle">150</text>
<path d="M404.73 613.4v-1.6M404.73 489.3v1.6" stroke="#666" stroke-width="0.5"/>
<text x="404.73" y="619.85" class="tk" text-anchor="middle">200</text>
<path d="M420.39 613.4v-1.6M420.39 489.3v1.6" stroke="#666" stroke-width="0.5"/>
<text x="420.39" y="619.85" class="tk" text-anchor="middle">250</text>
<path d="M436.05 613.4v-1.6M436.05 489.3v1.6" stroke="#666" stroke-width="0.5"/>
<text x="436.05" y="619.85" class="tk" text-anchor="middle">300</text>
<path d="M451.72 613.4v-1.6M451.72 489.3v1.6" stroke="#666" stroke-width="0.5"/>
<text x="451.72" y="619.85" class="tk" text-anchor="middle">350</text>
<path d="M467.38 613.4v-1.6M467.38 489.3v1.6" stroke="#666" stroke-width="0.5"/>
<text x="467.38" y="619.85" class="tk" text-anchor="middle">400</text>
<path d="M483.04 613.4v-1.6M483.04 489.3v1.6" stroke="#666" stroke-width="0.5"/>
<text x="483.04" y="619.85" class="tk" text-anchor="middle">450</text>
<path d="M498.70 613.4v-1.6M498.70 489.3v1.6" stroke="#666" stroke-width="0.5"/>
<text x="498.70" y="619.85" class="tk" text-anchor="middle">500</text>
<path d="M342.4 492.10h1.6M498.7 492.10h-1.6" stroke="#666" stroke-width="0.5"/>
<text x="340.40" y="493.70" class="tk" text-anchor="end">3.5</text>
<path d="M342.4 511.25h1.6M498.7 511.25h-1.6" stroke="#666" stroke-width="0.5"/>
<text x="340.40" y="512.85" class="tk" text-anchor="end">3</text>
<path d="M342.4 530.40h1.6M498.7 530.40h-1.6" stroke="#666" stroke-width="0.5"/>
<text x="340.40" y="532.00" class="tk" text-anchor="end">2.5</text>
<path d="M342.4 549.55h1.6M498.7 549.55h-1.6" stroke="#666" stroke-width="0.5"/>
<text x="340.40" y="551.15" class="tk" text-anchor="end">2</text>
<path d="M342.4 568.70h1.6M498.7 568.70h-1.6" stroke="#666" stroke-width="0.5"/>
<text x="340.40" y="570.30" class="tk" text-anchor="end">1.5</text>
<path d="M342.4 587.85h1.6M498.7 587.85h-1.6" stroke="#666" stroke-width="0.5"/>
<text x="340.40" y="589.45" class="tk" text-anchor="end">1</text>
<path d="M342.4 607.00h1.6M498.7 607.00h-1.6" stroke="#666" stroke-width="0.5"/>
<text x="340.40" y="608.60" class="tk" text-anchor="end">0.5</text>
<text x="343.20" y="487.90" class="tk ex">×10<tspan class="sup" dy="-1.8">8</tspan></text>
<clipPath id="ccec28"><rect x="337.4" y="484.3" width="166.3" height="134.09999999999997"/></clipPath>
<g clip-path="url(#ccec28)">
<path d="M342.4 525.7L344.6 570.0L346.8 580.0L498.7 580.0" fill="none" stroke="#ff0000" stroke-width="1.35" stroke-linejoin="round"/>
<path d="M340.4 525.7a2.00 2.00 0 1 0 4.0 0a2.00 2.00 0 1 0 -4.0 0M348.5 580.0a2.00 2.00 0 1 0 4.0 0a2.00 2.00 0 1 0 -4.0 0M357.0 580.0a2.00 2.00 0 1 0 4.0 0a2.00 2.00 0 1 0 -4.0 0M365.1 580.0a2.00 2.00 0 1 0 4.0 0a2.00 2.00 0 1 0 -4.0 0M373.3 580.0a2.00 2.00 0 1 0 4.0 0a2.00 2.00 0 1 0 -4.0 0M381.4 580.0a2.00 2.00 0 1 0 4.0 0a2.00 2.00 0 1 0 -4.0 0M389.9 580.0a2.00 2.00 0 1 0 4.0 0a2.00 2.00 0 1 0 -4.0 0M398.0 580.0a2.00 2.00 0 1 0 4.0 0a2.00 2.00 0 1 0 -4.0 0M406.2 580.0a2.00 2.00 0 1 0 4.0 0a2.00 2.00 0 1 0 -4.0 0M414.3 580.0a2.00 2.00 0 1 0 4.0 0a2.00 2.00 0 1 0 -4.0 0M422.8 580.0a2.00 2.00 0 1 0 4.0 0a2.00 2.00 0 1 0 -4.0 0M430.9 580.0a2.00 2.00 0 1 0 4.0 0a2.00 2.00 0 1 0 -4.0 0M439.1 580.0a2.00 2.00 0 1 0 4.0 0a2.00 2.00 0 1 0 -4.0 0M447.2 580.0a2.00 2.00 0 1 0 4.0 0a2.00 2.00 0 1 0 -4.0 0M455.7 580.0a2.00 2.00 0 1 0 4.0 0a2.00 2.00 0 1 0 -4.0 0M463.8 580.0a2.00 2.00 0 1 0 4.0 0a2.00 2.00 0 1 0 -4.0 0M472.0 580.0a2.00 2.00 0 1 0 4.0 0a2.00 2.00 0 1 0 -4.0 0M480.1 580.0a2.00 2.00 0 1 0 4.0 0a2.00 2.00 0 1 0 -4.0 0M488.6 580.0a2.00 2.00 0 1 0 4.0 0a2.00 2.00 0 1 0 -4.0 0M496.7 580.0a2.00 2.00 0 1 0 4.0 0a2.00 2.00 0 1 0 -4.0 0" fill="#ff0000"/>
<path d="M342.4 612.6L498.7 612.6" fill="none" stroke="#0000ff" stroke-width="1.35" stroke-linejoin="round"/>
<path d="M342.4 610.2l2.4 4.2h-4.7zM350.5 610.2l2.4 4.2h-4.7zM359.0 610.2l2.4 4.2h-4.7zM367.1 610.2l2.4 4.2h-4.7zM375.3 610.2l2.4 4.2h-4.7zM383.4 610.2l2.4 4.2h-4.7zM391.9 610.2l2.4 4.2h-4.7zM400.0 610.2l2.4 4.2h-4.7zM408.2 610.2l2.4 4.2h-4.7zM416.3 610.2l2.4 4.2h-4.7zM424.8 610.2l2.4 4.2h-4.7zM432.9 610.2l2.4 4.2h-4.7zM441.1 610.2l2.4 4.2h-4.7zM449.2 610.2l2.4 4.2h-4.7zM457.7 610.2l2.4 4.2h-4.7zM465.8 610.2l2.4 4.2h-4.7zM474.0 610.2l2.4 4.2h-4.7zM482.1 610.2l2.4 4.2h-4.7zM490.6 610.2l2.4 4.2h-4.7zM498.7 610.2l2.4 4.2h-4.7z" fill="#0000ff"/>
<path d="M342.4 540.0L345.2 553.0L397.8 553.0L397.8 563.2L498.7 563.3" fill="none" stroke="#5aa832" stroke-width="1.35" stroke-linejoin="round"/>
<path d="M341.3 538.9h2.2v2.2h-2.2zM349.5 551.9h2.2v2.2h-2.2zM357.9 551.9h2.2v2.2h-2.2zM366.1 551.9h2.2v2.2h-2.2zM374.2 551.9h2.2v2.2h-2.2zM382.3 551.9h2.2v2.2h-2.2zM390.8 551.9h2.2v2.2h-2.2zM398.9 562.1h2.2v2.2h-2.2zM407.1 562.1h2.2v2.2h-2.2zM415.2 562.1h2.2v2.2h-2.2zM423.7 562.1h2.2v2.2h-2.2zM431.8 562.1h2.2v2.2h-2.2zM440.0 562.2h2.2v2.2h-2.2zM448.1 562.2h2.2v2.2h-2.2zM456.6 562.2h2.2v2.2h-2.2zM464.7 562.2h2.2v2.2h-2.2zM472.9 562.2h2.2v2.2h-2.2zM481.0 562.2h2.2v2.2h-2.2zM489.5 562.2h2.2v2.2h-2.2zM497.6 562.2h2.2v2.2h-2.2z" fill="#3f8c14"/>
<path d="M342.4 524.3L347.4 524.3L347.4 567.5L410.1 567.5L410.1 575.5L498.7 575.5" fill="none" stroke="#f5b82a" stroke-width="1.35" stroke-linejoin="round"/>
<path d="M340.4 524.3h4.0M342.4 522.3v4.0M348.5 567.5h4.0M350.5 565.5v4.0M357.0 567.5h4.0M359.0 565.5v4.0M365.1 567.5h4.0M367.1 565.5v4.0M373.3 567.5h4.0M375.3 565.5v4.0M381.4 567.5h4.0M383.4 565.5v4.0M389.9 567.5h4.0M391.9 565.5v4.0M398.0 567.5h4.0M400.0 565.5v4.0M406.2 567.5h4.0M408.2 565.5v4.0M414.3 575.5h4.0M416.3 573.5v4.0M422.8 575.5h4.0M424.8 573.5v4.0M430.9 575.5h4.0M432.9 573.5v4.0M439.1 575.5h4.0M441.1 573.5v4.0M447.2 575.5h4.0M449.2 573.5v4.0M455.7 575.5h4.0M457.7 573.5v4.0M463.8 575.5h4.0M465.8 573.5v4.0M472.0 575.5h4.0M474.0 573.5v4.0M480.1 575.5h4.0M482.1 573.5v4.0M488.6 575.5h4.0M490.6 573.5v4.0M496.7 575.5h4.0M498.7 573.5v4.0" stroke="#f5b82a" stroke-width="0.8" fill="none"/>
<path d="M342.4 560.0L346.8 605.0L354.6 611.2L498.7 611.5" fill="none" stroke="#f06ef0" stroke-width="1.35" stroke-linejoin="round"/>
<path d="M342.4 562.4l2.4 -4.2h-4.7zM350.5 610.3l2.4 -4.2h-4.7zM359.0 613.6l2.4 -4.2h-4.7zM367.1 613.6l2.4 -4.2h-4.7zM375.3 613.6l2.4 -4.2h-4.7zM383.4 613.6l2.4 -4.2h-4.7zM391.9 613.6l2.4 -4.2h-4.7zM400.0 613.6l2.4 -4.2h-4.7zM408.2 613.7l2.4 -4.2h-4.7zM416.3 613.7l2.4 -4.2h-4.7zM424.8 613.7l2.4 -4.2h-4.7zM432.9 613.7l2.4 -4.2h-4.7zM441.1 613.7l2.4 -4.2h-4.7zM449.2 613.7l2.4 -4.2h-4.7zM457.7 613.8l2.4 -4.2h-4.7zM465.8 613.8l2.4 -4.2h-4.7zM474.0 613.8l2.4 -4.2h-4.7zM482.1 613.8l2.4 -4.2h-4.7zM490.6 613.8l2.4 -4.2h-4.7zM498.7 613.9l2.4 -4.2h-4.7z" fill="#f06ef0"/>
<path d="M342.4 491.5L343.7 570.0L350.5 587.9L359.0 592.3L367.1 594.5L375.3 596.6L383.4 598.1L391.9 598.8L436.1 601.0L498.7 602.5" fill="none" stroke="#962828" stroke-width="1.35" stroke-linejoin="round"/>
<path d="M342.4 489.1l2.3 2.4l-2.3 2.4l-2.3 -2.4zM350.5 585.5l2.3 2.4l-2.3 2.4l-2.3 -2.4zM359.0 589.9l2.3 2.4l-2.3 2.4l-2.3 -2.4zM367.1 592.1l2.3 2.4l-2.3 2.4l-2.3 -2.4zM375.3 594.2l2.3 2.4l-2.3 2.4l-2.3 -2.4zM383.4 595.7l2.3 2.4l-2.3 2.4l-2.3 -2.4zM391.9 596.4l2.3 2.4l-2.3 2.4l-2.3 -2.4zM400.0 596.8l2.3 2.4l-2.3 2.4l-2.3 -2.4zM408.2 597.2l2.3 2.4l-2.3 2.4l-2.3 -2.4zM416.3 597.6l2.3 2.4l-2.3 2.4l-2.3 -2.4zM424.8 598.0l2.3 2.4l-2.3 2.4l-2.3 -2.4zM432.9 598.4l2.3 2.4l-2.3 2.4l-2.3 -2.4zM441.1 598.7l2.3 2.4l-2.3 2.4l-2.3 -2.4zM449.2 598.9l2.3 2.4l-2.3 2.4l-2.3 -2.4zM457.7 599.1l2.3 2.4l-2.3 2.4l-2.3 -2.4zM465.8 599.3l2.3 2.4l-2.3 2.4l-2.3 -2.4zM474.0 599.5l2.3 2.4l-2.3 2.4l-2.3 -2.4zM482.1 599.7l2.3 2.4l-2.3 2.4l-2.3 -2.4zM490.6 599.9l2.3 2.4l-2.3 2.4l-2.3 -2.4zM498.7 600.1l2.3 2.4l-2.3 2.4l-2.3 -2.4z" fill="#962828"/>
<path d="M342.4 574.8L343.7 580.0L498.7 580.0" fill="none" stroke="#f5d214" stroke-width="0.6" stroke-linejoin="round"/>
<path d="M340.6 573.0h3.5v3.5h-3.5zM348.8 578.2h3.5v3.5h-3.5zM357.3 578.2h3.5v3.5h-3.5zM365.4 578.2h3.5v3.5h-3.5zM373.5 578.2h3.5v3.5h-3.5zM381.7 578.2h3.5v3.5h-3.5zM390.1 578.2h3.5v3.5h-3.5zM398.3 578.2h3.5v3.5h-3.5zM406.4 578.2h3.5v3.5h-3.5zM414.6 578.2h3.5v3.5h-3.5zM423.0 578.2h3.5v3.5h-3.5zM431.2 578.2h3.5v3.5h-3.5zM439.3 578.2h3.5v3.5h-3.5zM447.5 578.2h3.5v3.5h-3.5zM455.9 578.2h3.5v3.5h-3.5zM464.1 578.2h3.5v3.5h-3.5zM472.2 578.2h3.5v3.5h-3.5zM480.3 578.2h3.5v3.5h-3.5zM488.8 578.2h3.5v3.5h-3.5zM496.9 578.2h3.5v3.5h-3.5z" fill="#f5d214"/>
<path d="M342.4 488.6L345.2 488.6L345.2 514.8L353.4 514.8L353.4 553.4L383.7 553.4L383.7 559.1L415.1 559.1L415.1 563.9L483.0 564.4L498.7 567.9" fill="none" stroke="#b43cf0" stroke-width="1.35" stroke-linejoin="round"/>
<path d="M340.4 488.6a2.00 2.00 0 1 0 4.0 0a2.00 2.00 0 1 0 -4.0 0M348.5 514.8a2.00 2.00 0 1 0 4.0 0a2.00 2.00 0 1 0 -4.0 0M357.0 553.4a2.00 2.00 0 1 0 4.0 0a2.00 2.00 0 1 0 -4.0 0M365.1 553.4a2.00 2.00 0 1 0 4.0 0a2.00 2.00 0 1 0 -4.0 0M373.3 553.4a2.00 2.00 0 1 0 4.0 0a2.00 2.00 0 1 0 -4.0 0M381.4 553.4a2.00 2.00 0 1 0 4.0 0a2.00 2.00 0 1 0 -4.0 0M389.9 559.1a2.00 2.00 0 1 0 4.0 0a2.00 2.00 0 1 0 -4.0 0M398.0 559.1a2.00 2.00 0 1 0 4.0 0a2.00 2.00 0 1 0 -4.0 0M406.2 559.1a2.00 2.00 0 1 0 4.0 0a2.00 2.00 0 1 0 -4.0 0M414.3 563.9a2.00 2.00 0 1 0 4.0 0a2.00 2.00 0 1 0 -4.0 0M422.8 564.0a2.00 2.00 0 1 0 4.0 0a2.00 2.00 0 1 0 -4.0 0M430.9 564.0a2.00 2.00 0 1 0 4.0 0a2.00 2.00 0 1 0 -4.0 0M439.1 564.1a2.00 2.00 0 1 0 4.0 0a2.00 2.00 0 1 0 -4.0 0M447.2 564.2a2.00 2.00 0 1 0 4.0 0a2.00 2.00 0 1 0 -4.0 0M455.7 564.2a2.00 2.00 0 1 0 4.0 0a2.00 2.00 0 1 0 -4.0 0M463.8 564.3a2.00 2.00 0 1 0 4.0 0a2.00 2.00 0 1 0 -4.0 0M472.0 564.3a2.00 2.00 0 1 0 4.0 0a2.00 2.00 0 1 0 -4.0 0M480.1 564.4a2.00 2.00 0 1 0 4.0 0a2.00 2.00 0 1 0 -4.0 0M488.6 566.1a2.00 2.00 0 1 0 4.0 0a2.00 2.00 0 1 0 -4.0 0M496.7 567.9a2.00 2.00 0 1 0 4.0 0a2.00 2.00 0 1 0 -4.0 0" fill="#d77cf5" stroke="#a832e6" stroke-width="0.7"/>
<path d="M342.4 545.0L350.5 564.6L359.0 579.2L367.1 586.5L375.3 590.0L383.4 593.0L391.9 595.9L420.4 599.0L498.7 602.0" fill="none" stroke="#dc1e32" stroke-width="1.35" stroke-linejoin="round"/>
<path d="M344.8 545.0l-4.2 -2.4v4.7zM352.9 564.6l-4.2 -2.4v4.7zM361.4 579.2l-4.2 -2.4v4.7zM369.5 586.5l-4.2 -2.4v4.7zM377.6 590.0l-4.2 -2.4v4.7zM385.8 593.0l-4.2 -2.4v4.7zM394.2 595.9l-4.2 -2.4v4.7zM402.4 596.8l-4.2 -2.4v4.7zM410.5 597.7l-4.2 -2.4v4.7zM418.7 598.6l-4.2 -2.4v4.7zM427.1 599.2l-4.2 -2.4v4.7zM435.3 599.5l-4.2 -2.4v4.7zM443.4 599.8l-4.2 -2.4v4.7zM451.6 600.1l-4.2 -2.4v4.7zM460.0 600.4l-4.2 -2.4v4.7zM468.2 600.7l-4.2 -2.4v4.7zM476.3 601.1l-4.2 -2.4v4.7zM484.4 601.4l-4.2 -2.4v4.7zM492.9 601.7l-4.2 -2.4v4.7zM501.1 602.0l-4.2 -2.4v4.7z" fill="#dc1e32"/>
<path d="M342.4 530.8L350.5 565.4L359.0 581.4L367.1 584.3L375.3 589.4L383.4 593.7L404.7 600.0L436.1 605.0L498.7 608.0" fill="none" stroke="#00e6f0" stroke-width="1.35" stroke-linejoin="round"/>
<path d="M342.4 528.2l0.7 1.4l1.5 -0.1l-0.8 1.3l0.8 1.3l-1.5 -0.1l-0.7 1.3l-0.7 -1.3l-1.5 0.1l0.8 -1.3l-0.8 -1.3l1.5 0.1zM350.5 562.9l0.7 1.3l1.6 -0.1l-0.9 1.3l0.9 1.3l-1.6 -0.1l-0.7 1.3l-0.7 -1.3l-1.5 0.1l0.8 -1.3l-0.8 -1.3l1.5 0.1zM359 578.9l0.7 1.3l1.5 -0.1l-0.8 1.3l0.8 1.3l-1.5 -0.1l-0.7 1.3l-0.7 -1.3l-1.5 0.1l0.8 -1.3l-0.8 -1.3l1.5 0.1zM367.1 581.8l0.7 1.3l1.6 -0.1l-0.9 1.3l0.9 1.3l-1.6 -0.1l-0.7 1.3l-0.7 -1.3l-1.5 0.1l0.8 -1.3l-0.8 -1.3l1.5 0.1zM375.3 586.9l0.7 1.3l1.5 -0.1l-0.8 1.3l0.8 1.3l-1.5 -0.1l-0.7 1.3l-0.7 -1.3l-1.5 0.1l0.8 -1.3l-0.8 -1.3l1.5 0.1zM383.4 591.2l0.7 1.3l1.5 -0.1l-0.8 1.3l0.8 1.3l-1.5 -0.1l-0.7 1.3l-0.7 -1.3l-1.5 0.1l0.8 -1.3l-0.8 -1.3l1.5 0.1zM391.9 593.7l0.7 1.3l1.5 -0.1l-0.8 1.3l0.8 1.3l-1.5 -0.1l-0.7 1.4l-0.7 -1.4l-1.5 0.1l0.8 -1.3l-0.8 -1.3l1.5 0.1zM400 596.1l0.7 1.3l1.5 -0.1l-0.8 1.3l0.8 1.3l-1.5 -0.1l-0.7 1.4l-0.7 -1.4l-1.5 0.1l0.8 -1.3l-0.8 -1.3l1.5 0.1zM408.2 598.0l0.7 1.3l1.5 0.0l-0.8 1.2l0.8 1.3l-1.5 0.0l-0.7 1.3l-0.7 -1.3l-1.5 0.0l0.8 -1.3l-0.8 -1.2l1.5 0.0zM416.3 599.3l0.7 1.3l1.5 0.0l-0.8 1.3l0.8 1.2l-1.5 0.0l-0.7 1.3l-0.7 -1.3l-1.5 0.0l0.8 -1.2l-0.8 -1.3l1.5 0.0zM424.8 600.7l0.7 1.3l1.5 -0.1l-0.8 1.3l0.8 1.3l-1.5 -0.1l-0.7 1.4l-0.7 -1.4l-1.5 0.1l0.8 -1.3l-0.8 -1.3l1.5 0.1zM432.9 602.0l0.7 1.3l1.5 -0.1l-0.8 1.3l0.8 1.3l-1.5 -0.1l-0.7 1.3l-0.7 -1.3l-1.5 0.1l0.8 -1.3l-0.8 -1.3l1.5 0.1zM441.1 602.7l0.7 1.3l1.5 0.0l-0.8 1.2l0.8 1.3l-1.5 0.0l-0.7 1.3l-0.7 -1.3l-1.5 0.0l0.8 -1.3l-0.8 -1.2l1.5 0.0zM449.2 603.1l0.7 1.3l1.5 0.0l-0.8 1.2l0.8 1.3l-1.5 -0.1l-0.7 1.4l-0.7 -1.4l-1.5 0.1l0.8 -1.3l-0.8 -1.2l1.5 0.0zM457.7 603.5l0.7 1.3l1.5 0.0l-0.8 1.2l0.8 1.3l-1.5 -0.1l-0.7 1.4l-0.7 -1.4l-1.5 0.1l0.8 -1.3l-0.8 -1.2l1.5 0.0zM465.8 603.9l0.7 1.3l1.5 -0.1l-0.8 1.3l0.8 1.3l-1.5 -0.1l-0.7 1.4l-0.7 -1.4l-1.5 0.1l0.8 -1.3l-0.8 -1.3l1.5 0.1zM474 604.3l0.7 1.3l1.5 -0.1l-0.8 1.3l0.8 1.3l-1.5 -0.1l-0.7 1.4l-0.7 -1.4l-1.6 0.1l0.9 -1.3l-0.9 -1.3l1.6 0.1zM482.1 604.7l0.7 1.3l1.5 -0.1l-0.8 1.3l0.8 1.3l-1.5 -0.1l-0.7 1.4l-0.7 -1.4l-1.5 0.1l0.8 -1.3l-0.8 -1.3l1.5 0.1zM490.6 605.1l0.7 1.3l1.5 -0.1l-0.8 1.3l0.8 1.3l-1.5 -0.1l-0.7 1.4l-0.7 -1.4l-1.6 0.1l0.9 -1.3l-0.9 -1.3l1.6 0.1zM498.7 605.5l0.7 1.3l1.5 -0.1l-0.8 1.3l0.8 1.3l-1.5 -0.1l-0.7 1.3l-0.7 -1.3l-1.5 0.1l0.8 -1.3l-0.8 -1.3l1.5 0.1z" fill="#00e6f0"/>
<path d="M342.4 545.0L345.2 600.0L351.5 611.9L498.7 611.9" fill="none" stroke="#e6641e" stroke-width="1.35" stroke-linejoin="round"/>
<path d="M342.4 542.6l2.4 4.2h-4.7zM350.5 607.8l2.4 4.2h-4.7zM359.0 609.5l2.4 4.2h-4.7zM367.1 609.5l2.4 4.2h-4.7zM375.3 609.5l2.4 4.2h-4.7zM383.4 609.5l2.4 4.2h-4.7zM391.9 609.5l2.4 4.2h-4.7zM400.0 609.5l2.4 4.2h-4.7zM408.2 609.5l2.4 4.2h-4.7zM416.3 609.5l2.4 4.2h-4.7zM424.8 609.5l2.4 4.2h-4.7zM432.9 609.5l2.4 4.2h-4.7zM441.1 609.5l2.4 4.2h-4.7zM449.2 609.5l2.4 4.2h-4.7zM457.7 609.5l2.4 4.2h-4.7zM465.8 609.5l2.4 4.2h-4.7zM474.0 609.5l2.4 4.2h-4.7zM482.1 609.5l2.4 4.2h-4.7zM490.6 609.5l2.4 4.2h-4.7zM498.7 609.5l2.4 4.2h-4.7z" fill="#e6641e"/>
<path d="M342.4 545.0L350.5 578.5L359.0 585.0L367.1 590.0L389.1 596.0L436.1 600.0L498.7 605.3" fill="none" stroke="#1ea096" stroke-width="1.35" stroke-linejoin="round"/>
<path d="M340.0 545.0l4.2 -2.4v4.7zM348.2 578.5l4.2 -2.4v4.7zM356.7 585.0l4.2 -2.4v4.7zM364.8 590.0l4.2 -2.4v4.7zM372.9 592.2l4.2 -2.4v4.7zM381.1 594.5l4.2 -2.4v4.7zM389.5 596.2l4.2 -2.4v4.7zM397.7 596.9l4.2 -2.4v4.7zM405.8 597.6l4.2 -2.4v4.7zM414.0 598.3l4.2 -2.4v4.7zM422.4 599.0l4.2 -2.4v4.7zM430.6 599.7l4.2 -2.4v4.7zM438.7 600.4l4.2 -2.4v4.7zM446.9 601.1l4.2 -2.4v4.7zM455.3 601.8l4.2 -2.4v4.7zM463.5 602.5l4.2 -2.4v4.7zM471.6 603.2l4.2 -2.4v4.7zM479.7 603.9l4.2 -2.4v4.7zM488.2 604.6l4.2 -2.4v4.7zM496.3 605.3l4.2 -2.4v4.7z" fill="#1ea096"/>
<path d="M342.4 560.0L350.5 594.5L359.0 600.3L367.1 604.6L375.3 607.5L404.7 610.0L498.7 611.0" fill="none" stroke="#7846dc" stroke-width="1.35" stroke-linejoin="round"/>
<path d="M342.4 558.0l1.7 1.0l0 2.0l-1.7 1.0l-1.7 -1.0l0 -2.0zM350.5 592.5l1.7 1.0l0 2.0l-1.7 1.0l-1.6 -1.0l0 -2.0zM359 598.3l1.7 1.0l0 2.0l-1.7 0.9l-1.7 -0.9l0 -2.0zM367.1 602.6l1.7 1.0l0 2.0l-1.7 1.0l-1.6 -1.0l0 -2.0zM375.3 605.5l1.7 1.0l0 2.0l-1.7 1.0l-1.7 -1.0l0 -2.0zM383.4 606.2l1.7 1.0l0 2.0l-1.7 0.9l-1.7 -0.9l0 -2.0zM391.9 607.0l1.7 0.9l0 2.0l-1.7 1.0l-1.7 -1.0l0 -2.0zM400 607.7l1.7 0.9l0 2.0l-1.7 1.0l-1.7 -1.0l0 -2.0zM408.2 608.1l1.7 1.0l0 1.9l-1.7 1.0l-1.7 -1.0l0 -1.9zM416.3 608.2l1.7 0.9l0 2.0l-1.7 1.0l-1.7 -1.0l0 -2.0zM424.8 608.3l1.7 0.9l0 2.0l-1.7 1.0l-1.7 -1.0l0 -2.0zM432.9 608.3l1.7 1.0l0 2.0l-1.7 0.9l-1.7 -0.9l0 -2.0zM441.1 608.4l1.7 1.0l0 2.0l-1.7 0.9l-1.7 -0.9l0 -2.0zM449.2 608.5l1.7 1.0l0 1.9l-1.7 1.0l-1.7 -1.0l0 -1.9zM457.7 608.6l1.7 1.0l0 1.9l-1.7 1.0l-1.7 -1.0l0 -1.9zM465.8 608.7l1.7 1.0l0 1.9l-1.7 1.0l-1.7 -1.0l0 -1.9zM474 608.8l1.6 1.0l0 1.9l-1.6 1.0l-1.7 -1.0l0 -1.9zM482.1 608.9l1.7 0.9l0 2.0l-1.7 1.0l-1.7 -1.0l0 -2.0zM490.6 609.0l1.6 0.9l0 2.0l-1.6 1.0l-1.7 -1.0l0 -2.0zM498.7 609.0l1.7 1.0l0 2.0l-1.7 1.0l-1.7 -1.0l0 -2.0z" fill="#7846dc"/>
<path d="M342.4 512.6L345.2 590.0L359.0 608.3L498.7 610.7" fill="none" stroke="#00f000" stroke-width="1.35" stroke-linejoin="round"/>
<path d="M342.4 515.0l2.4 -4.2h-4.7zM350.5 599.4l2.4 -4.2h-4.7zM359.0 610.6l2.4 -4.2h-4.7zM367.1 610.8l2.4 -4.2h-4.7zM375.3 610.9l2.4 -4.2h-4.7zM383.4 611.1l2.4 -4.2h-4.7zM391.9 611.2l2.4 -4.2h-4.7zM400.0 611.4l2.4 -4.2h-4.7zM408.2 611.5l2.4 -4.2h-4.7zM416.3 611.6l2.4 -4.2h-4.7zM424.8 611.8l2.4 -4.2h-4.7zM432.9 611.9l2.4 -4.2h-4.7zM441.1 612.1l2.4 -4.2h-4.7zM449.2 612.2l2.4 -4.2h-4.7zM457.7 612.3l2.4 -4.2h-4.7zM465.8 612.5l2.4 -4.2h-4.7zM474.0 612.6l2.4 -4.2h-4.7zM482.1 612.8l2.4 -4.2h-4.7zM490.6 612.9l2.4 -4.2h-4.7zM498.7 613.1l2.4 -4.2h-4.7z" fill="#00f000"/>
<path d="M342.4 545.0L350.5 591.5L359.0 595.2L367.1 597.4L375.3 606.0L404.7 609.0L498.7 612.2" fill="none" stroke="#1e8cc8" stroke-width="1.35" stroke-linejoin="round"/>
<path d="M342.4 542.5l0.7 1.3l1.5 -0.1l-0.8 1.3l0.8 1.3l-1.5 -0.1l-0.7 1.3l-0.7 -1.3l-1.5 0.1l0.8 -1.3l-0.8 -1.3l1.5 0.1zM350.5 589.0l0.7 1.3l1.6 -0.1l-0.9 1.3l0.9 1.3l-1.6 -0.1l-0.7 1.3l-0.7 -1.3l-1.5 0.1l0.8 -1.3l-0.8 -1.3l1.5 0.1zM359 592.7l0.7 1.3l1.5 -0.1l-0.8 1.3l0.8 1.3l-1.5 -0.1l-0.7 1.4l-0.7 -1.4l-1.5 0.1l0.8 -1.3l-0.8 -1.3l1.5 0.1zM367.1 594.9l0.7 1.3l1.6 -0.1l-0.9 1.3l0.9 1.3l-1.6 -0.1l-0.7 1.3l-0.7 -1.3l-1.5 0.1l0.8 -1.3l-0.8 -1.3l1.5 0.1zM375.3 603.5l0.7 1.3l1.5 -0.1l-0.8 1.3l0.8 1.3l-1.5 -0.1l-0.7 1.3l-0.7 -1.3l-1.5 0.1l0.8 -1.3l-0.8 -1.3l1.5 0.1zM383.4 604.3l0.7 1.3l1.5 0.0l-0.8 1.2l0.8 1.3l-1.5 -0.1l-0.7 1.4l-0.7 -1.4l-1.5 0.1l0.8 -1.3l-0.8 -1.2l1.5 0.0zM391.9 605.1l0.7 1.4l1.5 -0.1l-0.8 1.3l0.8 1.3l-1.5 -0.1l-0.7 1.3l-0.7 -1.3l-1.5 0.1l0.8 -1.3l-0.8 -1.3l1.5 0.1zM400 606.0l0.7 1.3l1.5 -0.1l-0.8 1.3l0.8 1.3l-1.5 -0.1l-0.7 1.4l-0.7 -1.4l-1.5 0.1l0.8 -1.3l-0.8 -1.3l1.5 0.1zM408.2 606.6l0.7 1.3l1.5 -0.1l-0.8 1.3l0.8 1.3l-1.5 -0.1l-0.7 1.4l-0.7 -1.4l-1.5 0.1l0.8 -1.3l-0.8 -1.3l1.5 0.1zM416.3 606.8l0.7 1.4l1.5 -0.1l-0.8 1.3l0.8 1.3l-1.5 -0.1l-0.7 1.3l-0.7 -1.3l-1.5 0.1l0.8 -1.3l-0.8 -1.3l1.5 0.1zM424.8 607.1l0.7 1.4l1.5 -0.1l-0.8 1.3l0.8 1.3l-1.5 -0.1l-0.7 1.3l-0.7 -1.3l-1.5 0.1l0.8 -1.3l-0.8 -1.3l1.5 0.1zM432.9 607.4l0.7 1.3l1.5 0.0l-0.8 1.3l0.8 1.2l-1.5 0.0l-0.7 1.3l-0.7 -1.3l-1.5 0.0l0.8 -1.2l-0.8 -1.3l1.5 0.0zM441.1 607.7l0.7 1.3l1.5 0.0l-0.8 1.2l0.8 1.3l-1.5 -0.1l-0.7 1.4l-0.7 -1.4l-1.5 0.1l0.8 -1.3l-0.8 -1.2l1.5 0.0zM449.2 608.0l0.7 1.3l1.5 -0.1l-0.8 1.3l0.8 1.3l-1.5 -0.1l-0.7 1.4l-0.7 -1.4l-1.5 0.1l0.8 -1.3l-0.8 -1.3l1.5 0.1zM457.7 608.3l0.7 1.3l1.5 -0.1l-0.8 1.3l0.8 1.3l-1.5 -0.1l-0.7 1.4l-0.7 -1.4l-1.5 0.1l0.8 -1.3l-0.8 -1.3l1.5 0.1zM465.8 608.5l0.7 1.4l1.5 -0.1l-0.8 1.3l0.8 1.3l-1.5 -0.1l-0.7 1.3l-0.7 -1.3l-1.5 0.1l0.8 -1.3l-0.8 -1.3l1.5 0.1zM474 608.8l0.7 1.3l1.5 0.0l-0.8 1.3l0.8 1.2l-1.5 0.0l-0.7 1.3l-0.7 -1.3l-1.6 0.0l0.9 -1.2l-0.9 -1.3l1.6 0.0zM482.1 609.1l0.7 1.3l1.5 0.0l-0.8 1.2l0.8 1.3l-1.5 -0.1l-0.7 1.4l-0.7 -1.4l-1.5 0.1l0.8 -1.3l-0.8 -1.2l1.5 0.0zM490.6 609.4l0.7 1.3l1.5 -0.1l-0.8 1.3l0.8 1.3l-1.5 -0.1l-0.7 1.4l-0.7 -1.4l-1.6 0.1l0.9 -1.3l-0.9 -1.3l1.6 0.1zM498.7 609.7l0.7 1.3l1.5 -0.1l-0.8 1.3l0.8 1.3l-1.5 -0.1l-0.7 1.4l-0.7 -1.4l-1.5 0.1l0.8 -1.3l-0.8 -1.3l1.5 0.1z" fill="#1e8cc8"/>
</g>
<text x="420.55" y="486.70" class="ti" text-anchor="middle">cec28</text>
<text x="420.55" y="628.60" class="lb" text-anchor="middle">Iteration</text>
<text transform="translate(331.60 551.35) rotate(-90)" class="lb" text-anchor="middle">Fitness value</text>
<rect x="451.80" y="492.90" width="43.5" height="87.6" fill="#fff" stroke="#8a8a8a" stroke-width="0.6"/>
<path d="M453.40 496.80H467.40" stroke="#ff0000" stroke-width="1.1"/>
<path d="M458.5 496.8a2.00 2.00 0 1 0 4.0 0a2.00 2.00 0 1 0 -4.0 0" fill="#ff0000"/>
<text x="468.80" y="498.35" class="lg">COA</text>
<path d="M453.40 502.53H467.40" stroke="#0000ff" stroke-width="1.1"/>
<path d="M460.5 500.2l2.4 4.2h-4.7z" fill="#0000ff"/>
<text x="468.80" y="504.08" class="lg">CMRLCCOA</text>
<path d="M453.40 508.26H467.40" stroke="#5aa832" stroke-width="1.1"/>
<path d="M459.4 507.2h2.2v2.2h-2.2z" fill="#3f8c14"/>
<text x="468.80" y="509.81" class="lg">KOA</text>
<path d="M453.40 513.99H467.40" stroke="#f5b82a" stroke-width="1.1"/>
<path d="M458.5 514.0h4.0M460.5 512.0v4.0" stroke="#f5b82a" stroke-width="0.8" fill="none"/>
<text x="468.80" y="515.54" class="lg">SWO</text>
<path d="M453.40 519.72H467.40" stroke="#f06ef0" stroke-width="1.1"/>
<path d="M460.5 522.1l2.4 -4.2h-4.7z" fill="#f06ef0"/>
<text x="468.80" y="521.27" class="lg">GMO</text>
<path d="M453.40 525.45H467.40" stroke="#962828" stroke-width="1.1"/>
<path d="M460.5 523.1l2.3 2.4l-2.3 2.4l-2.3 -2.4z" fill="#962828"/>
<text x="468.80" y="527.00" class="lg">OMA</text>
<path d="M453.40 531.18H467.40" stroke="#f5d214" stroke-width="1.1"/>
<path d="M458.8 529.4h3.5v3.5h-3.5z" fill="#f5d214"/>
<text x="468.80" y="532.73" class="lg">TROA</text>
<path d="M453.40 536.91H467.40" stroke="#b43cf0" stroke-width="1.1"/>
<path d="M458.5 536.9a2.00 2.00 0 1 0 4.0 0a2.00 2.00 0 1 0 -4.0 0" fill="#d77cf5" stroke="#a832e6" stroke-width="0.7"/>
<text x="468.80" y="538.46" class="lg">GO</text>
<path d="M453.40 542.64H467.40" stroke="#dc1e32" stroke-width="1.1"/>
<path d="M462.9 542.6l-4.2 -2.4v4.7z" fill="#dc1e32"/>
<text x="468.80" y="544.19" class="lg">PSO</text>
<path d="M453.40 548.37H467.40" stroke="#00e6f0" stroke-width="1.1"/>
<path d="M460.5 545.8l0.7 1.4l1.5 -0.1l-0.8 1.3l0.8 1.2l-1.5 0.0l-0.7 1.3l-0.7 -1.3l-1.5 0.0l0.8 -1.2l-0.8 -1.3l1.5 0.1z" fill="#00e6f0"/>
<text x="468.80" y="549.92" class="lg">DE</text>
<path d="M453.40 554.10H467.40" stroke="#e6641e" stroke-width="1.1"/>
<path d="M460.5 551.8l2.4 4.2h-4.7z" fill="#e6641e"/>
<text x="468.80" y="555.65" class="lg">SA</text>
<path d="M453.40 559.83H467.40" stroke="#1ea096" stroke-width="1.1"/>
<path d="M458.1 559.8l4.2 -2.4v4.7z" fill="#1ea096"/>
<text x="468.80" y="561.38" class="lg">ABC</text>
<path d="M453.40 565.56H467.40" stroke="#7846dc" stroke-width="1.1"/>
<path d="M460.5 563.6l1.7 1.0l0 1.9l-1.7 1.0l-1.7 -1.0l0 -1.9z" fill="#7846dc"/>
<text x="468.80" y="567.11" class="lg">ISSA</text>
<path d="M453.40 571.29H467.40" stroke="#00f000" stroke-width="1.1"/>
<path d="M460.5 573.6l2.4 -4.2h-4.7z" fill="#00f000"/>
<text x="468.80" y="572.84" class="lg">IGWO</text>
<path d="M453.40 577.02H467.40" stroke="#1e8cc8" stroke-width="1.1"/>
<path d="M460.5 574.5l0.7 1.3l1.5 -0.1l-0.8 1.3l0.8 1.3l-1.5 -0.1l-0.7 1.4l-0.7 -1.4l-1.5 0.1l0.8 -1.3l-0.8 -1.3l1.5 0.1z" fill="#1e8cc8"/>
<text x="468.80" y="578.57" class="lg">EWOA</text>
</svg></body></html>
